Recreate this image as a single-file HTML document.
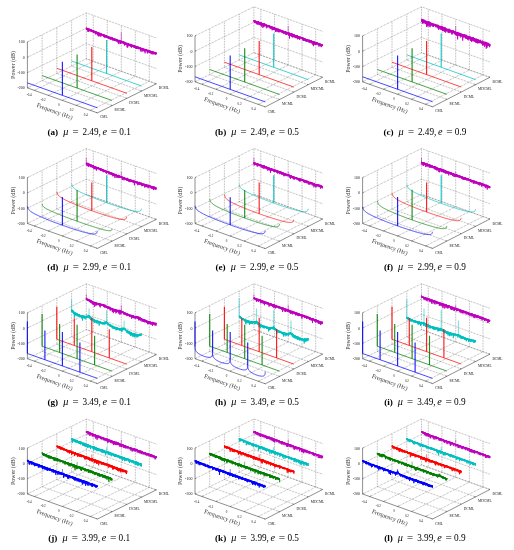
<!DOCTYPE html>
<html><head><meta charset="utf-8"><title>Power spectra</title>
<style>
html,body{margin:0;padding:0;background:#fff;}
svg{display:block;}
.gr{stroke:#6a6a6a;stroke-width:0.6;fill:none;stroke-dasharray:0.7 0.9;}
.ax{stroke:#5e5e5e;stroke-width:0.7;fill:none;}
.dl{fill:none;stroke-width:0.85;stroke-linejoin:round;stroke-opacity:0.85;}
.ds{fill:none;stroke-width:1.15;stroke-opacity:0.88;}
.dsn{fill:none;stroke-width:0.9;stroke-opacity:0.6;}
.dn{fill:none;stroke-width:0.85;stroke-linejoin:round;vector-effect:non-scaling-stroke;}
.tk text{font-family:"Liberation Serif",serif;font-size:4px;fill:#222;}
.tk text.sl{font-size:4.6px;}
.al{font-family:"Liberation Serif",serif;font-size:6px;fill:#333;}
.cap{font-family:"Liberation Serif",serif;font-size:10.2px;fill:#000;}
.eq{font-size:10.5px;}
</style></head><body>
<svg width="514" height="550" viewBox="0 0 514 550">
<defs><filter id="soft" filterUnits="userSpaceOnUse" x="0" y="0" width="514" height="550"><feGaussianBlur stdDeviation="0.3"/></filter></defs>
<rect width="514" height="550" fill="#fff"/>
<g filter="url(#soft)">
<path class="gr" d="M34.4 90.4L93.3 61.3M48.4 95.4L107.3 66.3M62.4 100.4L121.3 71.3M76.4 105.4L135.3 76.3M90.4 110.4L149.3 81.3M42.1 80.6L112.1 105.6M56.8 73.4L126.8 98.3M71.6 66.1L141.6 91M86.3 58.8L156.3 83.8M42.1 80.6L42.1 34.7M56.8 73.4L56.8 27.5M71.6 66.1L71.6 20.2M86.3 58.8L86.3 12.9M27.4 87.9L86.3 58.8M27.4 72.6L86.3 43.5M27.4 57.3L86.3 28.2M27.4 42L86.3 12.9M93.3 61.3L93.3 15.4M107.3 66.3L107.3 20.4M121.3 71.3L121.3 25.4M135.3 76.3L135.3 30.4M149.3 81.3L149.3 35.4M86.3 58.8L156.3 83.8M86.3 43.5L156.3 68.5M86.3 28.2L156.3 53.2M86.3 12.9L156.3 37.9"/>
<path class="ax" d="M27.4 87.9L27.4 42M27.4 87.9L97.4 112.9M97.4 112.9L156.3 83.8M27.4 87.9L28.6 87.3M27.4 72.6L28.6 72M27.4 57.3L28.6 56.7M27.4 42L28.6 41.4M34.4 90.4L35.6 89.8M48.4 95.4L49.6 94.8M62.4 100.4L63.6 99.8M76.4 105.4L77.6 104.8M90.4 110.4L91.6 109.8M97.4 112.9L96.2 112.4M112.1 105.6L110.9 105.1M126.8 98.3L125.6 97.9M141.6 91L140.3 90.6M156.3 83.8L155.1 83.3"/>
<path transform="matrix(0.03891 0.01387 0 -0.153 86.28 28.22)" d="M0 -5 l1 3 1 2 1 -11 1 3 1 13 1 -14 1 3 1 2 1 3 1 -3 1 3 1 1 1 -7 1 8 1 0 1 2 1 1 1 -2 1 -1 1 -3 1 0 1 0 1 1 1 4 1 -4 1 2 1 3 1 -16 1 9 1 3 1 -4 1 7 1 -6 1 -1 1 4 1 -6 1 4 1 -5 1 -3 1 6 1 0 1 4 1 -1 1 4 1 -6 1 -18 1 16 1 0 1 -5 1 -6 1 10 1 9 1 -6 1 2 1 -5 1 -1 1 -4 1 10 1 -1 1 -1 1 3 1 -9 1 4 1 4 1 2 1 -10 1 12 1 -5 1 -14 1 6 1 2 1 8 1 -1 1 5 1 -10 1 1 1 4 1 -1 1 2 1 -5 1 3 1 -5 1 10 1 -13 1 3 1 6 1 -8 1 10 1 -2 1 3 1 -2 1 -2 1 -3 1 7 1 -6 1 3 1 -4 1 6 1 -3 1 3 1 2 1 -13 1 10 1 -2 1 3 1 -2 1 -4 1 -4 1 11 1 -5 1 -2 1 6 1 -7 1 7 1 -3 1 -8 1 1 1 11 1 -3 1 -6 1 4 1 -6 1 2 1 -1 1 10 1 -4 1 -7 1 0 1 2 1 10 1 -1 1 -3 1 -8 1 4 1 3 1 -4 1 0 1 -5 1 13 1 -2 1 2 1 -6 1 0 1 6 1 -5 1 -3 1 5 1 -8 1 5 1 5 1 -4 1 -6 1 9 1 -5 1 5 1 -6 1 3 1 2 1 -1 1 -5 1 -1 1 4 1 7 1 -12 1 5 1 6 1 -13 1 8 1 -3 1 1 1 2 1 -3 1 7 1 -4 1 2 1 -7 1 11 1 -5 1 -10 1 13 1 -1 1 0 1 -4 1 4 1 -2 1 0 1 -9 1 7 1 0 1 2 1 2 1 -3 1 0 1 -2 1 -1 1 2 1 -9 1 8 1 3 1 -1 1 6 1 -10 1 7 1 -3 1 0 1 -2 1 -2 1 4 1 2 1 -3 1 -9 1 3 1 8 1 1 1 -11 1 11 1 0 1 -7 1 7 1 -2 1 1 1 2 1 -9 1 -1 1 10 1 -7 1 3 1 5 1 -3 1 5 1 -15 1 1 1 5 1 4 1 -9 1 -4 1 9 1 0 1 6 1 -6 1 -13 1 9 1 3 1 4 1 1 1 1 1 -3 1 5 1 -8 1 -2 1 5 1 -2 1 5 1 -10 1 7 1 5 1 -5 1 -2 1 -2 1 9 1 -5 1 4 1 0 1 0 1 -11 1 2 1 7 1 -5 1 0 1 5 1 -2 1 -2 1 0 1 -1 1 -5 1 13 1 -3 1 -6 1 1 1 4 1 -1 1 -8 1 -6 1 13 1 4 1 -3 1 1 1 0 1 -1 1 -1 1 1 1 -4 1 1 1 -2 1 -4 1 12 1 -5 1 -14 1 14 1 4 1 -6 1 0 1 6 1 -9 1 -11 1 22 1 -9 1 5 1 0 1 -5 1 -5 1 2 1 13 1 -7 1 -13 1 14 1 2 1 -2 1 2 1 3 1 -3 1 -5 1 2 1 -19 1 21 1 0 1 1 1 -12 1 13 1 -1 1 3 1 -6 1 2 1 3 1 -6 1 -2 1 10 1 -3 1 -1 1 -1 1 0 1 -2 1 -11 1 12 1 2 1 3 1 -9 1 0 1 5 1 -8 1 10 1 -9 1 6 1 4 1 -6 1 -2 1 5 1 2 1 -2 1 -12 1 9 1 -11 1 15 1 -11 1 14 1 -5 1 -3 1 6 1 -2 1 0 1 -12 1 12 1 -18 1 12 1 8 1 -1 1 -3 1 -4 1 7 1 -11 1 12 1 -1 1 -5 1 5 1 -2 1 3 1 -4 1 -3 1 9 1 1 1 -2 1 -8 1 7 1 -3 1 -2 1 4 1 -6 1 -1 1 2 1 4 1 0 1 -5 1 5 1 1 1 -6 1 4 1 -6 1 4 1 4 1 3 1 -3 1 -5 1 4 1 -3 1 -4 1 9 1 0 1 -2 1 -4 1 2 1 2 1 -2 1 2 1 1 1 -4 1 3 1 -5 1 4 1 -1 1 4 1 -7 1 0 1 4 1 -1 1 4 1 -3 1 -2 1 7 1 -7 1 2 1 2 1 -1 1 2 1 -4 1 2 1 -12 1 13 1 -5 1 9 1 -14 1 12 1 1 1 -7 1 -3 1 1 1 -3 1 2 1 1 1 -8 1 14 1 -4 1 0 1 1 1 5 1 -2 1 -4 1 1 1 -3 1 -2 1 2 1 5 1 -3 1 -4 1 2 1 3 1 1 1 -13 1 -2 1 6 1 8 1 -4 1 8 1 -1 1 -7 1 10 1 -10 1 4 1 3 1 -3 1 -5 1 0 1 -3 1 7 1 3 1 4 1 -4 1 -2 1 6 1 -5 1 2 1 -4 1 -1 1 3 1 -3 1 5 1 -2 1 -11 1 12 1 5 1 -7 1 5 1 -6 1 6 1 -5 1 -1 1 -1 1 6 1 -7 1 5 1 2 1 -3 1 1 1 3 1 -13 1 3 1 0 1 6 1 -1 1 1 1 -8 1 6 1 4 1 -2 1 0 1 -4 1 2 1 0 1 -1 1 4 1 -2 1 -8 1 8 1 3 1 -9 1 6 1 -5 1 8 1 -2 1 -3 1 2 1 3 1 -5 1 6 1 1 1 -4 1 -4 1 1 1 5 1 -2 1 -5 1 1 1 -4 1 -3 1 6 1 3 1 0 1 4 1 0 1 1 1 -8 1 8 1 -4 1 -9 1 6 1 2 1 2 1 2 1 -2 1 -11 1 13 1 -15 1 8 1 4 1 -8 1 11 1 -7 1 2 1 1 1 -2 1 -7 1 5 1 1 1 6 1 -8 1 -3 1 4 1 4 1 3 1 -5 1 3 1 -2 1 -4 1 4 1 1 1 -9 1 7 1 6 1 -8 1 -6 1 4 1 3 1 -1 1 10 1 -15 1 3 1 7 1 -1 1 0 1 -2 1 -2 1 4 1 -3 1 6 1 -2 1 -3 1 2 1 1 1 2 1 -7 1 1 1 -4 1 -6 1 16 1 -1 1 -2 1 2 1 0 1 -6 1 8 1 4 1 -4 1 -1 1 -7 1 9 1 -11 1 6 1 -5 1 7 1 -3 1 -1 1 2 1 4 1 -4 1 -3 1 1 1 -1 1 6 1 -1 1 0 1 -1 1 6 1 -7 1 -8 1 8 1 2 1 6 1 -14 1 7 1 0 1 -4 1 -2 1 4 1 -11 1 5 1 9 1 2 1 -1 1 -1 1 -8 1 8 1 -8 1 7 1 -4 1 3 1 -5 1 3 1 4 1 -2 1 4 1 -7 1 3 1 -6 1 5 1 5 1 0 1 -12 1 8 1 5 1 -4 1 2 1 -12 1 8 1 6 1 -8 1 -3 1 6 1 -1 1 -3 1 2 1 4 1 3 1 -14 1 8 1 0 1 2 1 1 1 -3 1 4 1 -8 1 7 1 2 1 0 1 -9 1 7 1 -3 1 -6 1 8 1 -10 1 5 1 0 1 7 1 -1 1 0 1 4 1 -12 1 6 1 -7 1 10 1 -10 1 3 1 3 1 2 1 -2 1 0 1 4 1 -5 1 3 1 -4 1 0 1 2 1 -1 1 -2 1 -5 1 15 1 -5 1 -1 1 -8 1 13 1 -8 1 3 1 0 1 4 1 -5 1 6 1 -6 1 4 1 -7 1 6 1 0 1 -3 1 1 1 -10 1 13 1 -2 1 -2 1 -1 1 6 1 -8 1 1 1 0 1 1 1 -2 1 -1 1 9 1 -2 1 -9 1 13 1 -4 1 2 1 -3 1 -3 1 0 1 2 1 0 1 -1 1 3 1 -2 1 -4 1 2 1 -3 1 5 1 5 1 -4 1 -4 1 0 1 0 1 -9 1 15 1 1 1 -5 1 -2 1 0 1 4 1 -4 1 5 1 0 1 1 1 -1 1 -4 1 -3 1 -8 1 16 1 -3 1 4 1 -1 1 2 1 -2 1 -13 1 5 1 4 1 2 1 2 1 -6 1 -18 1 24 1 -3 1 -5 1 7 1 -7 1 2 1 0 1 4 1 0 1 1 1 1 1 -2 1 -2 1 2 1 2 1 -5 1 2 1 5 1 -1 1 -5 1 2 1 -4 1 2 1 6 1 -2 1 -7 1 8 1 -3 1 -3 1 8 1 -9 1 -5 1 -7 1 15 1 5 1 -2 1 -9 1 11 1 -2 1 -2 1 0 1 -5 1 4 1 -17 1 6 1 14 1 -14 1 14 1 -4 1 2 1 -5 1 1 1 -4 1 8 1 5 1 -4 1 2 1 -8 1 3 1 -4 1 6 1 1 1 -5 1 4 1 -7 1 4 1 -6 1 8 1 4 1 -3 1 -8 1 -1 1 9 1 2 1 -7 1 -1 1 -2 1 9 1 -2 1 -7 1 8 1 -7 1 10 1 -8 1 3 1 1 1 0 1 -11 1 8 1 1 1 4 1 -5 1 2 1 1 1 0 1 1 1 -3 1 6 1 -5 1 2 1 0 1 2 1 -2 1 0 1 6 1 -4 1 -3 1 0 1 -1 1 3 1 -4 1 3 1 1 1 0 1 -5 1 7 1 1 1 -1 1 -9 1 13 1 -11 1 -2 1 2 1 4 1 -4 1 4 1 -2 1 4 1 -2 1 2 1 -7 1 -2 1 6 1 4 1 -2 1 2 1 -12 1 9 1 -2 1 6 1 2 1 -13 1 -6 1 14 1 -1 1 2 1 -3 1 6 1 -23 1 7 1 11 1 0 1 -1 1 2 1 -2 1 3 1 -4 1 -1 1 1 1 2 1 -4 1 1 1 0 1 2 1 4 1 -4 1 -4 1 6 1 3 1 -5 1 2 1 -2 1 -6 1 0 1 7 1 -2 1 -2 1 -7 1 11 1 -5 1 5 1 -3 1 -3 1 2 1 10 1 -11 1 1 1 5 1 1 1 -4 1 4 1 -4 1 -1 1 3 1 -2 1 -6 1 5 1 -3 1 2 1 2 1 0 1 3 1 2 1 -3 1 1 1 -1 1 -2 1 6 1 -3 1 -6 1 -1 1 -4 1 10 1 2 1 -26 1 25 1 1 1 -12 1 6 1 -4 1 7 1 -1 1 1 1 -5 1 -1 1 9 1 -13 1 5 1 -1 1 -17 1 23 1 -1 1 1 1 5 1 -2 1 -4 1 -13 1 12 1 5 1 -3 1 0 1 -3 1 2 1 -8 1 5 1 6 1 -4 1 7 1 -4 1 -1 1 1 1 -6 1 2 1 1 1 1 1 5 1 -13 1 7 1 3 1 -5 1 9 1 -6 1 4 1 -4 1 3 1 3 1 -5 1 -1 1 2 1 0 1 -3 1 5 1 0 1 -4 1 -4 1 3 1 7 1 -1 1 -4 1 -1 1 3 1 1 1 -10 1 10 1 -3 1 2 1 -6 1 -3 1 5 1 2 1 2 1 1 1 -3 1 3 1 0 1 -6 1 -8 1 17 1 -1 1 0 1 -2 1 1 1 -5 1 6 1 -4 1 2 1 0 1 -8 1 0 1 8 1 -3 1 2 1 -2 1 3 1 -14 1 16 1 -4 1 3 1 2 1 1 1 -10 1 -1 1 6 1 0 1 -10 1 -8 1 14 1 4 1 -11 1 13 1 -5 1 3 1 0 1 -3 1 0 1 1 1 1 1 5 1 -1 1 -5 1 -3 1 -5 1 6 1 4 1 -11 1 9 1 -5 1 4 1 -1 1 3 1 -3 1 6 1 -9 1 -2 1 5 1 -4 1 8 1 5 1 -9 1 5 1 -7 1 8 1 -2 1 0 1 -3 1 1 1 3 1 -2 1 -4 1 5 1 -4 1 5 1 1 1 -5 1 3 1 -4 1 5 1 0 1 1 1 0 1 -1 1 2 1 -13 1 12 1 -8 1 9 1 -3 1 1 1 -2 1 -6 1 8 1 0 1 0 1 -8 1 8 1 3 1 -5 1 -9 1 5 1 3 1 -10 1 13 1 -6 1 9 1 -6 1 5 1 -1 1 -7 1 0 1 6 1 -3 1 -2 1 -3 1 6 1 -3 1 7 1 -5 1 5 1 -12 1 9 1 -3 1 7 1 -14 1 14 1 -6 1 -6 1 11 1 -9 1 5 1 1 1 -4 1 6 1 -8 1 -1 1 2 1 3 1 -1 1 6 1 -4 1 -13 1 12 1 -5 1 9 1 -1 1 1 1 -2 1 4 1 -6 1 1 1 0 1 -8 1 9 1 2 1 -12 1 10 1 -3 1 6 1 -16 1 9 1 0 1 3 1 -3 1 9 1 -11 1 -5 1 9 1 6 1 -6 1 6 1 -10 1 4 1 -4 1 3 1 0 1 7 1 -7 1 -2 1 5 1 -5 1 -5 1 10 1 4 1 -5 1 3 1 -2 1 2 1 -3 1 3 1 -4 1 -4 1 6 1 2 1 -4 1 5 1 -2 1 2 1 -10 1 2 1 5 1 -3 1 6 1 -2 1 3 1 -4 1 0 1 6 1 -4 1 -4 1 4 1 1 1 -3 1 0 1 -7 1 9 1 -12 1 13 1 -5 1 -3 1 5 1 1 1 0 1 2 1 -5 1 -6 1 11 1 -12 1 9 1 -6 1 6 1 3 1 -7 1 8 1 -8 1 1 1 -4 1 7 1 0 1 -4 1 3 1 1 1 3 1 -1 1 -6 1 -1 1 6 1 -7 1 0 1 7 1 -6 1 3 1 1 1 -1 1 4 1 -2 1 2 1 -7 1 2 1 4 1 -17 1 13 1 8 1 -7 1 -1 1 7 1 -2 1 2 1 -3 1 -9 1 9 1 -8 1 10 1 -5 1 -1 1 -8 1 -10 1 21 1 2 1 -3 1 4 1 -4 1 -2 1 4 1 -4 1 2 1 -2 1 2 1 5 1 -4 1 -3 1 6 1 -3 1 -4 1 4 1 2 1 -3 1 4 1 -1 1 -6 1 3 1 7 1 -5 1 -3 1 -1 1 -3 1 6 1 -12 1 11 1 2 1 0 1 1 1 -8 1 7 1 1 1 1 1 -6 1 6 1 -5 1 -14 1 20 1 -2 1 1 1 -13 1 8 1 4 1 0 1 1 1 -3 1 2 1 -5 1 1 1 5 1 -4 1 2 1 1 1 1 1 -1 1 -2 1 -7 1 11 1 -6 1 -1 1 1 1 5 1 1 1 -7 1 1 1 6 1 -4 1 -3 1 -3 1 7 1 -2 1 3 1 -7 1 4 1 2 1 0 1 -2 1 -12 1 16 1 -3 1 0 1 -6 1 7 1 5 1 -7 1 6 1 -9 1 2 1 2 1 3 1 1 1 -4 1 1 1 -5 1 8 1 -6 1 6 1 -26 1 22 1 4 1 -3 1 3 1 -4 1 0 1 2 1 -1 1 -3 1 1 1 4 1 -7 1 10 1 -4 1 -4 1 5 1 -4 1 3 1 1 1 -5 1 3 1 4 1 -3 1 3 1 -9 1 3 1 3 1 2 1 -3 1 4 1 -3 1 3 1 -2 1 -5 1 2 1 2 1 -2 1 -4 1 5 1 3 1 -6 1 2 1 0 1 -3 1 1 1 0 1 6 1 1 1 -3 1 -13 1 6 1 10 1 -5 1 1 1 -1 1 -2 1 8 1 -1 1 -1 1 -21 1 22 1 0 1 -9 1 4 1 -6 1 3 1 4 1 -4 1 -6 1 12 1 -1 1 0 1 4 1 -4 1 -3 1 5 1 -3 1 1 1 -5 1 11 1 -5 1 -2 1 0 1 -7 1 7 1 2 1 0 1 3 1 -6 1 2 1 -2 1 3 1 -10 1 5 1 6 1 1 1 -7 1 5 1 -1 1 -2 1 -1 1 3 1 -4 1 -8 1 15 1 -2 1 -3 1 -4 1 9 1 -3 1 -9 1 11 1 2 1 -5 1 2 1 -1 1 1 1 2 1 -3 1 2 1 0 1 3 1 0 1 -13 1 -1 1 5 1 0 1 3 1 5 1 -10 1 -1 1 5 1 -5 1 -3 1 13 1 -4 1 2 1 -4 1 -7 1 15 1 -12 1 4 1 6 1 -5 1 1 1 0 1 1 1 2 1 -3 1 -10 1 -5 1 15 1 5 1 -6 1 -2 1 3 1 1 1 3 1 -3 1 2 1 -2 1 -1 1 -7 1 12 1 -11 1 9 1 1 1 -8 1 5 1 -3 1 -1 1 8 1 -1 1 -9 1 9 1 -4 1 -12 1 16 1 -1 1 1 1 -2 1 -6 1 3 1 7 1 -6 1 -11 1 6 1 8 1 -7 1 10 1 -17 1 9 1 -2 1 8 1 -9 1 13 1 -9 1 6 1 -3 1 -2 1 -3 1 2 1 7 1 -9 1 -7 1 14 1 2 1 -2 1 0 1 -2 1 -2 1 -6 1 12 1 -5 1 3 1 -2 1 -11 1 11 1 1 1 1 1 -4 1 3 1 4 1 -5 1 3 1 2 1 -1 1 -6 1 2 1 2 1 3 1 -10 1 10 1 -4 1 0 1 4 1 -5 1 0 1 0 1 2 1 -4 1 -2 1 7 1 1 1 -3 1 2 1 -1 1 -7 1 5 1 2 1 2 1 -3 1 3 1 -2 1 -2 1 -9 1 5 1 -4 1 8 1 -5 1 10 1 -8 1 10 1 -9 1 -4 1 1 1 4 1 4 1 -1 1 -5 1 0 1 -6 1 7 1 -1 1 -1 1 6 1 0 1 3 1 -9 1 8 1 -3 1 5 1 -11 1 9 1 -1 1 -6" stroke="#bf00bf" class="dn"/><path d="M121.3 41.9L121.3 32.3" stroke="#bf00bf" class="dsn"/>
<path d="M71.6 61L141.6 86" stroke="#00bfbf" class="dl"/><path d="M106.6 73.5L106.6 39.9" stroke="#00bfbf" class="ds"/>
<path d="M56.8 68.3L126.8 93.3" stroke="#ff0000" class="dl"/><path d="M91.8 80.8L91.8 47.1" stroke="#ff0000" class="ds"/>
<path d="M42.1 75.6L112.1 100.5" stroke="#008000" class="dl"/><path d="M77.1 88.1L77.1 54.4" stroke="#008000" class="ds"/>
<path d="M27.4 82.9L97.4 107.8" stroke="#0000ff" class="dl"/><path d="M62.4 95.3L62.4 61.7" stroke="#0000ff" class="ds"/>
<g class="tk"><text x="24.8" y="89.3" text-anchor="end">-200</text><text x="24.8" y="74" text-anchor="end">-100</text><text x="24.8" y="58.7" text-anchor="end">0</text><text x="24.8" y="43.4" text-anchor="end">100</text><text transform="translate(31.7 96.4) scale(0.8 1)" text-anchor="end">-0.4</text><text transform="translate(45.7 101.39) scale(0.8 1)" text-anchor="end">-0.2</text><text transform="translate(59.7 106.38) scale(0.8 1)" text-anchor="end">0</text><text transform="translate(73.7 111.37) scale(0.8 1)" text-anchor="end">0.2</text><text transform="translate(87.7 116.36) scale(0.8 1)" text-anchor="end">0.4</text><text class="sl" transform="translate(99.9 118.45) scale(0.78 1)">CML</text><text class="sl" transform="translate(114.62 111.18) scale(0.78 1)">MCML</text><text class="sl" transform="translate(129.34 103.91) scale(0.78 1)">DCML</text><text class="sl" transform="translate(144.06 96.64) scale(0.78 1)">MDCML</text><text class="sl" transform="translate(158.78 89.37) scale(0.78 1)">BCML</text></g>
<text class="al" transform="translate(14.8 65) rotate(-90)" text-anchor="middle">Power (dB)</text>
<text class="al" transform="translate(54 113.2) rotate(19.7)" text-anchor="middle">Frequency (Hz)</text>
<text class="cap" y="134.5"><tspan x="47.44" font-weight="bold" font-size="9.2">(a)</tspan><tspan x="63.16" font-style="italic">μ</tspan><tspan x="72.46" class="eq" textLength="6.1" lengthAdjust="spacingAndGlyphs">=</tspan><tspan x="82.46" textLength="18.4" lengthAdjust="spacingAndGlyphs">2.49,</tspan><tspan x="102.46" font-style="italic">e</tspan><tspan x="110.76" class="eq" textLength="6.4" lengthAdjust="spacingAndGlyphs">=</tspan><tspan x="119.36" textLength="11.6" lengthAdjust="spacingAndGlyphs">0.1</tspan></text>
<path class="gr" d="M202 84.3L260.8 55.2M216.1 89.3L274.5 60.1M230.2 94.3L288.2 65M244.2 99.4L302 69.9M258.3 104.4L315.7 74.9M209.7 74.5L279.6 99.5M224.4 67.3L293.9 92.1M239.2 60L308.3 84.7M253.9 52.7L322.6 77.3M209.7 74.5L209.7 28.6M224.4 67.3L224.4 21.4M239.2 60L239.2 14.1M253.9 52.7L253.9 6.8M195 81.8L253.9 52.7M195 66.5L253.9 37.4M195 51.2L253.9 22.1M195 35.9L253.9 6.8M260.8 55.2L260.8 9.3M274.5 60.1L274.5 14.2M288.2 65L288.2 19.1M302 69.9L302 24M315.7 74.9L315.7 29M253.9 52.7L322.6 77.3M253.9 37.4L322.6 62M253.9 22.1L322.6 46.7M253.9 6.8L322.6 31.4"/>
<path class="ax" d="M195 81.8L195 35.9M195 81.8L265.3 106.9M265.3 106.9L322.6 77.3M195 81.8L196.2 81.2M195 66.5L196.2 65.9M195 51.2L196.2 50.6M195 35.9L196.2 35.3M202 84.3L203.2 83.7M216.1 89.3L217.3 88.8M230.2 94.3L231.3 93.8M244.2 99.4L245.4 98.8M258.3 104.4L259.4 103.8M265.3 106.9L264.1 106.5M279.6 99.5L278.4 99.1M293.9 92.1L292.7 91.7M308.3 84.7L307 84.3M322.6 77.3L321.4 76.9"/>
<path transform="matrix(0.03819 0.01367 0 -0.153 253.88 22.12)" d="M0 13 l1 -6 1 2 1 -4 1 6 1 1 1 -7 1 5 1 -4 1 6 1 2 1 -2 1 -14 1 8 1 4 1 -3 1 7 1 -9 1 3 1 -10 1 11 1 -1 1 -4 1 8 1 -7 1 6 1 -1 1 -13 1 9 1 5 1 -10 1 0 1 6 1 -2 1 6 1 -1 1 -2 1 2 1 -4 1 8 1 -2 1 0 1 -6 1 1 1 3 1 -4 1 -6 1 7 1 1 1 4 1 0 1 -1 1 -3 1 4 1 0 1 -4 1 0 1 -5 1 6 1 -1 1 -2 1 -11 1 12 1 -9 1 11 1 3 1 -1 1 -7 1 10 1 -10 1 6 1 -2 1 -1 1 5 1 -7 1 2 1 -15 1 15 1 5 1 -1 1 3 1 -12 1 7 1 2 1 1 1 -5 1 3 1 -1 1 5 1 -12 1 10 1 -8 1 -2 1 5 1 -2 1 9 1 -12 1 6 1 -15 1 13 1 -4 1 10 1 0 1 3 1 -17 1 17 1 -1 1 -9 1 8 1 -11 1 5 1 0 1 4 1 -5 1 -9 1 7 1 9 1 -4 1 -3 1 -2 1 3 1 -4 1 9 1 1 1 -4 1 -5 1 6 1 3 1 -3 1 0 1 -1 1 6 1 -6 1 -14 1 14 1 -2 1 -7 1 5 1 -4 1 10 1 0 1 1 1 -19 1 19 1 -16 1 8 1 9 1 -5 1 0 1 -2 1 6 1 -3 1 2 1 -15 1 13 1 4 1 -5 1 0 1 1 1 -3 1 7 1 0 1 -7 1 -2 1 1 1 3 1 -2 1 -5 1 4 1 5 1 3 1 -3 1 -8 1 -3 1 1 1 5 1 -5 1 10 1 2 1 -1 1 -13 1 2 1 12 1 -1 1 -19 1 1 1 18 1 0 1 -5 1 -1 1 2 1 3 1 -8 1 2 1 -3 1 12 1 -4 1 5 1 -6 1 8 1 -28 1 19 1 -4 1 -1 1 8 1 1 1 -4 1 4 1 -4 1 3 1 2 1 1 1 -9 1 3 1 -6 1 7 1 -4 1 2 1 1 1 1 1 -3 1 -2 1 8 1 -5 1 2 1 -1 1 4 1 -10 1 6 1 3 1 -8 1 6 1 -2 1 7 1 -29 1 23 1 -4 1 5 1 3 1 -5 1 4 1 -5 1 1 1 -6 1 3 1 -1 1 4 1 5 1 -8 1 7 1 0 1 1 1 -21 1 14 1 6 1 0 1 -9 1 7 1 8 1 -12 1 10 1 -11 1 10 1 -13 1 10 1 -3 1 3 1 0 1 -2 1 1 1 5 1 -5 1 -1 1 -3 1 8 1 -11 1 13 1 -10 1 7 1 -16 1 6 1 3 1 9 1 -5 1 5 1 -9 1 4 1 6 1 -5 1 -5 1 2 1 -2 1 4 1 5 1 -3 1 -1 1 3 1 -11 1 12 1 -3 1 -7 1 3 1 1 1 -2 1 6 1 -6 1 1 1 6 1 -9 1 9 1 0 1 -10 1 5 1 -4 1 -1 1 11 1 -8 1 7 1 -6 1 -4 1 1 1 4 1 0 1 -8 1 2 1 1 1 7 1 -21 1 17 1 4 1 0 1 0 1 3 1 -1 1 -8 1 1 1 4 1 3 1 -5 1 -2 1 2 1 -9 1 12 1 0 1 1 1 -6 1 5 1 -3 1 0 1 -2 1 -2 1 6 1 4 1 -15 1 10 1 3 1 0 1 -3 1 -1 1 -3 1 9 1 -10 1 8 1 0 1 -11 1 14 1 -4 1 1 1 -4 1 2 1 -10 1 8 1 2 1 -6 1 4 1 -4 1 9 1 -3 1 -2 1 -2 1 7 1 -3 1 1 1 2 1 1 1 -6 1 3 1 5 1 -6 1 -3 1 -3 1 9 1 -9 1 7 1 -2 1 4 1 -2 1 -1 1 -6 1 4 1 6 1 -1 1 0 1 2 1 -3 1 -5 1 -3 1 4 1 -5 1 10 1 1 1 -3 1 -3 1 3 1 0 1 4 1 -12 1 9 1 -3 1 1 1 1 1 0 1 -7 1 -7 1 2 1 10 1 1 1 -2 1 -1 1 -4 1 4 1 4 1 4 1 -3 1 -3 1 -2 1 5 1 -3 1 -9 1 11 1 -10 1 8 1 -1 1 -3 1 7 1 -14 1 7 1 6 1 0 1 -6 1 4 1 -1 1 6 1 -14 1 9 1 -2 1 5 1 1 1 -3 1 0 1 1 1 -10 1 -2 1 10 1 -5 1 6 1 2 1 -4 1 -2 1 -4 1 4 1 6 1 -5 1 1 1 -1 1 4 1 -1 1 0 1 -20 1 13 1 -1 1 3 1 5 1 1 1 -7 1 12 1 -6 1 -7 1 8 1 1 1 -6 1 -6 1 10 1 1 1 -3 1 1 1 -5 1 -8 1 14 1 -6 1 8 1 -3 1 1 1 -15 1 12 1 6 1 -11 1 5 1 -9 1 15 1 3 1 -7 1 -2 1 1 1 6 1 1 1 -5 1 -8 1 -4 1 2 1 10 1 3 1 1 1 -9 1 7 1 0 1 2 1 -1 1 -4 1 -3 1 8 1 -8 1 -8 1 15 1 -9 1 2 1 5 1 -6 1 8 1 -4 1 2 1 -2 1 -5 1 8 1 -7 1 7 1 1 1 -7 1 8 1 -4 1 -2 1 -2 1 4 1 -5 1 -1 1 2 1 5 1 -14 1 15 1 2 1 -6 1 4 1 -5 1 5 1 -5 1 6 1 -5 1 0 1 -1 1 -19 1 15 1 -3 1 -3 1 12 1 -8 1 9 1 -4 1 7 1 -13 1 6 1 4 1 2 1 -20 1 23 1 -11 1 7 1 -2 1 3 1 -3 1 0 1 -4 1 -4 1 13 1 -2 1 -4 1 -4 1 4 1 2 1 -3 1 2 1 -1 1 3 1 3 1 -14 1 4 1 0 1 1 1 6 1 -7 1 -13 1 18 1 1 1 3 1 -3 1 -2 1 -3 1 -2 1 -1 1 -1 1 8 1 4 1 -4 1 2 1 1 1 -3 1 -4 1 7 1 -12 1 8 1 -6 1 6 1 -3 1 4 1 -2 1 -3 1 4 1 -3 1 4 1 -13 1 16 1 -15 1 13 1 -18 1 24 1 -10 1 4 1 -7 1 4 1 -4 1 10 1 -7 1 0 1 4 1 -8 1 10 1 -6 1 -4 1 0 1 9 1 -7 1 -7 1 10 1 -1 1 1 1 -3 1 5 1 -15 1 6 1 10 1 3 1 -8 1 -4 1 13 1 -11 1 -5 1 14 1 -3 1 -1 1 -1 1 0 1 4 1 5 1 -10 1 -2 1 7 1 -2 1 -8 1 3 1 0 1 7 1 -6 1 3 1 0 1 -2 1 0 1 3 1 -1 1 4 1 -1 1 -12 1 1 1 10 1 3 1 -6 1 -2 1 4 1 5 1 -7 1 -2 1 -2 1 4 1 6 1 -5 1 5 1 -2 1 -13 1 12 1 -1 1 1 1 2 1 -1 1 -7 1 5 1 1 1 -3 1 4 1 -5 1 2 1 0 1 -2 1 4 1 -3 1 1 1 -4 1 6 1 -1 1 2 1 -14 1 8 1 7 1 -3 1 -3 1 4 1 -5 1 1 1 3 1 -1 1 -12 1 16 1 -7 1 0 1 3 1 3 1 -2 1 2 1 -1 1 -2 1 4 1 -4 1 -10 1 4 1 -1 1 11 1 -9 1 -2 1 9 1 1 1 -2 1 2 1 -2 1 3 1 -5 1 7 1 -13 1 -2 1 7 1 5 1 -5 1 6 1 -11 1 -3 1 8 1 4 1 -2 1 -15 1 14 1 -2 1 7 1 -1 1 -7 1 9 1 -13 1 11 1 -10 1 10 1 -13 1 10 1 1 1 -7 1 7 1 -4 1 8 1 -8 1 3 1 1 1 3 1 -11 1 7 1 -2 1 -4 1 4 1 1 1 4 1 0 1 -7 1 10 1 -15 1 8 1 -3 1 3 1 1 1 0 1 -4 1 -4 1 13 1 -6 1 -2 1 6 1 -4 1 3 1 -9 1 0 1 6 1 9 1 -4 1 1 1 -7 1 -8 1 5 1 3 1 2 1 -9 1 -7 1 12 1 1 1 6 1 -16 1 12 1 4 1 3 1 -15 1 3 1 8 1 -2 1 -3 1 -9 1 7 1 -6 1 8 1 3 1 -3 1 8 1 -3 1 -6 1 7 1 -2 1 -1 1 3 1 -8 1 8 1 -2 1 -2 1 0 1 4 1 -5 1 5 1 2 1 -10 1 6 1 1 1 -5 1 4 1 3 1 -1 1 -1 1 -7 1 9 1 -7 1 3 1 -3 1 4 1 1 1 -7 1 5 1 3 1 1 1 -9 1 2 1 -1 1 -4 1 10 1 -11 1 6 1 9 1 -2 1 -10 1 3 1 -1 1 -10 1 18 1 0 1 -4 1 -4 1 -9 1 18 1 -3 1 -4 1 9 1 -9 1 4 1 -8 1 11 1 -2 1 -2 1 -4 1 10 1 -9 1 3 1 -3 1 2 1 0 1 2 1 -10 1 -23 1 31 1 -7 1 11 1 0 1 -4 1 3 1 -2 1 1 1 -8 1 0 1 0 1 5 1 5 1 -4 1 -10 1 13 1 2 1 -15 1 13 1 -14 1 14 1 3 1 -5 1 -5 1 8 1 -5 1 -1 1 3 1 0 1 -1 1 2 1 1 1 -3 1 -6 1 -2 1 7 1 -1 1 7 1 -8 1 1 1 10 1 -4 1 -2 1 -5 1 8 1 -3 1 -16 1 16 1 3 1 3 1 -13 1 4 1 3 1 3 1 -8 1 -3 1 -2 1 -5 1 12 1 -5 1 8 1 -3 1 2 1 5 1 -10 1 -2 1 14 1 -7 1 1 1 -4 1 6 1 -3 1 1 1 -15 1 6 1 1 1 5 1 4 1 -1 1 4 1 -2 1 -4 1 -5 1 12 1 -2 1 -21 1 -2 1 19 1 1 1 1 1 -10 1 6 1 5 1 -14 1 4 1 12 1 -3 1 -7 1 -2 1 4 1 4 1 4 1 -4 1 -9 1 10 1 -3 1 1 1 -5 1 0 1 -4 1 11 1 1 1 -7 1 6 1 -2 1 2 1 -2 1 1 1 -12 1 11 1 3 1 5 1 -8 1 -3 1 1 1 -2 1 8 1 -8 1 5 1 -3 1 2 1 0 1 -2 1 2 1 4 1 -5 1 -1 1 -5 1 4 1 -2 1 2 1 -10 1 11 1 4 1 -14 1 8 1 6 1 -2 1 1 1 -12 1 11 1 0 1 0 1 2 1 -3 1 -8 1 14 1 -8 1 5 1 -9 1 7 1 -9 1 1 1 2 1 3 1 -2 1 3 1 -10 1 -3 1 13 1 5 1 -3 1 -1 1 5 1 -9 1 8 1 -7 1 -4 1 -2 1 4 1 6 1 2 1 -4 1 -1 1 3 1 -3 1 -7 1 14 1 -6 1 0 1 1 1 1 1 1 1 -7 1 2 1 1 1 8 1 -6 1 -4 1 5 1 7 1 -20 1 19 1 -7 1 5 1 -3 1 -5 1 2 1 -1 1 -7 1 12 1 0 1 3 1 -23 1 12 1 -1 1 6 1 4 1 -6 1 2 1 1 1 4 1 -2 1 -13 1 5 1 2 1 4 1 0 1 -4 1 1 1 -9 1 16 1 -7 1 2 1 1 1 1 1 -1 1 -1 1 2 1 -14 1 18 1 -16 1 11 1 -4 1 8 1 -13 1 5 1 -5 1 2 1 7 1 3 1 -1 1 -1 1 -4 1 -8 1 11 1 1 1 1 1 -4 1 3 1 -5 1 -1 1 -13 1 2 1 17 1 -2 1 -7 1 7 1 -2 1 7 1 -8 1 10 1 -4 1 -2 1 -2 1 4 1 3 1 -11 1 1 1 4 1 2 1 0 1 -4 1 5 1 -1 1 -4 1 3 1 -2 1 0 1 6 1 1 1 -7 1 3 1 -1 1 0 1 5 1 -4 1 -5 1 3 1 4 1 -4 1 3 1 2 1 -6 1 3 1 -1 1 1 1 -8 1 6 1 3 1 -7 1 0 1 7 1 -4 1 7 1 -11 1 1 1 7 1 -3 1 6 1 -4 1 1 1 -2 1 1 1 -4 1 8 1 -6 1 6 1 -2 1 -8 1 5 1 2 1 -7 1 6 1 -2 1 6 1 -6 1 -4 1 6 1 1 1 -12 1 9 1 -2 1 3 1 3 1 -3 1 -6 1 8 1 -15 1 17 1 -3 1 -1 1 0 1 -2 1 5 1 -10 1 7 1 -7 1 7 1 -3 1 1 1 4 1 -7 1 12 1 -6 1 -15 1 14 1 -5 1 -6 1 4 1 7 1 -3 1 -1 1 1 1 1 1 1 1 -1 1 4 1 -3 1 -3 1 6 1 -15 1 12 1 1 1 1 1 -3 1 -1 1 4 1 -3 1 -1 1 7 1 -10 1 10 1 -10 1 -6 1 14 1 -5 1 2 1 2 1 2 1 -3 1 0 1 2 1 -2 1 -3 1 -3 1 2 1 -3 1 11 1 -5 1 -1 1 2 1 0 1 -11 1 10 1 4 1 -4 1 5 1 -13 1 5 1 6 1 -6 1 1 1 6 1 -1 1 -3 1 -1 1 5 1 -1 1 -5 1 3 1 -1 1 -10 1 10 1 2 1 -8 1 -8 1 13 1 0 1 -8 1 9 1 1 1 -1 1 -1 1 6 1 -3 1 -7 1 9 1 0 1 -8 1 -5 1 9 1 -2 1 7 1 -5 1 3 1 1 1 1 1 -10 1 11 1 -3 1 2 1 -13 1 5 1 1 1 2 1 5 1 -5 1 1 1 -6 1 10 1 -10 1 7 1 1 1 -8 1 0 1 0 1 2 1 2 1 4 1 -3 1 -6 1 9 1 -1 1 -3 1 6 1 -3 1 -2 1 1 1 -3 1 -3 1 -6 1 8 1 4 1 0 1 -11 1 12 1 -10 1 10 1 -7 1 6 1 -3 1 -1 1 5 1 1 1 4 1 -6 1 -2 1 -4 1 7 1 5 1 -8 1 -5 1 -3 1 9 1 5 1 -9 1 3 1 0 1 -2 1 3 1 0 1 4 1 3 1 -9 1 6 1 -15 1 5 1 5 1 0 1 -3 1 10 1 -8 1 -6 1 10 1 0 1 -6 1 7 1 -2 1 4 1 0 1 1 1 -5 1 -5 1 9 1 -5 1 4 1 2 1 -4 1 2 1 -7 1 1 1 -6 1 7 1 3 1 -7 1 9 1 -7 1 4 1 3 1 -1 1 0 1 2 1 -2 1 -4 1 10 1 -7 1 -7 1 5 1 -1 1 5 1 -16 1 19 1 0 1 -7 1 4 1 -3 1 -1 1 0 1 2 1 3 1 -2 1 -1 1 2 1 -5 1 1 1 4 1 -2 1 -9 1 14 1 -14 1 9 1 -1 1 -5 1 9 1 -2 1 -10 1 8 1 5 1 -10 1 9 1 -6 1 0 1 5 1 -5 1 5 1 -5 1 6 1 -11 1 9 1 -19 1 16 1 3 1 -4 1 3 1 -6 1 2 1 1 1 -15 1 15 1 -5 1 7 1 2 1 3 1 -3 1 -28 1 30 1 -14 1 15 1 -3 1 0 1 3 1 -11 1 9 1 -4 1 7 1 2 1 -8 1 -3 1 9 1 -9 1 -3 1 11 1 -12 1 7 1 -2 1 -11 1 8 1 8 1 2 1 -9 1 2 1 -5 1 10 1 -8 1 -8 1 14 1 -2 1 -9 1 15 1 -2 1 -1 1 -1 1 2 1 -6 1 -6 1 2 1 5 1 3 1 1 1 0 1 -3 1 8 1 -6 1 -7 1 10 1 -2 1 -5 1 3 1 3 1 -9 1 11 1 -6 1 -12 1 13 1 7 1 -3 1 -8 1 5 1 -2 1 1 1 -1 1 4 1 -5 1 4 1 3 1 -6 1 4 1 1 1 -9 1 5 1 -3 1 3 1 -1 1 0 1 -1 1 1 1 3 1 3 1 -6 1 -8 1 3 1 10 1 -11 1 4 1 12 1 -5 1 -6 1 -2 1 6 1 -4 1 7 1 -2 1 -4 1 6 1 3 1 -9 1 -2 1 2 1 -2 1 4 1 3 1 -3 1 -4 1 8 1 -2 1 2 1 -3 1 2 1 -6 1 3 1 -3 1 4 1 -4 1 4 1 -6 1 3 1 8 1 -8 1 4 1 2 1 -4 1 2 1 -4 1 2 1 4 1 -5 1 -4 1 2 1 7 1 1 1 -10 1 0 1 4 1 -3 1 -1 1 -2 1 8 1 -18 1 11 1 8 1 -5 1 4 1 1 1 -3 1 4 1 -2 1 -2 1 -5 1 9 1 0 1 -1 1 -9 1 10 1 -2 1 3 1 -13 1 11 1 -11 1 5 1 -2 1 9 1 -2 1 2 1 -9 1 10 1 -8 1 -1 1 10 1 -8 1 -2 1 -7 1 10 1 -6 1 8 1 -1 1 5 1 -2 1 -1 1 -7 1 4 1 -1 1 1 1 3 1 -7 1 9 1 3 1 -3 1 -10 1 -1 1 5 1 -1 1 6 1 -1 1 3 1 -8 1 8 1 1 1 -3 1 -9 1 2 1 -10 1 15 1 -2 1 3 1 3 1 -9 1 7 1 -2 1 2 1 -8 1 7 1 1 1 -1 1 -6 1 10 1 -8 1 2 1 1 1 -4 1 4 1 1 1 -1 1 -4 1 1 1 3 1 1 1 -3 1 0 1 7 1 -2 1 -8 1 9 1 -5 1 2 1 -6" stroke="#bf00bf" class="dn"/><path d="M288.2 33.5L288.2 26" stroke="#bf00bf" class="dsn"/>
<path d="M239.2 54.9L308.3 79.7" stroke="#00bfbf" class="dl"/><path d="M273.7 67.3L273.7 33.6" stroke="#00bfbf" class="ds"/>
<path d="M224.4 62.2L293.9 87.1" stroke="#ff0000" class="dl"/><path d="M259.2 74.6L259.2 41" stroke="#ff0000" class="ds"/>
<path d="M209.7 69.5L279.6 94.5" stroke="#008000" class="dl"/><path d="M244.7 82L244.7 48.3" stroke="#008000" class="ds"/>
<path d="M195 76.8L265.3 101.9" stroke="#0000ff" class="dl"/><path d="M230.2 89.3L230.2 55.6" stroke="#0000ff" class="ds"/>
<g class="tk"><text x="192.4" y="83.2" text-anchor="end">-200</text><text x="192.4" y="67.9" text-anchor="end">-100</text><text x="192.4" y="52.6" text-anchor="end">0</text><text x="192.4" y="37.3" text-anchor="end">100</text><text transform="translate(199.33 90.31) scale(0.8 1)" text-anchor="end">-0.4</text><text transform="translate(213.39 95.33) scale(0.8 1)" text-anchor="end">-0.2</text><text transform="translate(227.45 100.35) scale(0.8 1)" text-anchor="end">0</text><text transform="translate(241.51 105.37) scale(0.8 1)" text-anchor="end">0.2</text><text transform="translate(255.57 110.39) scale(0.8 1)" text-anchor="end">0.4</text><text class="sl" transform="translate(267.8 112.5) scale(0.78 1)">CML</text><text class="sl" transform="translate(282.12 105.11) scale(0.78 1)">MCML</text><text class="sl" transform="translate(296.44 97.71) scale(0.78 1)">DCML</text><text class="sl" transform="translate(310.76 90.31) scale(0.78 1)">MDCML</text><text class="sl" transform="translate(325.08 82.92) scale(0.78 1)">BCML</text></g>
<text class="al" transform="translate(182.4 58.8) rotate(-90)" text-anchor="middle">Power (dB)</text>
<text class="al" transform="translate(221.6 107.1) rotate(19.7)" text-anchor="middle">Frequency (Hz)</text>
<text class="cap" y="134.5"><tspan x="214.98" font-weight="bold" font-size="9.2">(b)</tspan><tspan x="231.22" font-style="italic">μ</tspan><tspan x="240.52" class="eq" textLength="6.1" lengthAdjust="spacingAndGlyphs">=</tspan><tspan x="250.52" textLength="18.4" lengthAdjust="spacingAndGlyphs">2.49,</tspan><tspan x="270.52" font-style="italic">e</tspan><tspan x="278.82" class="eq" textLength="6.4" lengthAdjust="spacingAndGlyphs">=</tspan><tspan x="287.42" textLength="11.6" lengthAdjust="spacingAndGlyphs">0.5</tspan></text>
<path class="gr" d="M369.6 84.3L428.3 55.2M383.6 89.3L442 60.1M397.6 94.3L455.7 65M411.6 99.3L469.4 69.9M425.6 104.3L483 74.9M377.3 74.5L446.9 99.4M392 67.3L461.2 92M406.8 60L475.6 84.7M421.5 52.7L489.9 77.3M377.3 74.5L377.3 28.6M392 67.3L392 21.4M406.8 60L406.8 14.1M421.5 52.7L421.5 6.8M362.6 81.8L421.5 52.7M362.6 66.5L421.5 37.4M362.6 51.2L421.5 22.1M362.6 35.9L421.5 6.8M428.3 55.2L428.3 9.3M442 60.1L442 14.2M455.7 65L455.7 19.1M469.4 69.9L469.4 24M483 74.9L483 29M421.5 52.7L489.9 77.3M421.5 37.4L489.9 62M421.5 22.1L489.9 46.7M421.5 6.8L489.9 31.4"/>
<path class="ax" d="M362.6 81.8L362.6 35.9M362.6 81.8L432.6 106.8M432.6 106.8L489.9 77.3M362.6 81.8L363.8 81.2M362.6 66.5L363.8 65.9M362.6 51.2L363.8 50.6M362.6 35.9L363.8 35.3M369.6 84.3L370.8 83.7M383.6 89.3L384.8 88.7M397.6 94.3L398.8 93.7M411.6 99.3L412.8 98.7M425.6 104.3L426.8 103.7M432.6 106.8L431.4 106.3M446.9 99.4L445.7 99M461.2 92L460 91.6M475.6 84.7L474.3 84.2M489.9 77.3L488.7 76.9"/>
<path transform="matrix(0.03802 0.01367 0 -0.153 421.48 22.12)" d="M0 9 l1 10 1 -16 1 11 1 -5 1 1 1 1 1 4 1 3 1 -3 1 -9 1 -3 1 10 1 9 1 -8 1 -3 1 2 1 -5 1 6 1 -10 1 12 1 -11 1 -2 1 5 1 0 1 -1 1 14 1 -9 1 -7 1 11 1 -23 1 21 1 5 1 -1 1 -5 1 -4 1 -13 1 23 1 -2 1 -11 1 8 1 6 1 -10 1 4 1 0 1 2 1 1 1 -7 1 -13 1 22 1 -14 1 10 1 -9 1 7 1 6 1 -9 1 -3 1 9 1 -4 1 2 1 -4 1 -3 1 2 1 14 1 -19 1 11 1 -6 1 4 1 -4 1 6 1 2 1 -11 1 9 1 -11 1 -1 1 11 1 -9 1 11 1 -10 1 6 1 2 1 2 1 -2 1 1 1 -9 1 12 1 -7 1 4 1 -3 1 -6 1 2 1 7 1 -1 1 -6 1 0 1 10 1 -16 1 14 1 -18 1 20 1 -5 1 -8 1 -4 1 11 1 1 1 -2 1 2 1 -2 1 -7 1 2 1 12 1 -2 1 2 1 -14 1 -4 1 8 1 0 1 -8 1 8 1 5 1 0 1 -6 1 12 1 -12 1 10 1 -13 1 7 1 0 1 -16 1 19 1 1 1 -2 1 6 1 -11 1 -6 1 6 1 -28 1 29 1 -3 1 9 1 0 1 -5 1 3 1 -1 1 -3 1 4 1 4 1 -8 1 4 1 -28 1 27 1 -2 1 1 1 -10 1 11 1 7 1 -8 1 -2 1 7 1 -12 1 5 1 6 1 -22 1 13 1 14 1 -17 1 5 1 -2 1 5 1 3 1 1 1 -5 1 1 1 -1 1 -2 1 -16 1 19 1 2 1 -3 1 4 1 -13 1 14 1 1 1 -7 1 4 1 -2 1 -1 1 6 1 -3 1 -7 1 11 1 5 1 -4 1 1 1 -4 1 -5 1 11 1 -11 1 7 1 -28 1 27 1 5 1 -10 1 4 1 -8 1 0 1 5 1 7 1 -5 1 2 1 -3 1 -1 1 4 1 -14 1 13 1 -6 1 -4 1 11 1 -18 1 10 1 2 1 3 1 2 1 -4 1 -5 1 11 1 -13 1 -17 1 26 1 0 1 -13 1 17 1 2 1 -14 1 0 1 8 1 -1 1 3 1 -6 1 -6 1 5 1 10 1 -2 1 -14 1 14 1 1 1 -13 1 5 1 6 1 -6 1 3 1 6 1 -8 1 -3 1 -4 1 9 1 -4 1 6 1 -2 1 0 1 -4 1 1 1 -1 1 4 1 0 1 -2 1 -6 1 -2 1 12 1 -4 1 0 1 4 1 5 1 -7 1 -5 1 7 1 -6 1 8 1 0 1 -2 1 0 1 1 1 -2 1 5 1 -8 1 -11 1 19 1 -13 1 6 1 1 1 -7 1 -2 1 6 1 4 1 -1 1 1 1 2 1 -2 1 4 1 -5 1 0 1 5 1 -2 1 -7 1 -1 1 2 1 -10 1 16 1 0 1 -12 1 6 1 7 1 -7 1 -13 1 14 1 -10 1 0 1 17 1 -9 1 7 1 -5 1 0 1 -1 1 7 1 1 1 -6 1 1 1 -1 1 5 1 -6 1 -3 1 2 1 -4 1 5 1 -3 1 1 1 5 1 6 1 -8 1 3 1 -3 1 8 1 -11 1 9 1 -5 1 6 1 -4 1 -2 1 3 1 3 1 -9 1 3 1 -2 1 -4 1 2 1 10 1 -8 1 7 1 -4 1 5 1 -11 1 13 1 -3 1 -8 1 8 1 -3 1 -3 1 4 1 -13 1 1 1 8 1 2 1 5 1 0 1 -8 1 -6 1 12 1 -12 1 10 1 -6 1 -4 1 7 1 5 1 -4 1 2 1 -3 1 3 1 -3 1 -3 1 11 1 -11 1 3 1 3 1 -9 1 7 1 1 1 4 1 -15 1 15 1 -8 1 4 1 -1 1 -3 1 3 1 4 1 -11 1 9 1 -8 1 10 1 2 1 1 1 -10 1 8 1 -9 1 8 1 -1 1 -3 1 1 1 2 1 -9 1 12 1 1 1 -5 1 -7 1 9 1 -5 1 1 1 7 1 -5 1 -13 1 11 1 10 1 -6 1 -8 1 6 1 5 1 -5 1 5 1 -8 1 3 1 -19 1 17 1 2 1 -3 1 -1 1 10 1 -16 1 1 1 2 1 12 1 -4 1 -3 1 -1 1 -21 1 18 1 -5 1 10 1 -15 1 8 1 3 1 3 1 6 1 -5 1 -9 1 2 1 -4 1 13 1 2 1 -4 1 1 1 -8 1 9 1 1 1 -8 1 -2 1 6 1 1 1 1 1 -10 1 6 1 0 1 1 1 -6 1 1 1 8 1 0 1 -11 1 12 1 1 1 -4 1 -2 1 3 1 -3 1 8 1 1 1 0 1 -22 1 11 1 9 1 -5 1 -5 1 10 1 -10 1 2 1 11 1 -1 1 -17 1 15 1 -2 1 -1 1 -2 1 2 1 3 1 0 1 -11 1 1 1 3 1 -5 1 -8 1 6 1 11 1 -19 1 19 1 -4 1 -2 1 6 1 0 1 1 1 -9 1 -6 1 23 1 -18 1 8 1 1 1 -4 1 10 1 -3 1 0 1 1 1 -15 1 15 1 -8 1 0 1 7 1 -10 1 11 1 -13 1 12 1 -1 1 -9 1 -13 1 16 1 -3 1 3 1 3 1 -6 1 -3 1 -12 1 23 1 -9 1 -5 1 20 1 -17 1 5 1 -9 1 9 1 8 1 -3 1 1 1 -4 1 -7 1 1 1 7 1 -20 1 17 1 3 1 1 1 0 1 4 1 -4 1 7 1 -7 1 -14 1 10 1 0 1 -10 1 19 1 -17 1 9 1 1 1 5 1 -6 1 -1 1 1 1 4 1 3 1 -13 1 11 1 -7 1 4 1 5 1 -9 1 -2 1 -3 1 10 1 3 1 -12 1 8 1 -3 1 -16 1 19 1 -3 1 9 1 -25 1 26 1 -17 1 9 1 3 1 7 1 -12 1 0 1 4 1 3 1 -5 1 8 1 -8 1 5 1 1 1 -5 1 -18 1 18 1 4 1 -3 1 -4 1 2 1 5 1 -28 1 18 1 2 1 7 1 -9 1 7 1 -6 1 -6 1 10 1 4 1 -6 1 6 1 -8 1 -1 1 5 1 -1 1 -7 1 5 1 -1 1 1 1 5 1 3 1 0 1 1 1 -10 1 8 1 0 1 -8 1 3 1 0 1 0 1 3 1 -1 1 3 1 -4 1 -13 1 9 1 6 1 -3 1 2 1 1 1 -1 1 -3 1 4 1 -1 1 -6 1 9 1 -3 1 -1 1 -3 1 6 1 -1 1 5 1 -10 1 6 1 -2 1 2 1 1 1 -4 1 -2 1 1 1 0 1 5 1 -21 1 17 1 0 1 3 1 1 1 -1 1 -1 1 1 1 -6 1 9 1 -5 1 4 1 -3 1 6 1 -12 1 10 1 -6 1 -2 1 -16 1 19 1 -9 1 16 1 -2 1 -18 1 21 1 -6 1 0 1 1 1 -5 1 5 1 0 1 7 1 -13 1 -8 1 7 1 -2 1 2 1 8 1 -1 1 3 1 0 1 -7 1 -14 1 20 1 -5 1 1 1 -7 1 11 1 -12 1 -5 1 18 1 -1 1 -3 1 -9 1 11 1 -7 1 3 1 -1 1 -5 1 6 1 -1 1 -8 1 13 1 -4 1 -6 1 7 1 1 1 0 1 0 1 -2 1 1 1 -6 1 9 1 -3 1 -2 1 1 1 -2 1 1 1 -8 1 10 1 -3 1 0 1 -5 1 11 1 -14 1 0 1 5 1 8 1 1 1 -9 1 9 1 -5 1 1 1 -7 1 -4 1 16 1 -5 1 -16 1 6 1 15 1 -16 1 16 1 -9 1 3 1 -21 1 26 1 1 1 -15 1 -5 1 19 1 2 1 -1 1 -15 1 11 1 -6 1 8 1 -4 1 2 1 1 1 -7 1 6 1 -4 1 -6 1 12 1 1 1 -3 1 -8 1 10 1 -7 1 12 1 -14 1 6 1 5 1 1 1 -12 1 6 1 2 1 6 1 -5 1 -5 1 5 1 2 1 -9 1 10 1 -7 1 -1 1 1 1 2 1 -5 1 5 1 -1 1 5 1 -6 1 -5 1 6 1 3 1 4 1 -2 1 -7 1 2 1 2 1 -10 1 9 1 -5 1 6 1 -4 1 4 1 1 1 -9 1 -6 1 11 1 0 1 -12 1 12 1 -2 1 9 1 -12 1 4 1 -2 1 10 1 -1 1 -3 1 2 1 0 1 -10 1 2 1 -1 1 -1 1 4 1 -3 1 -5 1 13 1 -16 1 14 1 -13 1 9 1 8 1 -10 1 -7 1 17 1 1 1 2 1 -9 1 -5 1 2 1 3 1 -12 1 13 1 -7 1 2 1 8 1 -8 1 1 1 -12 1 -2 1 4 1 18 1 -4 1 -5 1 3 1 -4 1 11 1 -1 1 -20 1 -1 1 9 1 0 1 9 1 4 1 -3 1 -5 1 2 1 -1 1 1 1 6 1 -5 1 4 1 -8 1 10 1 1 1 -5 1 -8 1 -7 1 8 1 6 1 2 1 -12 1 12 1 -1 1 -5 1 4 1 -41 1 43 1 6 1 -16 1 9 1 3 1 -6 1 -4 1 8 1 -13 1 10 1 -7 1 9 1 -4 1 -13 1 7 1 4 1 -9 1 10 1 4 1 -6 1 -6 1 17 1 -2 1 -4 1 -3 1 3 1 1 1 -3 1 4 1 3 1 -10 1 9 1 -7 1 4 1 6 1 -4 1 1 1 -6 1 3 1 6 1 -13 1 -2 1 6 1 5 1 -1 1 0 1 -1 1 5 1 -6 1 -11 1 0 1 10 1 -2 1 2 1 0 1 -2 1 -5 1 10 1 -4 1 -9 1 12 1 -1 1 -4 1 -10 1 8 1 11 1 -2 1 -15 1 13 1 -7 1 8 1 -14 1 10 1 -4 1 3 1 8 1 -5 1 -2 1 -18 1 3 1 22 1 -2 1 -13 1 3 1 15 1 -9 1 -2 1 4 1 4 1 0 1 -9 1 -6 1 12 1 -4 1 -1 1 4 1 4 1 -2 1 -4 1 0 1 4 1 -2 1 0 1 -1 1 1 1 -7 1 8 1 -8 1 2 1 -1 1 9 1 -17 1 10 1 1 1 -1 1 0 1 3 1 -2 1 0 1 4 1 2 1 -9 1 2 1 2 1 8 1 -10 1 3 1 -6 1 5 1 7 1 -4 1 -7 1 2 1 -33 1 29 1 -2 1 3 1 5 1 -10 1 10 1 9 1 -19 1 5 1 14 1 -13 1 5 1 -6 1 -9 1 13 1 1 1 -6 1 10 1 -4 1 1 1 -4 1 6 1 -1 1 -1 1 -8 1 12 1 -2 1 4 1 -6 1 2 1 -1 1 2 1 -5 1 -2 1 4 1 -9 1 10 1 -5 1 7 1 -5 1 4 1 6 1 -4 1 -3 1 -7 1 7 1 2 1 0 1 -7 1 -6 1 7 1 6 1 7 1 -4 1 -5 1 1 1 -11 1 13 1 5 1 -7 1 -2 1 -5 1 4 1 2 1 -6 1 4 1 2 1 2 1 2 1 -5 1 -4 1 6 1 3 1 -9 1 -1 1 3 1 -14 1 13 1 -5 1 2 1 9 1 1 1 -7 1 3 1 -3 1 7 1 -3 1 0 1 1 1 -2 1 -5 1 -2 1 2 1 4 1 5 1 -5 1 1 1 1 1 2 1 8 1 -15 1 5 1 -11 1 7 1 -6 1 2 1 -5 1 12 1 -2 1 -14 1 20 1 3 1 -9 1 0 1 -8 1 14 1 -2 1 -1 1 -2 1 4 1 -11 1 12 1 -16 1 7 1 6 1 -4 1 7 1 -19 1 -3 1 19 1 -11 1 10 1 2 1 -5 1 2 1 4 1 0 1 -4 1 1 1 8 1 -11 1 -2 1 6 1 -3 1 -19 1 22 1 -1 1 3 1 -3 1 6 1 -3 1 -9 1 5 1 1 1 5 1 -9 1 8 1 -6 1 -1 1 -7 1 10 1 0 1 -3 1 8 1 -3 1 -9 1 4 1 -2 1 8 1 -2 1 1 1 7 1 -9 1 2 1 -1 1 1 1 -3 1 -6 1 7 1 0 1 4 1 -6 1 6 1 -9 1 -3 1 12 1 -4 1 -2 1 5 1 -4 1 4 1 -3 1 -6 1 14 1 -17 1 14 1 -17 1 14 1 0 1 -9 1 8 1 0 1 6 1 -18 1 18 1 -26 1 22 1 -8 1 11 1 -1 1 -10 1 1 1 1 1 8 1 0 1 -2 1 -10 1 1 1 0 1 9 1 -8 1 1 1 -9 1 4 1 13 1 0 1 -2 1 1 1 -4 1 1 1 -5 1 -15 1 23 1 -26 1 21 1 7 1 -1 1 -5 1 -4 1 2 1 -10 1 15 1 -3 1 -18 1 16 1 9 1 -4 1 3 1 -3 1 2 1 -2 1 -3 1 7 1 -3 1 -9 1 12 1 -11 1 4 1 3 1 -3 1 -10 1 12 1 1 1 0 1 2 1 -2 1 0 1 -2 1 -5 1 10 1 -4 1 8 1 -16 1 17 1 -8 1 -4 1 4 1 6 1 -6 1 6 1 -18 1 11 1 -4 1 10 1 -21 1 9 1 7 1 3 1 -19 1 17 1 1 1 -3 1 -5 1 -7 1 2 1 13 1 -3 1 -4 1 4 1 1 1 -3 1 6 1 -10 1 5 1 -12 1 12 1 0 1 2 1 -12 1 16 1 -8 1 -2 1 8 1 4 1 -15 1 11 1 -9 1 -10 1 11 1 9 1 3 1 -10 1 -8 1 11 1 -10 1 -2 1 13 1 2 1 -5 1 -5 1 0 1 4 1 5 1 -1 1 -1 1 3 1 1 1 -23 1 21 1 -11 1 8 1 -8 1 8 1 -15 1 3 1 17 1 -18 1 11 1 5 1 -8 1 9 1 3 1 -12 1 8 1 -1 1 -11 1 8 1 -18 1 18 1 -2 1 12 1 -13 1 5 1 -4 1 -2 1 -5 1 7 1 -5 1 1 1 0 1 -3 1 13 1 -11 1 7 1 3 1 -10 1 3 1 -8 1 18 1 -3 1 7 1 -5 1 -2 1 0 1 -22 1 27 1 -6 1 -3 1 -12 1 14 1 -11 1 12 1 2 1 -18 1 20 1 -18 1 11 1 -3 1 -4 1 7 1 6 1 -2 1 0 1 -1 1 -5 1 12 1 0 1 -8 1 1 1 6 1 -9 1 8 1 -3 1 1 1 -4 1 3 1 -9 1 -4 1 7 1 -9 1 14 1 -18 1 10 1 3 1 6 1 -1 1 -1 1 3 1 -7 1 -7 1 8 1 3 1 6 1 -20 1 14 1 -6 1 10 1 -12 1 9 1 -3 1 1 1 0 1 4 1 -3 1 -1 1 5 1 -7 1 8 1 -6 1 5 1 1 1 -11 1 10 1 -7 1 -9 1 12 1 -9 1 14 1 -9 1 14 1 -7 1 -7 1 6 1 -2 1 -6 1 5 1 -3 1 8 1 -6 1 2 1 1 1 -7 1 8 1 1 1 -5 1 4 1 -9 1 3 1 -4 1 -2 1 10 1 -3 1 0 1 -7 1 12 1 -2 1 2 1 -6 1 -3 1 2 1 3 1 3 1 -14 1 6 1 6 1 5 1 -5 1 2 1 2 1 -4 1 -3 1 -2 1 -1 1 5 1 6 1 -6 1 5 1 -2 1 -6 1 2 1 -2 1 15 1 -10 1 1 1 1 1 -18 1 14 1 3 1 -14 1 10 1 -13 1 16 1 -17 1 11 1 4 1 3 1 2 1 -15 1 10 1 -21 1 23 1 -2 1 -4 1 3 1 -1 1 4 1 -16 1 19 1 0 1 -7 1 4 1 -10 1 14 1 0 1 -10 1 3 1 -7 1 16 1 -4 1 -5 1 6 1 -10 1 9 1 -8 1 2 1 0 1 -2 1 -3 1 8 1 -6 1 9 1 -3 1 5 1 -1 1 0 1 0 1 -19 1 12 1 4 1 3 1 -16 1 17 1 -5 1 5 1 -1 1 -11 1 -19 1 19 1 8 1 3 1 1 1 3 1 1 1 -10 1 10 1 -16 1 -10 1 12 1 -2 1 4 1 9 1 -13 1 13 1 -6 1 -2 1 2 1 6 1 -3 1 -3 1 4 1 1 1 -5 1 -3 1 -6 1 11 1 -2 1 2 1 2 1 0 1 3 1 1 1 -11 1 -2 1 0 1 10 1 0 1 -9 1 8 1 1 1 -38 1 42 1 -7 1 1 1 3 1 -11 1 -5 1 2 1 7 1 5 1 -1 1 -24 1 5 1 19 1 7 1 -7 1 -4 1 -26 1 22 1 11 1 -6 1 3 1 -12 1 6 1 4 1 -16 1 22 1 -3 1 -14 1 5 1 8 1 2 1 -1 1 -12 1 2 1 3 1 4 1 -6 1 12 1 -13 1 7 1 0 1 2 1 0 1 5 1 -7 1 -4 1 2 1 9 1 1 1 -14 1 7 1 -3 1 7 1 -6 1 6 1 -11 1 -1 1 6 1 -1 1 4 1 -9 1 9 1 -6 1 -2 1 -4 1 12 1 -1 1 4 1 -12 1 6 1 2 1 -1 1 1 1 -4 1 3 1 4 1 -6 1 -6 1 10 1 -7 1 2 1 -5 1 12 1 0 1 -21 1 4 1 12 1 3 1 -13 1 15 1 -16 1 9 1 -1 1 8 1 -11" stroke="#bf00bf" class="dn"/><path d="M455.7 32.9L455.7 26" stroke="#bf00bf" class="dsn"/>
<path d="M406.8 54.9L475.6 79.6" stroke="#00bfbf" class="dl"/><path d="M441.2 67.3L441.2 33.6" stroke="#00bfbf" class="ds"/>
<path d="M392 62.2L461.2 87" stroke="#ff0000" class="dl"/><path d="M426.6 74.6L426.6 40.9" stroke="#ff0000" class="ds"/>
<path d="M377.3 69.5L446.9 94.3" stroke="#008000" class="dl"/><path d="M412.1 81.9L412.1 48.3" stroke="#008000" class="ds"/>
<path d="M362.6 76.8L432.6 101.7" stroke="#0000ff" class="dl"/><path d="M397.6 89.2L397.6 55.6" stroke="#0000ff" class="ds"/>
<g class="tk"><text x="360" y="83.2" text-anchor="end">-200</text><text x="360" y="67.9" text-anchor="end">-100</text><text x="360" y="52.6" text-anchor="end">0</text><text x="360" y="37.3" text-anchor="end">100</text><text transform="translate(366.9 90.3) scale(0.8 1)" text-anchor="end">-0.4</text><text transform="translate(380.9 95.28) scale(0.8 1)" text-anchor="end">-0.2</text><text transform="translate(394.9 100.27) scale(0.8 1)" text-anchor="end">0</text><text transform="translate(408.9 105.27) scale(0.8 1)" text-anchor="end">0.2</text><text transform="translate(422.9 110.25) scale(0.8 1)" text-anchor="end">0.4</text><text class="sl" transform="translate(435.1 112.35) scale(0.78 1)">CML</text><text class="sl" transform="translate(449.42 104.99) scale(0.78 1)">MCML</text><text class="sl" transform="translate(463.74 97.63) scale(0.78 1)">DCML</text><text class="sl" transform="translate(478.06 90.28) scale(0.78 1)">MDCML</text><text class="sl" transform="translate(492.38 82.92) scale(0.78 1)">BCML</text></g>
<text class="al" transform="translate(350 58.8) rotate(-90)" text-anchor="middle">Power (dB)</text>
<text class="al" transform="translate(389.2 107.1) rotate(19.7)" text-anchor="middle">Frequency (Hz)</text>
<text class="cap" y="134.5"><tspan x="383.39" font-weight="bold" font-size="9.2">(c)</tspan><tspan x="398.61" font-style="italic">μ</tspan><tspan x="407.91" class="eq" textLength="6.1" lengthAdjust="spacingAndGlyphs">=</tspan><tspan x="417.91" textLength="18.4" lengthAdjust="spacingAndGlyphs">2.49,</tspan><tspan x="437.91" font-style="italic">e</tspan><tspan x="446.21" class="eq" textLength="6.4" lengthAdjust="spacingAndGlyphs">=</tspan><tspan x="454.81" textLength="11.6" lengthAdjust="spacingAndGlyphs">0.9</tspan></text>
<path class="gr" d="M34.4 226L93.3 196.9M48.4 231L107.3 201.9M62.4 236L121.3 206.9M76.4 241L135.3 211.9M90.4 246L149.3 216.9M42.1 216.2L112.1 241.2M56.8 209L126.8 233.9M71.6 201.7L141.6 226.6M86.3 194.4L156.3 219.4M42.1 216.2L42.1 170.3M56.8 209L56.8 163.1M71.6 201.7L71.6 155.8M86.3 194.4L86.3 148.5M27.4 223.5L86.3 194.4M27.4 208.2L86.3 179.1M27.4 192.9L86.3 163.8M27.4 177.6L86.3 148.5M93.3 196.9L93.3 151M107.3 201.9L107.3 156M121.3 206.9L121.3 161M135.3 211.9L135.3 166M149.3 216.9L149.3 171M86.3 194.4L156.3 219.4M86.3 179.1L156.3 204.1M86.3 163.8L156.3 188.8M86.3 148.5L156.3 173.5"/>
<path class="ax" d="M27.4 223.5L27.4 177.6M27.4 223.5L97.4 248.4M97.4 248.4L156.3 219.4M27.4 223.5L28.6 222.9M27.4 208.2L28.6 207.6M27.4 192.9L28.6 192.3M27.4 177.6L28.6 177M34.4 226L35.6 225.4M48.4 231L49.6 230.4M62.4 236L63.6 235.4M76.4 241L77.6 240.4M90.4 246L91.6 245.4M97.4 248.4L96.2 248M112.1 241.2L110.9 240.7M126.8 233.9L125.6 233.5M141.6 226.6L140.3 226.2M156.3 219.4L155.1 218.9"/>
<path transform="matrix(0.03891 0.01387 0 -0.153 86.28 163.82)" d="M0 5 l1 -4 1 3 1 2 1 -3 1 -7 1 3 1 3 1 3 1 2 1 -11 1 11 1 -2 1 -9 1 9 1 -1 1 1 1 -1 1 4 1 -21 1 19 1 -1 1 0 1 -2 1 3 1 -1 1 2 1 -1 1 -10 1 1 1 8 1 -1 1 -3 1 1 1 0 1 -8 1 10 1 -3 1 5 1 4 1 -9 1 8 1 -7 1 2 1 -2 1 3 1 -11 1 10 1 -6 1 -2 1 5 1 -15 1 20 1 -4 1 5 1 -14 1 10 1 2 1 1 1 -4 1 -2 1 2 1 1 1 -1 1 -3 1 -2 1 2 1 -14 1 22 1 -4 1 -9 1 13 1 -7 1 6 1 0 1 -10 1 2 1 1 1 7 1 1 1 -4 1 -10 1 9 1 -2 1 -3 1 6 1 -3 1 6 1 -2 1 1 1 -8 1 -2 1 0 1 10 1 0 1 -2 1 1 1 0 1 -5 1 6 1 -8 1 7 1 -7 1 2 1 6 1 -8 1 7 1 -8 1 7 1 -9 1 7 1 -1 1 2 1 0 1 -11 1 9 1 1 1 4 1 -7 1 6 1 2 1 -10 1 3 1 1 1 6 1 -2 1 -3 1 -13 1 17 1 -3 1 -2 1 1 1 -1 1 1 1 2 1 -2 1 -4 1 -1 1 8 1 -6 1 5 1 -2 1 -4 1 -4 1 5 1 6 1 -4 1 2 1 3 1 -12 1 -1 1 11 1 0 1 -6 1 1 1 5 1 0 1 -9 1 11 1 -3 1 4 1 0 1 -5 1 -8 1 -1 1 12 1 -5 1 1 1 4 1 -4 1 7 1 -18 1 12 1 -3 1 6 1 -4 1 -7 1 9 1 -1 1 4 1 -3 1 -7 1 7 1 -10 1 0 1 7 1 1 1 3 1 -5 1 0 1 1 1 -4 1 9 1 -3 1 -14 1 11 1 4 1 0 1 2 1 -7 1 -14 1 12 1 8 1 -3 1 4 1 -6 1 -6 1 -3 1 12 1 3 1 -2 1 -2 1 -11 1 11 1 4 1 1 1 -13 1 -3 1 -3 1 19 1 -9 1 2 1 -7 1 6 1 5 1 2 1 -10 1 5 1 -7 1 8 1 1 1 -2 1 0 1 0 1 -8 1 1 1 3 1 6 1 -4 1 6 1 -1 1 -3 1 1 1 0 1 -14 1 13 1 0 1 -1 1 3 1 -6 1 6 1 -2 1 -3 1 -4 1 7 1 -3 1 5 1 -10 1 13 1 -2 1 -23 1 25 1 -5 1 0 1 -1 1 2 1 -4 1 2 1 2 1 -1 1 -8 1 6 1 4 1 -2 1 -1 1 5 1 -9 1 10 1 -2 1 -5 1 4 1 1 1 -3 1 4 1 -11 1 6 1 -4 1 0 1 2 1 7 1 -2 1 -10 1 13 1 -3 1 2 1 0 1 0 1 -8 1 7 1 -7 1 6 1 3 1 -6 1 4 1 -10 1 0 1 4 1 2 1 -2 1 6 1 2 1 -3 1 4 1 -7 1 -3 1 4 1 -1 1 1 1 -2 1 1 1 -1 1 2 1 4 1 1 1 -3 1 0 1 2 1 -9 1 3 1 -6 1 4 1 2 1 1 1 3 1 1 1 -8 1 7 1 0 1 -5 1 1 1 -5 1 8 1 -10 1 9 1 0 1 0 1 -1 1 3 1 -2 1 -1 1 -6 1 6 1 0 1 -2 1 7 1 -5 1 6 1 -5 1 -7 1 8 1 -2 1 -1 1 -4 1 2 1 9 1 1 1 -18 1 11 1 -2 1 2 1 -10 1 14 1 1 1 -10 1 4 1 2 1 0 1 -2 1 0 1 3 1 -2 1 0 1 0 1 -6 1 -2 1 2 1 9 1 -9 1 2 1 -1 1 11 1 -14 1 10 1 -3 1 7 1 -8 1 5 1 -2 1 -3 1 -1 1 -2 1 7 1 -3 1 0 1 -4 1 2 1 3 1 0 1 -1 1 2 1 1 1 -2 1 2 1 -6 1 3 1 1 1 0 1 -2 1 5 1 1 1 -4 1 0 1 3 1 2 1 -8 1 -6 1 11 1 -3 1 1 1 2 1 -5 1 7 1 -15 1 1 1 2 1 10 1 1 1 -3 1 -13 1 10 1 3 1 -1 1 -1 1 4 1 -6 1 1 1 6 1 -2 1 -10 1 9 1 -1 1 -5 1 4 1 3 1 4 1 -1 1 -5 1 -2 1 3 1 1 1 -2 1 -6 1 2 1 5 1 3 1 -3 1 -4 1 4 1 -8 1 3 1 0 1 4 1 1 1 2 1 -1 1 -1 1 2 1 -9 1 9 1 -9 1 7 1 4 1 -6 1 1 1 2 1 2 1 -5 1 -8 1 6 1 1 1 2 1 -1 1 1 1 4 1 -7 1 7 1 -2 1 0 1 -2 1 -3 1 -3 1 6 1 -1 1 -7 1 4 1 3 1 -3 1 2 1 4 1 -8 1 4 1 -6 1 6 1 -5 1 -1 1 11 1 -2 1 4 1 -20 1 18 1 -4 1 1 1 1 1 -8 1 9 1 -5 1 3 1 -2 1 0 1 -1 1 6 1 -2 1 4 1 -1 1 -8 1 3 1 3 1 -2 1 3 1 -9 1 4 1 5 1 -6 1 3 1 -3 1 3 1 -2 1 -1 1 6 1 0 1 -2 1 -1 1 0 1 0 1 -2 1 -2 1 11 1 -3 1 -1 1 -1 1 2 1 -6 1 7 1 -4 1 0 1 -2 1 -2 1 -1 1 4 1 -3 1 5 1 -11 1 9 1 -4 1 7 1 1 1 -3 1 3 1 -2 1 1 1 -2 1 2 1 -4 1 -2 1 2 1 -4 1 9 1 -7 1 -11 1 17 1 -5 1 -1 1 3 1 0 1 4 1 -6 1 -6 1 7 1 1 1 0 1 0 1 -2 1 3 1 -2 1 1 1 -7 1 3 1 6 1 1 1 -3 1 -1 1 -1 1 6 1 -3 1 1 1 -8 1 4 1 5 1 0 1 -3 1 4 1 -1 1 -5 1 -2 1 8 1 -3 1 -1 1 3 1 -6 1 2 1 -1 1 0 1 -9 1 9 1 5 1 -7 1 -6 1 13 1 -3 1 -6 1 8 1 -8 1 6 1 0 1 -8 1 6 1 -2 1 3 1 3 1 -1 1 -8 1 10 1 0 1 0 1 -6 1 8 1 -6 1 5 1 -6 1 -1 1 4 1 -3 1 -2 1 -2 1 3 1 -6 1 10 1 -12 1 10 1 -9 1 9 1 3 1 -3 1 -7 1 7 1 -5 1 4 1 -2 1 7 1 -4 1 -16 1 17 1 4 1 -7 1 5 1 -2 1 -2 1 4 1 -12 1 7 1 4 1 0 1 -7 1 6 1 4 1 -12 1 8 1 -7 1 5 1 -3 1 4 1 1 1 -2 1 -5 1 9 1 -5 1 5 1 -6 1 -9 1 1 1 6 1 -4 1 9 1 -5 1 -2 1 0 1 6 1 5 1 -5 1 -2 1 -2 1 9 1 -11 1 3 1 6 1 -8 1 4 1 6 1 -5 1 2 1 -5 1 -6 1 10 1 1 1 -5 1 3 1 -6 1 -15 1 22 1 -6 1 6 1 -11 1 6 1 5 1 0 1 4 1 0 1 -3 1 -2 1 -7 1 11 1 -8 1 4 1 2 1 2 1 -2 1 -6 1 8 1 -6 1 0 1 1 1 4 1 -3 1 -2 1 3 1 -1 1 -4 1 4 1 -4 1 2 1 -2 1 7 1 -4 1 6 1 -7 1 4 1 -3 1 4 1 -4 1 5 1 -3 1 -5 1 6 1 -3 1 -14 1 13 1 6 1 -5 1 -8 1 11 1 -6 1 1 1 3 1 -3 1 -8 1 9 1 6 1 -4 1 2 1 2 1 0 1 -6 1 1 1 -5 1 7 1 1 1 -6 1 4 1 -13 1 4 1 0 1 10 1 -6 1 10 1 -3 1 -1 1 4 1 -1 1 1 1 -3 1 1 1 -3 1 3 1 -2 1 -6 1 9 1 -8 1 6 1 -15 1 21 1 -8 1 -4 1 -2 1 6 1 -4 1 3 1 4 1 -9 1 3 1 5 1 -2 1 4 1 -1 1 0 1 0 1 -1 1 0 1 -9 1 3 1 0 1 6 1 -5 1 4 1 6 1 -7 1 1 1 2 1 -12 1 10 1 -7 1 10 1 -7 1 4 1 -1 1 2 1 -1 1 -2 1 6 1 -5 1 4 1 -9 1 1 1 1 1 3 1 2 1 3 1 -5 1 -3 1 3 1 -1 1 1 1 -5 1 5 1 2 1 1 1 -2 1 0 1 -1 1 1 1 2 1 -3 1 -2 1 5 1 -1 1 -1 1 -1 1 0 1 3 1 0 1 -8 1 11 1 -9 1 5 1 1 1 -6 1 6 1 0 1 -4 1 2 1 -7 1 -2 1 2 1 4 1 1 1 3 1 -1 1 1 1 -3 1 -3 1 6 1 1 1 -1 1 4 1 -3 1 -2 1 2 1 -8 1 -12 1 15 1 4 1 -6 1 3 1 1 1 -8 1 9 1 -5 1 8 1 -1 1 -8 1 -4 1 12 1 -10 1 9 1 -4 1 -5 1 3 1 6 1 -4 1 -2 1 5 1 4 1 -2 1 -6 1 8 1 -17 1 4 1 7 1 -6 1 7 1 -3 1 6 1 -8 1 6 1 5 1 -2 1 -7 1 -5 1 5 1 6 1 -2 1 -16 1 13 1 7 1 -5 1 3 1 -2 1 -4 1 6 1 -4 1 2 1 1 1 2 1 -5 1 -2 1 4 1 -3 1 4 1 2 1 -5 1 -4 1 1 1 -2 1 4 1 -2 1 -4 1 1 1 3 1 3 1 3 1 0 1 -7 1 8 1 -2 1 -4 1 4 1 -3 1 0 1 6 1 -2 1 -9 1 6 1 -2 1 3 1 4 1 -7 1 7 1 -5 1 2 1 1 1 -3 1 5 1 1 1 -6 1 4 1 -1 1 -8 1 3 1 0 1 -6 1 10 1 4 1 -1 1 -5 1 -9 1 12 1 -4 1 1 1 1 1 3 1 0 1 -4 1 5 1 -3 1 -10 1 11 1 1 1 -9 1 4 1 7 1 -4 1 1 1 1 1 1 1 -16 1 13 1 -1 1 5 1 4 1 -5 1 -14 1 0 1 11 1 -5 1 -1 1 9 1 -2 1 -10 1 5 1 0 1 5 1 -10 1 5 1 2 1 -7 1 3 1 8 1 -2 1 -2 1 3 1 -2 1 5 1 -4 1 -4 1 0 1 -2 1 7 1 -9 1 8 1 -2 1 -2 1 2 1 -4 1 1 1 3 1 5 1 -6 1 -9 1 8 1 2 1 -13 1 13 1 6 1 -3 1 -1 1 -9 1 10 1 -1 1 -7 1 8 1 2 1 -2 1 -2 1 1 1 -6 1 3 1 -1 1 3 1 3 1 2 1 -18 1 14 1 -4 1 -1 1 2 1 1 1 -2 1 6 1 0 1 -4 1 1 1 4 1 -6 1 -1 1 -3 1 4 1 0 1 -3 1 9 1 -6 1 2 1 -11 1 10 1 3 1 -5 1 6 1 -6 1 5 1 -9 1 7 1 4 1 -5 1 -4 1 0 1 7 1 -4 1 0 1 -1 1 5 1 4 1 -12 1 5 1 -2 1 1 1 3 1 1 1 -9 1 2 1 2 1 2 1 1 1 1 1 3 1 -3 1 1 1 4 1 -11 1 -3 1 2 1 6 1 1 1 2 1 -3 1 3 1 3 1 -4 1 -2 1 -5 1 4 1 3 1 -1 1 -1 1 2 1 5 1 -3 1 -3 1 4 1 1 1 -5 1 3 1 -8 1 2 1 7 1 -3 1 0 1 -12 1 9 1 10 1 -9 1 2 1 0 1 0 1 2 1 -2 1 -1 1 3 1 -6 1 -1 1 7 1 -10 1 -1 1 -3 1 13 1 -2 1 -4 1 10 1 -12 1 -3 1 -1 1 2 1 3 1 4 1 -3 1 1 1 3 1 0 1 2 1 -5 1 -21 1 25 1 -8 1 2 1 -4 1 12 1 2 1 -2 1 0 1 1 1 -9 1 12 1 -17 1 10 1 -2 1 3 1 -6 1 9 1 -3 1 0 1 -4 1 5 1 3 1 -2 1 0 1 -3 1 3 1 2 1 -3 1 -8 1 6 1 4 1 -6 1 5 1 -7 1 8 1 -5 1 -3 1 1 1 1 1 1 1 4 1 -1 1 -9 1 7 1 -3 1 2 1 6 1 -7 1 -2 1 7 1 -1 1 2 1 -1 1 -3 1 3 1 -7 1 1 1 -4 1 11 1 -6 1 0 1 -1 1 0 1 0 1 6 1 -2 1 2 1 -4 1 4 1 -1 1 -7 1 13 1 -8 1 4 1 -7 1 -2 1 7 1 1 1 -3 1 5 1 -4 1 4 1 -4 1 -2 1 4 1 -6 1 -13 1 21 1 -1 1 -2 1 0 1 0 1 -6 1 2 1 -4 1 -4 1 8 1 3 1 -2 1 -3 1 10 1 -5 1 2 1 -2 1 1 1 5 1 0 1 -6 1 -4 1 4 1 -2 1 -1 1 -1 1 5 1 -5 1 -6 1 6 1 -5 1 13 1 -3 1 8 1 -12 1 8 1 -6 1 5 1 -1 1 -1 1 3 1 -9 1 6 1 -4 1 5 1 -11 1 2 1 6 1 -3 1 1 1 -5 1 9 1 -1 1 5 1 -10 1 -2 1 -3 1 15 1 -2 1 -5 1 5 1 -4 1 -1 1 0 1 4 1 -1 1 0 1 -4 1 -2 1 1 1 8 1 -5 1 1 1 2 1 -6 1 2 1 5 1 -1 1 0 1 5 1 -13 1 5 1 0 1 2 1 2 1 -8 1 5 1 7 1 -9 1 0 1 5 1 -12 1 5 1 1 1 4 1 -10 1 6 1 0 1 -9 1 14 1 0 1 0 1 -2 1 -10 1 14 1 -4 1 4 1 -9 1 -10 1 16 1 4 1 -10 1 2 1 5 1 -10 1 10 1 -12 1 7 1 2 1 3 1 -1 1 -3 1 4 1 -3 1 4 1 -3 1 0 1 -2 1 0 1 -1 1 -4 1 1 1 9 1 -10 1 5 1 -5 1 -2 1 10 1 -1 1 1 1 -5 1 2 1 0 1 8 1 -6 1 -2 1 5 1 -5 1 5 1 -4 1 -2 1 1 1 3 1 0 1 -3 1 1 1 5 1 3 1 -10 1 4 1 4 1 -4 1 -4 1 -2 1 10 1 2 1 -5 1 -3 1 2 1 1 1 -6 1 -9 1 11 1 6 1 -1 1 1 1 -4 1 1 1 -4 1 -14 1 3 1 16 1 -11 1 2 1 10 1 -7 1 0 1 2 1 2 1 -7 1 4 1 -9 1 14 1 -7 1 3 1 2 1 -1 1 -2 1 6 1 -3 1 -3 1 6 1 -10 1 10 1 -6 1 8 1 -3 1 3 1 -2 1 0 1 0 1 2 1 -6 1 2 1 -9 1 8 1 7 1 -4 1 3 1 2 1 -4 1 -6 1 5 1 -5 1 2 1 2 1 -12 1 11 1 0 1 3 1 3 1 -8 1 -1 1 -1 1 10 1 -8 1 8 1 -2 1 -5 1 1 1 0 1 -1 1 -6 1 5 1 6 1 -1 1 -6 1 5 1 -1 1 2 1 -5 1 3 1 -3 1 3 1 4 1 -8 1 7 1 -5 1 1 1 -3 1 -5 1 8 1 9 1 -6 1 -18 1 14 1 -7 1 8 1 -1 1 -1 1 5 1 4 1 -5 1 -3 1 2 1 5 1 -4 1 -10 1 14 1 -3 1 1 1 -7 1 3 1 5 1 -1 1 -4 1 3 1 -3 1 5 1 -3 1 -5 1 8 1 -3 1 -1 1 -3 1 2 1 4 1 -8 1 2 1 5 1 4 1 -2 1 1 1 -3 1 3 1 -1 1 -5 1 -2 1 3 1 1 1 5 1 -7 1 1 1 1 1 -2 1 6 1 0 1 -16 1 10 1 7 1 -7 1 3 1 -5 1 3 1 0 1 4 1 -1 1 -6 1 -4 1 9 1 0 1 -1 1 4 1 -2 1 -6 1 6 1 5 1 -7 1 3 1 -4 1 4 1 -5 1 4 1 1 1 -11 1 10 1 0 1 -1 1 -6 1 3 1 4 1 -7 1 0 1 -1 1 5 1 -5 1 5 1 -8 1 7 1 3 1 -1 1 3 1 -1 1 -6 1 -5 1 4 1 -7 1 8 1 4 1 -3 1 5 1 -6 1 8 1 -3 1 3 1 0 1 -1 1 1 1 2 1 -4 1 -2 1 6 1 -9 1 0 1 7 1 -1 1 -14 1 16 1 -2 1 0 1 -5 1 1 1 -7 1 6 1 -1 1 7 1 2 1 1 1 -8 1 5 1 0 1 -12 1 14 1 -22 1 18 1 -2 1 2 1 0 1 0 1 5 1 -5 1 -13 1 2 1 13 1 -2 1 -5 1 10 1 -3 1 -2 1 -12 1 13 1 2 1 2 1 -7 1 -1 1 0 1 7 1 -2 1 -2 1 -4 1 3 1 -6 1 8 1 -3 1 9 1 -16 1 1 1 13 1 -3 1 -1 1 0 1 -4 1 -1 1 4 1 0 1 3 1 -4 1 2 1 1 1 2 1 -1 1 -8 1 9 1 -12 1 3 1 5 1 -1 1 -1 1 -1 1 2 1 1 1 1 1 0 1 -13 1 16 1 -4 1 -3 1 2 1 5 1 -9 1 6 1 1 1 -3 1 -1 1 -2" stroke="#bf00bf" class="dn"/><path d="M86.3 163.4L86.3 157.7M121.3 177.2L121.3 171.7" stroke="#bf00bf" class="dsn"/>
<path d="M71.6 183.7L71.6 183.8 71.6 183.8 71.6 183.8 71.6 183.8 71.6 183.8 71.6 183.8 71.6 183.9 71.7 183.9 71.7 184 71.7 184.1 71.7 184.2 71.7 184.3 71.8 184.5 71.8 184.6 71.9 184.8 71.9 185 72 185.2 72 185.3 72.1 185.5 72.2 185.7 72.3 186 72.4 186.2 72.4 186.3 72.6 186.6 72.8 186.8 72.9 186.9 73 187.2 73.3 187.5 73.3 187.5 73.7 187.8 73.7 187.9 74.1 188.2 74.2 188.3 74.5 188.6 74.6 188.7 75.1 189 75.1 189 75.5 189.3 75.8 189.5 75.9 189.6 76.4 189.9 76.8 190.2 77.2 190.4 77.7 190.7 78.1 190.9 78.6 191.1 79 191.4 79.4 191.6 79.9 191.8 80.3 192.1 80.7 192.3 81.2 192.5 81.6 192.7 82.1 192.9 82.5 193.1 82.9 193.3 83.4 193.5 83.8 193.7 84.2 193.9 84.7 194.1 85.1 194.3 85.6 194.5 86 194.7 86.4 194.9 86.9 195.1 87.3 195.3 87.7 195.4 88.2 195.6 88.6 195.8 89.1 196 89.5 196.2 89.9 196.4 90.4 196.5 90.8 196.7 91.2 196.9 91.7 197.1 92.1 197.2 92.6 197.4 93 197.6 93.4 197.8 93.9 197.9 94.3 198.1 94.7 198.3 95.2 198.5 95.6 198.6 96.1 198.8 96.5 199 96.9 199.1 97.4 199.3 97.8 199.5 98.2 199.6 98.7 199.8 99.1 200 99.6 200.1 100 200.3 100.4 200.5 100.9 200.6 101.3 200.8 101.7 200.9 102.2 201.1 102.6 201.3 103.1 201.4 103.5 201.6 103.9 201.7 104.4 201.9 104.8 202.1 105.2 202.2 105.7 202.4 106.1 202.5 106.6 202.7 107 202.8 107.4 203 107.9 203.2 108.3 203.3 108.7 203.5 109.2 203.6 109.6 203.8 110.1 203.9 110.5 204.1 110.9 204.2 111.4 204.4 111.8 204.5 112.2 204.7 112.7 204.8 113.1 205 113.6 205.1 114 205.3 114.4 205.4 114.9 205.6 115.3 205.7 115.7 205.8 116.2 206 116.6 206.1 117.1 206.3 117.5 206.4 117.9 206.6 118.4 206.7 118.8 206.8 119.2 207 119.7 207.1 120.1 207.3 120.6 207.4 121 207.5 121.4 207.7 121.9 207.8 122.3 207.9 122.7 208.1 123.2 208.2 123.6 208.3 124.1 208.5 124.5 208.6 124.9 208.7 125.4 208.9 125.8 209 126.2 209.1 126.7 209.2 127.1 209.3 127.6 209.5 128 209.6 128.4 209.7 128.9 209.8 129.3 209.9 129.7 210 130.2 210.2 130.6 210.3 131.1 210.4 131.5 210.5 131.9 210.6 132.4 210.7 132.8 210.8 133.2 210.9 133.7 210.9 134.1 211 134.6 211.1 135 211.2 135.4 211.2 135.9 211.3 136.3 211.4 136.7 211.4 137.2 211.4 137.4 211.4 137.6 211.5 138 211.5 138.1 211.5 138.5 211.4 138.6 211.4 138.9 211.4 139.1 211.4 139.4 211.3 139.5 211.3 139.8 211.2 139.8 211.2 140.1 211 140.2 210.9 140.3 210.9 140.5 210.8 140.7 210.6 140.7 210.6 140.8 210.4 140.9 210.2 141 210.1 141.1 209.9 141.1 209.9 141.2 209.7 141.2 209.6 141.3 209.4 141.3 209.3 141.4 209.1 141.4 209 141.4 208.9 141.4 208.9 141.5 208.8 141.5 208.8 141.5 208.7 141.5 208.7 141.5 208.7 141.5 208.7 141.5 208.7 141.5 208.7 141.6 208.7" stroke="#00bfbf" class="dl"/><path d="M106.6 202.7L106.6 175.3" stroke="#00bfbf" class="ds"/>
<path d="M56.8 191.8L56.9 191.8 56.9 191.8 56.9 191.8 56.9 191.8 56.9 191.8 56.9 191.9 56.9 191.9 56.9 192 57 192 57 192.1 57 192.2 57 192.4 57.1 192.5 57.1 192.7 57.2 192.9 57.2 193.1 57.3 193.3 57.3 193.3 57.4 193.5 57.5 193.8 57.6 194 57.7 194.3 57.7 194.3 57.9 194.6 58.1 194.9 58.2 195 58.3 195.2 58.6 195.5 58.6 195.5 58.9 195.9 59 195.9 59.3 196.2 59.5 196.3 59.8 196.6 59.9 196.7 60.3 197 60.4 197.1 60.8 197.3 61 197.5 61.2 197.6 61.7 197.9 62.1 198.2 62.5 198.4 63 198.7 63.4 198.9 63.8 199.2 64.3 199.4 64.7 199.6 65.2 199.9 65.6 200.1 66 200.3 66.5 200.5 66.9 200.7 67.3 200.9 67.8 201.1 68.2 201.4 68.7 201.6 69.1 201.8 69.5 202 70 202.1 70.4 202.3 70.8 202.5 71.3 202.7 71.7 202.9 72.2 203.1 72.6 203.3 73 203.5 73.5 203.7 73.9 203.8 74.3 204 74.8 204.2 75.2 204.4 75.7 204.6 76.1 204.7 76.5 204.9 77 205.1 77.4 205.3 77.8 205.5 78.3 205.6 78.7 205.8 79.2 206 79.6 206.1 80 206.3 80.5 206.5 80.9 206.7 81.3 206.8 81.8 207 82.2 207.2 82.7 207.3 83.1 207.5 83.5 207.7 84 207.8 84.4 208 84.8 208.2 85.3 208.3 85.7 208.5 86.2 208.7 86.6 208.8 87 209 87.5 209.1 87.9 209.3 88.3 209.5 88.8 209.6 89.2 209.8 89.7 209.9 90.1 210.1 90.5 210.3 91 210.4 91.4 210.6 91.8 210.7 92.3 210.9 92.7 211 93.2 211.2 93.6 211.3 94 211.5 94.5 211.7 94.9 211.8 95.3 212 95.8 212.1 96.2 212.3 96.7 212.4 97.1 212.6 97.5 212.7 98 212.9 98.4 213 98.8 213.2 99.3 213.3 99.7 213.4 100.2 213.6 100.6 213.7 101 213.9 101.5 214 101.9 214.2 102.3 214.3 102.8 214.5 103.2 214.6 103.7 214.7 104.1 214.9 104.5 215 105 215.2 105.4 215.3 105.8 215.4 106.3 215.6 106.7 215.7 107.2 215.8 107.6 216 108 216.1 108.5 216.2 108.9 216.4 109.3 216.5 109.8 216.6 110.2 216.8 110.7 216.9 111.1 217 111.5 217.1 112 217.3 112.4 217.4 112.8 217.5 113.3 217.6 113.7 217.7 114.2 217.9 114.6 218 115 218.1 115.5 218.2 115.9 218.3 116.3 218.4 116.8 218.5 117.2 218.6 117.7 218.7 118.1 218.8 118.5 218.9 119 219 119.4 219.1 119.8 219.1 120.3 219.2 120.7 219.3 121.2 219.3 121.6 219.4 122 219.4 122.5 219.5 122.6 219.5 122.9 219.5 123.3 219.5 123.3 219.5 123.8 219.5 123.9 219.5 124.2 219.4 124.3 219.4 124.7 219.3 124.7 219.3 125.1 219.2 125.1 219.2 125.4 219.1 125.5 219 125.6 218.9 125.8 218.8 126 218.6 126 218.6 126.1 218.5 126.2 218.3 126.3 218.1 126.4 217.9 126.4 217.9 126.5 217.8 126.5 217.6 126.6 217.4 126.6 217.3 126.7 217.2 126.7 217.1 126.7 217 126.7 216.9 126.7 216.9 126.8 216.8 126.8 216.8 126.8 216.8 126.8 216.7 126.8 216.7 126.8 216.7 126.8 216.7 126.8 216.7" stroke="#ff0000" class="dl"/><path d="M91.8 210.7L91.8 182.6" stroke="#ff0000" class="ds"/>
<path d="M42.1 204.2L42.1 204.2 42.2 204.2 42.2 204.2 42.2 204.2 42.2 204.3 42.2 204.3 42.2 204.3 42.2 204.3 42.2 204.4 42.3 204.5 42.3 204.5 42.3 204.6 42.3 204.7 42.4 204.9 42.4 205 42.5 205.1 42.6 205.3 42.6 205.3 42.6 205.5 42.7 205.7 42.9 205.9 43 206.1 43 206.1 43.2 206.3 43.4 206.5 43.4 206.6 43.6 206.8 43.9 207 43.9 207 44.2 207.3 44.3 207.4 44.6 207.6 44.7 207.7 45.1 207.9 45.2 208 45.6 208.3 45.7 208.3 46.1 208.5 46.3 208.7 46.5 208.8 46.9 209 47.4 209.3 47.8 209.5 48.2 209.7 48.7 209.9 49.1 210.1 49.6 210.3 50 210.6 50.4 210.8 50.9 211 51.3 211.2 51.7 211.4 52.2 211.5 52.6 211.7 53.1 211.9 53.5 212.1 53.9 212.3 54.4 212.5 54.8 212.7 55.2 212.9 55.7 213 56.1 213.2 56.6 213.4 57 213.6 57.4 213.8 57.9 213.9 58.3 214.1 58.7 214.3 59.2 214.5 59.6 214.6 60.1 214.8 60.5 215 60.9 215.2 61.4 215.3 61.8 215.5 62.2 215.7 62.7 215.9 63.1 216 63.6 216.2 64 216.4 64.4 216.5 64.9 216.7 65.3 216.9 65.7 217 66.2 217.2 66.6 217.4 67.1 217.5 67.5 217.7 67.9 217.9 68.4 218 68.8 218.2 69.2 218.3 69.7 218.5 70.1 218.7 70.6 218.8 71 219 71.4 219.2 71.9 219.3 72.3 219.5 72.7 219.6 73.2 219.8 73.6 219.9 74.1 220.1 74.5 220.3 74.9 220.4 75.4 220.6 75.8 220.7 76.2 220.9 76.7 221.1 77.1 221.2 77.6 221.4 78 221.5 78.4 221.7 78.9 221.8 79.3 222 79.7 222.1 80.2 222.3 80.6 222.4 81.1 222.6 81.5 222.7 81.9 222.9 82.4 223.1 82.8 223.2 83.2 223.4 83.7 223.5 84.1 223.7 84.6 223.8 85 224 85.4 224.1 85.9 224.3 86.3 224.4 86.7 224.5 87.2 224.7 87.6 224.8 88.1 225 88.5 225.1 88.9 225.3 89.4 225.4 89.8 225.6 90.2 225.7 90.7 225.9 91.1 226 91.6 226.1 92 226.3 92.4 226.4 92.9 226.6 93.3 226.7 93.7 226.8 94.2 227 94.6 227.1 95.1 227.3 95.5 227.4 95.9 227.5 96.4 227.7 96.8 227.8 97.2 227.9 97.7 228.1 98.1 228.2 98.6 228.3 99 228.5 99.4 228.6 99.9 228.7 100.3 228.8 100.7 229 101.2 229.1 101.6 229.2 102.1 229.3 102.5 229.4 102.9 229.6 103.4 229.7 103.8 229.8 104.2 229.9 104.7 230 105.1 230.1 105.6 230.2 106 230.3 106.4 230.4 106.9 230.5 107.3 230.5 107.7 230.6 107.9 230.6 108.2 230.7 108.6 230.7 108.6 230.7 109.1 230.7 109.1 230.7 109.5 230.8 109.6 230.8 109.9 230.7 110 230.7 110.3 230.7 110.4 230.7 110.6 230.6 110.8 230.6 110.9 230.6 111.1 230.5 111.2 230.4 111.2 230.4 111.4 230.3 111.5 230.2 111.6 230.1 111.7 229.9 111.7 229.9 111.7 229.8 111.8 229.7 111.9 229.6 111.9 229.5 111.9 229.4 112 229.4 112 229.3 112 229.3 112 229.2 112 229.2 112.1 229.2 112.1 229.2 112.1 229.2 112.1 229.1 112.1 229.1 112.1 229.1 112.1 229.1" stroke="#008000" class="dl"/><path d="M77.1 221.2L77.1 190" stroke="#008000" class="ds"/>
<path d="M27.4 206.3L27.4 206.3 27.4 206.3 27.4 206.3 27.4 206.4 27.5 206.4 27.5 206.4 27.5 206.5 27.5 206.5 27.5 206.6 27.5 206.7 27.6 206.8 27.6 206.9 27.6 207 27.7 207.2 27.7 207.4 27.8 207.6 27.8 207.8 27.8 207.8 27.9 208.1 28 208.3 28.1 208.6 28.3 208.8 28.3 208.8 28.5 209.1 28.7 209.4 28.7 209.5 28.9 209.7 29.1 210 29.2 210.1 29.5 210.4 29.6 210.5 29.9 210.8 30 210.9 30.4 211.2 30.5 211.2 30.9 211.6 30.9 211.6 31.3 211.9 31.6 212.1 31.8 212.2 32.2 212.5 32.6 212.7 33.1 213 33.5 213.2 34 213.5 34.4 213.7 34.8 214 35.3 214.2 35.7 214.4 36.1 214.6 36.6 214.8 37 215.1 37.5 215.3 37.9 215.5 38.3 215.7 38.8 215.9 39.2 216.1 39.6 216.3 40.1 216.5 40.5 216.7 41 216.9 41.4 217.1 41.8 217.3 42.3 217.5 42.7 217.6 43.1 217.8 43.6 218 44 218.2 44.5 218.4 44.9 218.6 45.3 218.7 45.8 218.9 46.2 219.1 46.6 219.3 47.1 219.5 47.5 219.6 48 219.8 48.4 220 48.8 220.2 49.3 220.3 49.7 220.5 50.1 220.7 50.6 220.9 51 221 51.5 221.2 51.9 221.4 52.3 221.5 52.8 221.7 53.2 221.9 53.6 222 54.1 222.2 54.5 222.4 55 222.5 55.4 222.7 55.8 222.9 56.3 223 56.7 223.2 57.1 223.4 57.6 223.5 58 223.7 58.5 223.8 58.9 224 59.3 224.2 59.8 224.3 60.2 224.5 60.6 224.6 61.1 224.8 61.5 225 62 225.1 62.4 225.3 62.8 225.4 63.3 225.6 63.7 225.7 64.2 225.9 64.6 226 65 226.2 65.5 226.3 65.9 226.5 66.3 226.6 66.8 226.8 67.2 226.9 67.7 227.1 68.1 227.2 68.5 227.4 69 227.5 69.4 227.7 69.8 227.8 70.3 228 70.7 228.1 71.2 228.3 71.6 228.4 72 228.6 72.5 228.7 72.9 228.9 73.3 229 73.8 229.1 74.2 229.3 74.7 229.4 75.1 229.6 75.5 229.7 76 229.8 76.4 230 76.8 230.1 77.3 230.2 77.7 230.4 78.2 230.5 78.6 230.6 79 230.8 79.5 230.9 79.9 231 80.3 231.2 80.8 231.3 81.2 231.4 81.7 231.6 82.1 231.7 82.5 231.8 83 231.9 83.4 232 83.8 232.2 84.3 232.3 84.7 232.4 85.2 232.5 85.6 232.6 86 232.7 86.5 232.8 86.9 232.9 87.3 233.1 87.8 233.2 88.2 233.3 88.7 233.3 89.1 233.4 89.5 233.5 90 233.6 90.4 233.7 90.8 233.8 91.3 233.8 91.7 233.9 92.2 233.9 92.6 234 93 234 93.2 234 93.5 234 93.9 234 93.9 234 94.3 234 94.4 234 94.8 234 94.9 233.9 95.2 233.9 95.3 233.9 95.6 233.7 95.7 233.7 95.9 233.6 96.1 233.5 96.1 233.5 96.3 233.3 96.5 233.2 96.5 233.1 96.7 233 96.8 232.8 96.9 232.6 97 232.5 97 232.5 97 232.3 97.1 232.1 97.1 232 97.2 231.8 97.2 231.7 97.2 231.6 97.3 231.5 97.3 231.4 97.3 231.4 97.3 231.4 97.3 231.3 97.3 231.3 97.4 231.3 97.4 231.3 97.4 231.3 97.4 231.3 97.4 231.2" stroke="#0000ff" class="dl"/><path d="M62.4 225.3L62.4 197.1" stroke="#0000ff" class="ds"/>
<g class="tk"><text x="24.8" y="224.9" text-anchor="end">-200</text><text x="24.8" y="209.6" text-anchor="end">-100</text><text x="24.8" y="194.3" text-anchor="end">0</text><text x="24.8" y="179" text-anchor="end">100</text><text transform="translate(31.7 232) scale(0.8 1)" text-anchor="end">-0.4</text><text transform="translate(45.7 236.99) scale(0.8 1)" text-anchor="end">-0.2</text><text transform="translate(59.7 241.97) scale(0.8 1)" text-anchor="end">0</text><text transform="translate(73.7 246.97) scale(0.8 1)" text-anchor="end">0.2</text><text transform="translate(87.7 251.95) scale(0.8 1)" text-anchor="end">0.4</text><text class="sl" transform="translate(99.9 254.05) scale(0.78 1)">CML</text><text class="sl" transform="translate(114.62 246.78) scale(0.78 1)">MCML</text><text class="sl" transform="translate(129.34 239.51) scale(0.78 1)">DCML</text><text class="sl" transform="translate(144.06 232.24) scale(0.78 1)">MDCML</text><text class="sl" transform="translate(158.78 224.97) scale(0.78 1)">BCML</text></g>
<text class="al" transform="translate(14.8 200.6) rotate(-90)" text-anchor="middle">Power (dB)</text>
<text class="al" transform="translate(54 248.8) rotate(19.7)" text-anchor="middle">Frequency (Hz)</text>
<text class="cap" y="269.8"><tspan x="47.18" font-weight="bold" font-size="9.2">(d)</tspan><tspan x="63.42" font-style="italic">μ</tspan><tspan x="72.72" class="eq" textLength="6.1" lengthAdjust="spacingAndGlyphs">=</tspan><tspan x="82.72" textLength="18.4" lengthAdjust="spacingAndGlyphs">2.99,</tspan><tspan x="102.72" font-style="italic">e</tspan><tspan x="111.02" class="eq" textLength="6.4" lengthAdjust="spacingAndGlyphs">=</tspan><tspan x="119.62" textLength="11.6" lengthAdjust="spacingAndGlyphs">0.1</tspan></text>
<path class="gr" d="M202 226L260.8 196.9M216.1 231L274.5 201.8M230.2 236.1L288.2 206.7M244.2 241.1L302 211.6M258.3 246.1L315.7 216.6M209.7 216.2L279.6 241.2M224.4 209L293.9 233.8M239.2 201.7L308.3 226.4M253.9 194.4L322.6 219M209.7 216.2L209.7 170.3M224.4 209L224.4 163.1M239.2 201.7L239.2 155.8M253.9 194.4L253.9 148.5M195 223.5L253.9 194.4M195 208.2L253.9 179.1M195 192.9L253.9 163.8M195 177.6L253.9 148.5M260.8 196.9L260.8 151M274.5 201.8L274.5 155.9M288.2 206.7L288.2 160.8M302 211.6L302 165.7M315.7 216.6L315.7 170.7M253.9 194.4L322.6 219M253.9 179.1L322.6 203.7M253.9 163.8L322.6 188.4M253.9 148.5L322.6 173.1"/>
<path class="ax" d="M195 223.5L195 177.6M195 223.5L265.3 248.6M265.3 248.6L322.6 219M195 223.5L196.2 222.9M195 208.2L196.2 207.6M195 192.9L196.2 192.3M195 177.6L196.2 177M202 226L203.2 225.4M216.1 231L217.3 230.5M230.2 236.1L231.3 235.5M244.2 241.1L245.4 240.5M258.3 246.1L259.4 245.5M265.3 248.6L264.1 248.2M279.6 241.2L278.4 240.8M293.9 233.8L292.7 233.4M308.3 226.4L307 226M322.6 219L321.4 218.6"/>
<path transform="matrix(0.03819 0.01367 0 -0.153 253.88 163.82)" d="M0 10 l1 -2 1 0 1 1 1 -5 1 5 1 -18 1 15 1 -7 1 8 1 4 1 -2 1 -5 1 3 1 -3 1 -1 1 7 1 -3 1 4 1 -3 1 1 1 -6 1 -2 1 -8 1 10 1 -1 1 3 1 -1 1 1 1 0 1 4 1 -2 1 0 1 0 1 2 1 0 1 -10 1 10 1 2 1 -7 1 1 1 0 1 5 1 -6 1 5 1 -4 1 2 1 -2 1 -4 1 5 1 -5 1 8 1 -4 1 -3 1 -2 1 3 1 -6 1 9 1 1 1 3 1 -9 1 8 1 -4 1 2 1 -3 1 5 1 -3 1 -5 1 4 1 -4 1 2 1 4 1 -7 1 5 1 -4 1 11 1 -5 1 -1 1 -3 1 7 1 -6 1 5 1 -4 1 -10 1 5 1 8 1 1 1 -6 1 4 1 -18 1 21 1 -2 1 4 1 -5 1 -3 1 2 1 -3 1 -1 1 5 1 0 1 -1 1 1 1 4 1 -1 1 2 1 -4 1 -4 1 -2 1 7 1 -6 1 5 1 -1 1 -5 1 4 1 -1 1 -4 1 5 1 0 1 5 1 -4 1 -1 1 2 1 -3 1 -1 1 3 1 0 1 2 1 -1 1 -6 1 -5 1 10 1 4 1 -2 1 1 1 1 1 -6 1 1 1 -2 1 2 1 4 1 -4 1 1 1 -4 1 -6 1 10 1 -2 1 3 1 2 1 -3 1 0 1 0 1 -1 1 3 1 -5 1 7 1 -8 1 7 1 -8 1 10 1 -4 1 3 1 -2 1 1 1 -1 1 -2 1 -4 1 6 1 -7 1 1 1 1 1 -1 1 0 1 2 1 3 1 2 1 -5 1 2 1 2 1 1 1 0 1 -2 1 -5 1 1 1 0 1 4 1 -4 1 -3 1 6 1 2 1 -9 1 7 1 -1 1 5 1 -11 1 3 1 -11 1 19 1 -11 1 6 1 0 1 3 1 -2 1 1 1 -10 1 5 1 4 1 -3 1 -2 1 7 1 1 1 -6 1 -2 1 3 1 1 1 1 1 -4 1 7 1 -5 1 -1 1 -2 1 5 1 -1 1 3 1 -7 1 7 1 -4 1 -2 1 -9 1 4 1 4 1 5 1 -8 1 8 1 -3 1 2 1 -2 1 5 1 0 1 -1 1 0 1 -3 1 4 1 -1 1 -4 1 -1 1 -13 1 20 1 -4 1 -5 1 1 1 1 1 3 1 -2 1 7 1 0 1 -5 1 -8 1 3 1 3 1 9 1 -11 1 -5 1 5 1 9 1 -3 1 4 1 -7 1 -1 1 3 1 -14 1 6 1 14 1 -3 1 -5 1 -1 1 -2 1 3 1 1 1 2 1 5 1 -7 1 1 1 2 1 -1 1 -1 1 2 1 -4 1 4 1 -5 1 -6 1 4 1 1 1 8 1 -1 1 2 1 -8 1 -2 1 1 1 -9 1 15 1 -6 1 7 1 1 1 -10 1 3 1 6 1 0 1 -5 1 0 1 -2 1 6 1 1 1 -7 1 7 1 0 1 -6 1 -1 1 0 1 -1 1 4 1 -3 1 3 1 -3 1 4 1 -3 1 -2 1 6 1 -12 1 -2 1 11 1 8 1 -7 1 -5 1 10 1 -4 1 -1 1 1 1 4 1 -10 1 -5 1 1 1 4 1 1 1 9 1 -8 1 3 1 2 1 -2 1 -3 1 6 1 -8 1 1 1 8 1 1 1 -5 1 -2 1 4 1 3 1 -8 1 1 1 4 1 0 1 -4 1 5 1 -1 1 -3 1 -18 1 12 1 6 1 2 1 -3 1 4 1 -1 1 3 1 -15 1 7 1 -1 1 6 1 2 1 -1 1 -13 1 15 1 -6 1 0 1 3 1 1 1 1 1 3 1 -17 1 6 1 -4 1 11 1 -1 1 4 1 -10 1 8 1 3 1 -7 1 -2 1 4 1 2 1 -2 1 0 1 -2 1 -4 1 5 1 -6 1 4 1 -1 1 2 1 -2 1 6 1 -15 1 3 1 10 1 -3 1 -3 1 4 1 2 1 -8 1 9 1 -2 1 2 1 -11 1 8 1 0 1 1 1 -1 1 -3 1 -10 1 11 1 -6 1 10 1 -5 1 6 1 -6 1 -22 1 24 1 -13 1 18 1 -8 1 6 1 -1 1 5 1 -9 1 1 1 6 1 -3 1 -8 1 8 1 -4 1 8 1 -1 1 -9 1 5 1 -8 1 11 1 -10 1 10 1 -5 1 4 1 2 1 0 1 -4 1 5 1 -7 1 1 1 -7 1 7 1 8 1 -6 1 3 1 -11 1 11 1 0 1 -9 1 -3 1 11 1 -12 1 10 1 -3 1 6 1 -4 1 -3 1 1 1 5 1 -4 1 -1 1 4 1 -4 1 8 1 -11 1 10 1 -8 1 3 1 4 1 -8 1 -1 1 8 1 -2 1 2 1 1 1 -7 1 10 1 -6 1 1 1 4 1 -6 1 -5 1 0 1 10 1 -6 1 0 1 4 1 0 1 -4 1 2 1 -2 1 -3 1 -8 1 14 1 -4 1 5 1 2 1 -6 1 5 1 1 1 -3 1 2 1 -6 1 6 1 -1 1 -7 1 5 1 -7 1 5 1 -1 1 -4 1 9 1 0 1 -1 1 0 1 -11 1 6 1 3 1 -4 1 -1 1 4 1 7 1 -3 1 -1 1 -2 1 2 1 -2 1 -1 1 3 1 -4 1 0 1 -2 1 10 1 -6 1 -4 1 -1 1 3 1 4 1 -1 1 2 1 -2 1 -2 1 5 1 -6 1 -5 1 11 1 -5 1 9 1 -1 1 -15 1 13 1 -1 1 -2 1 -5 1 -3 1 8 1 -2 1 7 1 -7 1 2 1 2 1 -2 1 -6 1 7 1 0 1 -2 1 -6 1 -1 1 5 1 7 1 -5 1 1 1 -1 1 -7 1 11 1 -4 1 -5 1 10 1 -7 1 7 1 -15 1 14 1 -13 1 12 1 -1 1 -7 1 -1 1 3 1 -1 1 7 1 -2 1 1 1 -10 1 4 1 -1 1 -3 1 8 1 5 1 -5 1 -15 1 14 1 2 1 4 1 -10 1 8 1 -7 1 -1 1 9 1 -4 1 0 1 -1 1 -3 1 6 1 -5 1 -2 1 3 1 1 1 7 1 -8 1 -4 1 5 1 -6 1 12 1 -8 1 3 1 1 1 -8 1 6 1 5 1 -3 1 1 1 -3 1 5 1 -4 1 2 1 1 1 -6 1 6 1 -3 1 -4 1 -2 1 7 1 1 1 -5 1 1 1 5 1 -1 1 -9 1 0 1 4 1 -2 1 -8 1 20 1 -8 1 -11 1 11 1 0 1 -1 1 4 1 1 1 -9 1 7 1 -3 1 0 1 -5 1 11 1 -2 1 2 1 -10 1 7 1 1 1 -4 1 -1 1 1 1 9 1 -11 1 6 1 1 1 -10 1 8 1 4 1 -1 1 -1 1 -3 1 -2 1 0 1 4 1 -3 1 8 1 -10 1 -2 1 0 1 9 1 -3 1 -1 1 3 1 -2 1 -2 1 -5 1 10 1 -16 1 12 1 -3 1 5 1 -2 1 1 1 -1 1 -4 1 9 1 -9 1 3 1 -5 1 11 1 -10 1 -2 1 9 1 0 1 -4 1 3 1 0 1 -5 1 -7 1 9 1 9 1 -7 1 0 1 -6 1 7 1 -4 1 9 1 -11 1 -1 1 1 1 -3 1 5 1 0 1 5 1 -1 1 1 1 -3 1 0 1 -4 1 9 1 -8 1 -1 1 4 1 1 1 -1 1 2 1 -4 1 9 1 -13 1 6 1 -9 1 14 1 1 1 -3 1 -15 1 4 1 7 1 2 1 -1 1 -5 1 7 1 -18 1 20 1 -4 1 -3 1 6 1 -1 1 2 1 -15 1 7 1 5 1 2 1 -2 1 5 1 -10 1 4 1 1 1 3 1 0 1 -6 1 5 1 3 1 -9 1 1 1 6 1 -7 1 0 1 4 1 3 1 -1 1 2 1 -12 1 6 1 3 1 2 1 -2 1 -1 1 3 1 -4 1 -2 1 0 1 5 1 -1 1 3 1 -2 1 0 1 0 1 0 1 2 1 -9 1 9 1 -4 1 -8 1 -2 1 5 1 7 1 -9 1 2 1 6 1 -2 1 -7 1 8 1 4 1 -14 1 13 1 -3 1 -9 1 5 1 4 1 -1 1 -6 1 10 1 -1 1 0 1 -3 1 0 1 1 1 -1 1 7 1 -15 1 8 1 -2 1 2 1 0 1 -6 1 9 1 0 1 -6 1 10 1 -5 1 -3 1 1 1 6 1 -9 1 5 1 3 1 -2 1 -8 1 2 1 2 1 1 1 -6 1 1 1 9 1 -2 1 -6 1 8 1 -8 1 8 1 2 1 -1 1 0 1 -5 1 2 1 3 1 -2 1 -6 1 4 1 5 1 -4 1 -3 1 7 1 -3 1 -2 1 -1 1 -3 1 5 1 -3 1 -1 1 0 1 -2 1 2 1 6 1 -5 1 -3 1 11 1 -12 1 12 1 -6 1 3 1 -8 1 9 1 -1 1 -2 1 -2 1 -1 1 5 1 -1 1 0 1 -4 1 -10 1 16 1 -2 1 -9 1 4 1 0 1 -1 1 5 1 -8 1 7 1 -3 1 -1 1 -6 1 15 1 1 1 -7 1 3 1 -21 1 24 1 -10 1 -5 1 12 1 -4 1 0 1 -2 1 6 1 -4 1 -10 1 14 1 3 1 -11 1 3 1 7 1 -9 1 5 1 -3 1 -4 1 7 1 -2 1 -5 1 11 1 -3 1 -5 1 0 1 -7 1 16 1 -6 1 6 1 -5 1 -3 1 3 1 -2 1 5 1 -5 1 1 1 4 1 -2 1 1 1 -1 1 0 1 -4 1 5 1 -4 1 -3 1 2 1 4 1 -8 1 2 1 8 1 -9 1 9 1 -5 1 1 1 6 1 -6 1 -3 1 -2 1 9 1 -4 1 -2 1 8 1 -14 1 11 1 -7 1 6 1 -8 1 7 1 -12 1 13 1 -8 1 8 1 -2 1 -7 1 13 1 -4 1 1 1 0 1 2 1 -8 1 7 1 -6 1 5 1 -9 1 -3 1 4 1 2 1 6 1 -2 1 -12 1 18 1 -5 1 -3 1 3 1 0 1 -18 1 13 1 6 1 -2 1 -1 1 0 1 3 1 -4 1 6 1 -12 1 10 1 -4 1 3 1 -8 1 7 1 3 1 -1 1 -1 1 -4 1 6 1 -5 1 2 1 4 1 -7 1 3 1 -4 1 7 1 -4 1 5 1 -7 1 6 1 1 1 -2 1 0 1 -7 1 1 1 5 1 0 1 -6 1 0 1 5 1 2 1 -3 1 -1 1 7 1 1 1 -7 1 4 1 -3 1 -2 1 2 1 2 1 0 1 -2 1 -2 1 3 1 -2 1 6 1 -6 1 0 1 4 1 -4 1 -2 1 4 1 1 1 2 1 -1 1 4 1 -15 1 2 1 8 1 -1 1 1 1 3 1 -5 1 -6 1 1 1 0 1 8 1 -1 1 -1 1 -3 1 4 1 1 1 -2 1 0 1 -4 1 4 1 -3 1 -2 1 7 1 0 1 -6 1 -2 1 9 1 -8 1 5 1 -7 1 8 1 -4 1 4 1 -5 1 3 1 -5 1 7 1 2 1 -2 1 -1 1 3 1 -3 1 0 1 -1 1 -5 1 -7 1 14 1 1 1 0 1 -8 1 5 1 6 1 -4 1 1 1 2 1 2 1 -9 1 2 1 5 1 -6 1 3 1 -1 1 -8 1 12 1 -10 1 6 1 0 1 6 1 -2 1 -2 1 -2 1 1 1 -1 1 -3 1 2 1 1 1 -2 1 -12 1 9 1 5 1 3 1 -4 1 2 1 0 1 -10 1 16 1 -12 1 -8 1 18 1 -19 1 17 1 -6 1 0 1 0 1 1 1 -5 1 7 1 -1 1 -7 1 1 1 2 1 6 1 1 1 -1 1 -3 1 2 1 2 1 -3 1 5 1 -9 1 5 1 2 1 -1 1 3 1 -2 1 -1 1 0 1 3 1 -4 1 -7 1 8 1 -4 1 9 1 -4 1 -9 1 8 1 1 1 2 1 3 1 -7 1 -1 1 -4 1 9 1 -2 1 2 1 0 1 -8 1 -2 1 8 1 2 1 -5 1 4 1 3 1 -5 1 -3 1 5 1 -1 1 -2 1 3 1 -9 1 5 1 -5 1 4 1 8 1 0 1 -10 1 6 1 0 1 -2 1 1 1 1 1 -2 1 -2 1 0 1 5 1 1 1 1 1 -3 1 0 1 2 1 -1 1 -4 1 4 1 -4 1 5 1 0 1 -2 1 -1 1 -1 1 4 1 -3 1 -6 1 10 1 -3 1 -8 1 9 1 -14 1 13 1 -5 1 -2 1 9 1 -10 1 2 1 3 1 -5 1 10 1 -8 1 11 1 -5 1 -4 1 -1 1 4 1 -12 1 9 1 5 1 2 1 -4 1 -3 1 -7 1 3 1 6 1 4 1 -4 1 4 1 1 1 -8 1 3 1 0 1 -1 1 3 1 -13 1 1 1 5 1 7 1 1 1 2 1 -4 1 0 1 3 1 -6 1 0 1 8 1 -5 1 0 1 2 1 -1 1 2 1 0 1 -3 1 3 1 -13 1 13 1 1 1 -2 1 -8 1 8 1 -11 1 9 1 2 1 1 1 1 1 -3 1 -13 1 6 1 5 1 -1 1 3 1 -4 1 5 1 1 1 0 1 0 1 0 1 -8 1 -2 1 9 1 -1 1 7 1 -6 1 -4 1 -2 1 7 1 -4 1 2 1 -4 1 -1 1 8 1 -2 1 1 1 -3 1 3 1 -8 1 -4 1 8 1 -3 1 4 1 6 1 -7 1 3 1 -10 1 7 1 -5 1 1 1 7 1 2 1 0 1 -1 1 -7 1 6 1 -2 1 -7 1 12 1 -12 1 -7 1 0 1 16 1 -2 1 -1 1 5 1 -5 1 4 1 -14 1 11 1 6 1 -3 1 1 1 -19 1 15 1 2 1 1 1 1 1 -5 1 0 1 1 1 2 1 -13 1 2 1 11 1 -4 1 -1 1 0 1 5 1 -2 1 -13 1 12 1 0 1 1 1 2 1 -6 1 1 1 0 1 5 1 -2 1 4 1 -5 1 1 1 -2 1 6 1 -3 1 -1 1 3 1 -7 1 7 1 -6 1 5 1 0 1 4 1 -6 1 5 1 -3 1 -10 1 11 1 -1 1 -3 1 4 1 4 1 -2 1 -4 1 5 1 -11 1 10 1 -13 1 9 1 4 1 -8 1 -1 1 -3 1 -1 1 4 1 1 1 1 1 1 1 5 1 -4 1 2 1 -5 1 1 1 7 1 0 1 0 1 -8 1 5 1 2 1 -2 1 0 1 -5 1 0 1 3 1 2 1 3 1 -2 1 -3 1 4 1 -1 1 -2 1 0 1 -1 1 0 1 -13 1 13 1 -3 1 8 1 -5 1 0 1 -1 1 6 1 -4 1 2 1 -1 1 -3 1 4 1 1 1 -4 1 -1 1 1 1 3 1 -3 1 4 1 1 1 -5 1 -2 1 -7 1 8 1 5 1 1 1 -3 1 5 1 -7 1 0 1 2 1 -1 1 -7 1 11 1 -9 1 9 1 -2 1 -3 1 -8 1 4 1 3 1 -20 1 25 1 -8 1 7 1 -10 1 3 1 2 1 -5 1 5 1 -1 1 5 1 2 1 -8 1 -1 1 10 1 -6 1 4 1 -5 1 4 1 -8 1 5 1 -8 1 9 1 0 1 1 1 -2 1 -4 1 7 1 -7 1 9 1 -6 1 -8 1 12 1 0 1 1 1 -4 1 -3 1 8 1 -20 1 14 1 4 1 -4 1 1 1 3 1 -3 1 6 1 -6 1 -2 1 -7 1 12 1 0 1 -4 1 -2 1 6 1 -8 1 10 1 -5 1 0 1 -15 1 18 1 -1 1 4 1 -10 1 2 1 5 1 4 1 -9 1 5 1 -1 1 -5 1 0 1 6 1 4 1 -13 1 5 1 5 1 -4 1 2 1 0 1 7 1 -5 1 1 1 -3 1 -6 1 9 1 -1 1 -4 1 5 1 0 1 -5 1 1 1 3 1 -1 1 -1 1 -3 1 6 1 -7 1 5 1 2 1 -9 1 6 1 1 1 -2 1 4 1 -6 1 11 1 -14 1 9 1 -4 1 2 1 1 1 -2 1 -2 1 8 1 -6 1 4 1 -5 1 1 1 3 1 0 1 -5 1 0 1 4 1 -1 1 1 1 4 1 -10 1 2 1 8 1 -7 1 3 1 4 1 -10 1 8 1 1 1 -9 1 -1 1 6 1 -1 1 -7 1 8 1 0 1 -5 1 8 1 2 1 -11 1 3 1 2 1 -8 1 9 1 -4 1 2 1 2 1 7 1 -10 1 -2 1 12 1 -5 1 0 1 4 1 -1 1 -10 1 2 1 1 1 1 1 5 1 3 1 -12 1 5 1 0 1 1 1 0 1 6 1 -5 1 -18 1 19 1 -2 1 3 1 -5 1 0 1 -1 1 1 1 3 1 -2 1 3 1 -3 1 3 1 -7 1 -1 1 -5 1 17 1 -13 1 7 1 3 1 -6 1 1 1 -4 1 10 1 -7 1 4 1 0 1 1 1 1 1 -7 1 -1 1 8 1 -3 1 3 1 -5 1 4 1 1 1 -9 1 -2 1 12 1 -7 1 3 1 -3 1 2 1 -4 1 0 1 5 1 3 1 -2 1 -3 1 5 1 -13 1 7 1 -1" stroke="#bf00bf" class="dn"/><path d="M253.9 162.9L253.9 157.7M288.2 175.4L288.2 171.5" stroke="#bf00bf" class="dsn"/>
<path d="M239.2 184.2L239.2 184.2 239.2 184.2 239.2 184.2 239.2 184.2 239.2 184.3 239.2 184.3 239.2 184.3 239.3 184.4 239.3 184.5 239.3 184.5 239.3 184.7 239.3 184.8 239.4 184.9 239.4 185.1 239.5 185.3 239.5 185.5 239.6 185.7 239.6 185.7 239.7 186 239.8 186.2 239.9 186.5 240 186.7 240 186.7 240.2 187 240.4 187.3 240.5 187.4 240.6 187.6 240.9 187.9 240.9 187.9 241.2 188.3 241.3 188.4 241.6 188.7 241.8 188.8 242.1 189 242.2 189.1 242.6 189.4 242.6 189.5 243 189.8 243.3 189.9 243.5 190 243.9 190.3 244.3 190.6 244.8 190.9 245.2 191.1 245.6 191.3 246.1 191.6 246.5 191.8 246.9 192 247.4 192.3 247.8 192.5 248.2 192.7 248.7 192.9 249.1 193.1 249.5 193.3 250 193.5 250.4 193.7 250.8 193.9 251.3 194.1 251.7 194.3 252.1 194.5 252.5 194.7 253 194.9 253.4 195.1 253.8 195.3 254.3 195.5 254.7 195.7 255.1 195.8 255.6 196 256 196.2 256.4 196.4 256.9 196.6 257.3 196.8 257.7 196.9 258.2 197.1 258.6 197.3 259 197.5 259.5 197.6 259.9 197.8 260.3 198 260.8 198.2 261.2 198.3 261.6 198.5 262 198.7 262.5 198.8 262.9 199 263.3 199.2 263.8 199.3 264.2 199.5 264.6 199.7 265.1 199.8 265.5 200 265.9 200.2 266.4 200.3 266.8 200.5 267.2 200.7 267.7 200.8 268.1 201 268.5 201.1 269 201.3 269.4 201.5 269.8 201.6 270.3 201.8 270.7 201.9 271.1 202.1 271.6 202.3 272 202.4 272.4 202.6 272.8 202.7 273.3 202.9 273.7 203 274.1 203.2 274.6 203.3 275 203.5 275.4 203.7 275.9 203.8 276.3 204 276.7 204.1 277.2 204.3 277.6 204.4 278 204.6 278.5 204.7 278.9 204.9 279.3 205 279.8 205.1 280.2 205.3 280.6 205.4 281.1 205.6 281.5 205.7 281.9 205.9 282.3 206 282.8 206.2 283.2 206.3 283.6 206.5 284.1 206.6 284.5 206.7 284.9 206.9 285.4 207 285.8 207.2 286.2 207.3 286.7 207.4 287.1 207.6 287.5 207.7 288 207.8 288.4 208 288.8 208.1 289.3 208.2 289.7 208.4 290.1 208.5 290.6 208.6 291 208.8 291.4 208.9 291.8 209 292.3 209.1 292.7 209.3 293.1 209.4 293.6 209.5 294 209.6 294.4 209.7 294.9 209.9 295.3 210 295.7 210.1 296.2 210.2 296.6 210.3 297 210.4 297.5 210.5 297.9 210.6 298.3 210.7 298.8 210.8 299.2 210.9 299.6 211 300.1 211.1 300.5 211.2 300.9 211.3 301.4 211.4 301.8 211.4 302.2 211.5 302.6 211.6 303.1 211.6 303.5 211.7 303.9 211.7 304.1 211.7 304.4 211.7 304.8 211.7 304.8 211.7 305.2 211.7 305.3 211.7 305.7 211.6 305.8 211.6 306.1 211.5 306.2 211.5 306.5 211.4 306.5 211.4 306.8 211.3 307 211.2 307 211.1 307.2 211 307.4 210.8 307.4 210.8 307.5 210.7 307.6 210.5 307.7 210.3 307.8 210.1 307.8 210.1 307.9 210 307.9 209.8 308 209.6 308 209.5 308.1 209.4 308.1 209.3 308.1 209.2 308.1 209.1 308.2 209.1 308.2 209 308.2 209 308.2 209 308.2 208.9 308.2 208.9 308.2 208.9 308.2 208.9 308.3 208.9" stroke="#00bfbf" class="dl"/><path d="M273.7 203L273.7 175.2" stroke="#00bfbf" class="ds"/>
<path d="M224.4 194.8L224.5 194.8 224.5 194.9 224.5 194.9 224.5 194.9 224.5 194.9 224.5 194.9 224.5 195 224.5 195 224.6 195.1 224.6 195.2 224.6 195.3 224.6 195.4 224.7 195.6 224.7 195.7 224.8 195.9 224.8 196.1 224.9 196.3 224.9 196.4 225 196.6 225.1 196.8 225.2 197.1 225.3 197.3 225.3 197.4 225.5 197.6 225.7 197.9 225.7 198 225.9 198.3 226.2 198.6 226.2 198.6 226.5 198.9 226.6 199 226.9 199.3 227 199.4 227.4 199.7 227.5 199.8 227.9 200.1 227.9 200.1 228.3 200.4 228.6 200.6 228.8 200.7 229.2 201 229.7 201.2 230.1 201.5 230.5 201.8 231 202 231.4 202.2 231.8 202.5 232.3 202.7 232.7 202.9 233.1 203.1 233.6 203.4 234 203.6 234.4 203.8 234.9 204 235.3 204.2 235.7 204.4 236.2 204.6 236.6 204.8 237 205 237.5 205.2 237.9 205.4 238.3 205.6 238.8 205.8 239.2 206 239.6 206.1 240.1 206.3 240.5 206.5 240.9 206.7 241.4 206.9 241.8 207.1 242.2 207.2 242.7 207.4 243.1 207.6 243.6 207.8 244 208 244.4 208.1 244.9 208.3 245.3 208.5 245.7 208.7 246.2 208.8 246.6 209 247 209.2 247.5 209.3 247.9 209.5 248.3 209.7 248.8 209.9 249.2 210 249.6 210.2 250.1 210.4 250.5 210.5 250.9 210.7 251.4 210.9 251.8 211 252.2 211.2 252.7 211.3 253.1 211.5 253.5 211.7 254 211.8 254.4 212 254.8 212.2 255.3 212.3 255.7 212.5 256.1 212.6 256.6 212.8 257 213 257.5 213.1 257.9 213.3 258.3 213.4 258.8 213.6 259.2 213.7 259.6 213.9 260.1 214 260.5 214.2 260.9 214.4 261.4 214.5 261.8 214.7 262.2 214.8 262.7 215 263.1 215.1 263.5 215.3 264 215.4 264.4 215.6 264.8 215.7 265.3 215.9 265.7 216 266.1 216.2 266.6 216.3 267 216.4 267.4 216.6 267.9 216.7 268.3 216.9 268.7 217 269.2 217.2 269.6 217.3 270 217.5 270.5 217.6 270.9 217.7 271.4 217.9 271.8 218 272.2 218.1 272.7 218.3 273.1 218.4 273.5 218.6 274 218.7 274.4 218.8 274.8 219 275.3 219.1 275.7 219.2 276.1 219.4 276.6 219.5 277 219.6 277.4 219.7 277.9 219.9 278.3 220 278.7 220.1 279.2 220.2 279.6 220.4 280 220.5 280.5 220.6 280.9 220.7 281.3 220.8 281.8 220.9 282.2 221.1 282.6 221.2 283.1 221.3 283.5 221.4 283.9 221.5 284.4 221.6 284.8 221.7 285.3 221.8 285.7 221.9 286.1 222 286.6 222 287 222.1 287.4 222.2 287.9 222.3 288.3 222.3 288.7 222.4 289.2 222.4 289.6 222.4 289.8 222.4 290 222.5 290.4 222.5 290.5 222.5 290.9 222.4 291 222.4 291.3 222.4 291.5 222.4 291.8 222.3 291.9 222.3 292.2 222.2 292.2 222.2 292.5 222 292.6 221.9 292.7 221.9 292.9 221.7 293.1 221.6 293.1 221.6 293.2 221.4 293.3 221.2 293.4 221.1 293.5 220.9 293.5 220.9 293.6 220.7 293.6 220.6 293.7 220.4 293.7 220.3 293.8 220.1 293.8 220 293.8 219.9 293.8 219.9 293.8 219.8 293.9 219.8 293.9 219.7 293.9 219.7 293.9 219.7 293.9 219.7 293.9 219.7 293.9 219.7 293.9 219.7" stroke="#ff0000" class="dl"/><path d="M259.2 213.7L259.2 182.5" stroke="#ff0000" class="ds"/>
<path d="M209.7 199L209.7 199.1 209.8 199.1 209.8 199.1 209.8 199.1 209.8 199.1 209.8 199.1 209.8 199.2 209.8 199.2 209.8 199.3 209.9 199.4 209.9 199.5 209.9 199.6 209.9 199.8 210 199.9 210 200.1 210.1 200.3 210.2 200.5 210.2 200.6 210.2 200.8 210.3 201 210.5 201.3 210.6 201.6 210.6 201.6 210.8 201.9 211 202.2 211 202.2 211.2 202.5 211.5 202.8 211.5 202.8 211.8 203.1 211.9 203.2 212.2 203.5 212.3 203.6 212.7 203.9 212.8 204 213.2 204.3 213.2 204.3 213.7 204.6 213.9 204.8 214.1 204.9 214.5 205.2 215 205.5 215.4 205.7 215.8 206 216.3 206.2 216.7 206.5 217.1 206.7 217.6 206.9 218 207.1 218.5 207.4 218.9 207.6 219.3 207.8 219.8 208 220.2 208.2 220.6 208.4 221.1 208.6 221.5 208.8 222 209 222.4 209.2 222.8 209.4 223.3 209.6 223.7 209.8 224.1 210 224.6 210.2 225 210.4 225.4 210.6 225.9 210.8 226.3 210.9 226.8 211.1 227.2 211.3 227.6 211.5 228.1 211.7 228.5 211.8 228.9 212 229.4 212.2 229.8 212.4 230.3 212.6 230.7 212.7 231.1 212.9 231.6 213.1 232 213.3 232.4 213.4 232.9 213.6 233.3 213.8 233.7 213.9 234.2 214.1 234.6 214.3 235.1 214.4 235.5 214.6 235.9 214.8 236.4 214.9 236.8 215.1 237.2 215.3 237.7 215.4 238.1 215.6 238.6 215.8 239 215.9 239.4 216.1 239.9 216.3 240.3 216.4 240.7 216.6 241.2 216.7 241.6 216.9 242 217.1 242.5 217.2 242.9 217.4 243.4 217.5 243.8 217.7 244.2 217.9 244.7 218 245.1 218.2 245.5 218.3 246 218.5 246.4 218.6 246.9 218.8 247.3 218.9 247.7 219.1 248.2 219.2 248.6 219.4 249 219.5 249.5 219.7 249.9 219.8 250.3 220 250.8 220.1 251.2 220.3 251.7 220.4 252.1 220.6 252.5 220.7 253 220.9 253.4 221 253.8 221.2 254.3 221.3 254.7 221.5 255.2 221.6 255.6 221.7 256 221.9 256.5 222 256.9 222.2 257.3 222.3 257.8 222.4 258.2 222.6 258.7 222.7 259.1 222.9 259.5 223 260 223.1 260.4 223.3 260.8 223.4 261.3 223.5 261.7 223.7 262.1 223.8 262.6 223.9 263 224 263.5 224.2 263.9 224.3 264.3 224.4 264.8 224.6 265.2 224.7 265.6 224.8 266.1 224.9 266.5 225 267 225.1 267.4 225.3 267.8 225.4 268.3 225.5 268.7 225.6 269.1 225.7 269.6 225.8 270 225.9 270.4 226 270.9 226.1 271.3 226.2 271.8 226.3 272.2 226.4 272.6 226.4 273.1 226.5 273.5 226.6 273.9 226.6 274.4 226.7 274.8 226.7 275.3 226.8 275.4 226.8 275.7 226.8 276.1 226.8 276.1 226.8 276.6 226.8 276.7 226.8 277 226.7 277.1 226.7 277.4 226.6 277.5 226.6 277.9 226.5 277.9 226.5 278.1 226.4 278.3 226.3 278.4 226.2 278.6 226.1 278.7 225.9 278.7 225.9 278.9 225.7 279 225.6 279.1 225.4 279.2 225.2 279.2 225.2 279.2 225.1 279.3 224.9 279.4 224.7 279.4 224.6 279.4 224.5 279.5 224.4 279.5 224.3 279.5 224.2 279.5 224.1 279.5 224.1 279.6 224.1 279.6 224.1 279.6 224 279.6 224 279.6 224 279.6 224 279.6 224" stroke="#008000" class="dl"/><path d="M244.7 218L244.7 189.9" stroke="#008000" class="ds"/>
<path d="M195 205.8L195 205.9 195 205.9 195 205.9 195 205.9 195.1 205.9 195.1 206 195.1 206 195.1 206.1 195.1 206.1 195.1 206.2 195.2 206.3 195.2 206.4 195.2 206.6 195.3 206.8 195.3 206.9 195.4 207.2 195.4 207.4 195.4 207.4 195.5 207.6 195.6 207.9 195.7 208.1 195.9 208.4 195.9 208.4 196.1 208.7 196.3 209 196.3 209 196.5 209.3 196.8 209.6 196.8 209.6 197.1 210 197.2 210 197.5 210.3 197.6 210.4 198 210.7 198.1 210.8 198.5 211.1 198.5 211.1 199 211.4 199.2 211.6 199.4 211.7 199.8 212 200.3 212.3 200.7 212.5 201.2 212.8 201.6 213 202 213.3 202.5 213.5 202.9 213.7 203.3 214 203.8 214.2 204.2 214.4 204.7 214.6 205.1 214.8 205.5 215 206 215.3 206.4 215.5 206.9 215.7 207.3 215.9 207.7 216.1 208.2 216.3 208.6 216.5 209.1 216.6 209.5 216.8 209.9 217 210.4 217.2 210.8 217.4 211.3 217.6 211.7 217.8 212.1 218 212.6 218.1 213 218.3 213.5 218.5 213.9 218.7 214.3 218.9 214.8 219 215.2 219.2 215.7 219.4 216.1 219.6 216.5 219.8 217 219.9 217.4 220.1 217.8 220.3 218.3 220.4 218.7 220.6 219.2 220.8 219.6 221 220 221.1 220.5 221.3 220.9 221.5 221.4 221.6 221.8 221.8 222.2 222 222.7 222.1 223.1 222.3 223.6 222.5 224 222.6 224.4 222.8 224.9 223 225.3 223.1 225.8 223.3 226.2 223.4 226.6 223.6 227.1 223.8 227.5 223.9 228 224.1 228.4 224.2 228.8 224.4 229.3 224.6 229.7 224.7 230.2 224.9 230.6 225 231 225.2 231.5 225.3 231.9 225.5 232.3 225.7 232.8 225.8 233.2 226 233.7 226.1 234.1 226.3 234.5 226.4 235 226.6 235.4 226.7 235.9 226.9 236.3 227 236.7 227.2 237.2 227.3 237.6 227.5 238.1 227.6 238.5 227.8 238.9 227.9 239.4 228.1 239.8 228.2 240.3 228.3 240.7 228.5 241.1 228.6 241.6 228.8 242 228.9 242.5 229.1 242.9 229.2 243.3 229.3 243.8 229.5 244.2 229.6 244.6 229.8 245.1 229.9 245.5 230 246 230.2 246.4 230.3 246.8 230.4 247.3 230.6 247.7 230.7 248.2 230.8 248.6 231 249 231.1 249.5 231.2 249.9 231.3 250.4 231.5 250.8 231.6 251.2 231.7 251.7 231.8 252.1 231.9 252.6 232.1 253 232.2 253.4 232.3 253.9 232.4 254.3 232.5 254.8 232.6 255.2 232.7 255.6 232.8 256.1 232.9 256.5 233 257 233.1 257.4 233.2 257.8 233.3 258.3 233.4 258.7 233.4 259.1 233.5 259.6 233.6 260 233.6 260.5 233.7 260.9 233.7 261.1 233.7 261.3 233.7 261.8 233.7 261.8 233.7 262.2 233.7 262.3 233.7 262.7 233.6 262.8 233.6 263.1 233.6 263.2 233.5 263.5 233.4 263.5 233.4 263.8 233.3 264 233.2 264 233.2 264.2 233 264.4 232.9 264.4 232.8 264.6 232.7 264.7 232.5 264.8 232.3 264.9 232.2 264.9 232.1 264.9 232 265 231.8 265 231.7 265.1 231.5 265.1 231.4 265.1 231.3 265.2 231.2 265.2 231.1 265.2 231.1 265.2 231 265.2 231 265.2 231 265.3 231 265.3 231 265.3 231 265.3 230.9 265.3 230.9" stroke="#0000ff" class="dl"/><path d="M230.2 224.9L230.2 197.2" stroke="#0000ff" class="ds"/>
<g class="tk"><text x="192.4" y="224.9" text-anchor="end">-200</text><text x="192.4" y="209.6" text-anchor="end">-100</text><text x="192.4" y="194.3" text-anchor="end">0</text><text x="192.4" y="179" text-anchor="end">100</text><text transform="translate(199.33 232.01) scale(0.8 1)" text-anchor="end">-0.4</text><text transform="translate(213.39 237.03) scale(0.8 1)" text-anchor="end">-0.2</text><text transform="translate(227.45 242.05) scale(0.8 1)" text-anchor="end">0</text><text transform="translate(241.51 247.07) scale(0.8 1)" text-anchor="end">0.2</text><text transform="translate(255.57 252.09) scale(0.8 1)" text-anchor="end">0.4</text><text class="sl" transform="translate(267.8 254.2) scale(0.78 1)">CML</text><text class="sl" transform="translate(282.12 246.8) scale(0.78 1)">MCML</text><text class="sl" transform="translate(296.44 239.41) scale(0.78 1)">DCML</text><text class="sl" transform="translate(310.76 232.01) scale(0.78 1)">MDCML</text><text class="sl" transform="translate(325.08 224.62) scale(0.78 1)">BCML</text></g>
<text class="al" transform="translate(182.4 200.6) rotate(-90)" text-anchor="middle">Power (dB)</text>
<text class="al" transform="translate(221.6 248.8) rotate(19.7)" text-anchor="middle">Frequency (Hz)</text>
<text class="cap" y="269.8"><tspan x="215.49" font-weight="bold" font-size="9.2">(e)</tspan><tspan x="230.71" font-style="italic">μ</tspan><tspan x="240.01" class="eq" textLength="6.1" lengthAdjust="spacingAndGlyphs">=</tspan><tspan x="250.01" textLength="18.4" lengthAdjust="spacingAndGlyphs">2.99,</tspan><tspan x="270.01" font-style="italic">e</tspan><tspan x="278.31" class="eq" textLength="6.4" lengthAdjust="spacingAndGlyphs">=</tspan><tspan x="286.91" textLength="11.6" lengthAdjust="spacingAndGlyphs">0.5</tspan></text>
<path class="gr" d="M369.6 226L428.3 196.9M383.6 231L442 201.8M397.6 236L455.7 206.7M411.6 241L469.4 211.6M425.6 246L483 216.6M377.3 216.2L446.9 241.1M392 209L461.2 233.7M406.8 201.7L475.6 226.4M421.5 194.4L489.9 219M377.3 216.2L377.3 170.3M392 209L392 163.1M406.8 201.7L406.8 155.8M421.5 194.4L421.5 148.5M362.6 223.5L421.5 194.4M362.6 208.2L421.5 179.1M362.6 192.9L421.5 163.8M362.6 177.6L421.5 148.5M428.3 196.9L428.3 151M442 201.8L442 155.9M455.7 206.7L455.7 160.8M469.4 211.6L469.4 165.7M483 216.6L483 170.7M421.5 194.4L489.9 219M421.5 179.1L489.9 203.7M421.5 163.8L489.9 188.4M421.5 148.5L489.9 173.1"/>
<path class="ax" d="M362.6 223.5L362.6 177.6M362.6 223.5L432.6 248.4M432.6 248.4L489.9 219M362.6 223.5L363.8 222.9M362.6 208.2L363.8 207.6M362.6 192.9L363.8 192.3M362.6 177.6L363.8 177M369.6 226L370.8 225.4M383.6 231L384.8 230.4M397.6 236L398.8 235.4M411.6 241L412.8 240.4M425.6 246L426.8 245.4M432.6 248.4L431.4 248M446.9 241.1L445.7 240.7M461.2 233.7L460 233.3M475.6 226.4L474.3 225.9M489.9 219L488.7 218.6"/>
<path transform="matrix(0.03802 0.01367 0 -0.153 421.48 163.82)" d="M0 9 l1 4 1 1 1 -3 1 -2 1 4 1 0 1 -5 1 -2 1 0 1 2 1 0 1 -3 1 6 1 -16 1 14 1 4 1 -4 1 3 1 -3 1 2 1 -12 1 12 1 -1 1 -9 1 8 1 0 1 3 1 -2 1 -10 1 7 1 2 1 3 1 1 1 -2 1 3 1 -5 1 2 1 -6 1 8 1 -6 1 -15 1 19 1 3 1 -1 1 -1 1 -8 1 6 1 1 1 -8 1 3 1 -3 1 1 1 5 1 3 1 -9 1 11 1 -23 1 22 1 0 1 -14 1 8 1 6 1 -7 1 7 1 -9 1 11 1 -8 1 -9 1 9 1 -1 1 4 1 -5 1 2 1 3 1 -1 1 -6 1 6 1 4 1 -4 1 5 1 -2 1 -8 1 -1 1 3 1 6 1 -2 1 -1 1 5 1 -7 1 5 1 0 1 -3 1 2 1 -11 1 10 1 -1 1 2 1 -4 1 5 1 -1 1 1 1 -2 1 2 1 0 1 -5 1 -3 1 5 1 1 1 4 1 -2 1 -23 1 10 1 13 1 -4 1 -4 1 -1 1 10 1 -7 1 3 1 -1 1 -2 1 5 1 0 1 -2 1 2 1 -1 1 2 1 -10 1 6 1 -10 1 10 1 1 1 2 1 -1 1 -7 1 3 1 -5 1 8 1 -5 1 7 1 -1 1 -9 1 6 1 -13 1 19 1 -1 1 4 1 -11 1 5 1 0 1 1 1 -1 1 0 1 4 1 -7 1 8 1 -4 1 -7 1 3 1 3 1 -2 1 -8 1 1 1 9 1 -5 1 3 1 0 1 1 1 -1 1 1 1 1 1 -6 1 6 1 -4 1 0 1 3 1 -3 1 2 1 3 1 -12 1 4 1 6 1 -4 1 0 1 2 1 0 1 -1 1 2 1 0 1 -5 1 8 1 0 1 1 1 -8 1 4 1 -4 1 -4 1 5 1 7 1 -1 1 -4 1 2 1 0 1 1 1 -2 1 1 1 7 1 -19 1 12 1 4 1 2 1 -12 1 5 1 1 1 2 1 -3 1 4 1 -1 1 -2 1 1 1 -9 1 15 1 -19 1 15 1 -18 1 11 1 2 1 7 1 0 1 -3 1 -1 1 -6 1 7 1 -2 1 2 1 -5 1 2 1 1 1 -3 1 -7 1 14 1 -3 1 -11 1 5 1 6 1 2 1 -1 1 3 1 -6 1 -1 1 0 1 2 1 -7 1 9 1 -5 1 2 1 3 1 1 1 -5 1 -2 1 -3 1 8 1 4 1 -5 1 -2 1 3 1 -9 1 -3 1 15 1 -10 1 8 1 -4 1 -7 1 3 1 7 1 3 1 -5 1 4 1 -4 1 3 1 -9 1 8 1 4 1 -4 1 0 1 0 1 -6 1 8 1 -1 1 -5 1 6 1 -12 1 7 1 2 1 4 1 0 1 -12 1 5 1 5 1 -2 1 -4 1 1 1 4 1 1 1 -9 1 4 1 1 1 0 1 -3 1 2 1 7 1 -2 1 -12 1 12 1 0 1 -3 1 0 1 -1 1 7 1 -5 1 -5 1 4 1 1 1 -1 1 4 1 -2 1 -2 1 7 1 -14 1 13 1 -4 1 -9 1 11 1 1 1 -5 1 2 1 -1 1 -1 1 3 1 1 1 -6 1 -4 1 4 1 6 1 -13 1 11 1 -7 1 3 1 -7 1 9 1 5 1 -1 1 -5 1 4 1 -3 1 -10 1 9 1 8 1 -7 1 -3 1 -13 1 17 1 -7 1 9 1 -10 1 14 1 -11 1 1 1 5 1 -2 1 -2 1 -1 1 4 1 3 1 -4 1 -5 1 12 1 -8 1 3 1 -3 1 1 1 4 1 -1 1 3 1 -8 1 -4 1 4 1 4 1 -3 1 -6 1 10 1 -2 1 3 1 -15 1 13 1 -13 1 8 1 4 1 2 1 -8 1 11 1 -1 1 -5 1 1 1 0 1 -4 1 0 1 6 1 -20 1 9 1 6 1 0 1 0 1 -1 1 -2 1 6 1 2 1 -7 1 5 1 -9 1 10 1 -7 1 4 1 -1 1 -1 1 7 1 -1 1 -4 1 -3 1 9 1 0 1 -6 1 -2 1 3 1 -10 1 5 1 4 1 3 1 -3 1 -3 1 7 1 -5 1 5 1 -5 1 4 1 -4 1 -5 1 7 1 -7 1 9 1 -3 1 -19 1 20 1 -7 1 7 1 0 1 2 1 0 1 -8 1 10 1 -6 1 -2 1 0 1 0 1 0 1 8 1 -6 1 5 1 -15 1 11 1 -3 1 7 1 -1 1 -3 1 -20 1 21 1 0 1 -5 1 8 1 -3 1 4 1 -1 1 -4 1 5 1 -3 1 2 1 0 1 -2 1 -1 1 -4 1 4 1 -5 1 1 1 6 1 1 1 -4 1 3 1 -3 1 0 1 -1 1 5 1 3 1 -9 1 4 1 -7 1 7 1 6 1 -8 1 -1 1 -2 1 -8 1 5 1 8 1 4 1 -4 1 2 1 2 1 -1 1 -1 1 -2 1 0 1 -16 1 17 1 2 1 -2 1 3 1 -4 1 -5 1 -1 1 6 1 -1 1 3 1 -2 1 5 1 -2 1 -4 1 5 1 -4 1 -10 1 16 1 -5 1 5 1 -1 1 -4 1 -11 1 1 1 -1 1 7 1 4 1 -4 1 -4 1 7 1 -2 1 -1 1 1 1 0 1 5 1 -3 1 2 1 -9 1 2 1 4 1 -9 1 9 1 -5 1 1 1 5 1 0 1 -1 1 5 1 -2 1 -5 1 3 1 -6 1 11 1 -2 1 -1 1 -1 1 4 1 -3 1 -13 1 5 1 8 1 -8 1 7 1 -17 1 5 1 12 1 -4 1 4 1 -1 1 -1 1 0 1 2 1 1 1 4 1 -11 1 10 1 -5 1 1 1 -7 1 5 1 -1 1 -2 1 8 1 -15 1 5 1 10 1 -4 1 -11 1 11 1 2 1 -2 1 -5 1 5 1 2 1 -5 1 -3 1 3 1 2 1 1 1 -2 1 6 1 -1 1 -7 1 -13 1 13 1 7 1 -6 1 1 1 -12 1 11 1 -4 1 6 1 5 1 -13 1 5 1 3 1 -4 1 4 1 -7 1 9 1 -1 1 -2 1 5 1 0 1 -10 1 -2 1 10 1 1 1 -3 1 -2 1 7 1 -8 1 2 1 0 1 3 1 1 1 -2 1 -11 1 10 1 -12 1 6 1 6 1 1 1 2 1 -3 1 -5 1 7 1 -1 1 -1 1 -13 1 11 1 0 1 1 1 3 1 -5 1 5 1 -4 1 4 1 -3 1 2 1 1 1 -7 1 5 1 -5 1 9 1 -5 1 -2 1 4 1 -3 1 5 1 -3 1 4 1 -3 1 -2 1 -2 1 -8 1 14 1 -3 1 -5 1 5 1 -4 1 5 1 -1 1 -9 1 10 1 0 1 2 1 -9 1 8 1 -1 1 0 1 -2 1 4 1 -9 1 -14 1 20 1 4 1 0 1 -15 1 5 1 4 1 7 1 -4 1 -5 1 7 1 1 1 -7 1 3 1 -6 1 9 1 -11 1 10 1 -4 1 3 1 -3 1 -3 1 -1 1 5 1 -3 1 -3 1 12 1 -3 1 0 1 -4 1 3 1 3 1 0 1 -9 1 7 1 -4 1 5 1 -3 1 1 1 3 1 0 1 -3 1 -4 1 2 1 2 1 -5 1 -6 1 12 1 -3 1 -1 1 4 1 -4 1 -3 1 5 1 -4 1 0 1 3 1 4 1 3 1 -2 1 -10 1 9 1 -7 1 0 1 -7 1 12 1 -4 1 2 1 -10 1 18 1 -8 1 2 1 -5 1 3 1 -1 1 4 1 -3 1 5 1 1 1 -1 1 -1 1 -1 1 -8 1 6 1 -1 1 3 1 -3 1 2 1 0 1 0 1 3 1 0 1 -1 1 -5 1 2 1 -3 1 5 1 -9 1 5 1 3 1 -16 1 14 1 4 1 -2 1 -6 1 6 1 -2 1 -3 1 4 1 -1 1 5 1 -8 1 4 1 -6 1 -2 1 1 1 10 1 1 1 -6 1 -2 1 -3 1 2 1 3 1 3 1 3 1 -2 1 -8 1 10 1 -3 1 1 1 -3 1 2 1 3 1 -10 1 5 1 4 1 -4 1 4 1 -20 1 20 1 -3 1 0 1 0 1 -14 1 11 1 0 1 2 1 -3 1 6 1 -5 1 0 1 5 1 -1 1 1 1 -2 1 -13 1 11 1 -5 1 4 1 5 1 -2 1 3 1 2 1 0 1 -1 1 -6 1 1 1 4 1 -6 1 6 1 -5 1 5 1 -7 1 8 1 -5 1 4 1 -11 1 9 1 -3 1 0 1 4 1 -1 1 -1 1 -13 1 10 1 9 1 -11 1 4 1 4 1 -12 1 1 1 6 1 1 1 -1 1 0 1 -1 1 7 1 -5 1 6 1 -9 1 10 1 -6 1 2 1 -2 1 3 1 -1 1 -5 1 8 1 -16 1 17 1 -12 1 -3 1 13 1 -3 1 -2 1 5 1 -11 1 6 1 -4 1 6 1 5 1 -4 1 -7 1 -1 1 5 1 3 1 -3 1 -1 1 0 1 3 1 -3 1 4 1 -3 1 -4 1 9 1 -7 1 -3 1 7 1 1 1 -2 1 2 1 -4 1 -9 1 9 1 1 1 -1 1 5 1 -5 1 -2 1 6 1 -4 1 2 1 -3 1 2 1 2 1 0 1 -9 1 10 1 -3 1 -1 1 -2 1 6 1 -9 1 8 1 1 1 0 1 0 1 -1 1 1 1 -1 1 2 1 3 1 -12 1 1 1 5 1 5 1 -14 1 8 1 2 1 1 1 -5 1 4 1 -4 1 -1 1 7 1 -5 1 5 1 -3 1 5 1 -9 1 3 1 2 1 -2 1 3 1 -10 1 10 1 -1 1 -5 1 -3 1 3 1 10 1 -9 1 2 1 0 1 3 1 -8 1 9 1 0 1 -10 1 6 1 -1 1 -5 1 6 1 2 1 3 1 -11 1 8 1 0 1 0 1 -3 1 1 1 6 1 -5 1 0 1 3 1 -10 1 7 1 3 1 1 1 -2 1 -6 1 0 1 6 1 -13 1 15 1 -6 1 -2 1 2 1 -2 1 5 1 -2 1 4 1 -9 1 -6 1 3 1 7 1 1 1 1 1 3 1 -2 1 -2 1 6 1 -1 1 -8 1 6 1 -5 1 7 1 -4 1 2 1 -3 1 2 1 2 1 -3 1 -10 1 13 1 -1 1 -1 1 -1 1 3 1 -1 1 -16 1 15 1 -3 1 -5 1 3 1 9 1 -6 1 3 1 -4 1 3 1 -1 1 -3 1 -7 1 5 1 9 1 0 1 -12 1 5 1 1 1 3 1 1 1 -11 1 -5 1 13 1 -2 1 4 1 -3 1 3 1 -2 1 1 1 -2 1 5 1 -6 1 4 1 4 1 0 1 -10 1 1 1 1 1 5 1 2 1 -13 1 7 1 1 1 -4 1 6 1 -12 1 14 1 -3 1 -2 1 4 1 -1 1 -1 1 2 1 -6 1 -3 1 3 1 -2 1 4 1 3 1 -1 1 7 1 -3 1 -10 1 -2 1 9 1 3 1 -4 1 1 1 1 1 5 1 -14 1 -2 1 13 1 -7 1 7 1 -11 1 4 1 0 1 4 1 -5 1 -2 1 0 1 11 1 -12 1 6 1 0 1 -2 1 3 1 5 1 -7 1 5 1 0 1 -1 1 -1 1 -2 1 -5 1 10 1 0 1 -7 1 -3 1 4 1 6 1 -4 1 4 1 -6 1 -1 1 -3 1 3 1 -8 1 7 1 5 1 2 1 -4 1 4 1 -3 1 4 1 -9 1 -3 1 10 1 0 1 -3 1 5 1 -8 1 0 1 4 1 4 1 -2 1 -1 1 -2 1 0 1 4 1 2 1 -4 1 3 1 4 1 -6 1 -5 1 5 1 -6 1 3 1 0 1 1 1 6 1 -12 1 8 1 -1 1 -7 1 9 1 1 1 -5 1 3 1 -5 1 5 1 0 1 0 1 1 1 -3 1 -3 1 3 1 2 1 2 1 -8 1 3 1 -3 1 7 1 2 1 -3 1 -5 1 1 1 5 1 0 1 1 1 -4 1 -1 1 0 1 -5 1 2 1 8 1 0 1 -2 1 -1 1 0 1 -2 1 -3 1 4 1 -1 1 5 1 -8 1 -2 1 8 1 -6 1 2 1 -1 1 -2 1 5 1 4 1 -9 1 -7 1 18 1 -8 1 3 1 1 1 -2 1 7 1 -8 1 1 1 -4 1 3 1 4 1 -5 1 9 1 -14 1 4 1 4 1 2 1 0 1 -2 1 -4 1 5 1 -3 1 3 1 -11 1 11 1 -2 1 -5 1 -7 1 9 1 2 1 -1 1 6 1 -3 1 2 1 -8 1 3 1 -4 1 7 1 -1 1 -3 1 -1 1 1 1 2 1 6 1 -7 1 5 1 -3 1 5 1 -1 1 -6 1 -3 1 8 1 -1 1 -3 1 2 1 -4 1 8 1 -7 1 -4 1 11 1 -4 1 1 1 0 1 -4 1 4 1 -2 1 -1 1 7 1 -4 1 -2 1 0 1 3 1 -13 1 11 1 1 1 0 1 -3 1 2 1 -18 1 13 1 3 1 7 1 -11 1 8 1 -5 1 1 1 -1 1 1 1 4 1 -1 1 1 1 -2 1 2 1 -6 1 -3 1 10 1 -4 1 2 1 -5 1 -9 1 10 1 -2 1 6 1 4 1 -2 1 -6 1 5 1 -1 1 -1 1 3 1 1 1 -5 1 6 1 -4 1 2 1 -4 1 0 1 -1 1 3 1 0 1 2 1 0 1 -14 1 6 1 -5 1 10 1 5 1 -4 1 3 1 -10 1 7 1 -5 1 6 1 -5 1 0 1 -2 1 3 1 4 1 -1 1 1 1 -2 1 -4 1 5 1 -1 1 2 1 -9 1 7 1 -2 1 1 1 -2 1 5 1 -4 1 -10 1 14 1 3 1 -7 1 -8 1 13 1 -8 1 0 1 4 1 3 1 -2 1 1 1 -1 1 -6 1 6 1 -2 1 -4 1 8 1 0 1 -4 1 2 1 -7 1 7 1 -2 1 7 1 0 1 -6 1 1 1 -6 1 8 1 2 1 -4 1 0 1 0 1 1 1 -1 1 3 1 -6 1 5 1 -4 1 3 1 1 1 -5 1 1 1 1 1 2 1 0 1 -3 1 -1 1 0 1 -1 1 -4 1 11 1 -3 1 -3 1 -8 1 14 1 -2 1 -15 1 4 1 11 1 1 1 -3 1 2 1 -2 1 -2 1 2 1 3 1 1 1 -2 1 1 1 2 1 -4 1 0 1 2 1 -3 1 -5 1 9 1 1 1 -7 1 2 1 5 1 -5 1 -1 1 9 1 -5 1 -1 1 3 1 -3 1 -1 1 -14 1 15 1 -1 1 3 1 -1 1 0 1 3 1 -5 1 4 1 0 1 -1 1 4 1 -4 1 -8 1 2 1 6 1 -6 1 4 1 0 1 4 1 0 1 -4 1 1 1 -9 1 7 1 1 1 -7 1 3 1 8 1 -10 1 10 1 -7 1 1 1 4 1 0 1 5 1 -8 1 -5 1 3 1 -2 1 8 1 -8 1 0 1 3 1 4 1 -11 1 10 1 -8 1 7 1 0 1 -3 1 5 1 -5 1 -6 1 6 1 2 1 -6 1 7 1 -18 1 22 1 -5 1 3 1 2 1 -1 1 -10 1 2 1 9 1 -6 1 -1 1 -7 1 7 1 5 1 0 1 -5 1 -7 1 7 1 5 1 -7 1 4 1 4 1 -11 1 8 1 5 1 -3 1 -6 1 4 1 -2 1 1 1 -2 1 2 1 5 1 -4 1 0 1 4 1 -2 1 -2 1 -4 1 8 1 -2 1 2 1 -1 1 -12 1 13 1 -7 1 -1 1 8 1 -10 1 4 1 2 1 2 1 -4 1 3 1 2 1 -4 1 -1 1 -1 1 0 1 1 1 2 1 3 1 2 1 -7 1 1 1 5 1 0 1 1 1 -6 1 4 1 4 1 -7 1 3 1 -4 1 2 1 -6 1 3 1 6 1 -9 1 9 1 -4 1 2 1 0 1 -16 1 9 1 2 1 4 1 -4 1 -1 1 5 1 -3 1 2 1 2 1 -4 1 3 1 -5 1 -2 1 8 1 -2 1 -1 1 -2 1 1 1 -1 1 -3 1 -12 1 18 1 -3 1 2 1 -3 1 6 1 4 1 -4 1 0 1 -14 1 16 1 -6 1 -3 1 3 1 -7 1 6 1 -5 1 4 1 2 1 7 1 -3 1 0 1 -2 1 0 1 -4 1 4 1 4 1 -4 1 1 1 5 1 -1 1 -6 1 5 1 -2 1 0 1 -5 1 1 1 -1 1 0 1 0 1 -21 1 27 1 -3 1 1 1 -4 1 2 1 2 1 -8 1 13 1 -5 1 0 1 -1 1 3 1 -9 1 5 1 0 1 -4 1 3 1 -2 1 -3 1 -1 1 10 1 3 1 -7 1 -5 1 7 1 -2 1 0 1 -3 1 8 1 -6 1 5 1 -7 1 5 1 0 1 -7 1 5 1 4 1 -4 1 4 1 -1 1 -1 1 -1 1 -4 1 5 1 0 1 1 1 -11 1 3 1 11 1 0 1 -8 1 3 1 -2 1 1 1 3 1 0 1 -6 1 -1 1 5 1 1 1 1 1 -3 1 2 1 -4 1 7 1 -10 1 4 1 4 1 -7" stroke="#bf00bf" class="dn"/><path d="M421.5 162.4L421.5 157.7M455.7 175L455.7 171.5" stroke="#bf00bf" class="dsn"/>
<path d="M406.8 184.5L406.8 184.5 406.8 184.5 406.8 184.5 406.8 184.6 406.8 184.6 406.8 184.6 406.8 184.6 406.9 184.7 406.9 184.8 406.9 184.9 406.9 185 406.9 185.1 407 185.2 407 185.4 407.1 185.6 407.1 185.8 407.2 186 407.2 186 407.3 186.3 407.4 186.5 407.5 186.8 407.6 187 407.6 187 407.8 187.3 408 187.6 408.1 187.7 408.2 187.9 408.5 188.2 408.5 188.2 408.8 188.6 408.9 188.7 409.2 189 409.3 189.1 409.7 189.3 409.8 189.4 410.2 189.8 410.2 189.8 410.6 190.1 410.9 190.2 411.1 190.4 411.5 190.6 411.9 190.9 412.4 191.2 412.8 191.4 413.2 191.7 413.6 191.9 414.1 192.1 414.5 192.3 414.9 192.6 415.4 192.8 415.8 193 416.2 193.2 416.7 193.4 417.1 193.6 417.5 193.8 417.9 194 418.4 194.2 418.8 194.4 419.2 194.6 419.7 194.8 420.1 195 420.5 195.2 421 195.4 421.4 195.6 421.8 195.8 422.2 196 422.7 196.1 423.1 196.3 423.5 196.5 424 196.7 424.4 196.9 424.8 197.1 425.3 197.2 425.7 197.4 426.1 197.6 426.5 197.8 427 197.9 427.4 198.1 427.8 198.3 428.3 198.4 428.7 198.6 429.1 198.8 429.6 199 430 199.1 430.4 199.3 430.8 199.5 431.3 199.6 431.7 199.8 432.1 200 432.6 200.1 433 200.3 433.4 200.5 433.9 200.6 434.3 200.8 434.7 201 435.1 201.1 435.6 201.3 436 201.4 436.4 201.6 436.9 201.8 437.3 201.9 437.7 202.1 438.2 202.2 438.6 202.4 439 202.5 439.4 202.7 439.9 202.9 440.3 203 440.7 203.2 441.2 203.3 441.6 203.5 442 203.6 442.5 203.8 442.9 203.9 443.3 204.1 443.7 204.2 444.2 204.4 444.6 204.5 445 204.7 445.5 204.8 445.9 205 446.3 205.1 446.8 205.3 447.2 205.4 447.6 205.6 448 205.7 448.5 205.9 448.9 206 449.3 206.2 449.8 206.3 450.2 206.4 450.6 206.6 451.1 206.7 451.5 206.9 451.9 207 452.3 207.2 452.8 207.3 453.2 207.4 453.6 207.6 454.1 207.7 454.5 207.8 454.9 208 455.4 208.1 455.8 208.2 456.2 208.4 456.6 208.5 457.1 208.6 457.5 208.8 457.9 208.9 458.4 209 458.8 209.2 459.2 209.3 459.7 209.4 460.1 209.5 460.5 209.7 460.9 209.8 461.4 209.9 461.8 210 462.2 210.1 462.7 210.3 463.1 210.4 463.5 210.5 464 210.6 464.4 210.7 464.8 210.8 465.2 210.9 465.7 211 466.1 211.1 466.5 211.2 467 211.3 467.4 211.4 467.8 211.5 468.3 211.6 468.7 211.6 469.1 211.7 469.5 211.8 470 211.8 470.4 211.9 470.8 211.9 471.3 212 471.4 212 471.7 212 472.1 212 472.1 212 472.6 211.9 472.6 211.9 473 211.9 473.1 211.9 473.4 211.8 473.5 211.8 473.8 211.7 473.8 211.7 474.1 211.6 474.3 211.5 474.3 211.4 474.5 211.3 474.7 211.1 474.7 211.1 474.8 210.9 474.9 210.7 475 210.6 475.1 210.4 475.1 210.4 475.2 210.2 475.3 210.1 475.3 209.9 475.3 209.8 475.4 209.6 475.4 209.5 475.4 209.4 475.5 209.4 475.5 209.3 475.5 209.3 475.5 209.2 475.5 209.2 475.5 209.2 475.5 209.2 475.5 209.2 475.5 209.2 475.6 209.2" stroke="#00bfbf" class="dl"/><path d="M441.2 203.3L441.2 175.2" stroke="#00bfbf" class="ds"/>
<path d="M392 193.1L392.1 193.2 392.1 193.2 392.1 193.2 392.1 193.2 392.1 193.2 392.1 193.3 392.1 193.3 392.1 193.3 392.2 193.4 392.2 193.5 392.2 193.6 392.2 193.7 392.3 193.9 392.3 194.1 392.4 194.2 392.4 194.4 392.5 194.7 392.5 194.7 392.6 194.9 392.7 195.2 392.8 195.4 392.9 195.7 392.9 195.7 393.1 196 393.3 196.3 393.3 196.3 393.5 196.6 393.8 196.9 393.8 196.9 394.1 197.2 394.2 197.3 394.5 197.6 394.6 197.7 395 198 395.1 198.1 395.5 198.4 395.5 198.4 395.9 198.7 396.2 198.9 396.4 199 396.8 199.3 397.2 199.6 397.7 199.8 398.1 200.1 398.5 200.3 399 200.5 399.4 200.8 399.8 201 400.3 201.2 400.7 201.4 401.1 201.7 401.6 201.9 402 202.1 402.4 202.3 402.9 202.5 403.3 202.7 403.7 202.9 404.2 203.1 404.6 203.3 405 203.5 405.4 203.7 405.9 203.9 406.3 204.1 406.7 204.3 407.2 204.4 407.6 204.6 408 204.8 408.5 205 408.9 205.2 409.3 205.4 409.8 205.5 410.2 205.7 410.6 205.9 411.1 206.1 411.5 206.3 411.9 206.4 412.4 206.6 412.8 206.8 413.2 207 413.7 207.1 414.1 207.3 414.5 207.5 415 207.6 415.4 207.8 415.8 208 416.3 208.1 416.7 208.3 417.1 208.5 417.6 208.6 418 208.8 418.4 209 418.9 209.1 419.3 209.3 419.7 209.5 420.2 209.6 420.6 209.8 421 210 421.5 210.1 421.9 210.3 422.3 210.4 422.7 210.6 423.2 210.8 423.6 210.9 424 211.1 424.5 211.2 424.9 211.4 425.3 211.5 425.8 211.7 426.2 211.9 426.6 212 427.1 212.2 427.5 212.3 427.9 212.5 428.4 212.6 428.8 212.8 429.2 212.9 429.7 213.1 430.1 213.2 430.5 213.4 431 213.5 431.4 213.7 431.8 213.8 432.3 214 432.7 214.1 433.1 214.3 433.6 214.4 434 214.6 434.4 214.7 434.9 214.9 435.3 215 435.7 215.1 436.2 215.3 436.6 215.4 437 215.6 437.5 215.7 437.9 215.9 438.3 216 438.8 216.1 439.2 216.3 439.6 216.4 440 216.6 440.5 216.7 440.9 216.8 441.3 217 441.8 217.1 442.2 217.2 442.6 217.4 443.1 217.5 443.5 217.6 443.9 217.7 444.4 217.9 444.8 218 445.2 218.1 445.7 218.3 446.1 218.4 446.5 218.5 447 218.6 447.4 218.7 447.8 218.9 448.3 219 448.7 219.1 449.1 219.2 449.6 219.3 450 219.4 450.4 219.5 450.9 219.6 451.3 219.7 451.7 219.8 452.2 219.9 452.6 220 453 220.1 453.5 220.2 453.9 220.3 454.3 220.4 454.8 220.4 455.2 220.5 455.6 220.6 456.1 220.6 456.5 220.7 456.9 220.7 457.1 220.7 457.3 220.7 457.7 220.7 457.8 220.7 458.2 220.7 458.3 220.7 458.6 220.6 458.8 220.6 459.1 220.5 459.2 220.5 459.5 220.4 459.5 220.4 459.8 220.3 459.9 220.2 460 220.1 460.2 220 460.4 219.8 460.4 219.8 460.5 219.7 460.6 219.5 460.7 219.3 460.8 219.1 460.8 219.1 460.9 219 460.9 218.8 461 218.6 461 218.5 461.1 218.4 461.1 218.3 461.1 218.2 461.1 218.1 461.1 218.1 461.2 218 461.2 218 461.2 218 461.2 217.9 461.2 217.9 461.2 217.9 461.2 217.9 461.2 217.9" stroke="#ff0000" class="dl"/><path d="M426.6 212L426.6 182.5" stroke="#ff0000" class="ds"/>
<path d="M377.3 201L377.3 201 377.4 201.1 377.4 201.1 377.4 201.1 377.4 201.1 377.4 201.1 377.4 201.2 377.4 201.2 377.4 201.3 377.5 201.4 377.5 201.5 377.5 201.6 377.5 201.8 377.6 201.9 377.6 202.1 377.7 202.3 377.8 202.5 377.8 202.6 377.8 202.8 377.9 203 378.1 203.3 378.2 203.5 378.2 203.6 378.4 203.8 378.6 204.1 378.6 204.2 378.8 204.5 379.1 204.8 379.1 204.8 379.4 205.1 379.5 205.2 379.8 205.5 379.9 205.6 380.3 205.9 380.4 206 380.8 206.3 380.8 206.3 381.2 206.6 381.5 206.8 381.7 206.9 382.1 207.2 382.5 207.4 383 207.7 383.4 208 383.8 208.2 384.3 208.4 384.7 208.7 385.2 208.9 385.6 209.1 386 209.3 386.5 209.6 386.9 209.8 387.3 210 387.8 210.2 388.2 210.4 388.6 210.6 389.1 210.8 389.5 211 389.9 211.2 390.4 211.4 390.8 211.6 391.2 211.8 391.7 212 392.1 212.2 392.5 212.3 393 212.5 393.4 212.7 393.9 212.9 394.3 213.1 394.7 213.3 395.2 213.4 395.6 213.6 396 213.8 396.5 214 396.9 214.2 397.3 214.3 397.8 214.5 398.2 214.7 398.6 214.9 399.1 215 399.5 215.2 399.9 215.4 400.4 215.5 400.8 215.7 401.2 215.9 401.7 216.1 402.1 216.2 402.6 216.4 403 216.6 403.4 216.7 403.9 216.9 404.3 217.1 404.7 217.2 405.2 217.4 405.6 217.6 406 217.7 406.5 217.9 406.9 218 407.3 218.2 407.8 218.4 408.2 218.5 408.6 218.7 409.1 218.8 409.5 219 409.9 219.2 410.4 219.3 410.8 219.5 411.3 219.6 411.7 219.8 412.1 219.9 412.6 220.1 413 220.3 413.4 220.4 413.9 220.6 414.3 220.7 414.7 220.9 415.2 221 415.6 221.2 416 221.3 416.5 221.5 416.9 221.6 417.3 221.8 417.8 221.9 418.2 222.1 418.6 222.2 419.1 222.4 419.5 222.5 420 222.7 420.4 222.8 420.8 222.9 421.3 223.1 421.7 223.2 422.1 223.4 422.6 223.5 423 223.7 423.4 223.8 423.9 223.9 424.3 224.1 424.7 224.2 425.2 224.4 425.6 224.5 426 224.6 426.5 224.8 426.9 224.9 427.3 225 427.8 225.2 428.2 225.3 428.7 225.4 429.1 225.6 429.5 225.7 430 225.8 430.4 226 430.8 226.1 431.3 226.2 431.7 226.3 432.1 226.5 432.6 226.6 433 226.7 433.4 226.8 433.9 226.9 434.3 227 434.7 227.2 435.2 227.3 435.6 227.4 436 227.5 436.5 227.6 436.9 227.7 437.4 227.8 437.8 227.9 438.2 228 438.7 228.1 439.1 228.2 439.5 228.2 440 228.3 440.4 228.4 440.8 228.5 441.3 228.5 441.7 228.6 442.1 228.6 442.6 228.6 442.7 228.7 443 228.7 443.4 228.7 443.4 228.7 443.9 228.6 444 228.6 444.3 228.6 444.4 228.6 444.7 228.5 444.8 228.5 445.2 228.4 445.2 228.4 445.4 228.3 445.6 228.2 445.7 228.1 445.9 228 446 227.8 446.1 227.8 446.2 227.6 446.3 227.5 446.4 227.3 446.5 227.1 446.5 227.1 446.5 226.9 446.6 226.8 446.7 226.6 446.7 226.5 446.7 226.3 446.8 226.2 446.8 226.2 446.8 226.1 446.8 226 446.8 226 446.9 226 446.9 225.9 446.9 225.9 446.9 225.9 446.9 225.9 446.9 225.9 446.9 225.9" stroke="#008000" class="dl"/><path d="M412.1 219.9L412.1 189.8" stroke="#008000" class="ds"/>
<path d="M362.6 206.9L362.6 206.9 362.6 206.9 362.6 207 362.6 207 362.7 207 362.7 207 362.7 207.1 362.7 207.1 362.7 207.2 362.7 207.3 362.8 207.4 362.8 207.5 362.8 207.7 362.9 207.8 362.9 208 363 208.2 363 208.4 363 208.4 363.1 208.7 363.2 208.9 363.3 209.2 363.5 209.4 363.5 209.5 363.7 209.7 363.9 210 363.9 210.1 364.1 210.3 364.4 210.6 364.4 210.7 364.7 211 364.8 211.1 365.1 211.4 365.2 211.5 365.6 211.8 365.7 211.9 366.1 212.2 366.1 212.2 366.5 212.5 366.8 212.7 367 212.8 367.4 213.1 367.9 213.3 368.3 213.6 368.7 213.9 369.2 214.1 369.6 214.3 370 214.6 370.5 214.8 370.9 215 371.4 215.2 371.8 215.5 372.2 215.7 372.7 215.9 373.1 216.1 373.5 216.3 374 216.5 374.4 216.7 374.9 216.9 375.3 217.1 375.7 217.3 376.2 217.5 376.6 217.7 377 217.9 377.5 218.1 377.9 218.3 378.4 218.4 378.8 218.6 379.2 218.8 379.7 219 380.1 219.2 380.5 219.4 381 219.5 381.4 219.7 381.9 219.9 382.3 220.1 382.7 220.3 383.2 220.4 383.6 220.6 384 220.8 384.5 221 384.9 221.1 385.4 221.3 385.8 221.5 386.2 221.6 386.7 221.8 387.1 222 387.5 222.2 388 222.3 388.4 222.5 388.9 222.7 389.3 222.8 389.7 223 390.2 223.2 390.6 223.3 391 223.5 391.5 223.6 391.9 223.8 392.4 224 392.8 224.1 393.2 224.3 393.7 224.5 394.1 224.6 394.5 224.8 395 224.9 395.4 225.1 395.9 225.2 396.3 225.4 396.7 225.6 397.2 225.7 397.6 225.9 398 226 398.5 226.2 398.9 226.3 399.4 226.5 399.8 226.7 400.2 226.8 400.7 227 401.1 227.1 401.5 227.3 402 227.4 402.4 227.6 402.9 227.7 403.3 227.9 403.7 228 404.2 228.2 404.6 228.3 405 228.5 405.5 228.6 405.9 228.7 406.4 228.9 406.8 229 407.2 229.2 407.7 229.3 408.1 229.5 408.5 229.6 409 229.8 409.4 229.9 409.9 230 410.3 230.2 410.7 230.3 411.2 230.4 411.6 230.6 412 230.7 412.5 230.9 412.9 231 413.4 231.1 413.8 231.3 414.2 231.4 414.7 231.5 415.1 231.7 415.5 231.8 416 231.9 416.4 232 416.9 232.2 417.3 232.3 417.7 232.4 418.2 232.5 418.6 232.7 419 232.8 419.5 232.9 419.9 233 420.4 233.1 420.8 233.2 421.2 233.3 421.7 233.5 422.1 233.6 422.5 233.7 423 233.8 423.4 233.9 423.9 234 424.3 234 424.7 234.1 425.2 234.2 425.6 234.3 426 234.4 426.5 234.4 426.9 234.5 427.4 234.5 427.8 234.6 428.2 234.6 428.4 234.6 428.7 234.6 429.1 234.6 429.1 234.6 429.5 234.6 429.6 234.6 430 234.6 430.1 234.6 430.4 234.5 430.5 234.5 430.8 234.4 430.9 234.4 431.1 234.2 431.3 234.1 431.3 234.1 431.5 233.9 431.7 233.8 431.7 233.8 431.9 233.6 432 233.4 432.1 233.3 432.2 233.1 432.2 233.1 432.2 232.9 432.3 232.7 432.3 232.6 432.4 232.5 432.4 232.3 432.4 232.2 432.5 232.1 432.5 232.1 432.5 232 432.5 232 432.5 231.9 432.5 231.9 432.6 231.9 432.6 231.9 432.6 231.9 432.6 231.9 432.6 231.9" stroke="#0000ff" class="dl"/><path d="M397.6 225.9L397.6 197.1" stroke="#0000ff" class="ds"/>
<g class="tk"><text x="360" y="224.9" text-anchor="end">-200</text><text x="360" y="209.6" text-anchor="end">-100</text><text x="360" y="194.3" text-anchor="end">0</text><text x="360" y="179" text-anchor="end">100</text><text transform="translate(366.9 232) scale(0.8 1)" text-anchor="end">-0.4</text><text transform="translate(380.9 236.99) scale(0.8 1)" text-anchor="end">-0.2</text><text transform="translate(394.9 241.97) scale(0.8 1)" text-anchor="end">0</text><text transform="translate(408.9 246.97) scale(0.8 1)" text-anchor="end">0.2</text><text transform="translate(422.9 251.95) scale(0.8 1)" text-anchor="end">0.4</text><text class="sl" transform="translate(435.1 254.05) scale(0.78 1)">CML</text><text class="sl" transform="translate(449.42 246.69) scale(0.78 1)">MCML</text><text class="sl" transform="translate(463.74 239.34) scale(0.78 1)">DCML</text><text class="sl" transform="translate(478.06 231.98) scale(0.78 1)">MDCML</text><text class="sl" transform="translate(492.38 224.62) scale(0.78 1)">BCML</text></g>
<text class="al" transform="translate(350 200.6) rotate(-90)" text-anchor="middle">Power (dB)</text>
<text class="al" transform="translate(389.2 248.8) rotate(19.7)" text-anchor="middle">Frequency (Hz)</text>
<text class="cap" y="269.8"><tspan x="383.9" font-weight="bold" font-size="9.2">(f)</tspan><tspan x="398.1" font-style="italic">μ</tspan><tspan x="407.4" class="eq" textLength="6.1" lengthAdjust="spacingAndGlyphs">=</tspan><tspan x="417.4" textLength="18.4" lengthAdjust="spacingAndGlyphs">2.99,</tspan><tspan x="437.4" font-style="italic">e</tspan><tspan x="445.7" class="eq" textLength="6.4" lengthAdjust="spacingAndGlyphs">=</tspan><tspan x="454.3" textLength="11.6" lengthAdjust="spacingAndGlyphs">0.9</tspan></text>
<path class="gr" d="M34.4 361.2L93.3 332.1M48.4 366.2L107.3 337.1M62.4 371.2L121.3 342.1M76.4 376.2L135.3 347.1M90.4 381.2L149.3 352.1M42.1 351.4L112.1 376.4M56.8 344.2L126.8 369.1M71.6 336.9L141.6 361.8M86.3 329.6L156.3 354.6M42.1 351.4L42.1 305.5M56.8 344.2L56.8 298.3M71.6 336.9L71.6 291M86.3 329.6L86.3 283.7M27.4 358.7L86.3 329.6M27.4 343.4L86.3 314.3M27.4 328.1L86.3 299M27.4 312.8L86.3 283.7M93.3 332.1L93.3 286.2M107.3 337.1L107.3 291.2M121.3 342.1L121.3 296.2M135.3 347.1L135.3 301.2M149.3 352.1L149.3 306.2M86.3 329.6L156.3 354.6M86.3 314.3L156.3 339.3M86.3 299L156.3 324M86.3 283.7L156.3 308.7"/>
<path class="ax" d="M27.4 358.7L27.4 312.8M27.4 358.7L97.4 383.6M97.4 383.6L156.3 354.6M27.4 358.7L28.6 358.1M27.4 343.4L28.6 342.8M27.4 328.1L28.6 327.5M27.4 312.8L28.6 312.2M34.4 361.2L35.6 360.6M48.4 366.2L49.6 365.6M62.4 371.2L63.6 370.6M76.4 376.2L77.6 375.6M90.4 381.2L91.6 380.6M97.4 383.6L96.2 383.2M112.1 376.4L110.9 375.9M126.8 369.1L125.6 368.7M141.6 361.8L140.3 361.4M156.3 354.6L155.1 354.1"/>
<path transform="matrix(0.03891 0.01387 0 -0.153 86.28 299.02)" d="M0 2 l1 -1 1 -7 1 13 1 -6 1 2 1 5 1 -4 1 -2 1 -7 1 4 1 0 1 4 1 -6 1 -4 1 5 1 3 1 1 1 0 1 -3 1 5 1 -6 1 -2 1 3 1 -1 1 3 1 -4 1 4 1 -1 1 2 1 -1 1 -1 1 2 1 -2 1 3 1 -12 1 6 1 9 1 -5 1 0 1 -3 1 -3 1 -3 1 11 1 -1 1 -11 1 4 1 1 1 6 1 -4 1 2 1 -1 1 -7 1 8 1 3 1 -6 1 2 1 0 1 2 1 -1 1 -2 1 -6 1 11 1 0 1 -7 1 -1 1 2 1 2 1 -2 1 1 1 5 1 -5 1 -1 1 5 1 -7 1 -3 1 8 1 -3 1 -8 1 8 1 -1 1 0 1 6 1 -3 1 -4 1 -2 1 9 1 -10 1 11 1 -10 1 9 1 -2 1 -7 1 5 1 -8 1 4 1 5 1 -5 1 9 1 -15 1 9 1 -5 1 11 1 -6 1 -7 1 11 1 3 1 -5 1 -5 1 -1 1 5 1 -12 1 11 1 2 1 -1 1 -1 1 -8 1 11 1 0 1 1 1 -9 1 11 1 -8 1 -4 1 1 1 -4 1 12 1 -1 1 -7 1 1 1 5 1 -6 1 8 1 -7 1 -1 1 2 1 7 1 -7 1 5 1 -6 1 3 1 4 1 -9 1 3 1 2 1 -4 1 3 1 0 1 -13 1 17 1 -6 1 5 1 -3 1 -8 1 9 1 0 1 3 1 -2 1 -3 1 5 1 2 1 -10 1 4 1 3 1 -5 1 3 1 -6 1 -4 1 13 1 -1 1 -11 1 6 1 -14 1 12 1 0 1 0 1 5 1 -2 1 2 1 -1 1 1 1 -3 1 4 1 -19 1 14 1 0 1 1 1 4 1 -8 1 -3 1 -2 1 11 1 5 1 -6 1 1 1 4 1 -2 1 -5 1 4 1 -4 1 5 1 -5 1 5 1 0 1 -1 1 1 1 -2 1 -4 1 5 1 -28 1 15 1 11 1 1 1 3 1 -4 1 6 1 -6 1 4 1 -7 1 5 1 3 1 -8 1 4 1 -1 1 3 1 4 1 -9 1 5 1 -10 1 2 1 6 1 -4 1 -1 1 7 1 -2 1 -1 1 2 1 -1 1 1 1 1 1 -4 1 -1 1 -4 1 11 1 1 1 -7 1 6 1 -23 1 17 1 -7 1 11 1 2 1 1 1 -9 1 5 1 -10 1 12 1 -8 1 -3 1 8 1 5 1 -4 1 2 1 0 1 -4 1 3 1 -3 1 3 1 -11 1 12 1 -3 1 5 1 -4 1 3 1 -6 1 3 1 -6 1 0 1 0 1 5 1 2 1 -7 1 4 1 -3 1 -3 1 11 1 -6 1 -1 1 4 1 -3 1 -3 1 4 1 -4 1 4 1 -1 1 6 1 -8 1 1 1 0 1 5 1 -10 1 10 1 1 1 0 1 -4 1 -3 1 1 1 1 1 3 1 1 1 3 1 -4 1 -2 1 5 1 0 1 -8 1 2 1 4 1 4 1 0 1 -6 1 2 1 3 1 -5 1 3 1 -1 1 -2 1 -3 1 0 1 2 1 7 1 -4 1 -1 1 0 1 -9 1 12 1 1 1 1 1 1 1 -4 1 0 1 -1 1 -3 1 -11 1 8 1 3 1 -5 1 9 1 4 1 -7 1 5 1 2 1 -5 1 1 1 -11 1 15 1 -6 1 0 1 1 1 2 1 -21 1 16 1 8 1 -4 1 1 1 -1 1 0 1 0 1 2 1 -5 1 4 1 -5 1 6 1 -4 1 1 1 -1 1 1 1 0 1 3 1 4 1 -8 1 4 1 0 1 -7 1 5 1 3 1 -1 1 2 1 -5 1 -6 1 10 1 -1 1 -6 1 5 1 -8 1 8 1 0 1 -6 1 3 1 -1 1 -3 1 6 1 -2 1 2 1 5 1 -6 1 7 1 -2 1 3 1 -10 1 5 1 3 1 2 1 -13 1 6 1 -4 1 8 1 2 1 -5 1 0 1 4 1 -1 1 -3 1 2 1 -4 1 3 1 -1 1 0 1 0 1 0 1 1 1 1 1 1 1 3 1 -6 1 5 1 -7 1 5 1 2 1 0 1 -8 1 -1 1 8 1 -2 1 -2 1 -3 1 -8 1 15 1 1 1 -7 1 7 1 -3 1 -6 1 -3 1 -2 1 12 1 -3 1 5 1 -3 1 3 1 -5 1 0 1 -4 1 4 1 -4 1 5 1 -2 1 0 1 -5 1 9 1 0 1 -4 1 3 1 3 1 -10 1 6 1 4 1 -7 1 1 1 -13 1 14 1 7 1 -9 1 5 1 4 1 -3 1 1 1 -3 1 -9 1 5 1 0 1 -3 1 6 1 -3 1 2 1 -1 1 -3 1 -3 1 9 1 2 1 -6 1 3 1 -1 1 3 1 -6 1 6 1 1 1 -2 1 -8 1 3 1 0 1 -6 1 7 1 3 1 -9 1 10 1 -3 1 1 1 -1 1 1 1 2 1 -2 1 -4 1 0 1 4 1 1 1 0 1 -8 1 7 1 4 1 -6 1 0 1 -5 1 9 1 -12 1 12 1 -7 1 7 1 -1 1 -2 1 0 1 -1 1 2 1 -11 1 1 1 10 1 0 1 0 1 0 1 -8 1 9 1 -13 1 7 1 0 1 -2 1 -1 1 7 1 0 1 -1 1 -3 1 4 1 4 1 -4 1 1 1 2 1 -2 1 -4 1 -6 1 2 1 1 1 1 1 -1 1 9 1 -3 1 -1 1 -1 1 -2 1 1 1 -1 1 -4 1 8 1 -4 1 -2 1 -2 1 13 1 -7 1 5 1 -10 1 6 1 -7 1 0 1 -2 1 1 1 8 1 4 1 -2 1 -5 1 5 1 -4 1 -4 1 0 1 7 1 -3 1 0 1 -5 1 -1 1 15 1 -4 1 0 1 -7 1 6 1 -1 1 -4 1 5 1 -1 1 -15 1 12 1 -15 1 13 1 3 1 5 1 -6 1 0 1 0 1 -1 1 -3 1 3 1 -3 1 0 1 7 1 -6 1 4 1 4 1 -3 1 -3 1 -5 1 7 1 0 1 -4 1 -3 1 -1 1 12 1 -6 1 1 1 -7 1 7 1 0 1 0 1 0 1 -2 1 6 1 -7 1 -2 1 -3 1 11 1 -1 1 -6 1 3 1 7 1 -1 1 0 1 -4 1 3 1 -10 1 6 1 -8 1 10 1 -4 1 3 1 2 1 -22 1 24 1 -1 1 -8 1 -11 1 18 1 -9 1 -5 1 10 1 1 1 -1 1 -5 1 8 1 -7 1 9 1 -17 1 9 1 1 1 6 1 -5 1 1 1 1 1 1 1 -2 1 4 1 0 1 -27 1 24 1 4 1 0 1 -9 1 2 1 2 1 -3 1 2 1 0 1 5 1 -1 1 -11 1 9 1 -2 1 1 1 3 1 -3 1 2 1 -12 1 6 1 5 1 1 1 3 1 -2 1 -3 1 0 1 0 1 -2 1 9 1 -7 1 -1 1 5 1 1 1 -5 1 -1 1 -2 1 2 1 -11 1 14 1 0 1 1 1 4 1 -17 1 7 1 6 1 2 1 0 1 -1 1 -9 1 4 1 2 1 -1 1 4 1 -2 1 -1 1 -2 1 -1 1 -5 1 7 1 1 1 -2 1 -3 1 12 1 -8 1 -2 1 -17 1 22 1 1 1 -4 1 -2 1 4 1 3 1 -10 1 7 1 -1 1 -9 1 -1 1 -1 1 12 1 6 1 -2 1 -1 1 -4 1 5 1 -1 1 -7 1 0 1 2 1 3 1 -13 1 15 1 1 1 -4 1 -4 1 -3 1 5 1 0 1 4 1 -1 1 -1 1 0 1 4 1 -1 1 -2 1 5 1 -4 1 3 1 -5 1 2 1 2 1 -12 1 2 1 6 1 2 1 1 1 -4 1 -1 1 6 1 -9 1 3 1 0 1 2 1 -6 1 6 1 6 1 -2 1 -4 1 -1 1 0 1 6 1 0 1 2 1 -22 1 19 1 -1 1 -1 1 -5 1 8 1 1 1 -4 1 4 1 -7 1 5 1 6 1 -5 1 -2 1 1 1 -7 1 -6 1 6 1 13 1 -13 1 0 1 8 1 -5 1 5 1 4 1 -9 1 -5 1 6 1 -1 1 -1 1 6 1 -5 1 -20 1 20 1 3 1 -3 1 -7 1 5 1 -3 1 13 1 -1 1 -9 1 0 1 11 1 -9 1 9 1 -9 1 0 1 0 1 7 1 3 1 -6 1 3 1 -15 1 12 1 4 1 -14 1 -6 1 21 1 -3 1 -2 1 -14 1 -5 1 22 1 1 1 -2 1 3 1 -7 1 2 1 1 1 -3 1 4 1 -1 1 -2 1 1 1 1 1 2 1 -2 1 1 1 -1 1 -9 1 6 1 2 1 -1 1 4 1 1 1 1 1 -10 1 8 1 2 1 -5 1 -1 1 -1 1 -3 1 0 1 6 1 -8 1 -1 1 7 1 2 1 2 1 -4 1 3 1 2 1 -4 1 0 1 -2 1 5 1 -5 1 -2 1 9 1 -9 1 4 1 -1 1 1 1 4 1 -2 1 -4 1 0 1 3 1 -3 1 -5 1 7 1 3 1 -5 1 -3 1 2 1 0 1 3 1 -9 1 5 1 0 1 -5 1 11 1 -12 1 12 1 -5 1 -12 1 3 1 8 1 1 1 5 1 -2 1 -1 1 -6 1 7 1 2 1 -1 1 0 1 -3 1 -4 1 6 1 1 1 -4 1 -8 1 6 1 3 1 -1 1 0 1 2 1 -6 1 4 1 -3 1 4 1 2 1 -7 1 -2 1 4 1 -7 1 7 1 4 1 -7 1 7 1 -1 1 -4 1 2 1 -1 1 6 1 -5 1 6 1 -16 1 13 1 2 1 -1 1 -5 1 -3 1 -1 1 5 1 -2 1 3 1 0 1 3 1 -7 1 6 1 -1 1 3 1 -6 1 2 1 -2 1 0 1 4 1 0 1 0 1 -2 1 -7 1 -3 1 2 1 1 1 7 1 1 1 -9 1 8 1 3 1 0 1 -3 1 0 1 0 1 -5 1 2 1 -11 1 15 1 3 1 -5 1 3 1 -7 1 8 1 0 1 -2 1 -11 1 10 1 -4 1 6 1 -6 1 1 1 -8 1 6 1 -4 1 11 1 -3 1 -8 1 8 1 -8 1 12 1 -6 1 0 1 3 1 -1 1 4 1 -4 1 1 1 -2 1 1 1 0 1 -2 1 1 1 0 1 -4 1 2 1 0 1 5 1 1 1 -8 1 4 1 -2 1 4 1 -3 1 -3 1 4 1 -1 1 4 1 2 1 -7 1 7 1 -2 1 -8 1 1 1 -1 1 8 1 -4 1 -10 1 12 1 -7 1 10 1 -7 1 -1 1 2 1 6 1 -7 1 3 1 0 1 0 1 -7 1 8 1 0 1 3 1 -6 1 -4 1 5 1 -5 1 -2 1 0 1 12 1 -4 1 3 1 -4 1 -1 1 5 1 -6 1 0 1 -1 1 1 1 6 1 -5 1 4 1 2 1 -3 1 -2 1 -6 1 13 1 0 1 -6 1 3 1 1 1 -2 1 -8 1 8 1 1 1 -1 1 -7 1 -4 1 6 1 3 1 -5 1 8 1 -3 1 -18 1 16 1 5 1 -4 1 6 1 -13 1 13 1 0 1 -8 1 -3 1 3 1 9 1 -7 1 3 1 -2 1 -5 1 6 1 -2 1 -7 1 11 1 1 1 -5 1 6 1 -7 1 -5 1 9 1 1 1 -10 1 8 1 2 1 -3 1 -8 1 -3 1 15 1 0 1 0 1 3 1 -4 1 -8 1 12 1 -10 1 1 1 7 1 -4 1 -7 1 -1 1 5 1 4 1 -5 1 10 1 -17 1 4 1 9 1 3 1 -3 1 -12 1 4 1 1 1 9 1 0 1 1 1 -7 1 2 1 1 1 -3 1 5 1 -5 1 6 1 -2 1 -6 1 0 1 1 1 7 1 -13 1 9 1 3 1 0 1 -8 1 2 1 0 1 -3 1 7 1 2 1 -5 1 0 1 5 1 -1 1 -2 1 -6 1 9 1 0 1 -3 1 1 1 5 1 -19 1 9 1 2 1 3 1 1 1 -2 1 0 1 6 1 -2 1 -9 1 9 1 -5 1 5 1 -1 1 -1 1 -1 1 2 1 -5 1 12 1 -6 1 1 1 -3 1 -1 1 2 1 -1 1 3 1 -11 1 11 1 3 1 -3 1 -1 1 -2 1 5 1 -4 1 -2 1 -3 1 1 1 5 1 -2 1 -6 1 6 1 2 1 2 1 -7 1 -2 1 4 1 2 1 1 1 -3 1 1 1 -3 1 10 1 -11 1 4 1 8 1 -4 1 -5 1 -1 1 5 1 1 1 -1 1 -1 1 0 1 0 1 -4 1 5 1 -9 1 14 1 -1 1 -8 1 8 1 -3 1 2 1 -6 1 -8 1 11 1 -9 1 6 1 4 1 0 1 -4 1 -5 1 5 1 0 1 2 1 -2 1 -12 1 15 1 5 1 -8 1 1 1 -4 1 -13 1 10 1 10 1 0 1 -11 1 16 1 0 1 -7 1 4 1 -3 1 -2 1 5 1 -9 1 5 1 -14 1 10 1 5 1 0 1 3 1 -9 1 3 1 -1 1 1 1 -8 1 9 1 0 1 6 1 -6 1 1 1 2 1 -6 1 2 1 5 1 -1 1 -8 1 7 1 -1 1 0 1 0 1 5 1 -4 1 -2 1 2 1 -4 1 0 1 6 1 -8 1 7 1 -4 1 2 1 -7 1 -10 1 17 1 -5 1 1 1 5 1 2 1 -8 1 2 1 3 1 -7 1 2 1 5 1 -6 1 4 1 1 1 -4 1 6 1 -1 1 -4 1 0 1 4 1 -2 1 3 1 -4 1 -1 1 0 1 3 1 0 1 -1 1 -5 1 7 1 -1 1 -7 1 -10 1 13 1 1 1 4 1 -1 1 1 1 -7 1 3 1 -11 1 12 1 0 1 -9 1 12 1 -2 1 -1 1 0 1 -4 1 1 1 -4 1 5 1 6 1 -7 1 5 1 -1 1 -9 1 10 1 0 1 -4 1 0 1 -4 1 3 1 -1 1 -8 1 14 1 -13 1 8 1 7 1 -6 1 2 1 1 1 -8 1 1 1 6 1 3 1 -14 1 13 1 -10 1 4 1 2 1 -7 1 11 1 -6 1 5 1 2 1 -9 1 11 1 -8 1 -2 1 3 1 -5 1 6 1 -5 1 6 1 2 1 -12 1 9 1 1 1 0 1 -3 1 1 1 2 1 4 1 -3 1 -4 1 -11 1 13 1 -3 1 5 1 -6 1 1 1 5 1 2 1 2 1 -6 1 0 1 -1 1 2 1 0 1 -7 1 4 1 -5 1 10 1 -6 1 2 1 0 1 -5 1 10 1 -3 1 -5 1 -1 1 6 1 1 1 -5 1 0 1 6 1 -1 1 -2 1 -6 1 6 1 0 1 -11 1 4 1 6 1 -2 1 8 1 -9 1 -6 1 10 1 -3 1 7 1 1 1 -3 1 -3 1 2 1 -5 1 3 1 -6 1 9 1 -7 1 0 1 7 1 2 1 -5 1 -8 1 7 1 -2 1 -1 1 0 1 2 1 0 1 -8 1 9 1 -2 1 3 1 -4 1 6 1 -19 1 19 1 2 1 -8 1 9 1 -4 1 1 1 1 1 -13 1 11 1 -4 1 -2 1 1 1 9 1 -2 1 -2 1 2 1 -2 1 -15 1 20 1 -8 1 -1 1 -6 1 9 1 -1 1 2 1 1 1 0 1 -6 1 -1 1 1 1 6 1 4 1 -5 1 -6 1 7 1 0 1 -6 1 0 1 10 1 -5 1 -3 1 -7 1 1 1 10 1 -10 1 11 1 2 1 0 1 -3 1 -12 1 16 1 -7 1 1 1 3 1 -1 1 -1 1 0 1 -5 1 9 1 -7 1 7 1 -3 1 -1 1 -1 1 0 1 1 1 4 1 -1 1 2 1 -11 1 -6 1 8 1 1 1 7 1 -4 1 -2 1 -1 1 4 1 -1 1 -1 1 3 1 -4 1 4 1 1 1 2 1 -5 1 1 1 -2 1 2 1 -14 1 13 1 -2 1 6 1 -1 1 -5 1 4 1 -9 1 8 1 -9 1 8 1 0 1 -6 1 7 1 2 1 -5 1 5 1 -7 1 9 1 -9 1 7 1 -3 1 5 1 -5 1 1 1 2 1 3 1 -1 1 -9 1 3 1 -2 1 -15 1 27 1 -3 1 0 1 -2 1 -4 1 0 1 7 1 -5 1 7 1 -10 1 -1 1 1 1 -2 1 1 1 6 1 2 1 -4 1 -2 1 5 1 -4 1 -7 1 5 1 -4 1 4 1 2 1 -3 1 10 1 -7 1 -2 1 1 1 -5 1 8 1 4 1 -10 1 8 1 -5 1 2 1 -2 1 5 1 0 1 -3 1 -1 1 -2 1 6 1 0 1 -6 1 8 1 -2 1 -1 1 0 1 0 1 4 1 -9 1 7 1 -5 1 4 1 -10 1 9 1 -9 1 8 1 -6 1 0 1 9 1 -4 1 6 1 -17 1 11 1 2 1 -2 1 -9 1 15 1 0 1 -2 1 -8 1 4 1 -1 1 1 1 -4 1 3 1 1 1 8 1 -7 1 0 1 2 1 -3 1 1 1 2 1 -6 1 8 1 -4 1 8 1 -4 1 -2 1 1 1 -1 1 -10 1 2 1 -3" stroke="#bf00bf" class="dn"/><path d="M86.3 299.1L86.3 294.4M121.3 311.5L121.3 305.4" stroke="#bf00bf" class="dsn"/>
<path transform="matrix(0.03891 0.01387 0 -0.153 71.56 306.29)" d="M0 -23 l1 0 1 0 1 -5 1 3 1 3 1 -7 1 3 1 5 1 -13 1 -2 1 14 1 -6 1 2 1 0 1 -9 1 12 1 -9 1 -4 1 12 1 -15 1 9 1 4 1 2 1 -2 1 2 1 -2 1 -1 1 -9 1 5 1 2 1 -2 1 6 1 -1 1 -5 1 8 1 -4 1 -3 1 -4 1 1 1 1 1 4 1 -4 1 0 1 -7 1 7 1 1 1 4 1 -3 1 -5 1 2 1 5 1 -6 1 2 1 -8 1 4 1 5 1 -1 1 -9 1 2 1 5 1 -7 1 8 1 -11 1 6 1 5 1 -2 1 2 1 3 1 -8 1 -14 1 20 1 -36 1 29 1 -6 1 9 1 0 1 0 1 -1 1 4 1 -5 1 4 1 3 1 -6 1 -1 1 0 1 -2 1 2 1 3 1 -3 1 0 1 6 1 -4 1 1 1 -4 1 -3 1 -5 1 9 1 1 1 -1 1 3 1 2 1 -2 1 -7 1 -9 1 11 1 4 1 -2 1 1 1 5 1 -10 1 4 1 -3 1 2 1 -4 1 1 1 7 1 -1 1 -2 1 5 1 0 1 -10 1 6 1 1 1 0 1 -8 1 -1 1 10 1 -9 1 6 1 0 1 -2 1 -3 1 3 1 6 1 1 1 -10 1 7 1 -8 1 -6 1 8 1 8 1 -3 1 -1 1 -12 1 16 1 -12 1 10 1 -11 1 -5 1 14 1 0 1 0 1 4 1 -9 1 6 1 0 1 -4 1 -1 1 3 1 0 1 -6 1 6 1 -1 1 2 1 -2 1 -9 1 6 1 6 1 -3 1 1 1 1 1 -2 1 2 1 -2 1 -6 1 9 1 -4 1 4 1 1 1 -1 1 -1 1 -10 1 10 1 1 1 -2 1 -12 1 5 1 2 1 4 1 4 1 -8 1 7 1 0 1 1 1 -6 1 -10 1 14 1 -13 1 12 1 -4 1 7 1 1 1 -7 1 -1 1 4 1 -6 1 8 1 -5 1 5 1 -3 1 -1 1 -1 1 6 1 -15 1 11 1 -5 1 2 1 -8 1 12 1 -2 1 -6 1 6 1 0 1 -2 1 -2 1 7 1 -8 1 6 1 -4 1 4 1 -6 1 7 1 -2 1 4 1 -4 1 3 1 -6 1 5 1 -10 1 7 1 2 1 -2 1 3 1 -6 1 8 1 -2 1 2 1 -1 1 -2 1 -4 1 7 1 -1 1 0 1 -19 1 15 1 -4 1 8 1 1 1 0 1 -4 1 4 1 -1 1 -2 1 -6 1 6 1 -1 1 -5 1 9 1 -11 1 5 1 -8 1 13 1 -1 1 -6 1 7 1 -2 1 -5 1 -1 1 6 1 -28 1 33 1 -12 1 4 1 4 1 2 1 -5 1 4 1 4 1 -2 1 -4 1 -1 1 4 1 1 1 -6 1 -3 1 -2 1 6 1 4 1 -3 1 0 1 4 1 -5 1 4 1 -8 1 3 1 2 1 5 1 -9 1 2 1 -6 1 9 1 -5 1 7 1 -9 1 8 1 -5 1 9 1 -9 1 9 1 -13 1 12 1 1 1 -19 1 14 1 0 1 2 1 2 1 -3 1 6 1 -2 1 -8 1 5 1 -2 1 -3 1 0 1 -3 1 7 1 -1 1 2 1 0 1 1 1 2 1 1 1 0 1 -2 1 -1 1 1 1 -2 1 2 1 -8 1 7 1 -1 1 -1 1 3 1 0 1 -4 1 7 1 0 1 -6 1 1 1 0 1 1 1 -16 1 8 1 13 1 -10 1 1 1 4 1 -2 1 4 1 0 1 -1 1 0 1 -9 1 8 1 5 1 -3 1 7 1 -5 1 -2 1 1 1 -6 1 2 1 6 1 -10 1 6 1 3 1 0 1 -4 1 1 1 9 1 -6 1 1 1 -5 1 0 1 1 1 7 1 -10 1 0 1 6 1 0 1 -1 1 2 1 4 1 -3 1 0 1 4 1 -8 1 2 1 5 1 -4 1 -3 1 5 1 -1 1 -3 1 1 1 6 1 -1 1 -2 1 6 1 -8 1 8 1 -5 1 0 1 4 1 -1 1 -3 1 -8 1 -2 1 11 1 -3 1 -1 1 1 1 9 1 -6 1 5 1 -3 1 3 1 -4 1 1 1 1 1 1 1 -9 1 8 1 -2 1 5 1 -9 1 9 1 0 1 -5 1 2 1 -7 1 -6 1 11 1 -5 1 7 1 -6 1 7 1 0 1 -11 1 10 1 2 1 -7 1 2 1 -9 1 10 1 6 1 -3 1 -5 1 3 1 -1 1 1 1 2 1 -6 1 3 1 2 1 -14 1 12 1 0 1 -8 1 -1 1 -5 1 12 1 -15 1 18 1 -16 1 9 1 5 1 -6 1 4 1 -1 1 -6 1 3 1 -1 1 0 1 0 1 6 1 -1 1 -1 1 0 1 -17 1 9 1 9 1 -12 1 4 1 2 1 3 1 -9 1 5 1 5 1 1 1 -1 1 -3 1 0 1 4 1 -6 1 -3 1 -1 1 5 1 4 1 -3 1 5 1 -12 1 8 1 -6 1 5 1 -9 1 10 1 1 1 -5 1 9 1 -7 1 -2 1 6 1 -8 1 7 1 -7 1 1 1 1 1 -6 1 4 1 9 1 -4 1 1 1 -4 1 3 1 -8 1 10 1 -5 1 5 1 -5 1 3 1 -5 1 -5 1 10 1 1 1 -14 1 -3 1 9 1 2 1 4 1 2 1 -3 1 -8 1 1 1 9 1 -6 1 4 1 -8 1 1 1 0 1 6 1 -1 1 -4 1 6 1 -12 1 13 1 1 1 -7 1 4 1 4 1 -5 1 -1 1 3 1 -5 1 5 1 -18 1 18 1 -3 1 5 1 -2 1 -4 1 -12 1 14 1 -3 1 -12 1 13 1 4 1 -3 1 3 1 -4 1 4 1 -10 1 10 1 0 1 -1 1 -1 1 -5 1 9 1 -2 1 -4 1 6 1 -8 1 4 1 1 1 -1 1 3 1 -14 1 2 1 13 1 -1 1 -7 1 3 1 3 1 1 1 3 1 -6 1 -2 1 -7 1 5 1 3 1 -8 1 4 1 3 1 -3 1 5 1 2 1 0 1 2 1 -3 1 -3 1 -1 1 -6 1 1 1 1 1 8 1 -3 1 4 1 -5 1 7 1 -3 1 0 1 -10 1 8 1 1 1 0 1 -17 1 18 1 -4 1 3 1 -11 1 5 1 12 1 -5 1 2 1 -10 1 2 1 6 1 -6 1 8 1 -11 1 7 1 1 1 -10 1 8 1 1 1 3 1 -2 1 -6 1 7 1 -2 1 -1 1 2 1 1 1 5 1 -9 1 2 1 1 1 4 1 -6 1 5 1 -8 1 6 1 -6 1 2 1 -3 1 3 1 5 1 -8 1 7 1 -5 1 3 1 1 1 2 1 0 1 2 1 -5 1 -1 1 -2 1 -20 1 21 1 -4 1 -5 1 10 1 5 1 -20 1 19 1 -2 1 2 1 -11 1 0 1 13 1 -3 1 -3 1 1 1 3 1 -5 1 5 1 -3 1 3 1 1 1 -5 1 1 1 7 1 -7 1 -4 1 7 1 2 1 -2 1 1 1 -5 1 1 1 2 1 0 1 -4 1 -3 1 1 1 10 1 -1 1 -2 1 -6 1 9 1 -1 1 -2 1 -5 1 3 1 1 1 -5 1 -3 1 7 1 2 1 1 1 -3 1 -5 1 7 1 -1 1 -3 1 5 1 -3 1 -8 1 2 1 6 1 0 1 4 1 -1 1 0 1 0 1 -2 1 0 1 4 1 -1 1 -2 1 3 1 0 1 -8 1 7 1 -10 1 2 1 3 1 -9 1 15 1 0 1 0 1 1 1 -3 1 -4 1 4 1 -5 1 -3 1 5 1 6 1 -1 1 -9 1 7 1 4 1 -12 1 3 1 -4 1 11 1 -3 1 2 1 4 1 -1 1 -1 1 -9 1 1 1 9 1 -8 1 8 1 -6 1 6 1 -7 1 9 1 -15 1 13 1 0 1 -3 1 1 1 3 1 -3 1 3 1 -9 1 10 1 -7 1 6 1 -3 1 -1 1 -2 1 9 1 -10 1 6 1 -2 1 -6 1 7 1 -9 1 9 1 -9 1 5 1 -2 1 11 1 -4 1 3 1 -2 1 0 1 8 1 -5 1 -8 1 6 1 0 1 -1 1 2 1 1 1 0 1 0 1 -9 1 12 1 -16 1 15 1 -3 1 -4 1 -1 1 -2 1 1 1 -1 1 10 1 1 1 -1 1 1 1 1 1 -2 1 0 1 0 1 5 1 -11 1 11 1 -10 1 10 1 -4 1 1 1 -2 1 -4 1 10 1 -6 1 -1 1 7 1 -7 1 1 1 -4 1 7 1 -1 1 -3 1 -1 1 1 1 -4 1 5 1 -2 1 6 1 0 1 -4 1 -5 1 2 1 5 1 2 1 -4 1 -3 1 -1 1 4 1 -2 1 4 1 -5 1 6 1 -14 1 6 1 7 1 -4 1 -1 1 -1 1 -6 1 9 1 0 1 -1 1 -5 1 3 1 3 1 -6 1 7 1 -9 1 9 1 0 1 -2 1 -4 1 3 1 5 1 -11 1 -1 1 3 1 4 1 -2 1 0 1 -1 1 -1 1 5 1 -9 1 7 1 1 1 0 1 1 1 -4 1 -1 1 -7 1 9 1 -2 1 -1 1 3 1 1 1 -3 1 -2 1 -4 1 7 1 -3 1 1 1 4 1 -2 1 -4 1 -2 1 0 1 4 1 1 1 1 1 -4 1 7 1 -6 1 -4 1 2 1 3 1 2 1 -1 1 -7 1 6 1 -3 1 -8 1 13 1 0 1 -7 1 -5 1 -2 1 14 1 -1 1 -3 1 1 1 0 1 2 1 -3 1 -6 1 11 1 -5 1 -4 1 1 1 5 1 -2 1 0 1 1 1 6 1 -9 1 -1 1 5 1 -6 1 3 1 5 1 -11 1 9 1 -2 1 -2 1 3 1 -1 1 -7 1 5 1 -7 1 8 1 -2 1 2 1 1 1 -4 1 -1 1 0 1 7 1 -9 1 -1 1 8 1 -2 1 1 1 2 1 3 1 -7 1 -6 1 10 1 -3 1 -3 1 -3 1 3 1 3 1 -5 1 7 1 1 1 -7 1 6 1 -6 1 10 1 -6 1 -12 1 9 1 5 1 -4 1 3 1 -9 1 11 1 -4 1 -5 1 -1 1 -6 1 15 1 -2 1 2 1 -6 1 6 1 -5 1 7 1 -3 1 1 1 -4 1 -7 1 9 1 0 1 -8 1 7 1 2 1 -4 1 -2 1 9 1 -7 1 1 1 -1 1 -1 1 5 1 -9 1 9 1 -4 1 -4 1 3 1 2 1 -2 1 1 1 0 1 3 1 0 1 2 1 -4 1 5 1 -12 1 10 1 -10 1 12 1 -2 1 -5 1 5 1 2 1 -6 1 -2 1 2 1 -5 1 10 1 -13 1 11 1 -1 1 6 1 -4 1 1 1 0 1 -6 1 -4 1 8 1 1 1 2 1 0 1 -6 1 4 1 0 1 -2 1 0 1 3 1 -2 1 -16 1 20 1 0 1 -4 1 3 1 -7 1 5 1 2 1 -4 1 -12 1 10 1 5 1 -8 1 9 1 -1 1 -16 1 6 1 7 1 0 1 5 1 -7 1 -9 1 2 1 2 1 -2 1 4 1 4 1 -6 1 8 1 -1 1 -7 1 -1 1 7 1 -3 1 12 1 -19 1 12 1 -8 1 5 1 7 1 -1 1 -5 1 -5 1 8 1 -2 1 -6 1 9 1 -7 1 7 1 -2 1 1 1 -2 1 -1 1 3 1 1 1 -6 1 3 1 -4 1 7 1 -2 1 3 1 0 1 -5 1 3 1 2 1 -5 1 -2 1 7 1 3 1 -11 1 0 1 6 1 3 1 -6 1 -4 1 7 1 -2 1 -5 1 5 1 3 1 0 1 -7 1 3 1 7 1 -3 1 -1 1 3 1 -15 1 15 1 -5 1 1 1 4 1 2 1 -5 1 0 1 3 1 1 1 -2 1 4 1 -12 1 8 1 -4 1 -5 1 2 1 2 1 3 1 1 1 1 1 -4 1 4 1 0 1 4 1 -1 1 -14 1 10 1 2 1 3 1 -1 1 -4 1 -3 1 4 1 1 1 -7 1 5 1 5 1 -3 1 6 1 -9 1 9 1 -6 1 -3 1 2 1 -3 1 1 1 6 1 -1 1 -13 1 10 1 1 1 4 1 -18 1 17 1 4 1 -21 1 5 1 12 1 -1 1 5 1 -1 1 -2 1 -2 1 1 1 0 1 2 1 1 1 0 1 -6 1 3 1 -18 1 19 1 -2 1 0 1 3 1 5 1 -9 1 -2 1 4 1 4 1 -2 1 -5 1 5 1 -5 1 0 1 6 1 4 1 -3 1 0 1 -1 1 1 1 5 1 -4 1 -2 1 -1 1 5 1 -2 1 3 1 1 1 0 1 -1 1 -10 1 8 1 -1 1 -10 1 15 1 0 1 -7 1 1 1 4 1 -2 1 3 1 0 1 -9 1 2 1 8 1 -6 1 4 1 -4 1 -1 1 4 1 -1 1 -2 1 1 1 0 1 0 1 3 1 -4 1 8 1 -7 1 3 1 -3 1 3 1 2 1 -3 1 -2 1 1 1 -8 1 6 1 3 1 -3 1 2 1 4 1 -6 1 -1 1 3 1 0 1 -1 1 -1 1 1 1 -3 1 3 1 -7 1 -2 1 -3 1 4 1 0 1 12 1 -2 1 -5 1 4 1 -8 1 9 1 -5 1 -1 1 -5 1 1 1 3 1 0 1 0 1 -5 1 6 1 -4 1 0 1 3 1 -1 1 2 1 2 1 -2 1 -5 1 7 1 -5 1 3 1 0 1 -5 1 -1 1 7 1 -3 1 2 1 0 1 -1 1 2 1 -1 1 -9 1 -7 1 17 1 -4 1 -12 1 5 1 0 1 4 1 0 1 2 1 3 1 1 1 -2 1 -5 1 4 1 -4 1 3 1 0 1 0 1 -1 1 -1 1 -2 1 8 1 -4 1 -4 1 -4 1 13 1 -18 1 11 1 3 1 -2 1 0 1 -4 1 -2 1 7 1 3 1 -9 1 5 1 -5 1 3 1 4 1 -5 1 -1 1 5 1 1 1 -4 1 0 1 0 1 1 1 -6 1 -1 1 -4 1 12 1 3 1 -8 1 9 1 1 1 -9 1 -5 1 -4 1 6 1 8 1 -8 1 9 1 -3 1 -15 1 16 1 0 1 0 1 1 1 -4 1 -2 1 3 1 5 1 -6 1 8 1 -4 1 -8 1 3 1 -3 1 9 1 -8 1 4 1 0 1 4 1 -9 1 6 1 -4 1 -4 1 8 1 3 1 -4 1 -4 1 6 1 -7 1 -15 1 19 1 1 1 -2 1 -4 1 10 1 -8 1 2 1 -13 1 15 1 -9 1 13 1 -9 1 5 1 -1 1 3 1 -7 1 -11 1 13 1 3 1 3 1 -7 1 2 1 3 1 -5 1 0 1 5 1 -7 1 9 1 -4 1 -4 1 3 1 1 1 -2 1 2 1 1 1 -2 1 -1 1 0 1 -3 1 1 1 2 1 2 1 1 1 -7 1 3 1 -4 1 1 1 11 1 -5 1 0 1 -6 1 -4 1 -6 1 21 1 -2 1 -6 1 5 1 -11 1 7 1 -1 1 -17 1 17 1 2 1 -4 1 -2 1 5 1 3 1 -2 1 4 1 -6 1 -2 1 8 1 -1 1 2 1 -8 1 6 1 -4 1 -7 1 6 1 -10 1 11 1 -7 1 6 1 1 1 5 1 -7 1 -9 1 14 1 0 1 0 1 2 1 3 1 -5 1 -4 1 7 1 -24 1 18 1 1 1 2 1 -4 1 4 1 1 1 -7 1 10 1 -6 1 2 1 -4 1 6 1 -10 1 10 1 -3 1 6 1 -9 1 3 1 4 1 -6 1 0 1 8 1 -2 1 -6 1 3 1 -12 1 7 1 -1 1 4 1 6 1 -7 1 5 1 -5 1 -1 1 1 1 0 1 0 1 -3 1 0 1 -7 1 8 1 5 1 -1 1 4 1 -7 1 1 1 4 1 2 1 -8 1 4 1 -7 1 12 1 -3 1 -6 1 -3 1 8 1 1 1 -8 1 15 1 -8 1 -2 1 4 1 -5 1 8 1 2 1 -11 1 -8 1 5 1 -9 1 18 1 0 1 -3 1 3 1 -2 1 7 1 -2 1 -4 1 -3 1 1 1 0 1 -1 1 3 1 -3 1 5 1 -6 1 0 1 3 1 1 1 -10 1 17 1 -8 1 -6 1 0 1 9 1 -2 1 2 1 -1 1 3 1 1 1 -5 1 3 1 -2 1 4 1 0 1 0 1 -1 1 -1 1 4 1 -7 1 2 1 0 1 3 1 -2 1 3 1 -3 1 -1 1 2 1 1 1 -9 1 7 1 3 1 -2 1 3 1 4 1 -7 1 3 1 -3 1 1 1 -4 1 8 1 -6 1 2 1 1 1 -4 1 5 1 -1 1 1 1 -5 1 0 1 10 1 -7 1 -5 1 5 1 5 1 -1 1 1 1 0 1 -9 1 4 1 10 1 -5 1 -7 1 4 1 -3 1 6 1 1 1 -6 1 -1 1 8 1 0 1 -4 1 2 1 1 1 -4 1 9 1 -9 1 2 1 6 1 -1 1 0 1 -2 1 1 1 -4 1 4 1 -6 1 6 1 -4 1 3 1 4 1 -1 1 -2 1 -4 1 0 1 11 1 -8" stroke="#00bfbf" class="dn"/><path d="M71.6 310.4L71.6 299.4M89.1 316.5L89.1 308.5M106.6 322.6L106.6 310.4M124.1 328.7L124.1 320.7" stroke="#00bfbf" class="dsn"/>
<path d="M56.8 339.3L126.8 364.2" stroke="#ff0000" class="dl"/><path d="M56.8 339.3L56.8 306.7M74.3 345.5L74.3 318.3M91.8 351.7L91.8 317.8M109.3 358L109.3 329.2" stroke="#ff0000" class="ds"/>
<path d="M42.1 346.2L112.1 371.2" stroke="#008000" class="dl"/><path d="M42.1 346.2L42.1 313.9M59.6 352.5L59.6 324M77.1 358.7L77.1 324.7M94.6 364.9L94.6 335.7" stroke="#008000" class="ds"/>
<path d="M27.4 353.5L97.4 378.4" stroke="#0000ff" class="dl"/><path d="M27.4 353.5L27.4 321.4M44.9 359.7L44.9 330.4M62.4 366L62.4 332M79.9 372.2L79.9 342.5" stroke="#0000ff" class="ds"/>
<g class="tk"><text x="24.8" y="360.1" text-anchor="end">-200</text><text x="24.8" y="344.8" text-anchor="end">-100</text><text x="24.8" y="329.5" text-anchor="end">0</text><text x="24.8" y="314.2" text-anchor="end">100</text><text transform="translate(31.7 367.19) scale(0.8 1)" text-anchor="end">-0.4</text><text transform="translate(45.7 372.19) scale(0.8 1)" text-anchor="end">-0.2</text><text transform="translate(59.7 377.18) scale(0.8 1)" text-anchor="end">0</text><text transform="translate(73.7 382.16) scale(0.8 1)" text-anchor="end">0.2</text><text transform="translate(87.7 387.15) scale(0.8 1)" text-anchor="end">0.4</text><text class="sl" transform="translate(99.9 389.25) scale(0.78 1)">CML</text><text class="sl" transform="translate(114.62 381.98) scale(0.78 1)">MCML</text><text class="sl" transform="translate(129.34 374.71) scale(0.78 1)">DCML</text><text class="sl" transform="translate(144.06 367.44) scale(0.78 1)">MDCML</text><text class="sl" transform="translate(158.78 360.17) scale(0.78 1)">BCML</text></g>
<text class="al" transform="translate(14.8 335.8) rotate(-90)" text-anchor="middle">Power (dB)</text>
<text class="al" transform="translate(54 384) rotate(19.7)" text-anchor="middle">Frequency (Hz)</text>
<text class="cap" y="404.6"><tspan x="47.44" font-weight="bold" font-size="9.2">(g)</tspan><tspan x="63.16" font-style="italic">μ</tspan><tspan x="72.46" class="eq" textLength="6.1" lengthAdjust="spacingAndGlyphs">=</tspan><tspan x="82.46" textLength="18.4" lengthAdjust="spacingAndGlyphs">3.49,</tspan><tspan x="102.46" font-style="italic">e</tspan><tspan x="110.76" class="eq" textLength="6.4" lengthAdjust="spacingAndGlyphs">=</tspan><tspan x="119.36" textLength="11.6" lengthAdjust="spacingAndGlyphs">0.1</tspan></text>
<path class="gr" d="M202 361.2L260.8 332.1M216.1 366.2L274.5 337M230.2 371.2L288.2 341.9M244.2 376.3L302 346.8M258.3 381.3L315.7 351.8M209.7 351.4L279.6 376.4M224.4 344.2L293.9 369M239.2 336.9L308.3 361.6M253.9 329.6L322.6 354.2M209.7 351.4L209.7 305.5M224.4 344.2L224.4 298.3M239.2 336.9L239.2 291M253.9 329.6L253.9 283.7M195 358.7L253.9 329.6M195 343.4L253.9 314.3M195 328.1L253.9 299M195 312.8L253.9 283.7M260.8 332.1L260.8 286.2M274.5 337L274.5 291.1M288.2 341.9L288.2 296M302 346.8L302 300.9M315.7 351.8L315.7 305.9M253.9 329.6L322.6 354.2M253.9 314.3L322.6 338.9M253.9 299L322.6 323.6M253.9 283.7L322.6 308.3"/>
<path class="ax" d="M195 358.7L195 312.8M195 358.7L265.3 383.8M265.3 383.8L322.6 354.2M195 358.7L196.2 358.1M195 343.4L196.2 342.8M195 328.1L196.2 327.5M195 312.8L196.2 312.2M202 361.2L203.2 360.6M216.1 366.2L217.3 365.7M230.2 371.2L231.3 370.7M244.2 376.3L245.4 375.7M258.3 381.3L259.4 380.7M265.3 383.8L264.1 383.4M279.6 376.4L278.4 376M293.9 369L292.7 368.6M308.3 361.6L307 361.2M322.6 354.2L321.4 353.8"/>
<path transform="matrix(0.03819 0.01367 0 -0.153 253.88 299.02)" d="M0 9 l1 -4 1 0 1 -5 1 2 1 1 1 3 1 -7 1 1 1 11 1 0 1 -11 1 4 1 2 1 3 1 -6 1 0 1 -1 1 4 1 -2 1 5 1 -3 1 7 1 -1 1 -8 1 3 1 1 1 -6 1 2 1 -2 1 -3 1 6 1 0 1 1 1 0 1 0 1 3 1 1 1 -3 1 -4 1 7 1 0 1 -12 1 -2 1 8 1 2 1 -5 1 4 1 -3 1 4 1 -5 1 2 1 2 1 6 1 -10 1 5 1 -2 1 -4 1 5 1 3 1 -2 1 0 1 -3 1 3 1 3 1 -6 1 -2 1 10 1 -3 1 -4 1 -17 1 21 1 -5 1 -6 1 1 1 4 1 4 1 -4 1 7 1 -4 1 -1 1 -1 1 -3 1 7 1 2 1 -10 1 6 1 0 1 0 1 -3 1 -7 1 11 1 3 1 1 1 -1 1 1 1 -3 1 2 1 -6 1 4 1 -3 1 3 1 -1 1 -3 1 3 1 -3 1 5 1 -2 1 2 1 -2 1 4 1 -7 1 8 1 -17 1 16 1 -2 1 3 1 -6 1 0 1 -10 1 7 1 7 1 -5 1 -8 1 8 1 7 1 -9 1 6 1 1 1 -7 1 1 1 5 1 -2 1 3 1 0 1 -7 1 8 1 -6 1 7 1 -5 1 6 1 -4 1 -3 1 1 1 -1 1 4 1 1 1 -9 1 3 1 5 1 -8 1 4 1 5 1 -4 1 -4 1 3 1 3 1 2 1 -1 1 0 1 -4 1 6 1 -3 1 2 1 -7 1 0 1 -8 1 11 1 -3 1 8 1 -2 1 0 1 -1 1 -8 1 4 1 2 1 -2 1 -7 1 12 1 -2 1 -19 1 13 1 4 1 -2 1 0 1 6 1 -16 1 16 1 -2 1 5 1 -10 1 5 1 1 1 -2 1 -2 1 4 1 -2 1 5 1 -4 1 -2 1 2 1 -12 1 0 1 13 1 0 1 -6 1 -4 1 11 1 -1 1 -7 1 -4 1 1 1 9 1 2 1 -9 1 5 1 -1 1 -2 1 5 1 -9 1 3 1 7 1 0 1 0 1 -1 1 -8 1 11 1 -8 1 5 1 1 1 -2 1 -5 1 7 1 1 1 -3 1 -10 1 7 1 4 1 4 1 -5 1 -14 1 15 1 -5 1 6 1 -2 1 -1 1 -13 1 14 1 -3 1 0 1 2 1 5 1 -2 1 -6 1 8 1 -1 1 0 1 -7 1 5 1 2 1 -11 1 1 1 6 1 3 1 -3 1 0 1 1 1 -3 1 6 1 -2 1 -3 1 2 1 -3 1 -12 1 11 1 10 1 -3 1 -25 1 19 1 1 1 2 1 -1 1 6 1 -1 1 -4 1 -1 1 4 1 0 1 -7 1 8 1 -14 1 5 1 4 1 1 1 3 1 -8 1 0 1 3 1 1 1 -1 1 -3 1 7 1 -1 1 -1 1 -7 1 -1 1 5 1 -7 1 10 1 -2 1 2 1 -1 1 -5 1 8 1 0 1 -4 1 -1 1 1 1 -5 1 5 1 3 1 -9 1 9 1 -3 1 -4 1 11 1 -5 1 4 1 1 1 -14 1 12 1 -5 1 3 1 -8 1 8 1 2 1 -4 1 -7 1 -3 1 13 1 1 1 -10 1 7 1 -2 1 2 1 -1 1 4 1 -3 1 0 1 3 1 -6 1 3 1 -3 1 2 1 -1 1 3 1 -4 1 5 1 -5 1 4 1 -3 1 4 1 -7 1 9 1 -5 1 -3 1 -6 1 8 1 1 1 3 1 -1 1 2 1 -11 1 5 1 6 1 2 1 -2 1 -3 1 -1 1 -1 1 6 1 -1 1 -6 1 1 1 -4 1 8 1 2 1 -1 1 -1 1 1 1 -5 1 -4 1 3 1 4 1 -2 1 -2 1 1 1 -19 1 20 1 -2 1 -2 1 5 1 0 1 -5 1 9 1 -6 1 3 1 -4 1 -1 1 3 1 3 1 0 1 1 1 -16 1 16 1 -3 1 -5 1 0 1 1 1 -6 1 8 1 1 1 1 1 0 1 -6 1 9 1 -10 1 7 1 -3 1 9 1 -4 1 -4 1 5 1 -11 1 5 1 2 1 3 1 1 1 0 1 -1 1 -3 1 -4 1 5 1 -7 1 12 1 -6 1 -1 1 -1 1 0 1 5 1 -2 1 2 1 -2 1 -8 1 7 1 0 1 -5 1 5 1 -8 1 9 1 -2 1 4 1 0 1 4 1 -7 1 -2 1 5 1 -2 1 -11 1 14 1 -6 1 5 1 1 1 -5 1 4 1 2 1 -1 1 -6 1 4 1 3 1 -8 1 3 1 1 1 4 1 0 1 -8 1 6 1 -6 1 0 1 -10 1 14 1 -1 1 -7 1 11 1 2 1 -1 1 2 1 -9 1 4 1 -1 1 5 1 -2 1 -6 1 2 1 4 1 -4 1 -2 1 5 1 -15 1 15 1 -2 1 3 1 -5 1 2 1 -4 1 -7 1 11 1 1 1 2 1 -1 1 0 1 -10 1 8 1 -19 1 20 1 -8 1 11 1 -2 1 2 1 -3 1 -5 1 -7 1 4 1 -2 1 13 1 -13 1 15 1 -11 1 1 1 8 1 -2 1 -1 1 -6 1 -5 1 13 1 1 1 -8 1 -2 1 8 1 -2 1 -4 1 2 1 -1 1 -1 1 -1 1 -8 1 14 1 -6 1 10 1 -5 1 4 1 -1 1 -3 1 0 1 -6 1 -11 1 15 1 -2 1 7 1 -2 1 2 1 -2 1 1 1 -8 1 7 1 -4 1 2 1 -10 1 8 1 10 1 -10 1 3 1 2 1 0 1 1 1 -1 1 -4 1 5 1 -2 1 4 1 -1 1 -1 1 -6 1 8 1 -4 1 0 1 -3 1 -6 1 5 1 -3 1 5 1 1 1 4 1 -10 1 4 1 -1 1 3 1 1 1 1 1 -5 1 0 1 -1 1 8 1 -4 1 -1 1 -2 1 6 1 -1 1 -2 1 1 1 2 1 -2 1 2 1 -7 1 0 1 6 1 -10 1 6 1 2 1 3 1 -4 1 6 1 -7 1 7 1 1 1 -7 1 -3 1 4 1 2 1 -6 1 1 1 -4 1 4 1 -1 1 6 1 -2 1 1 1 -8 1 8 1 2 1 2 1 -5 1 5 1 -6 1 4 1 3 1 -16 1 3 1 10 1 -9 1 7 1 0 1 3 1 -7 1 2 1 1 1 4 1 -10 1 5 1 1 1 0 1 -3 1 6 1 -9 1 6 1 -2 1 3 1 2 1 0 1 1 1 -2 1 1 1 -1 1 -4 1 5 1 -5 1 1 1 -4 1 0 1 6 1 -2 1 3 1 -4 1 5 1 2 1 -1 1 -3 1 -8 1 4 1 -4 1 7 1 1 1 -1 1 -4 1 9 1 -4 1 -3 1 0 1 4 1 -3 1 2 1 -7 1 12 1 -1 1 -8 1 5 1 0 1 -11 1 11 1 -8 1 6 1 -6 1 4 1 -2 1 4 1 -8 1 14 1 -12 1 9 1 -4 1 3 1 -13 1 12 1 1 1 -4 1 1 1 5 1 2 1 -4 1 0 1 3 1 -2 1 -3 1 0 1 -2 1 -2 1 3 1 3 1 -3 1 5 1 -2 1 -2 1 -6 1 -17 1 18 1 3 1 -2 1 6 1 3 1 -6 1 6 1 -4 1 -1 1 2 1 2 1 -4 1 0 1 -7 1 9 1 -3 1 5 1 -14 1 3 1 8 1 0 1 6 1 -11 1 3 1 4 1 -9 1 6 1 1 1 -8 1 3 1 4 1 4 1 0 1 1 1 -9 1 -2 1 10 1 -1 1 -13 1 4 1 4 1 2 1 3 1 -3 1 -8 1 5 1 5 1 1 1 -2 1 -7 1 5 1 4 1 -7 1 -3 1 13 1 -2 1 -9 1 8 1 1 1 -5 1 1 1 1 1 -4 1 -14 1 17 1 -6 1 8 1 -6 1 3 1 0 1 3 1 0 1 -19 1 20 1 -8 1 -3 1 12 1 -9 1 10 1 -2 1 -18 1 15 1 -4 1 5 1 -4 1 2 1 2 1 5 1 -4 1 -1 1 -2 1 5 1 1 1 -2 1 1 1 -1 1 -3 1 3 1 -7 1 -6 1 10 1 5 1 -2 1 -3 1 -1 1 7 1 -13 1 11 1 -3 1 3 1 -1 1 0 1 -4 1 3 1 -1 1 -7 1 7 1 2 1 -1 1 -5 1 4 1 -5 1 1 1 -4 1 3 1 2 1 6 1 -9 1 2 1 -9 1 14 1 0 1 -1 1 1 1 -10 1 6 1 8 1 -10 1 -4 1 3 1 5 1 -2 1 6 1 -7 1 3 1 -1 1 5 1 -9 1 1 1 10 1 -1 1 -3 1 -3 1 -1 1 -8 1 9 1 0 1 -2 1 3 1 2 1 -7 1 2 1 8 1 -5 1 -1 1 -1 1 8 1 -5 1 -4 1 2 1 3 1 -2 1 1 1 -10 1 8 1 -9 1 -1 1 10 1 -4 1 3 1 4 1 -5 1 0 1 3 1 0 1 2 1 -5 1 3 1 2 1 1 1 -1 1 1 1 1 1 -17 1 7 1 9 1 -3 1 0 1 3 1 -13 1 11 1 1 1 0 1 -3 1 2 1 -11 1 -7 1 19 1 -3 1 -1 1 -2 1 9 1 -2 1 -10 1 -3 1 6 1 5 1 4 1 -12 1 9 1 -5 1 4 1 2 1 -7 1 5 1 1 1 -7 1 7 1 1 1 -10 1 10 1 -11 1 9 1 -13 1 13 1 -5 1 6 1 -14 1 6 1 8 1 2 1 -10 1 6 1 1 1 3 1 -10 1 3 1 1 1 9 1 -5 1 -1 1 -4 1 -4 1 -1 1 9 1 0 1 2 1 0 1 -1 1 1 1 -4 1 -4 1 -11 1 17 1 -1 1 4 1 0 1 -3 1 -3 1 3 1 4 1 -1 1 -5 1 -2 1 -1 1 4 1 2 1 2 1 -9 1 4 1 -3 1 1 1 -4 1 9 1 -1 1 0 1 -1 1 -4 1 0 1 -1 1 9 1 -3 1 5 1 -9 1 0 1 1 1 4 1 -9 1 10 1 0 1 -4 1 -6 1 10 1 0 1 -6 1 5 1 -8 1 7 1 -2 1 3 1 -2 1 4 1 2 1 -7 1 -4 1 3 1 5 1 -11 1 1 1 7 1 0 1 3 1 -3 1 3 1 -2 1 -4 1 7 1 -4 1 4 1 -17 1 4 1 12 1 -2 1 2 1 -3 1 4 1 -3 1 -4 1 0 1 6 1 -5 1 -6 1 7 1 4 1 -4 1 5 1 -20 1 17 1 -8 1 10 1 -7 1 -4 1 10 1 -8 1 9 1 0 1 -3 1 -4 1 1 1 -2 1 2 1 -1 1 9 1 -5 1 -5 1 2 1 0 1 2 1 -2 1 -1 1 -1 1 6 1 -3 1 -5 1 0 1 11 1 1 1 -10 1 6 1 4 1 -8 1 -1 1 9 1 -1 1 -8 1 -7 1 12 1 4 1 -5 1 1 1 -6 1 5 1 -4 1 -5 1 14 1 -2 1 0 1 -6 1 -3 1 7 1 0 1 -7 1 9 1 -14 1 12 1 2 1 -4 1 4 1 -13 1 10 1 -2 1 0 1 -10 1 16 1 -10 1 -1 1 -1 1 8 1 -13 1 10 1 7 1 -9 1 9 1 -7 1 4 1 -8 1 5 1 4 1 -4 1 -8 1 11 1 3 1 -7 1 3 1 7 1 -7 1 0 1 3 1 -10 1 0 1 11 1 -3 1 -9 1 9 1 -4 1 -1 1 5 1 -4 1 6 1 -5 1 1 1 0 1 -1 1 1 1 3 1 -2 1 -7 1 10 1 -3 1 0 1 0 1 1 1 1 1 -6 1 -4 1 6 1 3 1 3 1 -7 1 2 1 5 1 -8 1 10 1 -11 1 10 1 -8 1 3 1 1 1 -2 1 4 1 -3 1 -3 1 7 1 -3 1 -2 1 2 1 -5 1 -5 1 11 1 -10 1 9 1 2 1 -8 1 2 1 5 1 -6 1 10 1 -3 1 -4 1 0 1 -4 1 4 1 0 1 4 1 -2 1 -23 1 28 1 -8 1 -4 1 7 1 -1 1 2 1 -5 1 1 1 7 1 -4 1 -5 1 8 1 -13 1 10 1 -1 1 -6 1 10 1 -3 1 -3 1 -1 1 5 1 0 1 0 1 -3 1 3 1 -1 1 -1 1 2 1 -5 1 2 1 0 1 8 1 -7 1 1 1 4 1 -10 1 4 1 2 1 -5 1 1 1 3 1 -1 1 -3 1 -2 1 9 1 3 1 -11 1 4 1 -5 1 7 1 2 1 -3 1 3 1 -8 1 9 1 2 1 -6 1 -1 1 0 1 1 1 0 1 3 1 -9 1 7 1 1 1 -6 1 -1 1 3 1 -7 1 -3 1 14 1 -8 1 9 1 -7 1 3 1 0 1 0 1 6 1 -6 1 2 1 -3 1 6 1 -3 1 1 1 1 1 -11 1 12 1 -10 1 0 1 7 1 2 1 -4 1 3 1 -8 1 4 1 4 1 -1 1 -1 1 -5 1 1 1 4 1 1 1 -5 1 4 1 6 1 -10 1 6 1 -5 1 10 1 -4 1 -1 1 -3 1 1 1 3 1 -6 1 -3 1 9 1 1 1 -5 1 -10 1 0 1 11 1 -7 1 -6 1 16 1 -8 1 -4 1 7 1 7 1 -8 1 8 1 -11 1 10 1 -3 1 -2 1 -3 1 3 1 2 1 6 1 -2 1 -5 1 0 1 -4 1 6 1 0 1 0 1 1 1 -2 1 3 1 0 1 -6 1 -1 1 6 1 2 1 -3 1 -3 1 5 1 -2 1 -1 1 0 1 -6 1 5 1 -4 1 -4 1 5 1 3 1 3 1 -5 1 -2 1 1 1 1 1 1 1 3 1 4 1 -1 1 -1 1 -8 1 4 1 -2 1 5 1 3 1 -9 1 5 1 -3 1 2 1 -1 1 5 1 -1 1 -8 1 9 1 -4 1 0 1 -1 1 -11 1 11 1 -1 1 -1 1 3 1 -3 1 -4 1 -3 1 10 1 -4 1 -5 1 11 1 4 1 -9 1 -8 1 15 1 -5 1 -9 1 -1 1 12 1 -5 1 4 1 -7 1 3 1 3 1 4 1 -7 1 5 1 -1 1 2 1 -9 1 8 1 -5 1 5 1 -2 1 3 1 -3 1 -2 1 5 1 -1 1 -5 1 4 1 0 1 2 1 -7 1 3 1 1 1 -14 1 18 1 -3 1 3 1 -3 1 2 1 -5 1 1 1 2 1 -1 1 1 1 -1 1 -9 1 2 1 7 1 -2 1 -1 1 2 1 1 1 -2 1 -4 1 1 1 0 1 1 1 4 1 1 1 -7 1 9 1 -8 1 4 1 -2 1 0 1 2 1 8 1 -6 1 -27 1 27 1 1 1 -4 1 -4 1 2 1 9 1 -7 1 2 1 2 1 3 1 -7 1 -2 1 6 1 -4 1 3 1 -1 1 -2 1 -3 1 4 1 4 1 4 1 -7 1 -1 1 -2 1 1 1 0 1 3 1 -3 1 8 1 -14 1 8 1 -2 1 3 1 -1 1 1 1 2 1 -2 1 -2 1 1 1 1 1 2 1 -5 1 0 1 0 1 5 1 0 1 -4 1 4 1 -12 1 9 1 1 1 -5 1 9 1 -3 1 -1 1 0 1 0 1 -2 1 4 1 -6 1 -1 1 6 1 -13 1 11 1 -3 1 8 1 -2 1 -9 1 7 1 -1 1 0 1 -11 1 13 1 -8 1 5 1 0 1 3 1 0 1 -9 1 -8 1 19 1 -1 1 0 1 -1 1 1 1 2 1 -5 1 0 1 1 1 -6 1 7 1 -11 1 12 1 -3 1 1 1 3 1 -4 1 -1 1 2 1 0 1 -1 1 0 1 4 1 -8 1 5 1 3 1 2 1 -3 1 1 1 -2 1 -5 1 5 1 0 1 -10 1 9 1 -10 1 12 1 -14 1 11 1 -2 1 2 1 -5 1 2 1 5 1 -6 1 3 1 5 1 0 1 -5 1 -3 1 1 1 6 1 -1 1 -4 1 -1 1 3 1 -4 1 4 1 1 1 1 1 0 1 -2 1 3 1 -7 1 6 1 -10 1 10 1 1 1 -1 1 -15 1 6 1 6 1 4 1 -20 1 16 1 0 1 2 1 -1 1 -3 1 8 1 -9 1 1 1 -6 1 10 1 0 1 -4 1 3 1 -3 1 5 1 -4 1 5 1 -4 1 3 1 -2 1 1 1 -3 1 -3 1 9 1 -7 1 -2 1 7 1 -2 1 -3 1 -1 1 8 1 -6 1 1 1 -6 1 10 1 -10 1 3 1 2 1 0 1 -13 1 14 1 5 1 -5 1 -6 1 -8 1 12 1 1 1 5 1 -2 1 0 1 0 1 -2 1 3 1 -4 1 -4 1 2 1 0 1 0 1 8 1 -4 1 -12 1 12 1 -20 1 21 1 -2 1 6 1 -6 1 -7 1 0 1 8 1 -3 1 7 1 -6 1 -2 1 3 1 -3 1 6 1 -4 1 -2 1 2 1 -1 1 -1 1 4 1 0 1 -6 1 5 1 -3 1 -1 1 6 1 2 1 -6 1 -2 1 1 1 6 1 2 1 -2 1 0 1 -1 1 -8 1 9 1 -6 1 -2 1 0 1 0 1 12 1 -7 1 -3 1 2 1 7 1 -2" stroke="#bf00bf" class="dn"/><path d="M253.9 298.3L253.9 294.4M288.2 310.6L288.2 305.2" stroke="#bf00bf" class="dsn"/>
<path transform="matrix(0.03841 0.01374 0 -0.153 239.16 306.29)" d="M0 -62 l1 0 1 -3 1 -1 1 3 1 -5 1 3 1 1 1 -2 1 3 1 -10 1 9 1 -2 1 2 1 -2 1 -1 1 -9 1 11 1 4 1 -12 1 4 1 6 1 -1 1 -5 1 5 1 -5 1 4 1 -5 1 9 1 -14 1 9 1 -2 1 -5 1 6 1 -5 1 6 1 -3 1 4 1 -4 1 0 1 -2 1 1 1 -7 1 9 1 -2 1 1 1 -1 1 1 1 -4 1 7 1 -8 1 7 1 -1 1 -5 1 8 1 -3 1 -6 1 5 1 4 1 -4 1 -5 1 -2 1 5 1 -3 1 3 1 0 1 -4 1 -5 1 8 1 -4 1 0 1 2 1 3 1 -1 1 2 1 1 1 -1 1 -5 1 4 1 3 1 -9 1 3 1 -3 1 -5 1 8 1 -2 1 3 1 -1 1 3 1 -7 1 4 1 -1 1 4 1 -3 1 -4 1 6 1 1 1 -5 1 -1 1 4 1 0 1 -2 1 -1 1 2 1 3 1 3 1 -9 1 8 1 -4 1 -2 1 0 1 -1 1 -1 1 6 1 -8 1 0 1 -1 1 2 1 4 1 1 1 -8 1 7 1 -5 1 4 1 -5 1 9 1 -3 1 -4 1 2 1 -1 1 5 1 -6 1 2 1 -2 1 5 1 -1 1 -2 1 2 1 -4 1 -1 1 8 1 -11 1 -5 1 1 1 6 1 3 1 2 1 -5 1 8 1 -1 1 -5 1 -6 1 3 1 1 1 3 1 3 1 4 1 -5 1 -3 1 1 1 -4 1 1 1 3 1 2 1 -9 1 -1 1 6 1 -6 1 8 1 3 1 -4 1 -18 1 17 1 3 1 -3 1 -15 1 -8 1 16 1 0 1 1 1 9 1 -1 1 3 1 -6 1 -6 1 10 1 -6 1 12 1 -4 1 -7 1 6 1 -5 1 3 1 3 1 -4 1 5 1 -2 1 -3 1 2 1 2 1 -2 1 0 1 -14 1 15 1 3 1 1 1 -3 1 -2 1 -7 1 0 1 -2 1 5 1 7 1 -3 1 1 1 -8 1 4 1 -6 1 9 1 -5 1 0 1 3 1 3 1 2 1 -6 1 5 1 -4 1 -2 1 4 1 -1 1 1 1 -14 1 18 1 1 1 -7 1 2 1 1 1 -5 1 4 1 -1 1 3 1 -7 1 6 1 1 1 -2 1 2 1 -2 1 -5 1 5 1 -6 1 11 1 -13 1 7 1 -12 1 7 1 6 1 -5 1 2 1 7 1 -2 1 -9 1 7 1 5 1 -5 1 0 1 0 1 1 1 -1 1 -6 1 2 1 -18 1 7 1 14 1 2 1 -9 1 8 1 -6 1 7 1 -12 1 9 1 3 1 -9 1 10 1 -2 1 2 1 -5 1 4 1 -1 1 -5 1 8 1 -6 1 9 1 -5 1 2 1 -4 1 6 1 -3 1 -4 1 -1 1 4 1 -13 1 12 1 4 1 -1 1 -10 1 9 1 0 1 -4 1 9 1 -8 1 1 1 -5 1 1 1 10 1 -2 1 0 1 -4 1 0 1 -1 1 6 1 -1 1 5 1 -12 1 7 1 4 1 -12 1 -3 1 5 1 -7 1 9 1 4 1 -7 1 4 1 -2 1 0 1 4 1 -5 1 7 1 -2 1 -1 1 -7 1 12 1 0 1 -6 1 6 1 -17 1 9 1 2 1 -4 1 10 1 -1 1 -2 1 -2 1 4 1 2 1 -7 1 1 1 2 1 -2 1 -2 1 4 1 1 1 4 1 -5 1 0 1 6 1 -1 1 -2 1 -3 1 -3 1 9 1 -7 1 2 1 1 1 0 1 2 1 0 1 -6 1 7 1 -3 1 2 1 -7 1 8 1 -6 1 0 1 7 1 -3 1 -1 1 -2 1 -5 1 12 1 -3 1 -7 1 1 1 7 1 -2 1 1 1 4 1 -7 1 2 1 -1 1 2 1 -2 1 2 1 0 1 -1 1 -12 1 20 1 -12 1 6 1 2 1 -1 1 -5 1 8 1 -12 1 10 1 -6 1 7 1 -6 1 -7 1 11 1 6 1 -1 1 0 1 -7 1 -9 1 10 1 0 1 -1 1 1 1 -1 1 8 1 -4 1 6 1 -3 1 -4 1 4 1 2 1 -1 1 -9 1 7 1 4 1 -1 1 -10 1 11 1 -7 1 7 1 -4 1 4 1 -1 1 5 1 -12 1 7 1 -13 1 9 1 3 1 -5 1 7 1 0 1 -6 1 3 1 -1 1 -7 1 9 1 -2 1 -1 1 4 1 -5 1 1 1 -2 1 1 1 -2 1 3 1 -1 1 7 1 -16 1 8 1 6 1 0 1 -4 1 2 1 -5 1 0 1 0 1 3 1 1 1 -2 1 -8 1 -4 1 14 1 -3 1 5 1 -14 1 8 1 -1 1 -1 1 3 1 -11 1 6 1 5 1 -3 1 1 1 4 1 -3 1 -4 1 -3 1 5 1 4 1 -1 1 -1 1 -3 1 1 1 4 1 -10 1 7 1 -4 1 4 1 -6 1 -17 1 18 1 6 1 -6 1 3 1 0 1 -12 1 9 1 1 1 3 1 0 1 -3 1 -1 1 5 1 -2 1 -2 1 -11 1 14 1 -2 1 -2 1 -6 1 7 1 -1 1 -6 1 2 1 3 1 3 1 -3 1 0 1 5 1 -9 1 11 1 0 1 -12 1 4 1 -17 1 16 1 0 1 -6 1 12 1 0 1 -2 1 -2 1 -2 1 -3 1 9 1 -3 1 -7 1 2 1 1 1 2 1 -6 1 3 1 6 1 -2 1 -1 1 6 1 -3 1 2 1 -9 1 -1 1 0 1 1 1 6 1 -7 1 7 1 -5 1 0 1 8 1 -3 1 -1 1 -6 1 4 1 4 1 -3 1 0 1 -1 1 2 1 3 1 -4 1 -6 1 5 1 -4 1 10 1 -7 1 -9 1 4 1 1 1 2 1 7 1 -6 1 6 1 -3 1 1 1 0 1 -9 1 6 1 -4 1 5 1 1 1 2 1 0 1 -9 1 4 1 4 1 -1 1 1 1 0 1 3 1 -7 1 5 1 -2 1 -3 1 1 1 4 1 0 1 -3 1 4 1 -5 1 -9 1 12 1 1 1 -2 1 2 1 -8 1 7 1 -6 1 -6 1 18 1 -10 1 2 1 2 1 2 1 -3 1 -5 1 -5 1 -2 1 9 1 9 1 -8 1 4 1 -2 1 -1 1 4 1 -5 1 3 1 1 1 -4 1 2 1 4 1 -5 1 3 1 -3 1 -4 1 5 1 -1 1 0 1 1 1 2 1 -3 1 4 1 -9 1 -1 1 9 1 -1 1 -4 1 3 1 -2 1 1 1 7 1 -5 1 -1 1 0 1 3 1 2 1 -8 1 7 1 -9 1 1 1 1 1 -2 1 5 1 1 1 1 1 5 1 -10 1 3 1 1 1 1 1 -5 1 1 1 -1 1 -4 1 -2 1 9 1 -5 1 7 1 0 1 -4 1 0 1 0 1 7 1 -8 1 3 1 3 1 -8 1 10 1 -4 1 -1 1 -3 1 -5 1 5 1 7 1 -5 1 -5 1 9 1 -6 1 3 1 5 1 -4 1 3 1 -11 1 15 1 -1 1 -11 1 4 1 3 1 -1 1 -5 1 3 1 -2 1 -5 1 1 1 7 1 1 1 -4 1 3 1 -1 1 -3 1 8 1 -9 1 10 1 -11 1 -3 1 9 1 0 1 3 1 -25 1 25 1 -2 1 5 1 -4 1 -5 1 7 1 -2 1 0 1 -2 1 -1 1 5 1 -9 1 -9 1 5 1 10 1 3 1 -3 1 -1 1 -13 1 15 1 1 1 1 1 -4 1 -8 1 6 1 -1 1 9 1 1 1 -4 1 -4 1 2 1 1 1 1 1 -1 1 4 1 1 1 2 1 -18 1 15 1 -2 1 6 1 -7 1 -5 1 4 1 -11 1 3 1 8 1 1 1 2 1 -5 1 4 1 -8 1 11 1 0 1 0 1 4 1 -6 1 -1 1 -2 1 3 1 0 1 0 1 -2 1 -1 1 0 1 9 1 -1 1 -5 1 -5 1 10 1 -8 1 1 1 8 1 2 1 -4 1 -1 1 -7 1 1 1 8 1 -3 1 -1 1 1 1 4 1 -3 1 1 1 -1 1 5 1 -1 1 -3 1 -3 1 0 1 -2 1 8 1 1 1 -8 1 7 1 -5 1 1 1 3 1 -2 1 7 1 -6 1 2 1 2 1 -6 1 6 1 -8 1 4 1 4 1 -12 1 9 1 2 1 -2 1 5 1 -3 1 -10 1 6 1 1 1 7 1 -11 1 1 1 14 1 -9 1 4 1 -14 1 7 1 4 1 6 1 -12 1 7 1 2 1 3 1 -10 1 6 1 2 1 0 1 4 1 -7 1 2 1 0 1 1 1 3 1 -7 1 -4 1 2 1 3 1 -9 1 10 1 -15 1 13 1 6 1 0 1 -2 1 -1 1 -8 1 8 1 -1 1 -3 1 -5 1 3 1 0 1 -2 1 3 1 2 1 2 1 -6 1 -1 1 1 1 -2 1 6 1 1 1 0 1 -11 1 10 1 -1 1 -4 1 1 1 4 1 2 1 -2 1 -6 1 0 1 -2 1 7 1 -7 1 5 1 -1 1 -4 1 8 1 -12 1 4 1 -4 1 0 1 9 1 -8 1 8 1 -3 1 0 1 -5 1 0 1 3 1 5 1 -2 1 0 1 -2 1 3 1 0 1 0 1 -3 1 0 1 -4 1 -3 1 2 1 2 1 -25 1 26 1 2 1 0 1 4 1 -5 1 -2 1 1 1 3 1 -2 1 -8 1 8 1 1 1 -6 1 8 1 -4 1 -11 1 13 1 -5 1 2 1 5 1 -2 1 -3 1 6 1 -9 1 2 1 0 1 2 1 -6 1 0 1 1 1 7 1 3 1 -7 1 2 1 -2 1 -9 1 6 1 5 1 3 1 -4 1 -4 1 0 1 1 1 0 1 -1 1 4 1 0 1 -7 1 2 1 6 1 -1 1 -3 1 2 1 0 1 -2 1 8 1 -12 1 2 1 5 1 1 1 -6 1 -5 1 11 1 -2 1 -6 1 6 1 -8 1 9 1 -4 1 5 1 0 1 -1 1 -7 1 10 1 2 1 -4 1 0 1 -4 1 -2 1 7 1 0 1 -3 1 -5 1 8 1 3 1 -2 1 -4 1 4 1 -4 1 -1 1 3 1 1 1 -4 1 4 1 -3 1 1 1 -4 1 7 1 -4 1 1 1 0 1 -6 1 2 1 6 1 -7 1 5 1 -7 1 6 1 -4 1 5 1 -6 1 7 1 -2 1 -8 1 11 1 -2 1 -3 1 2 1 2 1 -1 1 -3 1 3 1 1 1 -13 1 7 1 3 1 -1 1 -2 1 5 1 -4 1 4 1 -5 1 3 1 0 1 -5 1 10 1 -2 1 -1 1 3 1 -1 1 -4 1 3 1 -3 1 -5 1 -1 1 7 1 -3 1 3 1 -1 1 0 1 4 1 -7 1 4 1 3 1 -10 1 12 1 -4 1 0 1 -4 1 -3 1 5 1 0 1 -12 1 10 1 3 1 -3 1 -3 1 9 1 -7 1 7 1 1 1 -27 1 19 1 -5 1 4 1 8 1 -6 1 4 1 1 1 -12 1 13 1 -2 1 -11 1 8 1 1 1 1 1 2 1 1 1 0 1 -1 1 -3 1 2 1 6 1 -9 1 3 1 -2 1 4 1 -6 1 0 1 3 1 2 1 -8 1 7 1 1 1 -13 1 16 1 -4 1 -11 1 13 1 1 1 -1 1 0 1 0 1 0 1 0 1 -5 1 5 1 -21 1 7 1 2 1 6 1 7 1 1 1 -3 1 0 1 1 1 -3 1 4 1 0 1 1 1 -2 1 -3 1 -1 1 1 1 3 1 5 1 -8 1 4 1 -6 1 -4 1 -2 1 6 1 5 1 2 1 -6 1 5 1 1 1 -3 1 5 1 -7 1 6 1 -3 1 -12 1 14 1 -5 1 6 1 -3 1 1 1 -12 1 10 1 0 1 4 1 0 1 -6 1 4 1 -4 1 -1 1 -1 1 9 1 0 1 -4 1 -5 1 11 1 -4 1 -2 1 1 1 3 1 -2 1 -4 1 3 1 -2 1 -3 1 7 1 4 1 -5 1 -5 1 7 1 -7 1 4 1 4 1 0 1 -4 1 4 1 -2 1 1 1 -10 1 7 1 -1 1 5 1 -17 1 18 1 -1 1 -2 1 5 1 -5 1 -4 1 5 1 -1 1 4 1 -4 1 4 1 1 1 -1 1 6 1 -11 1 8 1 -10 1 -1 1 4 1 3 1 2 1 -4 1 3 1 4 1 -4 1 -2 1 2 1 3 1 -5 1 -2 1 6 1 3 1 -6 1 6 1 -3 1 -4 1 -3 1 3 1 4 1 1 1 -3 1 4 1 -1 1 -1 1 4 1 3 1 -9 1 2 1 2 1 6 1 -3 1 -1 1 1 1 1 1 -7 1 10 1 -12 1 2 1 7 1 -3 1 2 1 -4 1 0 1 -2 1 -1 1 3 1 6 1 -11 1 6 1 0 1 4 1 -6 1 4 1 3 1 -1 1 1 1 -5 1 0 1 -6 1 7 1 -3 1 7 1 -8 1 -1 1 3 1 2 1 -5 1 4 1 5 1 -9 1 -4 1 3 1 8 1 1 1 -7 1 4 1 -4 1 -2 1 -3 1 -6 1 4 1 1 1 -7 1 16 1 -4 1 4 1 -7 1 9 1 -5 1 -7 1 -3 1 7 1 -6 1 16 1 -6 1 -9 1 8 1 0 1 -6 1 5 1 2 1 -18 1 8 1 6 1 -2 1 2 1 -3 1 7 1 -5 1 -5 1 9 1 -8 1 7 1 2 1 -4 1 -2 1 -8 1 10 1 -7 1 7 1 3 1 1 1 -2 1 -10 1 7 1 0 1 -15 1 15 1 3 1 1 1 -8 1 -2 1 6 1 -4 1 5 1 3 1 -4 1 -2 1 2 1 -10 1 6 1 -5 1 11 1 -5 1 2 1 0 1 -7 1 2 1 6 1 6 1 -14 1 4 1 -2 1 2 1 2 1 -16 1 16 1 2 1 -1 1 6 1 -7 1 -2 1 5 1 1 1 -7 1 5 1 0 1 -1 1 -3 1 3 1 -5 1 3 1 2 1 0 1 -4 1 -5 1 5 1 2 1 -1 1 -4 1 -4 1 8 1 -5 1 8 1 -8 1 8 1 0 1 -4 1 7 1 -8 1 7 1 -4 1 2 1 -3 1 -2 1 4 1 4 1 -13 1 8 1 2 1 -4 1 3 1 -6 1 -1 1 9 1 -16 1 8 1 9 1 -3 1 1 1 -3 1 -8 1 6 1 3 1 -13 1 12 1 2 1 6 1 -5 1 -10 1 8 1 4 1 0 1 -9 1 -11 1 18 1 -7 1 9 1 -3 1 -7 1 3 1 6 1 0 1 -2 1 -8 1 5 1 7 1 -9 1 1 1 2 1 1 1 -9 1 0 1 6 1 10 1 -11 1 -3 1 -4 1 14 1 0 1 0 1 0 1 -7 1 2 1 -5 1 9 1 -2 1 -2 1 2 1 -3 1 0 1 6 1 -11 1 9 1 -7 1 3 1 5 1 -11 1 9 1 -4 1 -8 1 8 1 -3 1 11 1 -15 1 9 1 -14 1 20 1 -13 1 8 1 -2 1 -1 1 1 1 6 1 -5 1 1 1 0 1 -4 1 3 1 -1 1 0 1 4 1 0 1 -2 1 1 1 4 1 -6 1 -5 1 4 1 3 1 -2 1 0 1 -8 1 0 1 9 1 2 1 -1 1 -3 1 3 1 -5 1 10 1 -7 1 0 1 -7 1 9 1 -2 1 3 1 -5 1 5 1 -2 1 4 1 0 1 -13 1 12 1 -2 1 -2 1 1 1 1 1 2 1 1 1 -3 1 -7 1 6 1 -8 1 4 1 3 1 5 1 -2 1 -3 1 5 1 -4 1 -1 1 1 1 -4 1 1 1 -3 1 9 1 -5 1 3 1 1 1 -2 1 6 1 -4 1 -10 1 11 1 -2 1 2 1 -4 1 1 1 2 1 -1 1 -6 1 10 1 -6 1 4 1 -10 1 7 1 -1 1 6 1 -6 1 0 1 3 1 -1 1 -4 1 6 1 -2 1 0 1 0 1 1 1 3 1 -2 1 2 1 0 1 -4 1 4 1 -5 1 7 1 -9 1 -7 1 5 1 11 1 -8 1 -1 1 -21 1 22 1 3 1 -12 1 18 1 -1 1 1 1 -1 1 -1 1 -9 1 13 1 -17 1 6 1 4 1 -1 1 2 1 -4 1 6 1 6 1 -3 1 -10 1 6 1 -5 1 3 1 1 1 -1 1 -14 1 21 1 -9 1 6 1 3 1 -8 1 7 1 -2 1 -10 1 10 1 -5 1 4 1 -6 1 11 1 -3 1 -9 1 9 1 -4 1 1 1 8 1 -6 1 -3 1 -8 1 16 1 -8 1 2 1 -3 1 7 1 -2 1 2 1 -1 1 -4 1 -1 1 7 1 2 1 0 1 -2 1 -7 1 7 1 1 1 -3 1 1 1 -7 1 5 1 -11 1 12 1 0 1 6 1 -9 1 4 1 0 1 3 1 7 1 -12 1 6 1 -1 1 1 1 0 1 -3 1 5 1 -7 1 3 1 -2 1 9 1 -4 1 -10 1 2 1 10 1 0 1 1 1 -4 1 2 1 2 1 -13 1 12 1 5 1 -5 1 -1 1 -2 1 2" stroke="#00bfbf" class="dn"/><path d="M239.2 316.2L239.2 298.3M256.4 321.9L256.4 308.5M273.7 327.7L273.7 310.2M291 333.4L291 320.5" stroke="#00bfbf" class="dsn"/>
<path d="M224.4 339.3L293.9 364.1" stroke="#ff0000" class="dl"/><path d="M224.4 339.3L224.4 306.7M241.8 345.5L241.8 318.2M259.2 351.7L259.2 317.7M276.6 357.9L276.6 329.1" stroke="#ff0000" class="ds"/>
<path d="M209.7 346.2L279.6 371.2" stroke="#008000" class="dl"/><path d="M209.7 346.2L209.7 313.9M227.2 352.5L227.2 324M244.7 358.7L244.7 324.7M262.1 365L262.1 335.7" stroke="#008000" class="ds"/>
<path d="M195 346.5L195 346.8 195 346.9 195 347 195 347.1 195.1 347.2 195.1 347.4 195.1 347.6 195.1 347.8 195.1 348 195.1 348.2 195.2 348.4 195.2 348.6 195.2 348.9 195.3 349.1 195.3 349.3 195.4 349.6 195.4 349.8 195.4 349.8 195.5 350.1 195.6 350.4 195.7 350.6 195.9 350.9 195.9 350.9 196.1 351.2 196.3 351.5 196.3 351.6 196.5 351.8 196.8 352.1 196.8 352.1 197.1 352.5 197.2 352.5 197.5 352.8 197.6 352.9 198 353.2 198.1 353.3 198.5 353.6 198.5 353.6 199 353.9 199.2 354 199.4 354.1 199.8 354.4 200.3 354.6 200.7 354.9 201.2 355.1 201.6 355.3 202 355.5 202.5 355.7 202.9 355.8 203.3 356 203.8 356.2 204.2 356.3 204.7 356.5 205.1 356.6 205.5 356.7 206 356.9 206.4 357 206.9 357.1 207.3 357.1 207.7 357.2 208.2 357.3 208.4 357.3 208.6 357.3 209 357.4 209.1 357.4 209.5 357.4 209.6 357.3 209.9 357.3 210.1 357.3 210.4 357.3 210.5 357.2 210.8 357.1 210.8 357.1 211.1 357 211.3 356.9 211.3 356.9 211.5 356.7 211.7 356.5 211.7 356.5 211.8 356.4 211.9 356.2 212 356 212.1 355.8 212.1 355.8 212.2 355.6 212.3 355.4 212.3 355.2 212.4 355 212.4 354.8 212.4 354.6 212.4 354.4 212.5 354.2 212.5 354 212.5 353.8 212.5 353.6 212.5 353.5 212.5 353.3 212.5 353.2 212.5 353.1 212.5 353.1 212.6 352.8 212.6 353.1 212.6 353.2 212.6 353.3 212.6 353.4 212.6 353.5 212.6 353.7 212.7 353.9 212.7 354 212.7 354.2 212.7 354.5 212.7 354.7 212.8 354.9 212.8 355.1 212.8 355.4 212.9 355.6 213 355.9 213 356.1 213 356.1 213.1 356.4 213.2 356.6 213.3 356.9 213.5 357.2 213.5 357.2 213.6 357.5 213.8 357.8 213.9 357.9 214.1 358.1 214.3 358.4 214.4 358.4 214.7 358.7 214.8 358.8 215.1 359.1 215.2 359.2 215.6 359.5 215.7 359.5 216.1 359.9 216.1 359.9 216.5 360.2 216.8 360.3 217 360.4 217.4 360.7 217.8 360.9 218.3 361.1 218.7 361.4 219.2 361.6 219.6 361.8 220 361.9 220.5 362.1 220.9 362.3 221.4 362.5 221.8 362.6 222.2 362.7 222.7 362.9 223.1 363 223.6 363.1 224 363.2 224.4 363.3 224.9 363.4 225.3 363.5 225.8 363.6 225.9 363.6 226.2 363.6 226.6 363.6 226.6 363.6 227.1 363.6 227.2 363.6 227.5 363.6 227.6 363.6 228 363.5 228 363.5 228.4 363.4 228.4 363.4 228.7 363.3 228.8 363.2 228.9 363.1 229.1 363 229.3 362.8 229.3 362.8 229.4 362.6 229.5 362.5 229.6 362.3 229.7 362.1 229.7 362.1 229.8 361.9 229.8 361.7 229.9 361.5 229.9 361.3 230 361 230 360.8 230 360.6 230 360.4 230.1 360.3 230.1 360.1 230.1 359.9 230.1 359.8 230.1 359.6 230.1 359.5 230.1 359.4 230.1 359.3 230.2 359.1 230.2 359.4 230.2 359.4 230.2 359.5 230.2 359.7 230.2 359.8 230.2 360 230.2 360.1 230.2 360.3 230.3 360.5 230.3 360.7 230.3 361 230.3 361.2 230.4 361.4 230.4 361.7 230.5 361.9 230.5 362.1 230.6 362.4 230.6 362.4 230.7 362.6 230.8 362.9 230.9 363.2 231 363.4 231 363.5 231.2 363.7 231.4 364 231.5 364.1 231.6 364.4 231.9 364.7 231.9 364.7 232.3 365 232.3 365.1 232.7 365.4 232.8 365.5 233.1 365.8 233.2 365.8 233.7 366.1 233.7 366.2 234.1 366.4 234.4 366.6 234.5 366.7 235 367 235.4 367.2 235.9 367.4 236.3 367.6 236.7 367.8 237.2 368 237.6 368.2 238.1 368.4 238.5 368.6 238.9 368.7 239.4 368.9 239.8 369 240.3 369.2 240.7 369.3 241.1 369.4 241.6 369.5 242 369.6 242.5 369.7 242.9 369.8 243.3 369.8 243.5 369.9 243.8 369.9 244.2 369.9 244.2 369.9 244.6 369.9 244.7 369.9 245.1 369.9 245.2 369.9 245.5 369.8 245.6 369.8 245.9 369.7 246 369.7 246.2 369.6 246.4 369.5 246.5 369.4 246.7 369.3 246.8 369.1 246.8 369.1 247 368.9 247.1 368.7 247.2 368.5 247.3 368.3 247.3 368.3 247.3 368.1 247.4 367.9 247.5 367.7 247.5 367.5 247.5 367.3 247.6 367.1 247.6 366.9 247.6 366.7 247.6 366.5 247.6 366.3 247.7 366.2 247.7 366 247.7 365.9 247.7 365.8 247.7 365.7 247.7 365.6 247.7 365.4 247.8 365.6 247.8 365.7 247.8 365.8 247.8 365.9 247.8 366.1 247.8 366.2 247.8 366.4 247.8 366.6 247.8 366.8 247.9 367 247.9 367.2 247.9 367.5 247.9 367.7 248 367.9 248 368.2 248.1 368.4 248.2 368.6 248.2 368.7 248.3 368.9 248.4 369.2 248.5 369.5 248.6 369.7 248.6 369.7 248.8 370 249 370.3 249 370.4 249.2 370.6 249.5 370.9 249.5 371 249.8 371.3 249.9 371.4 250.2 371.7 250.4 371.8 250.7 372 250.8 372.1 251.2 372.4 251.3 372.4 251.7 372.7 251.9 372.9 252.1 373 252.6 373.2 253 373.5 253.4 373.7 253.9 373.9 254.3 374.1 254.8 374.3 255.2 374.5 255.6 374.7 256.1 374.8 256.5 375 257 375.2 257.4 375.3 257.8 375.4 258.3 375.6 258.7 375.7 259.1 375.8 259.6 375.9 260 376 260.5 376 260.9 376.1 261.1 376.1 261.3 376.2 261.8 376.2 261.8 376.2 262.2 376.2 262.3 376.2 262.7 376.1 262.8 376.1 263.1 376.1 263.2 376.1 263.5 376 263.5 376 263.8 375.8 264 375.7 264 375.7 264.2 375.5 264.4 375.4 264.4 375.4 264.6 375.2 264.7 375 264.8 374.8 264.9 374.6 264.9 374.6 264.9 374.4 265 374.2 265 374 265.1 373.8 265.1 373.6 265.1 373.4 265.2 373.2 265.2 373 265.2 372.8 265.2 372.6 265.2 372.5 265.2 372.3 265.3 372.2 265.3 372.1 265.3 372 265.3 371.9 265.3 371.6" stroke="#0000ff" class="dl"/><path d="M195 346.5L195 321.4M212.6 352.8L212.6 330.4M230.2 359.1L230.2 332.1M247.7 365.4L247.7 342.6" stroke="#0000ff" class="ds"/>
<g class="tk"><text x="192.4" y="360.1" text-anchor="end">-200</text><text x="192.4" y="344.8" text-anchor="end">-100</text><text x="192.4" y="329.5" text-anchor="end">0</text><text x="192.4" y="314.2" text-anchor="end">100</text><text transform="translate(199.33 367.21) scale(0.8 1)" text-anchor="end">-0.4</text><text transform="translate(213.39 372.23) scale(0.8 1)" text-anchor="end">-0.2</text><text transform="translate(227.45 377.25) scale(0.8 1)" text-anchor="end">0</text><text transform="translate(241.51 382.27) scale(0.8 1)" text-anchor="end">0.2</text><text transform="translate(255.57 387.29) scale(0.8 1)" text-anchor="end">0.4</text><text class="sl" transform="translate(267.8 389.4) scale(0.78 1)">CML</text><text class="sl" transform="translate(282.12 382.01) scale(0.78 1)">MCML</text><text class="sl" transform="translate(296.44 374.61) scale(0.78 1)">DCML</text><text class="sl" transform="translate(310.76 367.22) scale(0.78 1)">MDCML</text><text class="sl" transform="translate(325.08 359.82) scale(0.78 1)">BCML</text></g>
<text class="al" transform="translate(182.4 335.8) rotate(-90)" text-anchor="middle">Power (dB)</text>
<text class="al" transform="translate(221.6 384) rotate(19.7)" text-anchor="middle">Frequency (Hz)</text>
<text class="cap" y="404.6"><tspan x="214.98" font-weight="bold" font-size="9.2">(h)</tspan><tspan x="231.22" font-style="italic">μ</tspan><tspan x="240.52" class="eq" textLength="6.1" lengthAdjust="spacingAndGlyphs">=</tspan><tspan x="250.52" textLength="18.4" lengthAdjust="spacingAndGlyphs">3.49,</tspan><tspan x="270.52" font-style="italic">e</tspan><tspan x="278.82" class="eq" textLength="6.4" lengthAdjust="spacingAndGlyphs">=</tspan><tspan x="287.42" textLength="11.6" lengthAdjust="spacingAndGlyphs">0.5</tspan></text>
<path class="gr" d="M369.6 361.2L428.3 332.1M383.6 366.2L442 337M397.6 371.2L455.7 341.9M411.6 376.2L469.4 346.8M425.6 381.2L483 351.8M377.3 351.4L446.9 376.3M392 344.2L461.2 368.9M406.8 336.9L475.6 361.6M421.5 329.6L489.9 354.2M377.3 351.4L377.3 305.5M392 344.2L392 298.3M406.8 336.9L406.8 291M421.5 329.6L421.5 283.7M362.6 358.7L421.5 329.6M362.6 343.4L421.5 314.3M362.6 328.1L421.5 299M362.6 312.8L421.5 283.7M428.3 332.1L428.3 286.2M442 337L442 291.1M455.7 341.9L455.7 296M469.4 346.8L469.4 300.9M483 351.8L483 305.9M421.5 329.6L489.9 354.2M421.5 314.3L489.9 338.9M421.5 299L489.9 323.6M421.5 283.7L489.9 308.3"/>
<path class="ax" d="M362.6 358.7L362.6 312.8M362.6 358.7L432.6 383.6M432.6 383.6L489.9 354.2M362.6 358.7L363.8 358.1M362.6 343.4L363.8 342.8M362.6 328.1L363.8 327.5M362.6 312.8L363.8 312.2M369.6 361.2L370.8 360.6M383.6 366.2L384.8 365.6M397.6 371.2L398.8 370.6M411.6 376.2L412.8 375.6M425.6 381.2L426.8 380.6M432.6 383.6L431.4 383.2M446.9 376.3L445.7 375.9M461.2 368.9L460 368.5M475.6 361.6L474.3 361.1M489.9 354.2L488.7 353.8"/>
<path transform="matrix(0.03802 0.01367 0 -0.153 421.48 299.02)" d="M0 16 l1 0 1 -2 1 5 1 -2 1 -1 1 -7 1 6 1 3 1 -1 1 4 1 -4 1 1 1 -4 1 4 1 0 1 -2 1 -4 1 1 1 0 1 -4 1 5 1 -1 1 3 1 2 1 0 1 -1 1 -8 1 5 1 2 1 0 1 1 1 -5 1 3 1 3 1 -2 1 -2 1 -3 1 7 1 -2 1 -4 1 2 1 3 1 -2 1 1 1 -5 1 5 1 -1 1 3 1 -7 1 4 1 3 1 -3 1 -5 1 9 1 1 1 -4 1 -3 1 -4 1 2 1 1 1 8 1 -2 1 -11 1 6 1 1 1 -1 1 5 1 -4 1 5 1 -5 1 -12 1 12 1 0 1 -7 1 10 1 0 1 -3 1 6 1 -6 1 4 1 -1 1 -6 1 -6 1 10 1 -1 1 1 1 2 1 -4 1 -2 1 6 1 4 1 -5 1 -5 1 4 1 0 1 0 1 4 1 -1 1 -2 1 -4 1 -5 1 11 1 -5 1 0 1 7 1 -6 1 0 1 4 1 0 1 -2 1 -4 1 3 1 -4 1 -2 1 7 1 1 1 -8 1 5 1 2 1 -14 1 9 1 -4 1 7 1 0 1 4 1 -10 1 1 1 8 1 -2 1 -2 1 6 1 -9 1 0 1 10 1 -17 1 11 1 -6 1 12 1 -4 1 0 1 -4 1 6 1 -1 1 -6 1 1 1 -1 1 7 1 4 1 -5 1 2 1 -19 1 13 1 4 1 -1 1 3 1 -5 1 3 1 1 1 1 1 -8 1 9 1 -7 1 4 1 -2 1 6 1 -5 1 1 1 4 1 -7 1 1 1 2 1 -7 1 4 1 3 1 -5 1 3 1 5 1 -11 1 10 1 -3 1 -2 1 -5 1 5 1 -1 1 -5 1 7 1 2 1 -5 1 9 1 -8 1 1 1 3 1 -5 1 0 1 0 1 3 1 3 1 0 1 -2 1 1 1 1 1 -5 1 1 1 9 1 -4 1 -5 1 -2 1 -1 1 4 1 2 1 -4 1 3 1 -14 1 10 1 3 1 2 1 -5 1 0 1 6 1 -12 1 11 1 -2 1 -3 1 2 1 5 1 -11 1 3 1 3 1 3 1 -1 1 -3 1 5 1 -7 1 11 1 -5 1 -3 1 3 1 -1 1 1 1 1 1 0 1 1 1 0 1 -13 1 10 1 2 1 -13 1 12 1 0 1 -9 1 9 1 -1 1 -7 1 11 1 -14 1 7 1 -2 1 5 1 1 1 4 1 -6 1 2 1 -8 1 -12 1 20 1 0 1 -3 1 1 1 0 1 -2 1 0 1 6 1 -4 1 -12 1 -10 1 24 1 0 1 0 1 -2 1 1 1 2 1 -7 1 7 1 -8 1 1 1 6 1 5 1 -7 1 2 1 -4 1 0 1 6 1 -12 1 14 1 -11 1 -1 1 7 1 -3 1 4 1 -1 1 -8 1 7 1 -3 1 4 1 5 1 -8 1 4 1 1 1 0 1 0 1 -4 1 7 1 -6 1 -10 1 -2 1 4 1 7 1 -1 1 2 1 4 1 -12 1 6 1 5 1 -4 1 7 1 -3 1 0 1 -3 1 -7 1 9 1 -4 1 -5 1 6 1 -1 1 5 1 -18 1 21 1 1 1 -7 1 2 1 0 1 0 1 4 1 -7 1 -4 1 11 1 -4 1 -10 1 5 1 -1 1 -4 1 11 1 -4 1 -3 1 -14 1 23 1 -15 1 7 1 0 1 8 1 -1 1 -1 1 -8 1 -4 1 13 1 -9 1 9 1 -4 1 -5 1 9 1 -2 1 -5 1 9 1 -7 1 7 1 -5 1 -7 1 13 1 -8 1 -1 1 3 1 -6 1 3 1 0 1 4 1 -2 1 0 1 1 1 -3 1 -1 1 9 1 -12 1 5 1 -6 1 11 1 -11 1 4 1 -8 1 15 1 1 1 -1 1 -1 1 2 1 -4 1 -1 1 -1 1 1 1 -2 1 2 1 2 1 -1 1 1 1 -3 1 2 1 -7 1 5 1 5 1 2 1 -6 1 3 1 -1 1 -3 1 4 1 -2 1 4 1 -2 1 -1 1 -10 1 8 1 -2 1 -6 1 11 1 -8 1 1 1 3 1 6 1 -6 1 -3 1 7 1 -1 1 2 1 0 1 0 1 -6 1 8 1 -6 1 -1 1 -2 1 6 1 -5 1 6 1 -5 1 -1 1 0 1 0 1 -3 1 -3 1 9 1 3 1 -11 1 8 1 1 1 2 1 -4 1 1 1 2 1 0 1 3 1 -5 1 3 1 -5 1 2 1 0 1 -14 1 16 1 -4 1 -3 1 8 1 -6 1 4 1 -6 1 0 1 2 1 -3 1 9 1 -4 1 -17 1 18 1 -13 1 16 1 -12 1 8 1 -11 1 12 1 -5 1 10 1 -4 1 1 1 -2 1 1 1 -10 1 7 1 3 1 -5 1 2 1 3 1 2 1 -4 1 -6 1 2 1 2 1 5 1 -1 1 1 1 0 1 -2 1 -2 1 6 1 -3 1 1 1 0 1 3 1 -3 1 4 1 -5 1 -4 1 3 1 -8 1 10 1 2 1 -16 1 16 1 -11 1 7 1 3 1 -6 1 8 1 -5 1 -9 1 15 1 -7 1 -5 1 -3 1 5 1 10 1 -5 1 0 1 -3 1 8 1 -11 1 1 1 5 1 -7 1 8 1 2 1 0 1 -19 1 15 1 -5 1 1 1 3 1 7 1 0 1 -10 1 1 1 -22 1 30 1 -2 1 2 1 -8 1 2 1 1 1 -3 1 -5 1 7 1 2 1 3 1 -16 1 13 1 2 1 -8 1 -3 1 1 1 12 1 -4 1 0 1 0 1 -2 1 5 1 -4 1 -6 1 -3 1 13 1 -3 1 -7 1 5 1 3 1 -6 1 4 1 3 1 2 1 -13 1 11 1 0 1 -5 1 6 1 1 1 -2 1 -7 1 11 1 -9 1 -21 1 17 1 6 1 -2 1 -1 1 9 1 -5 1 -6 1 5 1 -1 1 5 1 -2 1 -2 1 2 1 -4 1 1 1 0 1 1 1 -1 1 4 1 -9 1 5 1 2 1 2 1 -6 1 -6 1 -5 1 16 1 -3 1 5 1 -1 1 -11 1 9 1 -4 1 0 1 10 1 -11 1 9 1 2 1 -3 1 0 1 1 1 -4 1 -2 1 6 1 -2 1 -2 1 -9 1 10 1 -9 1 5 1 -1 1 3 1 1 1 -13 1 17 1 -10 1 7 1 -14 1 13 1 -4 1 3 1 -7 1 5 1 3 1 0 1 2 1 -5 1 1 1 1 1 -2 1 -3 1 0 1 -1 1 7 1 -9 1 12 1 -9 1 8 1 -8 1 -11 1 10 1 -4 1 11 1 -2 1 4 1 -3 1 -5 1 10 1 -15 1 5 1 3 1 4 1 -6 1 6 1 -2 1 -4 1 7 1 -13 1 7 1 4 1 3 1 -3 1 -1 1 -2 1 2 1 3 1 -3 1 1 1 -1 1 3 1 -6 1 2 1 5 1 0 1 -8 1 7 1 3 1 -6 1 1 1 6 1 -8 1 7 1 -8 1 -3 1 14 1 -7 1 3 1 -5 1 -2 1 6 1 -5 1 1 1 2 1 3 1 -2 1 1 1 0 1 0 1 -5 1 1 1 -6 1 8 1 0 1 -2 1 1 1 0 1 0 1 -1 1 4 1 0 1 -14 1 14 1 -9 1 4 1 -13 1 9 1 5 1 2 1 -4 1 2 1 0 1 3 1 -8 1 5 1 2 1 3 1 -2 1 -3 1 4 1 -2 1 -1 1 -8 1 10 1 -2 1 -1 1 -5 1 5 1 -3 1 4 1 -6 1 4 1 6 1 -21 1 18 1 -2 1 -3 1 5 1 -3 1 -4 1 8 1 3 1 -21 1 16 1 1 1 1 1 -7 1 6 1 -14 1 14 1 1 1 -3 1 -6 1 9 1 -10 1 11 1 1 1 1 1 -6 1 1 1 5 1 -1 1 -2 1 -1 1 -5 1 3 1 5 1 -7 1 7 1 -2 1 -1 1 4 1 -5 1 1 1 2 1 -5 1 -5 1 7 1 -1 1 -9 1 13 1 -6 1 5 1 -5 1 3 1 3 1 -10 1 8 1 -1 1 2 1 1 1 -9 1 6 1 4 1 -3 1 -5 1 8 1 -22 1 11 1 5 1 -3 1 -11 1 16 1 3 1 -1 1 -2 1 -3 1 -3 1 1 1 4 1 3 1 -10 1 9 1 -2 1 3 1 0 1 -10 1 3 1 4 1 1 1 1 1 0 1 -3 1 5 1 -7 1 6 1 2 1 -2 1 -1 1 -1 1 0 1 0 1 -4 1 0 1 5 1 -1 1 -1 1 4 1 -1 1 -1 1 1 1 0 1 0 1 3 1 -13 1 15 1 -12 1 5 1 -2 1 4 1 -2 1 1 1 -8 1 7 1 -5 1 -1 1 4 1 -8 1 6 1 2 1 2 1 -4 1 2 1 -1 1 -1 1 0 1 -9 1 16 1 0 1 -6 1 -1 1 8 1 -15 1 3 1 12 1 -13 1 9 1 4 1 -3 1 -2 1 -1 1 5 1 -1 1 1 1 -5 1 -1 1 5 1 -7 1 8 1 1 1 -3 1 -5 1 7 1 2 1 -7 1 1 1 -2 1 -4 1 9 1 -2 1 0 1 1 1 -6 1 11 1 -5 1 1 1 3 1 -6 1 2 1 3 1 -2 1 -1 1 -5 1 8 1 -10 1 1 1 7 1 -5 1 3 1 -6 1 1 1 10 1 -7 1 -1 1 1 1 -1 1 3 1 3 1 0 1 -2 1 -2 1 5 1 -4 1 2 1 -4 1 -1 1 5 1 -4 1 -3 1 4 1 3 1 1 1 -15 1 7 1 10 1 -9 1 -7 1 14 1 1 1 -2 1 -9 1 7 1 0 1 2 1 0 1 -6 1 5 1 -5 1 7 1 -5 1 5 1 -3 1 -3 1 5 1 -1 1 3 1 0 1 -1 1 1 1 -2 1 0 1 2 1 -18 1 9 1 9 1 -5 1 0 1 1 1 2 1 5 1 -4 1 -2 1 2 1 -15 1 16 1 -3 1 1 1 -6 1 6 1 2 1 -7 1 5 1 1 1 -2 1 -3 1 -1 1 -6 1 14 1 0 1 0 1 -6 1 3 1 -1 1 -4 1 6 1 -14 1 8 1 7 1 -1 1 -7 1 1 1 4 1 -3 1 -1 1 -11 1 15 1 -4 1 4 1 1 1 5 1 -5 1 3 1 -7 1 5 1 -5 1 6 1 -10 1 9 1 -10 1 6 1 -1 1 1 1 5 1 -12 1 9 1 2 1 1 1 -4 1 0 1 -5 1 -2 1 13 1 -6 1 3 1 1 1 -2 1 -5 1 3 1 5 1 -5 1 -2 1 -7 1 10 1 2 1 -14 1 15 1 -5 1 4 1 -1 1 1 1 0 1 1 1 0 1 -4 1 4 1 -8 1 -1 1 8 1 4 1 -2 1 -3 1 2 1 -6 1 4 1 -4 1 -5 1 7 1 -4 1 3 1 5 1 -9 1 5 1 -8 1 6 1 2 1 3 1 -7 1 5 1 -1 1 3 1 -7 1 8 1 1 1 -4 1 -5 1 5 1 -6 1 8 1 1 1 -10 1 4 1 -2 1 -2 1 1 1 8 1 -5 1 8 1 -3 1 -1 1 2 1 -5 1 3 1 -3 1 1 1 0 1 -5 1 3 1 0 1 -10 1 9 1 -1 1 8 1 -7 1 1 1 2 1 4 1 -5 1 5 1 -7 1 11 1 -5 1 1 1 -11 1 10 1 2 1 -6 1 4 1 -10 1 9 1 0 1 -10 1 8 1 1 1 -6 1 1 1 8 1 -4 1 3 1 -2 1 -1 1 5 1 -5 1 -8 1 6 1 1 1 -1 1 5 1 3 1 -6 1 -1 1 4 1 1 1 -1 1 -1 1 -2 1 -1 1 2 1 -3 1 5 1 1 1 -7 1 0 1 -8 1 13 1 -11 1 14 1 -12 1 9 1 -10 1 5 1 3 1 0 1 4 1 -1 1 -11 1 3 1 6 1 2 1 2 1 -4 1 -2 1 -3 1 4 1 2 1 0 1 -1 1 -11 1 14 1 -3 1 2 1 -1 1 0 1 -2 1 2 1 0 1 1 1 0 1 -14 1 13 1 -2 1 6 1 -5 1 0 1 -4 1 7 1 -1 1 2 1 -8 1 2 1 -1 1 2 1 -9 1 10 1 -1 1 -1 1 2 1 2 1 3 1 -9 1 -5 1 8 1 1 1 -3 1 3 1 -2 1 5 1 -4 1 4 1 -4 1 0 1 -1 1 4 1 2 1 -8 1 7 1 -6 1 -11 1 12 1 4 1 -8 1 3 1 6 1 -2 1 4 1 -4 1 1 1 2 1 -9 1 10 1 -12 1 9 1 -1 1 -9 1 10 1 -4 1 2 1 2 1 0 1 -12 1 11 1 7 1 -14 1 -2 1 1 1 7 1 3 1 0 1 -3 1 -9 1 15 1 -6 1 -3 1 -1 1 7 1 -4 1 -4 1 4 1 1 1 -1 1 3 1 -2 1 0 1 -3 1 -8 1 9 1 2 1 0 1 -5 1 5 1 0 1 -1 1 2 1 -7 1 -7 1 8 1 -8 1 13 1 0 1 -3 1 6 1 3 1 -4 1 -9 1 9 1 -2 1 0 1 2 1 -6 1 7 1 0 1 -22 1 21 1 -11 1 14 1 -2 1 -4 1 -4 1 4 1 0 1 1 1 5 1 -6 1 0 1 1 1 -12 1 2 1 11 1 2 1 -3 1 -4 1 5 1 -5 1 4 1 -10 1 8 1 -12 1 12 1 3 1 0 1 0 1 -11 1 9 1 1 1 -2 1 6 1 3 1 -7 1 0 1 2 1 -4 1 4 1 -2 1 -7 1 13 1 -8 1 8 1 -3 1 1 1 -6 1 2 1 3 1 -6 1 3 1 -3 1 4 1 2 1 0 1 -8 1 -7 1 9 1 5 1 -2 1 0 1 -3 1 8 1 2 1 -8 1 2 1 1 1 3 1 -9 1 3 1 3 1 -9 1 -2 1 8 1 -8 1 13 1 -10 1 -3 1 11 1 -1 1 -2 1 -1 1 3 1 -6 1 7 1 -4 1 4 1 1 1 -8 1 1 1 3 1 3 1 -3 1 8 1 -15 1 9 1 4 1 0 1 -2 1 3 1 -6 1 -1 1 -4 1 5 1 6 1 -5 1 3 1 -5 1 3 1 -1 1 -1 1 2 1 -1 1 3 1 -3 1 5 1 -4 1 0 1 1 1 -10 1 14 1 -9 1 5 1 3 1 -12 1 1 1 3 1 -6 1 8 1 -7 1 8 1 1 1 1 1 0 1 0 1 -1 1 -2 1 -4 1 3 1 1 1 2 1 -9 1 1 1 3 1 6 1 -4 1 4 1 -6 1 2 1 -2 1 4 1 0 1 -5 1 6 1 -5 1 -4 1 10 1 -6 1 -7 1 12 1 -4 1 5 1 -3 1 -2 1 -6 1 12 1 -6 1 -4 1 7 1 -6 1 4 1 4 1 -7 1 5 1 -2 1 -2 1 4 1 0 1 0 1 6 1 -9 1 8 1 0 1 -6 1 -3 1 6 1 -3 1 2 1 -10 1 -2 1 16 1 -9 1 1 1 -1 1 5 1 -6 1 8 1 -2 1 0 1 4 1 -7 1 7 1 -3 1 -7 1 7 1 0 1 -4 1 1 1 4 1 3 1 1 1 -23 1 11 1 6 1 1 1 1 1 -7 1 2 1 0 1 5 1 0 1 -6 1 0 1 2 1 -3 1 4 1 4 1 -12 1 10 1 -3 1 -2 1 1 1 1 1 -3 1 -2 1 -1 1 5 1 6 1 1 1 -7 1 -2 1 8 1 -5 1 -6 1 2 1 8 1 -7 1 4 1 1 1 -3 1 -3 1 5 1 -2 1 1 1 4 1 0 1 1 1 -5 1 -1 1 -1 1 0 1 3 1 4 1 1 1 -4 1 2 1 -2 1 -7 1 7 1 -5 1 8 1 -3 1 1 1 -2 1 2 1 -1 1 -1 1 -13 1 17 1 -17 1 15 1 -1 1 0 1 -1 1 -9 1 13 1 -3 1 -6 1 5 1 -1 1 -1 1 3 1 3 1 -13 1 4 1 -2 1 6 1 2 1 0 1 -7 1 5 1 3 1 -2 1 1 1 -3 1 3 1 -2 1 1 1 -1 1 1 1 2 1 -7 1 4 1 -2 1 2 1 -1 1 3 1 -1 1 -1 1 4 1 -1 1 2 1 -5 1 1 1 0 1 -1 1 -1 1 -3 1 10 1 -3 1 -11 1 4 1 6 1 1 1 -6 1 3 1 -6 1 7 1 0 1 -3 1 2 1 0 1 -3 1 5 1 3 1 -8 1 5 1 3 1 -4 1 1 1 0 1 1 1 -2 1 -1 1 -3 1 5 1 -6 1 6 1 -19 1 17 1 -5 1 6 1 0 1 -1 1 4 1 0 1 0 1 1 1 -21 1 11 1 -1 1 12 1 -10 1 4 1 0 1 -4 1 9 1 -13 1 11 1 2 1 -4 1 -1 1 0 1 -5 1 11 1 -4 1 -12 1 14 1 -13 1 12 1 -1 1 -4 1 1 1 -5 1 11 1 0 1 -3 1 -2 1 -7 1 5 1 -4 1 8 1 -1 1 0 1 3 1 -7 1 -1 1 8 1 -5 1 1 1 0 1 4 1 1 1 -4 1 -3 1 1" stroke="#bf00bf" class="dn"/><path d="M421.5 296.9L421.5 294.4M455.7 308.9L455.7 305.2" stroke="#bf00bf" class="dsn"/>
<path transform="matrix(0.03824 0.01372 0 -0.153 406.76 306.29)" d="M0 -80 l1 9 1 2 1 -7 1 4 1 -3 1 3 1 -8 1 5 1 -3 1 5 1 1 1 -7 1 8 1 -7 1 8 1 -6 1 8 1 -11 1 2 1 0 1 3 1 -4 1 7 1 0 1 -3 1 -9 1 15 1 -3 1 -5 1 -1 1 7 1 -10 1 6 1 -7 1 -1 1 8 1 6 1 -11 1 5 1 -1 1 -6 1 3 1 3 1 -2 1 6 1 -6 1 0 1 3 1 1 1 -1 1 3 1 -1 1 -4 1 4 1 2 1 -15 1 7 1 3 1 -2 1 -1 1 7 1 -5 1 3 1 -1 1 -8 1 4 1 -1 1 4 1 -6 1 10 1 -2 1 -2 1 -2 1 -9 1 6 1 1 1 6 1 -8 1 7 1 -2 1 -5 1 11 1 -8 1 -2 1 3 1 -1 1 -1 1 -6 1 3 1 9 1 -2 1 -5 1 7 1 -8 1 2 1 -1 1 2 1 -3 1 4 1 0 1 -10 1 13 1 0 1 1 1 -3 1 -10 1 -3 1 10 1 0 1 6 1 0 1 -1 1 -14 1 11 1 1 1 -11 1 14 1 -16 1 9 1 1 1 1 1 4 1 -6 1 4 1 -3 1 4 1 1 1 -6 1 2 1 2 1 1 1 -4 1 1 1 -2 1 4 1 -1 1 2 1 -2 1 3 1 -8 1 -1 1 6 1 1 1 -3 1 9 1 -5 1 3 1 -3 1 -7 1 1 1 6 1 -4 1 0 1 0 1 -6 1 7 1 2 1 1 1 -1 1 -2 1 -8 1 10 1 0 1 -5 1 -1 1 5 1 -4 1 5 1 -1 1 2 1 -4 1 0 1 1 1 1 1 2 1 -3 1 -1 1 4 1 1 1 -13 1 11 1 -5 1 5 1 0 1 -13 1 9 1 1 1 6 1 -3 1 -3 1 -2 1 9 1 -14 1 10 1 -11 1 7 1 2 1 4 1 -4 1 3 1 -1 1 -9 1 -1 1 7 1 0 1 6 1 -13 1 1 1 0 1 7 1 5 1 -6 1 2 1 -1 1 -1 1 3 1 -8 1 8 1 -1 1 -3 1 2 1 2 1 -3 1 2 1 -7 1 8 1 -2 1 -3 1 7 1 -3 1 -11 1 15 1 -4 1 1 1 -5 1 0 1 5 1 -2 1 -6 1 2 1 -2 1 12 1 -4 1 -1 1 0 1 -4 1 3 1 1 1 -5 1 -2 1 8 1 1 1 0 1 -3 1 -3 1 -2 1 3 1 3 1 1 1 2 1 -5 1 2 1 0 1 2 1 -4 1 3 1 -4 1 -2 1 2 1 1 1 -3 1 3 1 1 1 -2 1 6 1 0 1 -10 1 9 1 0 1 -2 1 -2 1 6 1 -3 1 -3 1 -3 1 -4 1 7 1 7 1 -3 1 1 1 0 1 -3 1 -3 1 3 1 -11 1 11 1 0 1 0 1 -16 1 18 1 -15 1 18 1 -4 1 -5 1 7 1 -5 1 4 1 -14 1 7 1 0 1 2 1 7 1 -6 1 1 1 3 1 2 1 -12 1 7 1 2 1 7 1 -14 1 0 1 11 1 -1 1 -2 1 -1 1 2 1 0 1 2 1 -14 1 11 1 -2 1 -6 1 2 1 8 1 -1 1 4 1 -8 1 -10 1 10 1 8 1 -5 1 -6 1 4 1 5 1 0 1 -5 1 4 1 -7 1 1 1 -4 1 7 1 -4 1 9 1 -3 1 3 1 -11 1 7 1 2 1 -1 1 -23 1 26 1 -6 1 6 1 -1 1 -2 1 2 1 -3 1 1 1 -11 1 4 1 5 1 -1 1 0 1 -11 1 13 1 -2 1 4 1 -1 1 4 1 -6 1 2 1 1 1 -5 1 0 1 8 1 -11 1 6 1 0 1 2 1 2 1 -3 1 2 1 -4 1 5 1 4 1 -8 1 4 1 2 1 -6 1 7 1 -4 1 1 1 -6 1 -1 1 5 1 -2 1 -2 1 1 1 7 1 1 1 -5 1 4 1 -5 1 6 1 -9 1 4 1 1 1 -1 1 -6 1 5 1 -4 1 3 1 -1 1 0 1 0 1 5 1 -2 1 -1 1 4 1 -1 1 5 1 -8 1 7 1 -2 1 2 1 -5 1 2 1 -18 1 18 1 -1 1 -11 1 16 1 -4 1 0 1 0 1 -1 1 -3 1 0 1 9 1 -9 1 -3 1 -10 1 20 1 -5 1 -6 1 4 1 5 1 -3 1 1 1 -3 1 6 1 -2 1 0 1 0 1 1 1 -5 1 5 1 1 1 -10 1 10 1 -1 1 -5 1 1 1 -2 1 0 1 2 1 2 1 0 1 -2 1 3 1 3 1 2 1 -1 1 -1 1 -6 1 2 1 -3 1 2 1 -7 1 7 1 -19 1 18 1 5 1 -13 1 5 1 1 1 4 1 -1 1 1 1 3 1 -9 1 8 1 -5 1 5 1 -9 1 2 1 5 1 -5 1 -4 1 8 1 -3 1 1 1 -4 1 -3 1 11 1 -6 1 2 1 3 1 -3 1 -1 1 2 1 2 1 -2 1 -6 1 3 1 6 1 -5 1 -2 1 2 1 -1 1 2 1 -3 1 3 1 5 1 -16 1 -2 1 16 1 -2 1 -1 1 3 1 -5 1 -1 1 -5 1 4 1 0 1 -2 1 8 1 2 1 -5 1 2 1 -7 1 8 1 -11 1 12 1 -16 1 11 1 -6 1 -7 1 7 1 12 1 -8 1 -7 1 3 1 11 1 -1 1 5 1 -5 1 -5 1 6 1 -7 1 2 1 -6 1 9 1 -3 1 -5 1 -2 1 11 1 -5 1 3 1 -6 1 5 1 -6 1 8 1 -10 1 1 1 9 1 -2 1 5 1 -3 1 -1 1 0 1 -2 1 -5 1 -4 1 7 1 -2 1 6 1 -5 1 6 1 -17 1 17 1 -1 1 -3 1 2 1 2 1 2 1 -8 1 8 1 -7 1 1 1 0 1 -2 1 5 1 -5 1 -4 1 0 1 4 1 4 1 1 1 -9 1 7 1 -1 1 1 1 2 1 -15 1 13 1 4 1 -4 1 4 1 -4 1 -5 1 4 1 4 1 -10 1 2 1 6 1 -4 1 6 1 -3 1 -3 1 6 1 -10 1 7 1 0 1 -1 1 2 1 -1 1 -4 1 3 1 3 1 2 1 -3 1 -4 1 3 1 2 1 -6 1 3 1 6 1 -7 1 0 1 3 1 -7 1 5 1 3 1 -4 1 1 1 2 1 -6 1 -8 1 7 1 7 1 -10 1 13 1 -2 1 -3 1 1 1 -1 1 4 1 1 1 -7 1 6 1 -5 1 1 1 5 1 -3 1 -6 1 8 1 -6 1 6 1 -6 1 2 1 2 1 4 1 -5 1 1 1 -13 1 6 1 9 1 -1 1 -6 1 3 1 -5 1 -6 1 7 1 6 1 1 1 -3 1 0 1 7 1 -10 1 -1 1 -3 1 9 1 6 1 -9 1 -4 1 8 1 -1 1 -1 1 4 1 -2 1 0 1 0 1 -14 1 16 1 -6 1 7 1 -2 1 -3 1 4 1 -4 1 2 1 1 1 1 1 -3 1 2 1 0 1 -3 1 -12 1 19 1 -4 1 0 1 0 1 -4 1 -2 1 -1 1 4 1 -1 1 3 1 1 1 -5 1 5 1 -6 1 3 1 -6 1 7 1 1 1 -1 1 -5 1 9 1 -5 1 -5 1 2 1 9 1 -5 1 2 1 -8 1 -1 1 9 1 2 1 -1 1 2 1 -6 1 1 1 -4 1 8 1 -4 1 2 1 -2 1 4 1 -8 1 3 1 -1 1 5 1 -3 1 4 1 -1 1 -3 1 4 1 -8 1 4 1 7 1 -11 1 1 1 5 1 2 1 -9 1 7 1 1 1 2 1 -1 1 -4 1 7 1 -1 1 -13 1 9 1 -5 1 -1 1 -7 1 10 1 4 1 3 1 -3 1 2 1 1 1 -10 1 12 1 -6 1 -18 1 16 1 0 1 2 1 0 1 1 1 -8 1 -4 1 11 1 3 1 1 1 3 1 -7 1 -2 1 -1 1 -1 1 11 1 -17 1 10 1 5 1 -12 1 4 1 4 1 -1 1 -13 1 8 1 7 1 2 1 -15 1 11 1 -3 1 4 1 3 1 -2 1 -6 1 8 1 -15 1 13 1 5 1 -8 1 -6 1 8 1 2 1 -3 1 0 1 3 1 -5 1 10 1 -6 1 2 1 -11 1 -2 1 13 1 -5 1 12 1 -9 1 3 1 1 1 -4 1 2 1 5 1 -4 1 -5 1 5 1 0 1 -12 1 9 1 -6 1 11 1 -4 1 -5 1 6 1 -6 1 3 1 7 1 -14 1 13 1 -4 1 -9 1 10 1 -5 1 -2 1 11 1 0 1 -1 1 2 1 -8 1 4 1 -7 1 0 1 7 1 1 1 1 1 -8 1 9 1 -2 1 -8 1 -2 1 5 1 -4 1 11 1 -3 1 -8 1 8 1 -13 1 13 1 -6 1 6 1 1 1 -3 1 5 1 -11 1 5 1 2 1 -6 1 4 1 3 1 1 1 -8 1 -2 1 5 1 -1 1 0 1 5 1 3 1 -4 1 2 1 -8 1 2 1 -6 1 12 1 -7 1 2 1 -8 1 13 1 -4 1 -4 1 6 1 -8 1 4 1 3 1 0 1 -2 1 2 1 -2 1 -2 1 7 1 -2 1 0 1 -6 1 -3 1 8 1 -3 1 -6 1 -2 1 11 1 0 1 -4 1 3 1 4 1 -21 1 19 1 0 1 -4 1 -5 1 4 1 3 1 -15 1 14 1 3 1 -10 1 11 1 -7 1 1 1 1 1 -3 1 7 1 -2 1 0 1 -12 1 12 1 -11 1 13 1 -5 1 -5 1 9 1 -3 1 -5 1 1 1 3 1 0 1 -3 1 -8 1 17 1 0 1 -8 1 0 1 4 1 -3 1 0 1 2 1 -2 1 3 1 -10 1 3 1 9 1 -2 1 0 1 -1 1 -8 1 5 1 -5 1 4 1 -5 1 11 1 -1 1 -1 1 -15 1 11 1 5 1 -1 1 4 1 -4 1 -2 1 5 1 -16 1 7 1 4 1 6 1 -8 1 1 1 1 1 2 1 -5 1 -5 1 9 1 1 1 -7 1 7 1 -6 1 5 1 2 1 2 1 -6 1 1 1 0 1 4 1 2 1 -5 1 0 1 -3 1 -5 1 13 1 -4 1 -14 1 13 1 0 1 -8 1 13 1 -7 1 -2 1 5 1 -21 1 14 1 3 1 1 1 7 1 -6 1 -5 1 8 1 -4 1 -3 1 2 1 4 1 -6 1 1 1 3 1 -3 1 6 1 -7 1 3 1 -3 1 4 1 -1 1 6 1 -16 1 6 1 8 1 -2 1 0 1 -3 1 0 1 2 1 2 1 2 1 1 1 -4 1 1 1 -18 1 -4 1 20 1 -5 1 -9 1 18 1 -1 1 1 1 -7 1 1 1 4 1 -7 1 8 1 -6 1 7 1 1 1 -6 1 7 1 -6 1 7 1 -9 1 5 1 1 1 -11 1 10 1 3 1 -6 1 6 1 -7 1 5 1 -13 1 -4 1 4 1 7 1 4 1 -13 1 7 1 4 1 -4 1 6 1 -3 1 -1 1 7 1 1 1 0 1 -2 1 -12 1 13 1 1 1 -8 1 2 1 -11 1 15 1 -1 1 -4 1 6 1 -2 1 -12 1 5 1 4 1 0 1 2 1 -7 1 3 1 -6 1 8 1 -1 1 8 1 -3 1 -6 1 5 1 0 1 -7 1 0 1 2 1 6 1 0 1 -5 1 -5 1 7 1 3 1 1 1 -4 1 4 1 -1 1 -4 1 0 1 1 1 1 1 -1 1 4 1 -6 1 8 1 -2 1 -8 1 5 1 -11 1 2 1 1 1 7 1 5 1 -30 1 32 1 -3 1 0 1 -3 1 2 1 1 1 0 1 -8 1 8 1 -3 1 0 1 5 1 -4 1 -6 1 4 1 1 1 -2 1 5 1 0 1 2 1 -3 1 -8 1 8 1 2 1 -4 1 4 1 -4 1 2 1 -1 1 3 1 -8 1 3 1 -2 1 7 1 -7 1 6 1 1 1 1 1 -12 1 7 1 4 1 -6 1 1 1 3 1 -2 1 3 1 5 1 -5 1 -3 1 1 1 0 1 4 1 -1 1 -7 1 10 1 -6 1 4 1 -3 1 4 1 -1 1 1 1 -3 1 5 1 -8 1 3 1 -1 1 3 1 -6 1 8 1 -5 1 2 1 0 1 1 1 1 1 1 1 0 1 -1 1 1 1 -1 1 -7 1 3 1 2 1 3 1 -3 1 2 1 -5 1 6 1 -7 1 9 1 -5 1 4 1 -11 1 -1 1 6 1 -1 1 4 1 2 1 2 1 -5 1 0 1 3 1 -6 1 7 1 -2 1 -1 1 2 1 -2 1 -4 1 5 1 2 1 2 1 -11 1 9 1 -1 1 -1 1 0 1 -18 1 21 1 -1 1 -4 1 -2 1 6 1 2 1 -3 1 -4 1 5 1 -4 1 2 1 -6 1 3 1 3 1 5 1 -6 1 1 1 -1 1 5 1 -4 1 -2 1 -4 1 0 1 6 1 -1 1 -2 1 1 1 -3 1 -5 1 9 1 -5 1 2 1 7 1 -6 1 0 1 1 1 -4 1 5 1 1 1 2 1 2 1 -5 1 -4 1 -2 1 5 1 -3 1 0 1 -4 1 6 1 1 1 -13 1 13 1 2 1 -6 1 3 1 -1 1 8 1 -7 1 -6 1 4 1 10 1 -13 1 5 1 -7 1 7 1 1 1 0 1 0 1 -2 1 7 1 -5 1 4 1 -5 1 5 1 -3 1 -3 1 2 1 -1 1 -3 1 0 1 1 1 -12 1 12 1 -3 1 4 1 5 1 -17 1 12 1 -6 1 -2 1 -2 1 12 1 1 1 -1 1 -1 1 -2 1 4 1 0 1 -6 1 6 1 -1 1 -1 1 3 1 -1 1 -8 1 -8 1 15 1 -2 1 -7 1 13 1 -4 1 0 1 -2 1 3 1 -3 1 0 1 2 1 -3 1 -2 1 3 1 2 1 1 1 -2 1 1 1 -3 1 -3 1 6 1 -9 1 2 1 11 1 -5 1 0 1 -12 1 12 1 -1 1 -5 1 3 1 0 1 3 1 -4 1 8 1 -8 1 -7 1 11 1 -3 1 -1 1 3 1 4 1 -6 1 2 1 2 1 -1 1 0 1 -1 1 -6 1 1 1 5 1 0 1 -2 1 -1 1 4 1 -1 1 3 1 -7 1 4 1 1 1 -5 1 4 1 1 1 -15 1 13 1 4 1 -6 1 4 1 -6 1 1 1 2 1 2 1 4 1 -4 1 -2 1 0 1 -11 1 4 1 0 1 10 1 -3 1 3 1 -7 1 5 1 -10 1 3 1 -3 1 10 1 -4 1 1 1 1 1 1 1 6 1 -2 1 -2 1 -9 1 1 1 4 1 7 1 -2 1 -6 1 2 1 6 1 -2 1 -3 1 -3 1 7 1 -3 1 1 1 -9 1 7 1 3 1 -3 1 -7 1 11 1 -20 1 20 1 -3 1 1 1 -1 1 -2 1 1 1 3 1 -13 1 7 1 8 1 -12 1 11 1 -10 1 6 1 0 1 3 1 -4 1 4 1 -7 1 -2 1 6 1 2 1 -4 1 -1 1 3 1 3 1 0 1 1 1 -9 1 4 1 5 1 -9 1 4 1 5 1 -6 1 5 1 -8 1 8 1 -1 1 3 1 -1 1 2 1 -9 1 4 1 5 1 0 1 -2 1 -1 1 -7 1 5 1 -4 1 0 1 7 1 -7 1 1 1 4 1 -14 1 15 1 -19 1 16 1 2 1 -3 1 3 1 -2 1 -2 1 6 1 -7 1 5 1 -4 1 -2 1 6 1 -1 1 1 1 -5 1 10 1 -7 1 0 1 5 1 -2 1 -2 1 3 1 0 1 -2 1 -10 1 12 1 -2 1 5 1 -1 1 -5 1 -1 1 3 1 -4 1 -3 1 5 1 3 1 0 1 -3 1 2 1 3 1 -4 1 0 1 5 1 -4 1 -5 1 5 1 -2 1 6 1 -15 1 13 1 -3 1 -8 1 11 1 -16 1 7 1 9 1 -2 1 -2 1 4 1 -2 1 3 1 -5 1 0 1 3 1 -1 1 2 1 2 1 -2 1 0 1 -2 1 4 1 -7 1 -2 1 5 1 -6 1 9 1 -2 1 -2 1 3 1 -1 1 2 1 -2 1 2 1 1 1 3 1 -4 1 3 1 -15 1 3 1 7 1 -2 1 2 1 -6 1 -1 1 5 1 -4 1 2 1 4 1 -2 1 5 1 -5 1 4 1 -4 1 2 1 2 1 -2 1 2 1 -1 1 0 1 -4 1 2 1 -2 1 5 1 4 1 -10 1 5 1 -4 1 6 1 1 1 1 1 -7 1 5 1 3 1 -6 1 1 1 4 1 -5 1 5 1 -9 1 5 1 2 1 0 1 -2 1 2 1 -6 1 1 1 -11 1 20 1 -6 1 0 1 -2 1 3 1 3 1 0 1 -16 1 9 1 -1 1 6 1 2 1 -1 1 0 1 -5 1 8 1 -1 1 0 1 0 1 2 1 -11 1 2 1 6 1 -4 1 1 1 -3 1 3 1 0 1 3 1 0 1 -7 1 -1 1 -1 1 10 1 -6 1 3 1 1 1 -10 1 10 1 -2 1 3 1 -1 1 1 1 -8 1 9" stroke="#00bfbf" class="dn"/><path d="M406.8 317.7L406.8 298.9M424 323.5L424 308.5M441.2 329.4L441.2 310.2M458.4 335.3L458.4 320.5" stroke="#00bfbf" class="dsn"/>
<path d="M392 339.3L461.2 364" stroke="#ff0000" class="dl"/><path d="M392 339.3L392 306.7M409.3 345.5L409.3 318.2M426.6 351.7L426.6 317.7M443.9 357.8L443.9 329.1" stroke="#ff0000" class="ds"/>
<path d="M377.3 346.2L446.9 371.1" stroke="#008000" class="dl"/><path d="M377.3 346.2L377.3 313.9M394.7 352.4L394.7 324M412.1 358.7L412.1 324.7M429.5 364.9L429.5 335.7" stroke="#008000" class="ds"/>
<path d="M362.6 353.5L432.6 378.4" stroke="#0000ff" class="dl"/><path d="M362.6 353.5L362.6 321.4M380.1 359.7L380.1 330.4M397.6 366L397.6 332M415.1 372.2L415.1 342.5" stroke="#0000ff" class="ds"/>
<g class="tk"><text x="360" y="360.1" text-anchor="end">-200</text><text x="360" y="344.8" text-anchor="end">-100</text><text x="360" y="329.5" text-anchor="end">0</text><text x="360" y="314.2" text-anchor="end">100</text><text transform="translate(366.9 367.19) scale(0.8 1)" text-anchor="end">-0.4</text><text transform="translate(380.9 372.19) scale(0.8 1)" text-anchor="end">-0.2</text><text transform="translate(394.9 377.18) scale(0.8 1)" text-anchor="end">0</text><text transform="translate(408.9 382.16) scale(0.8 1)" text-anchor="end">0.2</text><text transform="translate(422.9 387.15) scale(0.8 1)" text-anchor="end">0.4</text><text class="sl" transform="translate(435.1 389.25) scale(0.78 1)">CML</text><text class="sl" transform="translate(449.42 381.89) scale(0.78 1)">MCML</text><text class="sl" transform="translate(463.74 374.53) scale(0.78 1)">DCML</text><text class="sl" transform="translate(478.06 367.18) scale(0.78 1)">MDCML</text><text class="sl" transform="translate(492.38 359.82) scale(0.78 1)">BCML</text></g>
<text class="al" transform="translate(350 335.8) rotate(-90)" text-anchor="middle">Power (dB)</text>
<text class="al" transform="translate(389.2 384) rotate(19.7)" text-anchor="middle">Frequency (Hz)</text>
<text class="cap" y="404.6"><tspan x="384.16" font-weight="bold" font-size="9.2">(i)</tspan><tspan x="397.84" font-style="italic">μ</tspan><tspan x="407.14" class="eq" textLength="6.1" lengthAdjust="spacingAndGlyphs">=</tspan><tspan x="417.14" textLength="18.4" lengthAdjust="spacingAndGlyphs">3.49,</tspan><tspan x="437.14" font-style="italic">e</tspan><tspan x="445.44" class="eq" textLength="6.4" lengthAdjust="spacingAndGlyphs">=</tspan><tspan x="454.04" textLength="11.6" lengthAdjust="spacingAndGlyphs">0.9</tspan></text>
<path class="gr" d="M34.4 496.5L93.3 467.4M48.4 501.5L107.3 472.4M62.4 506.5L121.3 477.4M76.4 511.5L135.3 482.4M90.4 516.5L149.3 487.4M42.1 486.7L112.1 511.7M56.8 479.5L126.8 504.4M71.6 472.2L141.6 497.1M86.3 464.9L156.3 489.9M42.1 486.7L42.1 440.8M56.8 479.5L56.8 433.6M71.6 472.2L71.6 426.3M86.3 464.9L86.3 419M27.4 494L86.3 464.9M27.4 478.7L86.3 449.6M27.4 463.4L86.3 434.3M27.4 448.1L86.3 419M93.3 467.4L93.3 421.5M107.3 472.4L107.3 426.5M121.3 477.4L121.3 431.5M135.3 482.4L135.3 436.5M149.3 487.4L149.3 441.5M86.3 464.9L156.3 489.9M86.3 449.6L156.3 474.6M86.3 434.3L156.3 459.3M86.3 419L156.3 444"/>
<path class="ax" d="M27.4 494L27.4 448.1M27.4 494L97.4 519M97.4 519L156.3 489.9M27.4 494L28.6 493.4M27.4 478.7L28.6 478.1M27.4 463.4L28.6 462.8M27.4 448.1L28.6 447.5M34.4 496.5L35.6 495.9M48.4 501.5L49.6 500.9M62.4 506.5L63.6 505.9M76.4 511.5L77.6 510.9M90.4 516.5L91.6 515.9M97.4 519L96.2 518.5M112.1 511.7L110.9 511.2M126.8 504.4L125.6 504M141.6 497.1L140.3 496.7M156.3 489.9L155.1 489.4"/>
<path transform="matrix(0.03891 0.01387 0 -0.153 86.28 434.32)" d="M0 18 l1 -3 1 -3 1 9 1 -1 1 -4 1 0 1 4 1 -4 1 6 1 -6 1 -2 1 3 1 -4 1 1 1 9 1 -5 1 0 1 -7 1 -2 1 10 1 -3 1 1 1 -4 1 0 1 11 1 -2 1 -4 1 0 1 0 1 3 1 -1 1 0 1 1 1 2 1 -13 1 11 1 1 1 -9 1 7 1 -4 1 2 1 -2 1 1 1 2 1 -2 1 -2 1 -13 1 12 1 2 1 -2 1 4 1 3 1 3 1 -13 1 9 1 -8 1 8 1 -2 1 0 1 0 1 2 1 -3 1 -8 1 13 1 -3 1 -4 1 4 1 -4 1 2 1 0 1 3 1 -10 1 10 1 -6 1 3 1 -3 1 -1 1 7 1 -4 1 -7 1 4 1 5 1 -11 1 5 1 9 1 -9 1 7 1 5 1 -14 1 5 1 2 1 1 1 -20 1 20 1 1 1 0 1 -1 1 -4 1 -1 1 3 1 2 1 -2 1 2 1 2 1 -5 1 0 1 2 1 -12 1 11 1 4 1 2 1 -4 1 -4 1 2 1 -2 1 4 1 -3 1 2 1 2 1 -7 1 4 1 2 1 -2 1 -3 1 -2 1 7 1 -7 1 4 1 2 1 -11 1 6 1 1 1 -3 1 1 1 5 1 -5 1 5 1 3 1 -2 1 5 1 -3 1 -12 1 8 1 4 1 -3 1 -1 1 -1 1 5 1 0 1 -12 1 2 1 7 1 2 1 -5 1 4 1 -6 1 -2 1 3 1 -5 1 5 1 1 1 -6 1 7 1 5 1 -10 1 6 1 6 1 -4 1 -1 1 -3 1 -12 1 13 1 4 1 -9 1 1 1 1 1 6 1 -10 1 5 1 5 1 -7 1 2 1 -1 1 2 1 1 1 -1 1 1 1 -4 1 3 1 1 1 -5 1 8 1 -8 1 9 1 -5 1 1 1 -11 1 8 1 5 1 -3 1 0 1 3 1 -1 1 -3 1 -3 1 6 1 1 1 2 1 -4 1 -1 1 4 1 1 1 -9 1 9 1 -5 1 6 1 -5 1 -1 1 2 1 -2 1 2 1 0 1 0 1 -4 1 0 1 -8 1 15 1 -1 1 1 1 0 1 -7 1 5 1 -6 1 10 1 -9 1 2 1 1 1 6 1 -10 1 -4 1 10 1 -21 1 17 1 0 1 -6 1 12 1 -2 1 2 1 -22 1 16 1 -8 1 12 1 -5 1 8 1 -8 1 4 1 -5 1 9 1 -7 1 5 1 -3 1 3 1 -5 1 -3 1 9 1 -7 1 5 1 -3 1 -3 1 9 1 -1 1 -8 1 -1 1 5 1 1 1 1 1 4 1 -31 1 30 1 -5 1 -7 1 -2 1 14 1 -5 1 -7 1 8 1 -1 1 4 1 -5 1 -3 1 4 1 -3 1 -1 1 4 1 -6 1 -5 1 11 1 -10 1 3 1 9 1 0 1 -1 1 -4 1 1 1 3 1 -2 1 -1 1 -6 1 11 1 -4 1 3 1 -4 1 -3 1 4 1 8 1 -4 1 0 1 -2 1 0 1 -2 1 -1 1 7 1 -9 1 5 1 5 1 -5 1 -2 1 -2 1 9 1 -7 1 0 1 -3 1 0 1 -1 1 8 1 -2 1 -6 1 5 1 5 1 -6 1 -5 1 11 1 -3 1 0 1 -5 1 7 1 -11 1 4 1 5 1 -1 1 -2 1 7 1 -5 1 -2 1 5 1 -1 1 -9 1 7 1 -10 1 10 1 -8 1 10 1 -1 1 5 1 -4 1 -4 1 5 1 -8 1 -4 1 3 1 5 1 -4 1 7 1 -6 1 -7 1 13 1 -5 1 1 1 7 1 -4 1 -2 1 2 1 -8 1 6 1 0 1 -8 1 4 1 -5 1 7 1 2 1 -10 1 11 1 0 1 0 1 -2 1 2 1 0 1 -5 1 4 1 -11 1 4 1 0 1 10 1 -6 1 8 1 -12 1 11 1 -4 1 0 1 3 1 -1 1 -2 1 -7 1 5 1 4 1 -7 1 4 1 2 1 0 1 -5 1 6 1 -9 1 1 1 10 1 -3 1 0 1 1 1 1 1 -8 1 5 1 3 1 2 1 -4 1 0 1 -5 1 -2 1 7 1 3 1 -16 1 16 1 -10 1 4 1 -3 1 4 1 4 1 -5 1 -2 1 7 1 -7 1 4 1 1 1 -1 1 -8 1 14 1 -8 1 4 1 -8 1 9 1 -2 1 -10 1 2 1 11 1 -14 1 14 1 0 1 -3 1 -7 1 6 1 4 1 -7 1 -3 1 8 1 -5 1 6 1 -9 1 10 1 -4 1 1 1 4 1 -11 1 7 1 -6 1 -1 1 0 1 -8 1 17 1 -5 1 4 1 -2 1 1 1 -4 1 -2 1 8 1 -9 1 7 1 1 1 -4 1 3 1 -1 1 2 1 -1 1 -6 1 2 1 -6 1 10 1 -2 1 2 1 -6 1 -1 1 9 1 -7 1 5 1 -3 1 2 1 2 1 -10 1 6 1 8 1 -6 1 1 1 4 1 -3 1 -3 1 5 1 -3 1 -9 1 5 1 5 1 -4 1 4 1 0 1 -2 1 2 1 0 1 0 1 -2 1 0 1 1 1 -2 1 7 1 -10 1 -8 1 14 1 -2 1 2 1 2 1 -7 1 0 1 -4 1 7 1 7 1 -15 1 11 1 -1 1 -22 1 15 1 -6 1 12 1 2 1 -2 1 -1 1 -9 1 7 1 -1 1 2 1 5 1 1 1 -1 1 0 1 1 1 -5 1 -1 1 -7 1 2 1 6 1 0 1 2 1 -1 1 -1 1 -2 1 -2 1 8 1 -8 1 -6 1 13 1 3 1 -5 1 -4 1 0 1 7 1 -4 1 -7 1 12 1 -2 1 2 1 -7 1 4 1 -12 1 11 1 -7 1 3 1 4 1 -4 1 5 1 1 1 -12 1 6 1 -1 1 6 1 -5 1 1 1 8 1 -11 1 6 1 -8 1 10 1 -1 1 -5 1 6 1 -5 1 -1 1 4 1 3 1 0 1 -9 1 8 1 -1 1 -13 1 11 1 0 1 0 1 1 1 -6 1 3 1 -3 1 7 1 -13 1 10 1 -5 1 -6 1 14 1 -5 1 1 1 6 1 -4 1 -5 1 10 1 -3 1 0 1 -2 1 6 1 -10 1 3 1 3 1 -10 1 6 1 3 1 -7 1 8 1 4 1 -10 1 4 1 -10 1 7 1 4 1 1 1 2 1 -18 1 14 1 2 1 0 1 0 1 1 1 -4 1 -7 1 5 1 7 1 -1 1 -7 1 3 1 1 1 -1 1 0 1 1 1 -7 1 6 1 5 1 1 1 -6 1 4 1 -4 1 -1 1 1 1 2 1 1 1 -8 1 5 1 -8 1 9 1 -21 1 23 1 2 1 -14 1 10 1 -1 1 2 1 -15 1 8 1 11 1 -1 1 -1 1 -3 1 5 1 -7 1 3 1 -4 1 0 1 -1 1 9 1 -7 1 2 1 -3 1 8 1 -8 1 -6 1 6 1 -2 1 -3 1 1 1 -7 1 13 1 3 1 0 1 -1 1 0 1 -9 1 12 1 -5 1 0 1 3 1 -2 1 1 1 3 1 1 1 -5 1 -1 1 2 1 3 1 -19 1 18 1 -10 1 6 1 0 1 -7 1 4 1 9 1 -14 1 9 1 1 1 -10 1 8 1 -7 1 9 1 0 1 -8 1 14 1 -11 1 8 1 -2 1 -3 1 -8 1 12 1 0 1 4 1 -10 1 3 1 3 1 -6 1 3 1 3 1 0 1 -9 1 -7 1 8 1 8 1 -2 1 -6 1 1 1 3 1 -6 1 8 1 0 1 -4 1 3 1 -1 1 -4 1 10 1 -9 1 -1 1 5 1 5 1 -7 1 -5 1 10 1 -13 1 1 1 11 1 2 1 -5 1 -6 1 6 1 5 1 -1 1 2 1 -13 1 6 1 3 1 -2 1 -1 1 0 1 -5 1 5 1 -8 1 7 1 5 1 6 1 -4 1 -10 1 8 1 -5 1 1 1 5 1 -2 1 4 1 -4 1 1 1 -2 1 -4 1 0 1 0 1 6 1 -2 1 3 1 -1 1 -2 1 -3 1 -2 1 9 1 -5 1 3 1 1 1 3 1 -11 1 6 1 5 1 -3 1 -11 1 8 1 -1 1 4 1 -18 1 18 1 -10 1 -7 1 15 1 -1 1 -4 1 8 1 -3 1 -3 1 3 1 -5 1 2 1 1 1 2 1 2 1 -2 1 -3 1 -1 1 -10 1 7 1 10 1 -2 1 -1 1 -3 1 2 1 -5 1 -4 1 2 1 -5 1 7 1 1 1 7 1 -6 1 6 1 -2 1 -2 1 2 1 2 1 -2 1 -1 1 -5 1 5 1 -10 1 -6 1 14 1 3 1 -10 1 1 1 7 1 6 1 -4 1 -5 1 3 1 5 1 -5 1 3 1 2 1 -11 1 1 1 5 1 -4 1 4 1 -5 1 1 1 5 1 3 1 -2 1 -1 1 1 1 2 1 -5 1 -1 1 -4 1 6 1 -8 1 11 1 -4 1 1 1 3 1 -2 1 -1 1 4 1 -4 1 -2 1 10 1 -2 1 -7 1 6 1 -7 1 2 1 -9 1 12 1 0 1 -4 1 -9 1 12 1 -5 1 -7 1 13 1 0 1 -5 1 -12 1 11 1 3 1 -3 1 3 1 3 1 -2 1 -2 1 -2 1 -3 1 1 1 -2 1 8 1 1 1 -12 1 14 1 -5 1 6 1 -5 1 2 1 -6 1 6 1 -5 1 8 1 0 1 -3 1 -9 1 7 1 0 1 0 1 3 1 3 1 -18 1 12 1 -4 1 8 1 2 1 -6 1 2 1 -12 1 12 1 -1 1 5 1 -8 1 -2 1 2 1 2 1 -1 1 -1 1 -4 1 5 1 -4 1 6 1 0 1 -4 1 1 1 -12 1 18 1 -6 1 6 1 -9 1 3 1 7 1 -2 1 -3 1 4 1 -8 1 5 1 2 1 -8 1 6 1 -6 1 2 1 -5 1 0 1 -1 1 5 1 2 1 3 1 -2 1 6 1 0 1 -8 1 6 1 -4 1 4 1 0 1 -1 1 -4 1 5 1 1 1 -5 1 2 1 -4 1 -1 1 4 1 -8 1 14 1 -2 1 1 1 -2 1 -7 1 4 1 3 1 -6 1 -1 1 -3 1 10 1 -8 1 -1 1 8 1 -3 1 -5 1 8 1 4 1 -1 1 -8 1 1 1 5 1 -1 1 -1 1 1 1 2 1 -5 1 1 1 -1 1 2 1 1 1 -7 1 7 1 -3 1 2 1 -3 1 2 1 -1 1 2 1 -2 1 -1 1 2 1 1 1 -2 1 -3 1 1 1 -1 1 8 1 -13 1 12 1 -10 1 2 1 5 1 3 1 -2 1 2 1 -5 1 2 1 -2 1 -7 1 8 1 1 1 3 1 0 1 -3 1 3 1 -1 1 2 1 -7 1 4 1 -5 1 6 1 -5 1 5 1 3 1 -3 1 1 1 -3 1 0 1 0 1 -5 1 2 1 -6 1 8 1 3 1 -1 1 4 1 -13 1 -7 1 16 1 -4 1 6 1 -2 1 -9 1 7 1 5 1 -2 1 -4 1 -1 1 6 1 1 1 -2 1 -3 1 -4 1 6 1 -1 1 3 1 -4 1 -3 1 1 1 4 1 -1 1 2 1 0 1 -11 1 13 1 0 1 0 1 -8 1 -3 1 -12 1 17 1 6 1 -3 1 2 1 2 1 0 1 -6 1 7 1 -4 1 2 1 -16 1 12 1 2 1 -1 1 3 1 -1 1 3 1 -3 1 2 1 -5 1 4 1 -2 1 0 1 -1 1 3 1 1 1 -2 1 -1 1 -2 1 4 1 -3 1 2 1 -8 1 10 1 -1 1 -2 1 1 1 -10 1 10 1 -3 1 8 1 -15 1 15 1 -5 1 -5 1 2 1 -7 1 4 1 7 1 -12 1 12 1 -1 1 0 1 2 1 -4 1 -6 1 4 1 6 1 -3 1 0 1 -4 1 -6 1 7 1 -3 1 -1 1 4 1 0 1 4 1 -1 1 3 1 -1 1 1 1 -16 1 16 1 -5 1 -1 1 -1 1 -4 1 5 1 7 1 -1 1 -15 1 15 1 -11 1 8 1 -3 1 -3 1 2 1 -5 1 1 1 5 1 3 1 -2 1 5 1 -8 1 4 1 -3 1 5 1 -7 1 7 1 6 1 -5 1 -2 1 0 1 3 1 -2 1 -4 1 0 1 -3 1 11 1 -4 1 -2 1 2 1 1 1 -7 1 5 1 0 1 -9 1 11 1 2 1 -10 1 5 1 -1 1 -1 1 0 1 1 1 2 1 1 1 -2 1 3 1 -4 1 2 1 7 1 -21 1 1 1 8 1 6 1 2 1 -2 1 -1 1 1 1 -1 1 -6 1 6 1 -10 1 12 1 -3 1 3 1 0 1 0 1 -6 1 -7 1 3 1 0 1 6 1 1 1 2 1 0 1 -2 1 2 1 -2 1 -3 1 3 1 3 1 2 1 -2 1 -3 1 -2 1 2 1 -2 1 3 1 0 1 -10 1 10 1 4 1 -17 1 0 1 9 1 6 1 -3 1 -12 1 12 1 -2 1 6 1 -3 1 0 1 -14 1 7 1 5 1 2 1 -4 1 -2 1 -7 1 14 1 -1 1 -5 1 8 1 -6 1 1 1 0 1 1 1 -3 1 0 1 7 1 -8 1 2 1 -4 1 11 1 -7 1 -4 1 -2 1 12 1 -6 1 0 1 -5 1 3 1 -3 1 8 1 2 1 -4 1 5 1 -5 1 9 1 -4 1 0 1 -3 1 2 1 -11 1 9 1 -11 1 8 1 -8 1 11 1 4 1 -20 1 9 1 3 1 7 1 -4 1 0 1 4 1 -9 1 7 1 1 1 -12 1 13 1 -2 1 -3 1 -4 1 8 1 -4 1 3 1 4 1 -4 1 -6 1 10 1 -3 1 -7 1 4 1 -5 1 -4 1 2 1 10 1 -3 1 0 1 -1 1 -1 1 -1 1 4 1 0 1 2 1 -8 1 6 1 -7 1 4 1 -5 1 8 1 0 1 2 1 -6 1 5 1 -2 1 2 1 1 1 -4 1 4 1 1 1 -6 1 -10 1 11 1 2 1 -1 1 -1 1 3 1 -1 1 -1 1 0 1 3 1 -8 1 7 1 -5 1 6 1 -1 1 -1 1 -4 1 2 1 -4 1 9 1 -6 1 0 1 2 1 -4 1 7 1 -5 1 4 1 1 1 -6 1 4 1 -6 1 10 1 -2 1 -3 1 0 1 5 1 -8 1 -8 1 11 1 -3 1 2 1 -1 1 2 1 -6 1 -1 1 11 1 -2 1 -4 1 0 1 4 1 1 1 -2 1 -7 1 -5 1 17 1 -6 1 2 1 -3 1 -1 1 2 1 2 1 -5 1 3 1 -3 1 4 1 -2 1 0 1 6 1 -1 1 -3 1 2 1 0 1 -2 1 -1 1 -9 1 5 1 -4 1 3 1 9 1 0 1 -9 1 -1 1 3 1 -4 1 9 1 -2 1 0 1 -3 1 -10 1 11 1 7 1 -2 1 -1 1 -7 1 1 1 3 1 0 1 3 1 -6 1 2 1 -5 1 7 1 1 1 -9 1 1 1 2 1 11 1 -9 1 6 1 -7 1 1 1 0 1 0 1 5 1 0 1 1 1 -1 1 -3 1 4 1 -2 1 -1 1 -10 1 11 1 -5 1 4 1 0 1 -2 1 -1 1 4 1 1 1 -2 1 -8 1 12 1 -5 1 6 1 1 1 -4 1 -3 1 3 1 -2 1 5 1 -2 1 2 1 -4 1 -5 1 -1 1 2 1 0 1 0 1 6 1 -1 1 0 1 2 1 -3 1 -3 1 6 1 -1 1 1 1 -7 1 4 1 -3 1 6 1 -1 1 -1 1 -1 1 -7 1 4 1 4 1 -6 1 3 1 -3 1 5 1 5 1 -19 1 17 1 0 1 -3 1 1 1 3 1 -8 1 1 1 -3 1 5 1 -11 1 11 1 -2 1 1 1 1 1 -1 1 0 1 -6 1 10 1 -13 1 10 1 -2 1 -4 1 7 1 -1 1 -1 1 2 1 2 1 -2 1 7 1 -3 1 -1 1 0 1 -11 1 8 1 2 1 3 1 -9 1 5 1 -1 1 2 1 -5 1 1 1 1 1 0 1 -8 1 8 1 4 1 -4 1 -2 1 1 1 4 1 -3 1 -4 1 6 1 5 1 -5 1 -3 1 6 1 -4 1 -1 1 0 1 1 1 -8 1 6 1 0 1 1 1 1 1 -4 1 3 1 3 1 -3 1 2 1 -2 1 -1 1 3 1 -13 1 14 1 1 1 1 1 -6 1 -4 1 1 1 2 1 2 1 -1 1 5 1 -11 1 11 1 -11 1 9 1 -2 1 3 1 0 1 -4 1 0 1 5 1 -4 1 -1 1 5 1 -3 1 0 1 4 1 -15 1 13 1 -4 1 -1 1 1 1 -2 1 -1 1 4 1 -1 1 -7 1 7 1 1 1 1 1 0 1 0 1 -8 1 8 1 -4 1 2 1 -1 1 0 1 6 1 -2 1 2 1 -6 1 -15 1 14 1 -1 1 5 1 -5 1 1 1 -2 1 6 1 2 1 -12 1 0 1 11 1 2 1 -14 1 13 1 -6 1 2 1 2 1 -3 1 6 1 0 1 -9 1 -2 1 3 1 9 1 -8 1 -2 1 11 1 -5 1 -5" stroke="#bf00bf" class="dn"/><path d="M121.3 444.8L121.3 439.9" stroke="#bf00bf" class="dsn"/>
<path transform="matrix(0.03891 0.01387 0 -0.153 71.56 441.59)" d="M0 21 l1 1 1 -3 1 -3 1 1 1 -1 1 1 1 5 1 -3 1 0 1 -2 1 -7 1 9 1 1 1 -2 1 1 1 -19 1 18 1 -4 1 5 1 0 1 -5 1 -20 1 24 1 0 1 -21 1 21 1 2 1 -6 1 -2 1 9 1 2 1 -7 1 -4 1 10 1 -4 1 1 1 -2 1 -1 1 -1 1 -5 1 6 1 1 1 1 1 -2 1 -2 1 1 1 -4 1 6 1 -1 1 2 1 3 1 -1 1 -9 1 9 1 -6 1 5 1 -3 1 3 1 1 1 0 1 -7 1 3 1 -1 1 6 1 -13 1 8 1 -5 1 9 1 -16 1 17 1 -3 1 -1 1 -5 1 2 1 6 1 -2 1 -2 1 -7 1 5 1 7 1 -10 1 5 1 -5 1 4 1 4 1 -5 1 -1 1 6 1 -4 1 -1 1 0 1 -9 1 11 1 4 1 0 1 -5 1 5 1 -17 1 11 1 2 1 -9 1 11 1 0 1 2 1 -7 1 -1 1 4 1 -9 1 4 1 6 1 3 1 -1 1 -2 1 -2 1 -6 1 8 1 -6 1 7 1 -6 1 0 1 3 1 1 1 -7 1 -2 1 3 1 4 1 -1 1 -2 1 8 1 -14 1 13 1 2 1 -6 1 0 1 -4 1 3 1 4 1 1 1 -2 1 -3 1 2 1 1 1 -12 1 5 1 10 1 -1 1 -5 1 7 1 -4 1 -9 1 8 1 0 1 -4 1 7 1 4 1 -5 1 3 1 -10 1 7 1 -4 1 2 1 2 1 -1 1 3 1 -6 1 6 1 -4 1 0 1 1 1 -2 1 4 1 -9 1 3 1 5 1 0 1 -4 1 -1 1 2 1 5 1 -15 1 12 1 4 1 -6 1 -2 1 4 1 -9 1 7 1 4 1 -5 1 -1 1 3 1 1 1 -3 1 0 1 5 1 -5 1 7 1 -3 1 -9 1 11 1 -16 1 17 1 -7 1 1 1 4 1 0 1 -8 1 3 1 -2 1 3 1 -11 1 13 1 0 1 2 1 -12 1 8 1 7 1 -13 1 8 1 -2 1 2 1 3 1 -2 1 -7 1 6 1 2 1 0 1 -7 1 8 1 2 1 -10 1 0 1 -6 1 7 1 -11 1 16 1 1 1 -7 1 4 1 0 1 1 1 -2 1 1 1 0 1 -4 1 7 1 -1 1 -4 1 2 1 2 1 2 1 -5 1 5 1 -1 1 5 1 -6 1 0 1 0 1 -1 1 0 1 2 1 -3 1 0 1 -8 1 5 1 8 1 -8 1 2 1 -3 1 7 1 -8 1 7 1 -8 1 1 1 3 1 0 1 3 1 -2 1 0 1 -4 1 3 1 3 1 -6 1 6 1 -9 1 8 1 -6 1 -8 1 16 1 -2 1 0 1 -15 1 14 1 -2 1 7 1 -3 1 -6 1 -3 1 9 1 1 1 -4 1 3 1 3 1 -9 1 6 1 3 1 1 1 -3 1 -9 1 5 1 -5 1 7 1 -10 1 4 1 -9 1 14 1 1 1 -2 1 5 1 -18 1 16 1 -2 1 8 1 -15 1 9 1 -5 1 0 1 8 1 -5 1 -5 1 1 1 6 1 -11 1 9 1 2 1 -5 1 1 1 1 1 2 1 -7 1 12 1 -6 1 -12 1 -4 1 18 1 -1 1 2 1 1 1 -9 1 2 1 6 1 -2 1 4 1 -2 1 -6 1 0 1 -9 1 6 1 11 1 -3 1 -5 1 -9 1 10 1 1 1 1 1 1 1 -7 1 5 1 -9 1 4 1 12 1 -7 1 2 1 -3 1 7 1 -2 1 -16 1 7 1 2 1 5 1 -3 1 0 1 5 1 -6 1 3 1 0 1 -5 1 -5 1 7 1 4 1 -1 1 6 1 -8 1 6 1 -6 1 -2 1 2 1 -4 1 -4 1 12 1 1 1 -5 1 9 1 -7 1 5 1 -11 1 1 1 7 1 -6 1 -4 1 6 1 3 1 -3 1 3 1 -4 1 -15 1 14 1 2 1 3 1 2 1 -1 1 -3 1 4 1 -8 1 -10 1 17 1 -5 1 -1 1 7 1 0 1 2 1 1 1 -1 1 -3 1 4 1 -3 1 -6 1 7 1 -2 1 -2 1 -4 1 1 1 6 1 0 1 -3 1 5 1 -1 1 -8 1 9 1 -10 1 7 1 0 1 -4 1 -3 1 3 1 3 1 2 1 -8 1 8 1 0 1 0 1 -6 1 -4 1 12 1 -4 1 1 1 -5 1 6 1 -5 1 0 1 -9 1 8 1 7 1 -4 1 4 1 -5 1 2 1 -3 1 0 1 -5 1 1 1 6 1 0 1 1 1 0 1 -2 1 -18 1 19 1 3 1 0 1 -5 1 5 1 -3 1 5 1 -3 1 0 1 -4 1 -1 1 1 1 3 1 -2 1 -2 1 1 1 3 1 2 1 -2 1 -3 1 5 1 -4 1 0 1 2 1 0 1 0 1 -4 1 0 1 1 1 2 1 2 1 -2 1 0 1 -3 1 2 1 2 1 -2 1 -3 1 -2 1 -5 1 9 1 3 1 -4 1 2 1 0 1 -1 1 -4 1 10 1 -2 1 -7 1 7 1 2 1 -6 1 3 1 -2 1 -3 1 -2 1 4 1 5 1 -4 1 -6 1 -2 1 9 1 -3 1 9 1 -2 1 -13 1 11 1 0 1 2 1 -1 1 -2 1 3 1 -6 1 -3 1 -1 1 -5 1 9 1 6 1 -4 1 0 1 -21 1 7 1 19 1 -14 1 10 1 -1 1 5 1 -4 1 1 1 3 1 -2 1 -10 1 7 1 3 1 0 1 -4 1 5 1 -10 1 7 1 -1 1 7 1 -4 1 -12 1 10 1 6 1 -4 1 -4 1 -5 1 -3 1 5 1 8 1 -1 1 -8 1 2 1 -7 1 11 1 -13 1 14 1 0 1 -2 1 -3 1 -7 1 15 1 -6 1 -2 1 0 1 3 1 -3 1 5 1 1 1 -10 1 1 1 -2 1 -7 1 12 1 -1 1 6 1 3 1 -6 1 -3 1 2 1 3 1 2 1 -8 1 3 1 5 1 -1 1 3 1 -2 1 -2 1 -13 1 11 1 2 1 3 1 -1 1 0 1 -9 1 4 1 0 1 6 1 -16 1 16 1 -5 1 0 1 -2 1 6 1 -21 1 17 1 3 1 -5 1 3 1 -9 1 -3 1 6 1 0 1 3 1 4 1 0 1 0 1 0 1 1 1 0 1 2 1 -1 1 -2 1 -12 1 13 1 0 1 -3 1 -6 1 6 1 3 1 0 1 1 1 -4 1 -10 1 9 1 -3 1 5 1 4 1 -15 1 2 1 10 1 -2 1 3 1 -5 1 1 1 3 1 5 1 -2 1 -2 1 -7 1 4 1 0 1 -1 1 4 1 -2 1 2 1 -7 1 3 1 6 1 -9 1 -6 1 12 1 -14 1 6 1 6 1 4 1 -2 1 -10 1 8 1 -4 1 8 1 -4 1 -2 1 -1 1 0 1 4 1 -1 1 -2 1 4 1 -4 1 1 1 3 1 -2 1 1 1 0 1 0 1 0 1 -2 1 7 1 -6 1 -13 1 3 1 11 1 1 1 -3 1 4 1 -8 1 3 1 5 1 0 1 2 1 1 1 -4 1 3 1 -8 1 0 1 3 1 -3 1 9 1 -7 1 0 1 3 1 3 1 -5 1 -2 1 7 1 -5 1 0 1 -2 1 4 1 0 1 -1 1 -16 1 22 1 -9 1 6 1 -1 1 0 1 1 1 -5 1 6 1 2 1 -4 1 3 1 -6 1 -4 1 -2 1 6 1 -1 1 3 1 1 1 -5 1 2 1 -1 1 0 1 3 1 4 1 -2 1 1 1 2 1 -20 1 20 1 -14 1 9 1 -13 1 14 1 -9 1 -5 1 10 1 -6 1 4 1 2 1 1 1 2 1 0 1 3 1 -3 1 -14 1 14 1 5 1 -2 1 -9 1 4 1 2 1 2 1 -2 1 0 1 3 1 0 1 -4 1 -1 1 3 1 -9 1 7 1 -3 1 9 1 -13 1 6 1 -5 1 9 1 -2 1 -1 1 2 1 0 1 -15 1 4 1 12 1 -6 1 2 1 4 1 0 1 -5 1 1 1 5 1 -2 1 -11 1 6 1 3 1 -7 1 3 1 -8 1 8 1 4 1 -7 1 9 1 -3 1 -1 1 4 1 0 1 -1 1 4 1 -8 1 7 1 -1 1 -2 1 -25 1 24 1 0 1 0 1 -3 1 3 1 -1 1 1 1 -4 1 4 1 -8 1 8 1 -10 1 14 1 -1 1 -6 1 1 1 3 1 0 1 -6 1 6 1 -1 1 -8 1 9 1 -8 1 11 1 -9 1 7 1 -1 1 -1 1 5 1 -9 1 1 1 10 1 -11 1 3 1 -4 1 7 1 -6 1 -4 1 4 1 1 1 1 1 1 1 -5 1 10 1 -3 1 1 1 -8 1 5 1 3 1 -2 1 -4 1 10 1 -5 1 0 1 0 1 -1 1 -5 1 3 1 5 1 -2 1 -1 1 4 1 -6 1 -1 1 10 1 -4 1 1 1 -13 1 10 1 -1 1 4 1 -2 1 -2 1 -1 1 3 1 -6 1 -4 1 -7 1 14 1 -4 1 -2 1 14 1 -7 1 -2 1 1 1 7 1 -1 1 -2 1 -3 1 -1 1 1 1 1 1 -2 1 4 1 -2 1 5 1 -8 1 -2 1 7 1 -4 1 5 1 -6 1 7 1 1 1 -20 1 16 1 -3 1 -7 1 7 1 -2 1 2 1 3 1 3 1 -9 1 6 1 -1 1 -1 1 0 1 -7 1 11 1 -7 1 0 1 6 1 -4 1 2 1 -5 1 2 1 4 1 -2 1 3 1 1 1 -1 1 -2 1 2 1 -2 1 -3 1 -12 1 12 1 3 1 0 1 -2 1 -7 1 10 1 4 1 -9 1 -2 1 3 1 -1 1 -14 1 18 1 -1 1 -1 1 0 1 -4 1 6 1 -2 1 -5 1 12 1 -4 1 0 1 -2 1 -1 1 0 1 5 1 -2 1 2 1 0 1 -5 1 1 1 -2 1 2 1 2 1 -5 1 2 1 8 1 -10 1 5 1 -3 1 -7 1 2 1 6 1 -2 1 0 1 -1 1 2 1 -6 1 5 1 5 1 3 1 -10 1 3 1 3 1 -5 1 1 1 3 1 0 1 -13 1 14 1 -6 1 2 1 -1 1 -3 1 9 1 -8 1 6 1 2 1 0 1 2 1 -2 1 -1 1 -1 1 1 1 -2 1 1 1 -9 1 10 1 3 1 -8 1 5 1 1 1 -5 1 6 1 -4 1 -11 1 16 1 -10 1 3 1 2 1 2 1 2 1 -5 1 -7 1 9 1 -3 1 -11 1 13 1 -3 1 0 1 1 1 -1 1 -8 1 12 1 -14 1 14 1 -2 1 0 1 0 1 2 1 2 1 -6 1 1 1 3 1 3 1 -6 1 2 1 -12 1 7 1 6 1 -3 1 5 1 -6 1 0 1 5 1 -3 1 4 1 -2 1 -5 1 7 1 -7 1 6 1 0 1 0 1 3 1 -4 1 -1 1 -4 1 -1 1 10 1 -8 1 -2 1 5 1 0 1 -4 1 4 1 -1 1 0 1 -9 1 12 1 0 1 -6 1 4 1 -7 1 7 1 -1 1 5 1 -1 1 -13 1 12 1 -1 1 1 1 -6 1 2 1 8 1 -6 1 3 1 1 1 -3 1 -7 1 7 1 -1 1 -5 1 8 1 0 1 -1 1 -2 1 -5 1 -3 1 -3 1 8 1 -1 1 4 1 4 1 3 1 -5 1 -3 1 -2 1 1 1 -2 1 6 1 -1 1 0 1 -2 1 6 1 -4 1 -3 1 -4 1 -2 1 8 1 0 1 2 1 -5 1 4 1 -2 1 2 1 -2 1 6 1 -9 1 4 1 3 1 -3 1 3 1 0 1 -2 1 -3 1 5 1 -6 1 1 1 3 1 3 1 -6 1 -11 1 16 1 -11 1 8 1 -6 1 3 1 -1 1 10 1 0 1 -6 1 -13 1 11 1 0 1 0 1 3 1 1 1 3 1 -2 1 -5 1 -3 1 9 1 -8 1 8 1 -4 1 0 1 5 1 -11 1 -3 1 9 1 4 1 -6 1 -2 1 9 1 -2 1 -5 1 0 1 1 1 -4 1 8 1 -2 1 -5 1 5 1 -4 1 1 1 5 1 -7 1 -4 1 3 1 4 1 -3 1 -6 1 1 1 14 1 -2 1 0 1 -1 1 -1 1 -3 1 4 1 -6 1 2 1 -7 1 -4 1 16 1 -4 1 0 1 4 1 3 1 -8 1 -19 1 21 1 -2 1 3 1 0 1 -11 1 14 1 1 1 -6 1 0 1 -1 1 2 1 3 1 -2 1 1 1 -2 1 -4 1 -4 1 5 1 7 1 -5 1 -12 1 8 1 6 1 3 1 -6 1 -7 1 13 1 0 1 -5 1 1 1 -1 1 1 1 0 1 -1 1 -1 1 8 1 -9 1 9 1 -7 1 2 1 1 1 -4 1 6 1 -3 1 2 1 -8 1 6 1 -1 1 7 1 -8 1 4 1 -4 1 -3 1 9 1 -4 1 -1 1 -7 1 8 1 -20 1 19 1 3 1 -10 1 -4 1 0 1 11 1 2 1 -6 1 5 1 -5 1 4 1 3 1 -2 1 -10 1 12 1 -15 1 9 1 0 1 0 1 6 1 3 1 -1 1 -9 1 -6 1 8 1 3 1 -10 1 7 1 0 1 4 1 -3 1 4 1 -4 1 -8 1 10 1 -2 1 -1 1 -8 1 9 1 4 1 -5 1 3 1 3 1 -1 1 -8 1 0 1 8 1 -1 1 4 1 -6 1 -4 1 -3 1 9 1 -11 1 10 1 -2 1 3 1 -4 1 0 1 -1 1 5 1 -2 1 -1 1 4 1 1 1 -4 1 2 1 -3 1 -3 1 -1 1 11 1 -6 1 1 1 0 1 1 1 -5 1 1 1 1 1 -2 1 7 1 -2 1 0 1 -1 1 3 1 1 1 -8 1 -3 1 8 1 4 1 -4 1 -1 1 -5 1 3 1 1 1 3 1 -2 1 -13 1 18 1 -2 1 -4 1 -7 1 6 1 1 1 2 1 3 1 -1 1 -4 1 0 1 -3 1 2 1 -1 1 7 1 -10 1 6 1 -7 1 12 1 -3 1 -1 1 4 1 -1 1 -8 1 1 1 -4 1 -12 1 9 1 10 1 -4 1 5 1 -8 1 8 1 -4 1 0 1 0 1 -5 1 5 1 -5 1 5 1 2 1 -5 1 -3 1 11 1 -4 1 1 1 -2 1 4 1 2 1 -3 1 2 1 -4 1 2 1 -2 1 0 1 5 1 -4 1 -2 1 0 1 2 1 0 1 1 1 -5 1 2 1 5 1 -8 1 8 1 -3 1 1 1 1 1 -14 1 16 1 -8 1 5 1 -2 1 4 1 -10 1 6 1 -1 1 6 1 0 1 -4 1 -2 1 -9 1 13 1 2 1 -4 1 4 1 -4 1 -4 1 3 1 0 1 -3 1 1 1 5 1 -2 1 2 1 1 1 -2 1 -3 1 7 1 -3 1 -8 1 5 1 1 1 -3 1 10 1 -11 1 6 1 -1 1 -4 1 -1 1 2 1 1 1 6 1 -2 1 1 1 -3 1 -12 1 9 1 -3 1 -7 1 15 1 -7 1 7 1 -2 1 1 1 -8 1 11 1 -8 1 -1 1 5 1 -1 1 -2 1 -10 1 17 1 0 1 -6 1 1 1 1 1 -4 1 -2 1 9 1 -1 1 -1 1 -8 1 2 1 5 1 0 1 -4 1 6 1 -6 1 4 1 3 1 -1 1 -8 1 8 1 -2 1 3 1 -3 1 -6 1 6 1 -1 1 2 1 -2 1 4 1 -8 1 1 1 -3 1 3 1 -11 1 14 1 -3 1 -14 1 21 1 -10 1 5 1 3 1 0 1 -1 1 -5 1 8 1 -1 1 -6 1 1 1 -6 1 4 1 7 1 -3 1 -6 1 5 1 0 1 -1 1 -3 1 -6 1 2 1 12 1 4 1 -4 1 -1 1 -4 1 -11 1 12 1 4 1 -4 1 -1 1 -8 1 9 1 7 1 -5 1 1 1 -4 1 9 1 -8 1 0 1 -5 1 7 1 1 1 -3 1 7 1 -3 1 -18 1 5 1 13 1 -3 1 -2 1 4 1 -2 1 -8 1 10 1 2 1 0 1 -3 1 3 1 -20 1 21 1 -23 1 11 1 10 1 -2 1 -13 1 17 1 -2 1 -6 1 -6 1 5 1 8 1 -2 1 1 1 0 1 -16 1 14 1 0 1 1 1 -1 1 -5 1 5 1 -1 1 -7 1 11 1 -14 1 11 1 -5 1 6 1 -15 1 11 1 3 1 0 1 0 1 -1 1 -1 1 4 1 -3 1 4 1 -2 1 -9 1 9 1 -10 1 9 1 -8 1 9 1 -3 1 5 1 -8 1 7 1 -4 1 5 1 -1 1 -2 1 -1 1 -3 1 3 1 -1 1 0 1 0 1 5 1 -5 1 2 1 3 1 -4 1 -5 1 11 1 -20 1 12 1 -4 1 6 1 -3 1 4 1 -4 1 2 1 4 1 1 1 -9 1 10 1 -3 1 0 1 -6 1 0 1 -2 1 7 1 4 1 -6 1 3 1 2 1 -1 1 -18 1 14 1 -12 1 14 1 -2 1 5 1 -13 1 6 1 0 1 2 1 -10" stroke="#00bfbf" class="dn"/><path d="M106.6 452.1L106.6 447.2" stroke="#00bfbf" class="dsn"/>
<path transform="matrix(0.03891 0.01387 0 -0.153 56.84 448.86)" d="M0 20 l1 -2 1 0 1 -4 1 7 1 -5 1 -5 1 5 1 0 1 -2 1 3 1 1 1 3 1 -6 1 1 1 1 1 4 1 -6 1 3 1 3 1 -11 1 4 1 4 1 4 1 -9 1 4 1 -1 1 -3 1 -1 1 6 1 -2 1 2 1 -4 1 6 1 -1 1 3 1 -9 1 6 1 -8 1 11 1 -10 1 0 1 -2 1 10 1 -3 1 3 1 -8 1 0 1 5 1 0 1 0 1 2 1 -2 1 -1 1 -9 1 5 1 2 1 6 1 -6 1 -5 1 12 1 -9 1 7 1 2 1 1 1 -5 1 -1 1 -3 1 3 1 6 1 -6 1 -4 1 -2 1 10 1 -1 1 -4 1 7 1 -10 1 -5 1 2 1 3 1 6 1 1 1 0 1 -2 1 1 1 -4 1 1 1 7 1 -16 1 10 1 5 1 -6 1 2 1 -8 1 9 1 -14 1 17 1 -2 1 -5 1 0 1 6 1 -6 1 -3 1 3 1 5 1 -8 1 2 1 -3 1 13 1 -9 1 5 1 -7 1 5 1 1 1 -1 1 1 1 -2 1 0 1 1 1 -2 1 6 1 -3 1 -6 1 7 1 -7 1 5 1 -1 1 -3 1 -7 1 3 1 10 1 -9 1 1 1 -3 1 10 1 -5 1 -2 1 2 1 6 1 -1 1 -7 1 7 1 -1 1 -3 1 4 1 1 1 -11 1 14 1 -4 1 -3 1 -1 1 0 1 0 1 -3 1 1 1 -2 1 3 1 7 1 -8 1 -4 1 7 1 -5 1 2 1 2 1 7 1 -1 1 -3 1 -2 1 4 1 -12 1 3 1 5 1 3 1 4 1 -9 1 8 1 -9 1 4 1 -4 1 -7 1 8 1 2 1 0 1 3 1 0 1 -3 1 2 1 1 1 -2 1 2 1 -8 1 5 1 -8 1 8 1 -2 1 -1 1 4 1 2 1 -4 1 -2 1 5 1 -5 1 6 1 1 1 -3 1 1 1 -5 1 -2 1 -1 1 2 1 2 1 2 1 1 1 -1 1 -2 1 1 1 2 1 -2 1 -2 1 5 1 -4 1 -6 1 8 1 -3 1 0 1 2 1 -1 1 2 1 0 1 -1 1 5 1 -7 1 4 1 3 1 -5 1 5 1 -7 1 -2 1 10 1 -11 1 6 1 -1 1 0 1 -2 1 6 1 -8 1 -3 1 11 1 2 1 -1 1 -5 1 -5 1 5 1 -2 1 5 1 -2 1 -1 1 -10 1 4 1 7 1 2 1 -3 1 -4 1 5 1 -7 1 -2 1 1 1 8 1 1 1 -4 1 6 1 -12 1 8 1 -13 1 9 1 5 1 0 1 -11 1 3 1 6 1 1 1 4 1 -11 1 8 1 -1 1 5 1 -1 1 -3 1 -4 1 6 1 -4 1 2 1 -3 1 2 1 -1 1 0 1 -5 1 5 1 6 1 -6 1 -1 1 3 1 -1 1 2 1 -14 1 8 1 1 1 4 1 5 1 -6 1 -4 1 2 1 3 1 1 1 2 1 -8 1 5 1 4 1 -5 1 -4 1 5 1 1 1 5 1 -23 1 16 1 5 1 -5 1 -2 1 -3 1 11 1 -9 1 7 1 4 1 -9 1 -2 1 -3 1 5 1 0 1 5 1 -12 1 8 1 -7 1 11 1 0 1 -3 1 -6 1 1 1 7 1 -4 1 1 1 -1 1 -2 1 6 1 -5 1 4 1 -8 1 7 1 -2 1 -3 1 4 1 2 1 2 1 3 1 -9 1 6 1 -1 1 -5 1 -1 1 10 1 -8 1 4 1 1 1 -4 1 4 1 -4 1 -7 1 6 1 2 1 -6 1 -12 1 13 1 1 1 4 1 0 1 -6 1 -10 1 19 1 -4 1 1 1 5 1 -10 1 6 1 0 1 0 1 2 1 -7 1 -3 1 7 1 -4 1 -7 1 12 1 -4 1 0 1 3 1 1 1 -4 1 -1 1 -6 1 11 1 0 1 1 1 -7 1 5 1 -1 1 -1 1 1 1 3 1 -2 1 -4 1 6 1 -2 1 0 1 -1 1 2 1 1 1 -7 1 6 1 2 1 3 1 -12 1 -1 1 9 1 -10 1 6 1 3 1 -3 1 5 1 -4 1 -1 1 -2 1 5 1 -1 1 -1 1 0 1 -1 1 -7 1 6 1 4 1 3 1 -3 1 -11 1 10 1 5 1 -7 1 0 1 -19 1 14 1 9 1 1 1 -4 1 3 1 -3 1 1 1 5 1 -1 1 -2 1 -8 1 9 1 -8 1 7 1 -4 1 -3 1 8 1 -1 1 1 1 -4 1 4 1 2 1 1 1 -3 1 0 1 -4 1 4 1 -13 1 1 1 9 1 3 1 -4 1 0 1 -2 1 -2 1 7 1 -7 1 4 1 1 1 3 1 -6 1 -4 1 6 1 2 1 -1 1 2 1 -10 1 8 1 2 1 -10 1 10 1 -9 1 6 1 -7 1 4 1 0 1 4 1 -8 1 6 1 6 1 -7 1 2 1 4 1 -1 1 -6 1 7 1 0 1 -2 1 -10 1 5 1 -11 1 15 1 1 1 -4 1 4 1 -4 1 -2 1 6 1 -7 1 4 1 4 1 -21 1 19 1 0 1 -2 1 2 1 4 1 -2 1 -8 1 4 1 4 1 -1 1 1 1 -10 1 6 1 5 1 -7 1 -6 1 7 1 2 1 -4 1 7 1 -5 1 4 1 -1 1 -3 1 -2 1 4 1 -6 1 -2 1 2 1 10 1 -11 1 8 1 1 1 -1 1 5 1 -5 1 -4 1 -8 1 12 1 -12 1 9 1 -3 1 -1 1 4 1 6 1 -3 1 2 1 -1 1 -1 1 4 1 -1 1 -15 1 -1 1 12 1 0 1 5 1 -11 1 2 1 1 1 3 1 0 1 -8 1 10 1 -1 1 -3 1 -2 1 3 1 -2 1 -3 1 -6 1 18 1 -9 1 4 1 3 1 -5 1 3 1 -9 1 7 1 -1 1 3 1 1 1 -6 1 4 1 -2 1 2 1 2 1 -5 1 2 1 -5 1 8 1 3 1 -4 1 -9 1 9 1 1 1 -1 1 2 1 -8 1 6 1 -6 1 1 1 -8 1 17 1 -10 1 7 1 -1 1 -7 1 7 1 -2 1 3 1 -6 1 3 1 -4 1 3 1 -6 1 4 1 2 1 -3 1 1 1 8 1 -5 1 -5 1 2 1 -1 1 3 1 6 1 -8 1 -2 1 3 1 0 1 2 1 1 1 1 1 2 1 -7 1 6 1 2 1 -3 1 -3 1 7 1 -7 1 5 1 -3 1 3 1 -10 1 6 1 -3 1 5 1 -6 1 4 1 -2 1 5 1 2 1 -15 1 16 1 -3 1 -1 1 -4 1 4 1 -4 1 4 1 -5 1 4 1 -4 1 -1 1 5 1 3 1 -3 1 2 1 -6 1 5 1 -9 1 8 1 -1 1 -4 1 -1 1 9 1 -3 1 0 1 -17 1 18 1 1 1 -9 1 2 1 2 1 1 1 -2 1 -9 1 -3 1 14 1 -16 1 16 1 -2 1 3 1 -4 1 4 1 4 1 -1 1 -1 1 -3 1 0 1 -1 1 4 1 -5 1 1 1 -1 1 7 1 -9 1 10 1 -5 1 -1 1 0 1 -5 1 6 1 -5 1 5 1 -11 1 15 1 -1 1 -4 1 2 1 3 1 -4 1 -12 1 10 1 -1 1 -3 1 5 1 0 1 2 1 2 1 0 1 3 1 -8 1 4 1 -2 1 0 1 2 1 -11 1 8 1 2 1 -5 1 3 1 -3 1 2 1 1 1 -1 1 6 1 -13 1 9 1 -4 1 4 1 -2 1 8 1 -4 1 -13 1 7 1 2 1 3 1 -1 1 -3 1 1 1 7 1 -6 1 -5 1 7 1 -3 1 2 1 2 1 -9 1 10 1 -12 1 16 1 -18 1 8 1 2 1 7 1 -9 1 7 1 -2 1 -7 1 6 1 -12 1 10 1 -1 1 7 1 -3 1 2 1 -16 1 14 1 -7 1 3 1 -1 1 3 1 -5 1 6 1 -1 1 2 1 1 1 0 1 -4 1 -14 1 17 1 2 1 -4 1 -7 1 8 1 -1 1 0 1 -4 1 7 1 -6 1 6 1 -5 1 -4 1 7 1 2 1 -10 1 6 1 -1 1 1 1 -1 1 2 1 0 1 2 1 -6 1 6 1 -2 1 4 1 -10 1 4 1 5 1 -8 1 1 1 6 1 -13 1 12 1 0 1 -2 1 -8 1 8 1 1 1 -10 1 7 1 1 1 6 1 -7 1 2 1 -15 1 5 1 13 1 -8 1 9 1 -4 1 -8 1 11 1 -10 1 15 1 -12 1 1 1 11 1 -10 1 3 1 -11 1 7 1 5 1 1 1 1 1 1 1 -9 1 7 1 -1 1 -4 1 6 1 2 1 -2 1 -12 1 14 1 -6 1 -13 1 19 1 -4 1 -12 1 10 1 -2 1 -3 1 3 1 -2 1 3 1 -1 1 2 1 3 1 -2 1 -7 1 10 1 -4 1 3 1 1 1 -4 1 -1 1 6 1 -4 1 5 1 -9 1 6 1 -4 1 3 1 3 1 -1 1 -5 1 6 1 -5 1 4 1 -8 1 7 1 0 1 -4 1 4 1 0 1 -5 1 5 1 -5 1 -1 1 4 1 -20 1 26 1 -13 1 -4 1 14 1 2 1 -9 1 7 1 -2 1 -6 1 2 1 -3 1 12 1 -4 1 -5 1 9 1 -21 1 16 1 -11 1 2 1 9 1 -2 1 2 1 -6 1 -6 1 10 1 -5 1 6 1 -5 1 3 1 0 1 -3 1 2 1 8 1 -11 1 5 1 6 1 -19 1 13 1 -4 1 7 1 0 1 -1 1 -4 1 9 1 -3 1 -1 1 -4 1 1 1 -3 1 5 1 4 1 -6 1 4 1 -5 1 -3 1 -14 1 16 1 4 1 2 1 0 1 -10 1 8 1 -12 1 4 1 -1 1 6 1 -1 1 0 1 -3 1 8 1 -2 1 -19 1 21 1 2 1 -5 1 0 1 6 1 -7 1 3 1 0 1 2 1 -2 1 -7 1 6 1 -1 1 5 1 2 1 -8 1 -1 1 -7 1 11 1 -4 1 4 1 3 1 0 1 -5 1 0 1 -1 1 6 1 -6 1 1 1 -1 1 3 1 1 1 -2 1 -1 1 1 1 -4 1 9 1 -9 1 -20 1 26 1 -5 1 5 1 -4 1 1 1 3 1 3 1 -6 1 -4 1 11 1 -11 1 -2 1 11 1 0 1 -9 1 2 1 6 1 -2 1 2 1 -5 1 -7 1 9 1 1 1 -5 1 -2 1 9 1 -1 1 -10 1 12 1 -9 1 4 1 -4 1 0 1 6 1 4 1 -9 1 0 1 3 1 1 1 -1 1 -2 1 5 1 -3 1 -1 1 3 1 -1 1 -3 1 2 1 6 1 -6 1 2 1 -2 1 -2 1 2 1 -4 1 8 1 -1 1 0 1 -1 1 -1 1 -4 1 -2 1 -1 1 3 1 -8 1 14 1 -4 1 3 1 3 1 -2 1 -3 1 4 1 -14 1 17 1 -15 1 3 1 4 1 0 1 3 1 0 1 -3 1 5 1 2 1 -6 1 1 1 1 1 -5 1 -6 1 -3 1 3 1 7 1 -2 1 9 1 -11 1 1 1 6 1 0 1 4 1 -4 1 0 1 3 1 0 1 1 1 -4 1 2 1 -1 1 -3 1 5 1 -5 1 1 1 5 1 -12 1 5 1 -4 1 10 1 -10 1 4 1 6 1 2 1 -1 1 -2 1 4 1 -7 1 7 1 -3 1 -2 1 -3 1 -1 1 4 1 -3 1 -7 1 9 1 6 1 -10 1 -3 1 9 1 1 1 -4 1 2 1 -1 1 3 1 -5 1 0 1 2 1 -3 1 -2 1 3 1 0 1 0 1 7 1 -15 1 15 1 -10 1 5 1 -4 1 4 1 1 1 1 1 -2 1 -5 1 5 1 -4 1 -5 1 6 1 3 1 0 1 0 1 -4 1 5 1 0 1 -6 1 8 1 1 1 -5 1 -4 1 9 1 -4 1 3 1 2 1 -1 1 -3 1 -10 1 5 1 6 1 -5 1 -2 1 8 1 -8 1 3 1 -3 1 4 1 4 1 -6 1 8 1 -5 1 1 1 -5 1 2 1 0 1 2 1 -7 1 4 1 3 1 1 1 -2 1 -5 1 8 1 -1 1 -5 1 -1 1 11 1 -10 1 4 1 2 1 -3 1 -4 1 1 1 10 1 -2 1 -4 1 3 1 -1 1 1 1 -2 1 1 1 -4 1 -7 1 15 1 -2 1 -4 1 -2 1 -1 1 4 1 -3 1 2 1 -7 1 8 1 4 1 -6 1 4 1 1 1 -1 1 -11 1 3 1 -4 1 9 1 -5 1 6 1 7 1 -11 1 0 1 -2 1 1 1 -1 1 4 1 -1 1 -2 1 5 1 -18 1 20 1 -7 1 0 1 3 1 -4 1 11 1 -6 1 4 1 -2 1 0 1 -2 1 3 1 -3 1 1 1 -2 1 -2 1 3 1 0 1 2 1 -3 1 -5 1 4 1 6 1 -4 1 5 1 -13 1 10 1 -2 1 -4 1 9 1 -10 1 10 1 1 1 -7 1 2 1 1 1 -3 1 -2 1 6 1 -3 1 2 1 3 1 -3 1 1 1 -11 1 -1 1 8 1 5 1 0 1 -10 1 7 1 -7 1 9 1 1 1 -4 1 -4 1 0 1 4 1 0 1 0 1 4 1 -14 1 8 1 0 1 -3 1 3 1 9 1 -12 1 5 1 1 1 0 1 -5 1 1 1 9 1 -3 1 2 1 -3 1 -7 1 3 1 7 1 -12 1 12 1 -6 1 -1 1 6 1 -3 1 -1 1 2 1 -9 1 9 1 -9 1 14 1 -7 1 -5 1 6 1 2 1 0 1 -13 1 -9 1 19 1 -4 1 -1 1 3 1 -6 1 11 1 0 1 -4 1 -1 1 0 1 4 1 -4 1 -1 1 4 1 0 1 2 1 -2 1 -16 1 18 1 -1 1 -10 1 8 1 5 1 0 1 -21 1 17 1 0 1 3 1 -2 1 -1 1 -2 1 0 1 2 1 -7 1 9 1 -2 1 4 1 -1 1 -6 1 -7 1 7 1 -5 1 6 1 4 1 -4 1 5 1 -4 1 0 1 -10 1 8 1 -1 1 1 1 8 1 -8 1 -5 1 -1 1 7 1 -1 1 0 1 -3 1 7 1 -2 1 2 1 -7 1 0 1 4 1 -5 1 7 1 0 1 2 1 -8 1 5 1 0 1 -1 1 5 1 -3 1 -5 1 4 1 -6 1 -3 1 12 1 -5 1 -2 1 4 1 -3 1 2 1 7 1 -10 1 -1 1 7 1 -11 1 4 1 9 1 -14 1 13 1 -5 1 1 1 -8 1 2 1 -1 1 11 1 -13 1 5 1 4 1 -3 1 1 1 5 1 -7 1 6 1 -10 1 9 1 1 1 -11 1 11 1 -3 1 2 1 5 1 -3 1 -11 1 12 1 1 1 1 1 -6 1 5 1 -10 1 -9 1 15 1 -4 1 3 1 1 1 -7 1 6 1 -12 1 12 1 -1 1 6 1 -19 1 12 1 1 1 2 1 -3 1 2 1 0 1 -2 1 3 1 -4 1 7 1 -2 1 -1 1 -4 1 5 1 0 1 -6 1 1 1 8 1 -5 1 -4 1 10 1 -22 1 17 1 -2 1 -2 1 0 1 3 1 4 1 -7 1 5 1 -3 1 5 1 -5 1 -2 1 6 1 -5 1 4 1 1 1 -3 1 -9 1 4 1 7 1 1 1 -6 1 0 1 6 1 4 1 -1 1 0 1 -2 1 0 1 -7 1 -5 1 9 1 0 1 7 1 -11 1 2 1 -3 1 -5 1 9 1 -3 1 -15 1 10 1 12 1 -5 1 7 1 -3 1 -5 1 6 1 -3 1 -7 1 3 1 3 1 0 1 5 1 -1 1 -14 1 3 1 5 1 -3 1 4 1 2 1 -4 1 3 1 -1 1 3 1 1 1 -5 1 5 1 2 1 -2 1 -3 1 -3 1 3 1 8 1 -8 1 0 1 -11 1 12 1 -5 1 2 1 7 1 -8 1 5 1 -1 1 3 1 -3 1 1 1 -1 1 3 1 1 1 -1 1 0 1 -3 1 2 1 -5 1 -8 1 12 1 4 1 -2 1 -16 1 10 1 3 1 -3 1 2 1 -7 1 9 1 -4 1 -8 1 12 1 1 1 -4 1 1 1 -4 1 6 1 2 1 -9 1 6 1 3 1 0 1 2 1 -2 1 0 1 -7 1 -1 1 3 1 -5 1 3 1 4 1 2 1 -2 1 4 1 2 1 -4 1 -13 1 16 1 -9 1 -2 1 9 1 0 1 -4 1 1 1 -1 1 1 1 -2 1 5 1 -5 1 -6 1 6 1 5 1 0 1 -3 1 -3 1 2 1 -2 1 -1 1 8 1 -1 1 -5 1 -2 1 -2 1 9 1 -10 1 14 1 -8 1 -2 1 1 1 -2 1 10 1 -12 1 1 1 5 1 -9 1 9 1 -2 1 -3 1 9 1 -2 1 -2 1 -2 1 2 1 -4 1 3 1 2 1 1 1 2 1 -3 1 3 1 -6 1 2 1 5 1 -5 1 3 1 1 1 -21 1 14 1 4 1 -7 1 7 1 1 1 -18 1 15 1 -1 1 -5 1 11 1 0 1 -1 1 -7 1 11" stroke="#ff0000" class="dn"/><path d="M91.8 459.3L91.8 454.4" stroke="#ff0000" class="dsn"/>
<path transform="matrix(0.03891 0.01387 0 -0.153 42.12 456.13)" d="M0 17 l1 1 1 6 1 -4 1 -2 1 -3 1 2 1 0 1 -1 1 7 1 -15 1 14 1 -8 1 7 1 -3 1 0 1 -10 1 8 1 2 1 3 1 -1 1 -5 1 4 1 -7 1 6 1 -1 1 1 1 -3 1 3 1 2 1 -5 1 7 1 -9 1 4 1 6 1 -7 1 -10 1 13 1 2 1 -3 1 0 1 -4 1 -3 1 7 1 -4 1 -7 1 15 1 -3 1 -9 1 1 1 11 1 -4 1 -13 1 1 1 12 1 -5 1 6 1 0 1 -1 1 -8 1 8 1 -9 1 7 1 4 1 -8 1 5 1 3 1 -5 1 3 1 -1 1 -10 1 11 1 0 1 1 1 0 1 -1 1 -4 1 3 1 1 1 3 1 -1 1 -11 1 6 1 -11 1 16 1 -1 1 -4 1 -3 1 6 1 -4 1 3 1 2 1 1 1 -3 1 4 1 -8 1 1 1 -1 1 5 1 0 1 -1 1 -6 1 7 1 -3 1 2 1 3 1 -14 1 9 1 3 1 2 1 -4 1 2 1 -6 1 9 1 -3 1 0 1 -2 1 -2 1 1 1 0 1 -6 1 7 1 -6 1 4 1 0 1 0 1 2 1 -2 1 -9 1 12 1 -1 1 -6 1 -8 1 18 1 -3 1 1 1 1 1 -2 1 0 1 -5 1 1 1 5 1 0 1 2 1 -3 1 1 1 -2 1 -4 1 7 1 1 1 -3 1 -9 1 2 1 5 1 5 1 -2 1 -3 1 -2 1 1 1 -3 1 -6 1 3 1 8 1 -2 1 -5 1 4 1 -4 1 -9 1 13 1 6 1 -8 1 3 1 -4 1 7 1 -3 1 -10 1 13 1 -3 1 -1 1 2 1 2 1 0 1 2 1 -10 1 6 1 3 1 -10 1 4 1 4 1 -4 1 6 1 0 1 -9 1 6 1 6 1 -3 1 -2 1 -4 1 -3 1 6 1 1 1 -15 1 4 1 -1 1 12 1 4 1 -3 1 -1 1 -6 1 5 1 -10 1 3 1 -1 1 1 1 6 1 2 1 0 1 -3 1 3 1 -7 1 11 1 -16 1 8 1 6 1 -4 1 -3 1 5 1 -5 1 3 1 4 1 -7 1 2 1 -3 1 9 1 -2 1 -3 1 1 1 -1 1 0 1 4 1 -3 1 -2 1 -5 1 -1 1 8 1 -3 1 4 1 -1 1 0 1 0 1 3 1 -2 1 -1 1 -8 1 8 1 -2 1 -2 1 5 1 -2 1 4 1 -8 1 6 1 2 1 -4 1 -2 1 -5 1 7 1 3 1 1 1 -6 1 6 1 -2 1 -2 1 5 1 -15 1 11 1 1 1 0 1 2 1 -5 1 5 1 -5 1 5 1 -2 1 2 1 -6 1 2 1 4 1 -10 1 1 1 9 1 1 1 -7 1 4 1 -4 1 6 1 0 1 -13 1 12 1 -3 1 -3 1 2 1 3 1 -2 1 5 1 -14 1 8 1 -16 1 19 1 2 1 -5 1 0 1 -4 1 5 1 5 1 0 1 -9 1 2 1 5 1 -3 1 -2 1 -5 1 9 1 -2 1 1 1 -18 1 19 1 2 1 -1 1 -4 1 -3 1 1 1 2 1 6 1 -2 1 1 1 -6 1 7 1 -2 1 -14 1 4 1 7 1 3 1 -3 1 -6 1 3 1 -1 1 4 1 1 1 -12 1 12 1 -2 1 9 1 -9 1 4 1 0 1 -2 1 2 1 -12 1 5 1 5 1 -2 1 7 1 -3 1 -2 1 1 1 -15 1 1 1 7 1 5 1 -3 1 2 1 5 1 -6 1 1 1 2 1 -5 1 6 1 3 1 -5 1 -1 1 0 1 1 1 -4 1 1 1 3 1 -3 1 -2 1 5 1 2 1 2 1 1 1 -4 1 1 1 2 1 4 1 -3 1 -14 1 15 1 -3 1 2 1 -13 1 -6 1 8 1 12 1 0 1 -10 1 4 1 -6 1 9 1 -7 1 5 1 1 1 -4 1 4 1 -3 1 4 1 -1 1 -11 1 12 1 -3 1 1 1 -4 1 4 1 5 1 -2 1 0 1 -4 1 2 1 0 1 0 1 -2 1 -1 1 -1 1 1 1 1 1 -2 1 4 1 -3 1 -4 1 2 1 6 1 0 1 -1 1 -2 1 2 1 3 1 -10 1 7 1 1 1 -10 1 5 1 -4 1 -2 1 7 1 1 1 -2 1 -2 1 3 1 0 1 3 1 -2 1 -3 1 4 1 -2 1 -2 1 5 1 -5 1 -7 1 9 1 5 1 -6 1 -4 1 11 1 -6 1 -1 1 2 1 -3 1 5 1 -5 1 -1 1 0 1 5 1 -2 1 3 1 -3 1 3 1 -3 1 -7 1 13 1 -10 1 4 1 6 1 -13 1 10 1 -7 1 3 1 -2 1 3 1 -1 1 0 1 2 1 -6 1 7 1 -5 1 -2 1 10 1 -3 1 -3 1 4 1 1 1 -2 1 1 1 -2 1 1 1 -3 1 -3 1 4 1 -1 1 3 1 -1 1 -4 1 4 1 2 1 0 1 -9 1 9 1 -2 1 0 1 -3 1 5 1 -3 1 -1 1 5 1 -3 1 3 1 1 1 -9 1 -8 1 15 1 -5 1 5 1 0 1 -5 1 -3 1 11 1 -9 1 0 1 1 1 5 1 -6 1 7 1 -7 1 5 1 3 1 -3 1 -10 1 10 1 1 1 1 1 -1 1 3 1 -8 1 6 1 -11 1 4 1 8 1 0 1 -3 1 -1 1 -3 1 4 1 2 1 -2 1 3 1 -8 1 7 1 -2 1 3 1 -4 1 2 1 -3 1 -14 1 18 1 2 1 -5 1 -4 1 -1 1 7 1 -2 1 0 1 0 1 0 1 5 1 -4 1 -10 1 7 1 -1 1 8 1 -3 1 0 1 2 1 -3 1 -14 1 8 1 7 1 -3 1 2 1 1 1 -2 1 3 1 -2 1 2 1 -3 1 3 1 0 1 -2 1 -4 1 3 1 -3 1 -6 1 8 1 -1 1 3 1 -11 1 7 1 3 1 0 1 -2 1 2 1 0 1 1 1 2 1 2 1 -2 1 0 1 -9 1 6 1 1 1 1 1 -9 1 5 1 5 1 -3 1 0 1 2 1 -1 1 -4 1 2 1 3 1 0 1 -2 1 -2 1 2 1 0 1 -4 1 9 1 -4 1 1 1 -13 1 14 1 -3 1 -10 1 5 1 8 1 -14 1 9 1 2 1 4 1 -7 1 1 1 6 1 1 1 -5 1 2 1 -2 1 -5 1 1 1 8 1 -9 1 -2 1 1 1 6 1 -2 1 -3 1 -1 1 9 1 -4 1 4 1 2 1 -23 1 5 1 11 1 -1 1 0 1 -10 1 7 1 -4 1 9 1 -2 1 5 1 -8 1 5 1 2 1 -1 1 0 1 3 1 1 1 -8 1 8 1 -3 1 4 1 -1 1 -8 1 1 1 3 1 -1 1 7 1 -5 1 -4 1 -3 1 4 1 -2 1 -12 1 19 1 -4 1 -3 1 4 1 2 1 -6 1 -2 1 1 1 0 1 6 1 -6 1 6 1 -1 1 0 1 0 1 4 1 -5 1 1 1 -4 1 4 1 -8 1 4 1 8 1 -3 1 1 1 -9 1 3 1 5 1 -1 1 -2 1 -3 1 5 1 -5 1 6 1 -2 1 5 1 -1 1 0 1 -5 1 9 1 -9 1 -4 1 7 1 -2 1 4 1 -1 1 -6 1 7 1 -6 1 1 1 1 1 5 1 -2 1 -4 1 -2 1 7 1 -6 1 0 1 1 1 3 1 -6 1 2 1 3 1 -2 1 7 1 -5 1 -2 1 -4 1 -11 1 14 1 3 1 2 1 -4 1 -2 1 9 1 -2 1 -1 1 -3 1 5 1 -7 1 0 1 2 1 4 1 -16 1 3 1 5 1 1 1 7 1 -1 1 -4 1 6 1 -1 1 -4 1 2 1 -3 1 -1 1 -7 1 8 1 -2 1 -3 1 6 1 -1 1 4 1 3 1 -5 1 -12 1 10 1 8 1 -11 1 -9 1 18 1 -6 1 4 1 -3 1 -1 1 1 1 5 1 0 1 -14 1 10 1 0 1 -1 1 -28 1 31 1 -7 1 4 1 -3 1 0 1 -3 1 8 1 -2 1 -3 1 6 1 -9 1 5 1 1 1 5 1 -7 1 0 1 3 1 1 1 -2 1 0 1 0 1 -13 1 12 1 4 1 -4 1 -5 1 7 1 0 1 6 1 -4 1 -6 1 2 1 4 1 -1 1 1 1 -1 1 -18 1 18 1 4 1 -2 1 0 1 -4 1 -3 1 5 1 -2 1 -2 1 4 1 2 1 -10 1 3 1 2 1 7 1 -12 1 6 1 -13 1 12 1 -5 1 9 1 -2 1 -4 1 4 1 0 1 2 1 -15 1 2 1 13 1 -6 1 7 1 -6 1 -8 1 12 1 -1 1 2 1 -9 1 7 1 2 1 -5 1 3 1 1 1 -3 1 -7 1 13 1 -8 1 3 1 0 1 4 1 -2 1 1 1 -8 1 5 1 2 1 -7 1 9 1 -4 1 0 1 -4 1 6 1 -2 1 1 1 -7 1 8 1 1 1 -8 1 9 1 -5 1 2 1 5 1 -1 1 -6 1 0 1 5 1 -3 1 2 1 -13 1 7 1 -1 1 6 1 -8 1 12 1 -3 1 -10 1 2 1 1 1 5 1 4 1 -7 1 4 1 1 1 -5 1 4 1 -3 1 1 1 1 1 -10 1 11 1 -11 1 15 1 -3 1 3 1 -10 1 1 1 4 1 4 1 -7 1 6 1 3 1 -17 1 12 1 1 1 0 1 -12 1 11 1 -19 1 15 1 3 1 -3 1 0 1 4 1 -1 1 -2 1 2 1 -4 1 9 1 0 1 -24 1 23 1 -2 1 0 1 -2 1 -1 1 9 1 -3 1 -7 1 5 1 -3 1 1 1 0 1 -3 1 6 1 -6 1 2 1 3 1 1 1 -10 1 6 1 -1 1 4 1 -2 1 -5 1 -4 1 10 1 1 1 -2 1 -1 1 -2 1 4 1 0 1 -3 1 -2 1 3 1 4 1 -1 1 1 1 -8 1 2 1 1 1 7 1 -8 1 6 1 1 1 -9 1 1 1 2 1 0 1 2 1 0 1 -3 1 -7 1 9 1 1 1 -1 1 0 1 -5 1 5 1 -2 1 2 1 -4 1 7 1 -2 1 -2 1 -3 1 2 1 3 1 -4 1 -2 1 8 1 -5 1 -4 1 1 1 11 1 -7 1 -3 1 6 1 -7 1 6 1 -1 1 4 1 -3 1 1 1 -15 1 12 1 -3 1 9 1 -3 1 -2 1 2 1 1 1 -4 1 -1 1 4 1 0 1 -9 1 6 1 -5 1 6 1 1 1 1 1 3 1 -4 1 1 1 -2 1 4 1 -9 1 9 1 -1 1 -6 1 3 1 2 1 -9 1 2 1 4 1 0 1 4 1 -3 1 -2 1 1 1 -10 1 9 1 1 1 0 1 -2 1 -6 1 13 1 -12 1 7 1 5 1 -1 1 -11 1 7 1 1 1 -1 1 -3 1 0 1 8 1 -5 1 2 1 3 1 -1 1 -3 1 0 1 2 1 -6 1 5 1 0 1 1 1 -5 1 -1 1 5 1 1 1 -2 1 -4 1 1 1 2 1 5 1 -2 1 3 1 -1 1 -9 1 7 1 2 1 0 1 -3 1 4 1 1 1 -2 1 0 1 -4 1 -8 1 2 1 11 1 -20 1 19 1 -6 1 2 1 4 1 -6 1 -5 1 6 1 2 1 -3 1 9 1 -9 1 6 1 -16 1 12 1 1 1 -10 1 0 1 11 1 0 1 -15 1 9 1 4 1 -2 1 -1 1 5 1 -7 1 8 1 0 1 -10 1 3 1 9 1 -6 1 -7 1 8 1 1 1 2 1 -6 1 2 1 1 1 5 1 -2 1 -2 1 -1 1 1 1 2 1 0 1 -1 1 -1 1 -8 1 1 1 7 1 -2 1 -6 1 2 1 8 1 -3 1 -5 1 4 1 -8 1 15 1 -7 1 -3 1 9 1 -3 1 -8 1 2 1 3 1 -11 1 14 1 -2 1 -3 1 -5 1 10 1 -4 1 -4 1 5 1 2 1 4 1 -8 1 2 1 0 1 -2 1 2 1 1 1 0 1 -2 1 2 1 0 1 5 1 -5 1 4 1 -11 1 15 1 -7 1 -3 1 0 1 0 1 4 1 0 1 -2 1 -2 1 7 1 -3 1 -1 1 -3 1 7 1 -6 1 -7 1 7 1 0 1 1 1 -12 1 6 1 3 1 4 1 -6 1 3 1 0 1 3 1 -7 1 7 1 -3 1 0 1 -2 1 8 1 -7 1 4 1 0 1 -5 1 5 1 6 1 -5 1 -7 1 5 1 1 1 -8 1 8 1 0 1 -3 1 -1 1 7 1 -5 1 2 1 -1 1 -8 1 4 1 4 1 -2 1 3 1 -1 1 -8 1 6 1 4 1 -3 1 -15 1 18 1 -3 1 3 1 -1 1 -8 1 11 1 -4 1 2 1 2 1 1 1 -6 1 -1 1 1 1 2 1 2 1 -3 1 3 1 0 1 2 1 -2 1 0 1 2 1 -2 1 -9 1 5 1 2 1 2 1 0 1 -12 1 12 1 -2 1 0 1 -4 1 5 1 -9 1 3 1 5 1 5 1 -5 1 -14 1 11 1 2 1 2 1 -1 1 -5 1 5 1 2 1 -5 1 3 1 -1 1 -4 1 2 1 6 1 -7 1 1 1 5 1 -5 1 3 1 1 1 1 1 -2 1 -2 1 0 1 4 1 -1 1 -5 1 6 1 -3 1 2 1 -8 1 11 1 -1 1 -5 1 3 1 0 1 3 1 -6 1 0 1 2 1 -7 1 8 1 -5 1 -2 1 1 1 2 1 5 1 -15 1 8 1 -4 1 9 1 -12 1 7 1 7 1 -3 1 4 1 -1 1 2 1 0 1 -18 1 15 1 2 1 -5 1 -8 1 10 1 0 1 -4 1 7 1 -1 1 -4 1 5 1 -5 1 2 1 -1 1 -7 1 10 1 -5 1 7 1 -18 1 4 1 4 1 4 1 1 1 3 1 -3 1 1 1 -6 1 1 1 7 1 -4 1 3 1 3 1 -2 1 -1 1 -4 1 4 1 -7 1 4 1 -2 1 -1 1 -12 1 12 1 2 1 1 1 3 1 -3 1 4 1 -13 1 10 1 -5 1 7 1 -1 1 -2 1 2 1 -7 1 4 1 -4 1 6 1 1 1 1 1 3 1 -8 1 1 1 2 1 2 1 -10 1 10 1 -7 1 2 1 -6 1 3 1 5 1 1 1 -2 1 0 1 2 1 2 1 -9 1 10 1 -1 1 3 1 -7 1 1 1 5 1 0 1 -3 1 -1 1 0 1 0 1 -6 1 9 1 -6 1 3 1 3 1 -3 1 5 1 -6 1 4 1 -3 1 -2 1 -1 1 11 1 -5 1 1 1 -11 1 8 1 -7 1 -2 1 7 1 2 1 -2 1 0 1 3 1 -2 1 -12 1 12 1 5 1 -17 1 6 1 7 1 1 1 -5 1 4 1 -1 1 1 1 3 1 -4 1 2 1 -4 1 -10 1 10 1 -1 1 -2 1 -2 1 10 1 0 1 -4 1 4 1 -4 1 -4 1 11 1 -9 1 3 1 5 1 -6 1 -4 1 5 1 3 1 1 1 -1 1 -2 1 -5 1 9 1 -1 1 -15 1 8 1 0 1 -2 1 -8 1 18 1 -5 1 2 1 -1 1 4 1 -6 1 0 1 0 1 -2 1 1 1 9 1 -14 1 0 1 3 1 -3 1 10 1 2 1 -1 1 -10 1 10 1 -8 1 3 1 2 1 -3 1 7 1 -8 1 6 1 0 1 -8 1 10 1 -4 1 4 1 -17 1 6 1 7 1 -2 1 -2 1 8 1 -14 1 14 1 -12 1 4 1 5 1 -3 1 2 1 3 1 -7 1 5 1 -2 1 -6 1 7 1 -4 1 -1 1 1 1 7 1 -11 1 13 1 -4 1 -13 1 3 1 8 1 1 1 0 1 2 1 -4 1 -2 1 2 1 -16 1 16 1 1 1 -4 1 3 1 -2 1 3 1 -2 1 2 1 -4 1 5 1 3 1 -5 1 2 1 4 1 -3 1 -4 1 0 1 -4 1 5 1 1 1 1 1 -5 1 1 1 4 1 -4 1 6 1 -6 1 8 1 -6 1 7 1 -13 1 7 1 3 1 -6 1 8 1 1 1 -7 1 -7 1 6 1 1 1 5 1 -9 1 -5 1 7 1 6 1 0 1 -9 1 -22 1 29 1 -6 1 6 1 3 1 -3 1 -6 1 -2 1 4 1 6 1 0 1 -2 1 -3 1 -2 1 6 1 2 1 1 1 -2 1 0 1 -2 1 4 1 -6 1 3 1 -3 1 -2 1 6 1 -2 1 -6 1 8 1 0 1 -7 1 4 1 2 1 -7 1 11 1 -10 1 4 1 -8 1 6 1 0 1 2 1 -6 1 7 1 -1 1 -8 1 13 1 -6 1 0 1 -3 1 2 1 -2 1 0 1 8 1 -4 1 2 1 -16 1 17 1 -5 1 -2 1 3 1 -1 1 0 1 5 1 0 1 -3 1 0 1 -3 1 7 1 -13 1 7 1 -5 1 3 1 5 1 -5 1 3 1 2 1 0 1 -5 1 4 1 0 1 -2 1 -8 1 6 1 0" stroke="#008000" class="dn"/><path d="M77.1 466.6L77.1 461.7" stroke="#008000" class="dsn"/>
<path transform="matrix(0.03891 0.01387 0 -0.153 27.4 463.4)" d="M0 17 l1 -4 1 6 1 1 1 2 1 -7 1 -3 1 4 1 3 1 0 1 -5 1 5 1 0 1 6 1 -11 1 3 1 4 1 -1 1 4 1 -5 1 -6 1 7 1 0 1 -1 1 1 1 -4 1 -6 1 1 1 8 1 -1 1 -5 1 2 1 3 1 1 1 0 1 -3 1 4 1 -6 1 1 1 1 1 0 1 -3 1 2 1 1 1 -7 1 -11 1 18 1 -1 1 -2 1 6 1 -6 1 2 1 -3 1 8 1 -18 1 10 1 4 1 5 1 -4 1 -12 1 -8 1 17 1 0 1 -9 1 13 1 -2 1 0 1 0 1 6 1 -12 1 1 1 8 1 -4 1 -1 1 6 1 1 1 1 1 0 1 -3 1 -7 1 7 1 -3 1 7 1 -6 1 -2 1 0 1 -7 1 10 1 -5 1 1 1 -2 1 8 1 -8 1 4 1 1 1 -6 1 6 1 0 1 5 1 -8 1 2 1 4 1 -7 1 5 1 -6 1 7 1 -1 1 -17 1 14 1 4 1 -4 1 -1 1 0 1 -4 1 1 1 4 1 6 1 -1 1 -5 1 7 1 -4 1 -7 1 -1 1 8 1 -7 1 6 1 -6 1 6 1 2 1 -7 1 3 1 2 1 -5 1 10 1 -4 1 -9 1 5 1 4 1 -4 1 4 1 -2 1 -6 1 7 1 -2 1 1 1 -14 1 13 1 -5 1 10 1 -4 1 -4 1 2 1 5 1 -4 1 -1 1 1 1 -1 1 -1 1 5 1 -2 1 -2 1 3 1 -11 1 6 1 4 1 -4 1 4 1 -3 1 5 1 -6 1 6 1 0 1 -11 1 4 1 2 1 2 1 -4 1 6 1 0 1 -4 1 -1 1 -14 1 10 1 -8 1 14 1 2 1 3 1 3 1 -9 1 3 1 3 1 -5 1 -1 1 -2 1 3 1 -1 1 4 1 2 1 -3 1 -1 1 5 1 -4 1 5 1 -5 1 2 1 -7 1 9 1 -6 1 3 1 2 1 -13 1 8 1 -5 1 4 1 2 1 2 1 -15 1 13 1 -3 1 4 1 -1 1 1 1 -3 1 4 1 2 1 -8 1 7 1 -7 1 3 1 2 1 -1 1 0 1 1 1 -11 1 13 1 -9 1 6 1 2 1 -3 1 -3 1 0 1 5 1 -7 1 1 1 1 1 8 1 -5 1 3 1 3 1 -7 1 -6 1 12 1 -4 1 0 1 2 1 -8 1 3 1 2 1 -2 1 1 1 -7 1 13 1 -2 1 -2 1 -8 1 15 1 -13 1 7 1 -9 1 13 1 -1 1 -6 1 3 1 -4 1 6 1 -9 1 8 1 -2 1 -4 1 -1 1 0 1 -11 1 15 1 5 1 -3 1 0 1 -3 1 -1 1 -12 1 18 1 -1 1 -1 1 -2 1 -7 1 6 1 -4 1 -1 1 10 1 -2 1 -4 1 5 1 -9 1 12 1 2 1 -4 1 -4 1 6 1 -4 1 -9 1 11 1 -1 1 -2 1 0 1 3 1 -3 1 -13 1 13 1 -2 1 4 1 -3 1 -4 1 1 1 0 1 3 1 4 1 -12 1 1 1 0 1 11 1 2 1 -1 1 -10 1 4 1 5 1 -5 1 1 1 -3 1 -1 1 -2 1 1 1 4 1 3 1 -2 1 -4 1 3 1 4 1 -10 1 7 1 -5 1 0 1 0 1 9 1 -13 1 7 1 5 1 -4 1 1 1 2 1 2 1 -2 1 -8 1 5 1 7 1 -6 1 6 1 -6 1 -3 1 6 1 -6 1 3 1 -7 1 1 1 10 1 -8 1 1 1 6 1 -1 1 0 1 -7 1 7 1 6 1 -9 1 2 1 0 1 3 1 -3 1 2 1 -18 1 7 1 8 1 1 1 -2 1 -16 1 18 1 -7 1 5 1 -5 1 9 1 -1 1 0 1 -11 1 13 1 0 1 -2 1 1 1 0 1 -5 1 8 1 -8 1 2 1 -7 1 10 1 1 1 -4 1 -2 1 5 1 -1 1 -2 1 -2 1 3 1 0 1 -4 1 -8 1 2 1 10 1 -1 1 -1 1 -1 1 -7 1 14 1 1 1 -7 1 2 1 3 1 -1 1 -6 1 8 1 -11 1 4 1 3 1 -1 1 0 1 -14 1 18 1 -3 1 3 1 -5 1 3 1 -2 1 -2 1 7 1 -10 1 5 1 0 1 -1 1 -1 1 2 1 5 1 -3 1 -1 1 -2 1 1 1 0 1 -3 1 2 1 1 1 -1 1 1 1 -1 1 6 1 -2 1 -3 1 -14 1 6 1 3 1 5 1 0 1 1 1 -2 1 -5 1 4 1 -5 1 13 1 -14 1 6 1 3 1 -3 1 8 1 -7 1 -3 1 -3 1 12 1 -11 1 11 1 0 1 -15 1 9 1 1 1 -3 1 5 1 -5 1 7 1 -4 1 -2 1 -11 1 11 1 -1 1 6 1 -6 1 4 1 -12 1 11 1 -17 1 18 1 -6 1 9 1 -4 1 3 1 2 1 -7 1 4 1 2 1 -3 1 4 1 -11 1 -6 1 9 1 2 1 3 1 -8 1 6 1 4 1 -5 1 3 1 1 1 0 1 -3 1 -3 1 -5 1 5 1 2 1 2 1 -4 1 5 1 3 1 -4 1 3 1 1 1 -10 1 4 1 -9 1 10 1 4 1 -8 1 3 1 1 1 0 1 -1 1 2 1 -2 1 2 1 3 1 -4 1 -3 1 -7 1 6 1 6 1 -9 1 9 1 -9 1 11 1 -6 1 -5 1 1 1 9 1 2 1 -5 1 1 1 -9 1 6 1 5 1 -3 1 -4 1 7 1 -10 1 4 1 0 1 -5 1 7 1 3 1 1 1 -3 1 -1 1 -5 1 11 1 -15 1 9 1 -1 1 -4 1 1 1 1 1 4 1 5 1 -4 1 -3 1 6 1 -11 1 10 1 -7 1 -1 1 4 1 5 1 -6 1 -2 1 -2 1 7 1 -4 1 8 1 -6 1 -3 1 2 1 -4 1 -3 1 10 1 -3 1 4 1 -2 1 -3 1 0 1 4 1 3 1 -4 1 5 1 -12 1 -8 1 9 1 10 1 -2 1 -3 1 -1 1 -3 1 6 1 -1 1 3 1 -6 1 1 1 2 1 3 1 2 1 -6 1 -1 1 3 1 2 1 -12 1 10 1 5 1 -3 1 -2 1 -3 1 -2 1 5 1 4 1 -2 1 -6 1 2 1 -6 1 3 1 2 1 3 1 6 1 -8 1 2 1 0 1 -14 1 8 1 6 1 -11 1 12 1 0 1 -9 1 3 1 -2 1 3 1 2 1 -1 1 5 1 -5 1 5 1 -4 1 -10 1 4 1 12 1 -8 1 9 1 -5 1 -1 1 0 1 0 1 3 1 -6 1 5 1 -3 1 1 1 3 1 -10 1 9 1 -10 1 6 1 7 1 -12 1 6 1 -1 1 -1 1 3 1 0 1 5 1 -2 1 -2 1 -4 1 5 1 -2 1 -6 1 -2 1 1 1 1 1 6 1 -3 1 5 1 -24 1 20 1 1 1 2 1 6 1 -13 1 5 1 0 1 0 1 0 1 -1 1 5 1 -5 1 0 1 -8 1 7 1 4 1 3 1 -8 1 6 1 0 1 -2 1 3 1 -1 1 -3 1 -4 1 9 1 -7 1 5 1 -4 1 1 1 -2 1 -1 1 7 1 -6 1 5 1 -2 1 5 1 -1 1 -2 1 -5 1 2 1 -9 1 8 1 4 1 -2 1 -2 1 3 1 -7 1 7 1 -2 1 1 1 -4 1 1 1 -14 1 18 1 -1 1 5 1 -4 1 -1 1 6 1 -9 1 -1 1 2 1 -5 1 4 1 5 1 3 1 -6 1 -3 1 6 1 -1 1 1 1 -4 1 4 1 -9 1 4 1 6 1 -5 1 7 1 -2 1 -8 1 10 1 -8 1 4 1 1 1 -3 1 1 1 -14 1 14 1 3 1 -5 1 -3 1 6 1 -1 1 5 1 -5 1 -2 1 0 1 6 1 -2 1 -9 1 10 1 -10 1 9 1 4 1 -8 1 2 1 4 1 -10 1 2 1 8 1 -3 1 -4 1 0 1 4 1 -7 1 11 1 -3 1 -2 1 -4 1 -6 1 12 1 -1 1 -6 1 3 1 3 1 -4 1 7 1 -4 1 6 1 -3 1 0 1 -3 1 4 1 -1 1 -10 1 7 1 3 1 -8 1 3 1 2 1 -3 1 5 1 -11 1 10 1 2 1 -9 1 -4 1 10 1 5 1 -2 1 0 1 0 1 -9 1 5 1 -9 1 11 1 -2 1 5 1 -4 1 5 1 -2 1 -8 1 2 1 3 1 2 1 -2 1 -2 1 2 1 1 1 -5 1 3 1 1 1 -4 1 5 1 0 1 -5 1 7 1 -2 1 4 1 -8 1 1 1 4 1 5 1 1 1 -8 1 2 1 -4 1 3 1 2 1 -5 1 2 1 -5 1 10 1 -3 1 -3 1 4 1 -6 1 6 1 -2 1 -5 1 1 1 -21 1 27 1 -3 1 -20 1 25 1 -7 1 5 1 -1 1 -3 1 5 1 -9 1 5 1 0 1 -2 1 -2 1 7 1 -3 1 -7 1 7 1 5 1 -3 1 -7 1 3 1 4 1 -3 1 0 1 -2 1 5 1 -5 1 5 1 -1 1 -2 1 0 1 3 1 1 1 -3 1 2 1 -2 1 -4 1 8 1 -17 1 18 1 -3 1 -3 1 -2 1 2 1 -1 1 0 1 4 1 -1 1 2 1 -7 1 4 1 0 1 2 1 -3 1 -5 1 5 1 3 1 -7 1 2 1 -2 1 1 1 -4 1 8 1 3 1 0 1 -3 1 -1 1 -5 1 11 1 -12 1 8 1 0 1 -4 1 1 1 8 1 -18 1 4 1 3 1 6 1 2 1 -11 1 5 1 2 1 -2 1 3 1 -3 1 7 1 -3 1 -4 1 5 1 0 1 -4 1 3 1 -7 1 7 1 -9 1 6 1 -3 1 5 1 4 1 -6 1 -14 1 12 1 5 1 1 1 -2 1 4 1 -24 1 21 1 3 1 -1 1 3 1 -8 1 5 1 -1 1 2 1 -6 1 1 1 -18 1 20 1 1 1 -5 1 1 1 -3 1 8 1 -4 1 -3 1 -1 1 6 1 -3 1 6 1 -19 1 6 1 -5 1 17 1 2 1 -14 1 7 1 -1 1 7 1 -1 1 -7 1 3 1 -4 1 5 1 2 1 -2 1 -4 1 5 1 -1 1 -3 1 3 1 -2 1 5 1 -8 1 7 1 4 1 -8 1 -1 1 3 1 1 1 3 1 0 1 -6 1 -7 1 13 1 -2 1 -6 1 1 1 2 1 4 1 0 1 -4 1 4 1 -11 1 10 1 -2 1 0 1 4 1 -13 1 13 1 -3 1 0 1 0 1 -2 1 -6 1 10 1 -4 1 -4 1 9 1 -7 1 4 1 -8 1 8 1 -3 1 5 1 -7 1 3 1 3 1 2 1 -6 1 4 1 -2 1 -4 1 -1 1 7 1 -6 1 -1 1 5 1 -1 1 -4 1 10 1 -6 1 4 1 0 1 5 1 -13 1 8 1 -4 1 0 1 -9 1 12 1 -3 1 3 1 -5 1 2 1 4 1 -4 1 1 1 -1 1 3 1 -3 1 6 1 -2 1 -4 1 0 1 5 1 3 1 -5 1 0 1 -11 1 10 1 3 1 -11 1 10 1 -4 1 5 1 0 1 -7 1 0 1 -6 1 8 1 6 1 -16 1 11 1 0 1 2 1 -8 1 8 1 -2 1 -8 1 4 1 2 1 -2 1 1 1 6 1 3 1 -1 1 -17 1 15 1 -3 1 -2 1 5 1 -12 1 10 1 -4 1 3 1 5 1 -5 1 -13 1 15 1 -7 1 10 1 -2 1 -10 1 8 1 3 1 -11 1 1 1 12 1 -14 1 -10 1 18 1 -6 1 7 1 2 1 -3 1 -4 1 3 1 3 1 -5 1 1 1 -7 1 11 1 -4 1 9 1 -12 1 10 1 -3 1 -2 1 -5 1 2 1 4 1 3 1 -4 1 1 1 1 1 -3 1 -8 1 14 1 -4 1 -4 1 4 1 1 1 -5 1 2 1 1 1 0 1 -4 1 5 1 -6 1 5 1 -9 1 11 1 -7 1 9 1 -5 1 4 1 -9 1 9 1 3 1 -10 1 -12 1 17 1 3 1 -6 1 -3 1 2 1 8 1 -4 1 -9 1 6 1 -3 1 -3 1 9 1 -3 1 2 1 -7 1 6 1 3 1 -3 1 2 1 -3 1 1 1 -10 1 10 1 -4 1 9 1 -6 1 -10 1 5 1 10 1 1 1 -7 1 4 1 0 1 -1 1 2 1 -1 1 -6 1 10 1 -2 1 -7 1 -8 1 12 1 -4 1 0 1 9 1 -11 1 9 1 -7 1 3 1 3 1 -7 1 5 1 2 1 -3 1 -5 1 7 1 -17 1 17 1 3 1 -7 1 4 1 -10 1 1 1 7 1 5 1 3 1 -2 1 -6 1 2 1 0 1 1 1 0 1 2 1 1 1 -5 1 -1 1 2 1 1 1 2 1 -7 1 0 1 6 1 -5 1 5 1 -14 1 12 1 -7 1 8 1 0 1 -3 1 -1 1 -2 1 7 1 -14 1 13 1 4 1 -2 1 -8 1 3 1 2 1 0 1 -10 1 10 1 -7 1 2 1 -1 1 10 1 -16 1 10 1 4 1 -4 1 5 1 -17 1 17 1 -2 1 1 1 -6 1 2 1 0 1 2 1 -3 1 -3 1 5 1 5 1 -10 1 8 1 -1 1 1 1 -5 1 4 1 -4 1 5 1 2 1 -6 1 1 1 0 1 -3 1 -21 1 10 1 16 1 -2 1 -6 1 4 1 -1 1 4 1 1 1 -2 1 -16 1 14 1 3 1 4 1 -6 1 5 1 -14 1 16 1 -11 1 2 1 -2 1 4 1 -3 1 2 1 3 1 2 1 1 1 -6 1 5 1 0 1 -7 1 3 1 -7 1 9 1 -15 1 12 1 4 1 -9 1 6 1 6 1 -8 1 -4 1 4 1 6 1 -4 1 -5 1 12 1 -1 1 1 1 -11 1 5 1 0 1 2 1 -7 1 5 1 5 1 -5 1 -12 1 10 1 7 1 -4 1 2 1 -4 1 2 1 -7 1 4 1 -4 1 7 1 4 1 -5 1 0 1 2 1 -2 1 -1 1 2 1 6 1 -3 1 -10 1 6 1 -6 1 -1 1 3 1 0 1 -21 1 29 1 -2 1 3 1 -11 1 9 1 -2 1 -6 1 5 1 -3 1 8 1 -3 1 -3 1 -1 1 0 1 -8 1 12 1 1 1 -5 1 -1 1 9 1 -6 1 -1 1 1 1 -8 1 10 1 -12 1 6 1 10 1 -19 1 10 1 -6 1 7 1 4 1 -1 1 5 1 -2 1 -4 1 4 1 -7 1 3 1 1 1 -6 1 6 1 0 1 -3 1 7 1 -10 1 7 1 0 1 -12 1 11 1 -2 1 -1 1 5 1 -14 1 10 1 1 1 -2 1 1 1 -2 1 -4 1 -13 1 8 1 16 1 1 1 -4 1 -2 1 3 1 2 1 -6 1 -4 1 9 1 3 1 -12 1 8 1 -1 1 0 1 -3 1 5 1 -3 1 -7 1 5 1 6 1 -3 1 1 1 -4 1 1 1 0 1 -3 1 6 1 -7 1 5 1 -6 1 -7 1 6 1 9 1 0 1 2 1 1 1 -1 1 -4 1 -3 1 0 1 -2 1 8 1 -5 1 0 1 2 1 -3 1 1 1 2 1 2 1 -3 1 3 1 -3 1 5 1 -2 1 -2 1 -2 1 -5 1 7 1 4 1 -14 1 -2 1 15 1 0 1 -4 1 -1 1 0 1 5 1 -2 1 1 1 1 1 -2 1 -1 1 -7 1 9 1 -5 1 4 1 -4 1 4 1 -4 1 8 1 -3 1 0 1 -3 1 -3 1 3 1 1 1 1 1 -9 1 8 1 -6 1 -10 1 12 1 -1 1 7 1 1 1 -6 1 3 1 3 1 -5 1 6 1 -2 1 1 1 -7 1 4 1 -3 1 -7 1 14 1 -11 1 6 1 -2 1 4 1 -17 1 19 1 -2 1 6 1 -9 1 0 1 3 1 1 1 -1 1 -3 1 -1 1 6 1 -9 1 9 1 2 1 -3 1 0 1 -5 1 1 1 0 1 5 1 -3 1 -9 1 9 1 3 1 -4 1 6 1 -11 1 6 1 -3 1 3 1 1 1 -1 1 -2 1 3 1 -4 1 10 1 -4 1 1 1 -7 1 7 1 -10 1 -2 1 6 1 3 1 3 1 -4 1 -1 1 1 1 -6 1 6 1 2 1 -9 1 1 1 7 1 -6 1 -1 1 6 1 2 1 -6 1 6 1 -4 1 4 1 -12 1 4 1 6 1 -1 1 -1 1 3 1 0 1 1 1 -6 1 4 1 0 1 0 1 1 1 3 1 -6 1 -8 1 -3 1 10 1 3 1 -4 1 9 1 -8 1 5 1 1 1 -8 1 6 1 -3 1 -1 1 4 1 0 1 0 1 4 1 -13 1 5 1 7 1 -12 1 11 1 -13 1 14 1 -1 1 -7 1 6 1 1 1 -13 1 15 1 -6 1 0 1 -1 1 7 1 -1 1 0 1 -9 1 7 1 3 1 -7 1 -1 1 -3 1 6 1 -1 1 -2 1 -3 1 7 1 2 1 -1 1 -3 1 -5" stroke="#0000ff" class="dn"/><path d="M62.4 473.9L62.4 469" stroke="#0000ff" class="dsn"/>
<g class="tk"><text x="24.8" y="495.4" text-anchor="end">-200</text><text x="24.8" y="480.1" text-anchor="end">-100</text><text x="24.8" y="464.8" text-anchor="end">0</text><text x="24.8" y="449.5" text-anchor="end">100</text><text transform="translate(31.7 502.5) scale(0.8 1)" text-anchor="end">-0.4</text><text transform="translate(45.7 507.49) scale(0.8 1)" text-anchor="end">-0.2</text><text transform="translate(59.7 512.48) scale(0.8 1)" text-anchor="end">0</text><text transform="translate(73.7 517.46) scale(0.8 1)" text-anchor="end">0.2</text><text transform="translate(87.7 522.46) scale(0.8 1)" text-anchor="end">0.4</text><text class="sl" transform="translate(99.9 524.55) scale(0.78 1)">CML</text><text class="sl" transform="translate(114.62 517.28) scale(0.78 1)">MCML</text><text class="sl" transform="translate(129.34 510.01) scale(0.78 1)">DCML</text><text class="sl" transform="translate(144.06 502.74) scale(0.78 1)">MDCML</text><text class="sl" transform="translate(158.78 495.47) scale(0.78 1)">BCML</text></g>
<text class="al" transform="translate(14.8 471.1) rotate(-90)" text-anchor="middle">Power (dB)</text>
<text class="al" transform="translate(54 519.3) rotate(19.7)" text-anchor="middle">Frequency (Hz)</text>
<text class="cap" y="541.4"><tspan x="48.2" font-weight="bold" font-size="9.2">(j)</tspan><tspan x="62.4" font-style="italic">μ</tspan><tspan x="71.7" class="eq" textLength="6.1" lengthAdjust="spacingAndGlyphs">=</tspan><tspan x="81.7" textLength="18.4" lengthAdjust="spacingAndGlyphs">3.99,</tspan><tspan x="101.7" font-style="italic">e</tspan><tspan x="110" class="eq" textLength="6.4" lengthAdjust="spacingAndGlyphs">=</tspan><tspan x="118.6" textLength="11.6" lengthAdjust="spacingAndGlyphs">0.1</tspan></text>
<path class="gr" d="M202 496.5L260.8 467.4M216.1 501.5L274.5 472.3M230.2 506.6L288.2 477.2M244.2 511.6L302 482.1M258.3 516.6L315.7 487.1M209.7 486.7L279.6 511.7M224.4 479.5L293.9 504.3M239.2 472.2L308.3 496.9M253.9 464.9L322.6 489.5M209.7 486.7L209.7 440.8M224.4 479.5L224.4 433.6M239.2 472.2L239.2 426.3M253.9 464.9L253.9 419M195 494L253.9 464.9M195 478.7L253.9 449.6M195 463.4L253.9 434.3M195 448.1L253.9 419M260.8 467.4L260.8 421.5M274.5 472.3L274.5 426.4M288.2 477.2L288.2 431.3M302 482.1L302 436.2M315.7 487.1L315.7 441.2M253.9 464.9L322.6 489.5M253.9 449.6L322.6 474.2M253.9 434.3L322.6 458.9M253.9 419L322.6 443.6"/>
<path class="ax" d="M195 494L195 448.1M195 494L265.3 519.1M265.3 519.1L322.6 489.5M195 494L196.2 493.4M195 478.7L196.2 478.1M195 463.4L196.2 462.8M195 448.1L196.2 447.5M202 496.5L203.2 495.9M216.1 501.5L217.3 501M230.2 506.6L231.3 506M244.2 511.6L245.4 511M258.3 516.6L259.4 516M265.3 519.1L264.1 518.7M279.6 511.7L278.4 511.3M293.9 504.3L292.7 503.9M308.3 496.9L307 496.5M322.6 489.5L321.4 489.1"/>
<path transform="matrix(0.03819 0.01367 0 -0.153 253.88 434.32)" d="M0 13 l1 2 1 6 1 1 1 -15 1 1 1 12 1 -12 1 13 1 -3 1 1 1 -1 1 -5 1 0 1 5 1 3 1 -2 1 4 1 -8 1 6 1 -7 1 0 1 6 1 -9 1 0 1 9 1 3 1 -7 1 -4 1 7 1 2 1 0 1 -1 1 -3 1 -1 1 3 1 3 1 -11 1 9 1 -7 1 0 1 10 1 -13 1 -1 1 8 1 2 1 1 1 -9 1 12 1 -2 1 -15 1 12 1 -2 1 0 1 -2 1 2 1 -7 1 9 1 -12 1 8 1 -1 1 3 1 -5 1 -2 1 6 1 6 1 -2 1 0 1 -3 1 1 1 -2 1 4 1 -8 1 -5 1 9 1 -9 1 7 1 -3 1 9 1 -6 1 7 1 -8 1 5 1 1 1 -3 1 1 1 0 1 -4 1 3 1 0 1 1 1 -3 1 5 1 0 1 -7 1 8 1 -6 1 -7 1 7 1 -1 1 7 1 -12 1 14 1 -9 1 7 1 -1 1 -1 1 -2 1 -6 1 4 1 2 1 5 1 -16 1 14 1 -6 1 7 1 -5 1 3 1 -4 1 5 1 1 1 -3 1 0 1 1 1 -2 1 -2 1 4 1 0 1 -8 1 3 1 3 1 -3 1 1 1 -3 1 8 1 -8 1 6 1 -2 1 -4 1 -1 1 11 1 -18 1 16 1 0 1 0 1 0 1 -2 1 0 1 0 1 2 1 -12 1 0 1 12 1 -5 1 7 1 -1 1 -3 1 -2 1 4 1 -5 1 -3 1 -2 1 9 1 1 1 -14 1 9 1 -10 1 11 1 -5 1 -11 1 18 1 -6 1 9 1 -3 1 -3 1 2 1 -2 1 2 1 2 1 -5 1 -6 1 -4 1 9 1 -2 1 6 1 1 1 -2 1 -4 1 1 1 4 1 -2 1 4 1 -3 1 0 1 4 1 -3 1 1 1 -1 1 6 1 -5 1 3 1 -2 1 1 1 -6 1 0 1 2 1 5 1 0 1 -3 1 1 1 -11 1 6 1 3 1 1 1 -6 1 9 1 -11 1 10 1 0 1 -2 1 -3 1 7 1 -2 1 -1 1 -9 1 5 1 -2 1 2 1 -8 1 9 1 0 1 3 1 -3 1 2 1 2 1 -1 1 -1 1 -3 1 -3 1 8 1 -6 1 -5 1 9 1 0 1 -5 1 -3 1 4 1 -8 1 13 1 -5 1 -3 1 5 1 4 1 -2 1 4 1 -6 1 1 1 -1 1 -2 1 -1 1 -1 1 7 1 -3 1 1 1 -1 1 -3 1 10 1 -4 1 1 1 -5 1 2 1 1 1 0 1 -11 1 9 1 0 1 -4 1 7 1 1 1 -8 1 6 1 -3 1 4 1 -6 1 -1 1 4 1 0 1 -9 1 7 1 1 1 0 1 3 1 1 1 -1 1 4 1 -2 1 1 1 -10 1 7 1 -2 1 2 1 -2 1 1 1 -1 1 -5 1 -5 1 12 1 -4 1 -4 1 7 1 1 1 2 1 0 1 -4 1 6 1 -5 1 3 1 -5 1 6 1 -2 1 -8 1 7 1 -2 1 1 1 -2 1 -2 1 2 1 1 1 -5 1 7 1 1 1 -13 1 8 1 1 1 -6 1 9 1 -2 1 -10 1 7 1 -8 1 12 1 -2 1 0 1 -3 1 -9 1 10 1 5 1 0 1 2 1 -9 1 6 1 -1 1 -5 1 -1 1 1 1 7 1 -6 1 7 1 -1 1 4 1 -5 1 1 1 3 1 -4 1 -9 1 5 1 7 1 0 1 -3 1 -2 1 -4 1 5 1 2 1 0 1 -2 1 -10 1 10 1 -3 1 1 1 -6 1 11 1 -4 1 -1 1 2 1 4 1 -13 1 8 1 3 1 -3 1 -1 1 -1 1 5 1 -2 1 -3 1 5 1 -7 1 7 1 -6 1 2 1 9 1 -3 1 -9 1 10 1 -4 1 -4 1 6 1 0 1 0 1 -3 1 7 1 -11 1 5 1 -9 1 6 1 4 1 -5 1 -1 1 7 1 1 1 -6 1 1 1 2 1 -11 1 13 1 1 1 -6 1 2 1 0 1 -2 1 -2 1 9 1 -6 1 4 1 -11 1 3 1 5 1 3 1 1 1 2 1 -4 1 -2 1 -7 1 10 1 -3 1 -1 1 0 1 -2 1 4 1 -2 1 -2 1 2 1 -2 1 6 1 -12 1 9 1 -4 1 -1 1 9 1 -16 1 10 1 0 1 6 1 -4 1 -1 1 7 1 -16 1 7 1 6 1 -1 1 -1 1 -1 1 1 1 1 1 -6 1 9 1 -7 1 3 1 1 1 -1 1 -7 1 4 1 2 1 -3 1 -3 1 -9 1 23 1 -9 1 -3 1 -5 1 5 1 8 1 -1 1 -5 1 -5 1 7 1 1 1 -4 1 3 1 6 1 -3 1 -4 1 3 1 1 1 0 1 -2 1 -1 1 2 1 -9 1 4 1 4 1 4 1 0 1 -2 1 -1 1 -10 1 11 1 0 1 -2 1 -3 1 -15 1 18 1 1 1 2 1 -5 1 -3 1 5 1 3 1 -7 1 2 1 5 1 -2 1 -6 1 8 1 -1 1 -2 1 -1 1 -13 1 12 1 0 1 -1 1 -3 1 7 1 -1 1 -5 1 -14 1 16 1 6 1 -5 1 1 1 2 1 -2 1 0 1 -2 1 5 1 -3 1 1 1 -2 1 7 1 -4 1 -6 1 2 1 -1 1 0 1 3 1 2 1 0 1 -3 1 -3 1 3 1 2 1 0 1 1 1 2 1 -9 1 3 1 2 1 -4 1 5 1 0 1 2 1 1 1 -3 1 -5 1 6 1 4 1 -8 1 0 1 -1 1 -8 1 13 1 -1 1 -2 1 3 1 -1 1 0 1 1 1 -7 1 3 1 7 1 -3 1 -1 1 1 1 1 1 2 1 0 1 -3 1 -2 1 4 1 -6 1 6 1 -2 1 -2 1 0 1 -6 1 5 1 2 1 -5 1 9 1 -5 1 0 1 -1 1 2 1 -5 1 3 1 1 1 0 1 2 1 -1 1 -2 1 -2 1 5 1 -8 1 2 1 4 1 3 1 -6 1 -3 1 0 1 3 1 3 1 -3 1 -1 1 3 1 3 1 2 1 -13 1 13 1 0 1 -7 1 -1 1 8 1 -2 1 1 1 -9 1 6 1 2 1 -1 1 -4 1 0 1 6 1 -1 1 -2 1 -7 1 9 1 -4 1 -3 1 4 1 -1 1 6 1 -4 1 2 1 3 1 -2 1 -6 1 2 1 2 1 -5 1 0 1 3 1 -1 1 4 1 -13 1 9 1 -2 1 -3 1 5 1 4 1 -3 1 3 1 -5 1 -2 1 5 1 0 1 -4 1 -3 1 6 1 4 1 -14 1 15 1 -3 1 -1 1 -10 1 8 1 1 1 3 1 -1 1 1 1 -1 1 4 1 -3 1 -5 1 1 1 6 1 -4 1 -1 1 -1 1 -4 1 5 1 3 1 2 1 -9 1 6 1 -5 1 3 1 -3 1 7 1 0 1 -18 1 14 1 -1 1 3 1 1 1 0 1 1 1 -6 1 3 1 3 1 -7 1 9 1 -8 1 0 1 2 1 -1 1 1 1 0 1 -3 1 2 1 6 1 -2 1 -5 1 8 1 -9 1 8 1 -1 1 -8 1 2 1 9 1 -11 1 9 1 -7 1 7 1 -13 1 10 1 -1 1 0 1 -3 1 4 1 2 1 -1 1 -4 1 -12 1 15 1 -2 1 2 1 -5 1 -1 1 6 1 4 1 -5 1 5 1 -2 1 1 1 1 1 -3 1 2 1 -1 1 -2 1 -2 1 1 1 -1 1 1 1 1 1 -2 1 2 1 3 1 -8 1 -1 1 1 1 -2 1 2 1 -4 1 14 1 -8 1 3 1 -2 1 -2 1 3 1 0 1 4 1 -7 1 5 1 -6 1 5 1 0 1 -4 1 -2 1 9 1 -12 1 6 1 2 1 3 1 -10 1 3 1 5 1 -1 1 -2 1 -1 1 -2 1 2 1 2 1 1 1 -2 1 -1 1 5 1 -7 1 9 1 -2 1 -1 1 -6 1 7 1 -7 1 6 1 -6 1 7 1 -1 1 0 1 -2 1 1 1 2 1 -7 1 5 1 1 1 -6 1 6 1 -1 1 -18 1 18 1 -4 1 -9 1 10 1 0 1 1 1 1 1 5 1 -3 1 5 1 -2 1 -15 1 11 1 2 1 1 1 -6 1 5 1 1 1 0 1 3 1 -12 1 0 1 1 1 5 1 5 1 -6 1 -16 1 17 1 -6 1 3 1 3 1 -6 1 7 1 3 1 -5 1 -3 1 -3 1 10 1 2 1 -4 1 -9 1 -3 1 14 1 -3 1 3 1 -4 1 4 1 -2 1 -2 1 0 1 1 1 1 1 0 1 4 1 -6 1 1 1 -5 1 4 1 3 1 -3 1 0 1 -2 1 4 1 -2 1 -1 1 1 1 2 1 -1 1 -3 1 -8 1 11 1 3 1 1 1 -7 1 6 1 -8 1 1 1 -2 1 12 1 -5 1 -2 1 3 1 1 1 -12 1 10 1 2 1 -2 1 -5 1 -3 1 6 1 -2 1 -1 1 4 1 -2 1 4 1 -4 1 4 1 -3 1 -2 1 -6 1 11 1 -8 1 5 1 1 1 -6 1 4 1 9 1 -10 1 6 1 1 1 -1 1 -14 1 15 1 -6 1 7 1 -15 1 11 1 -10 1 10 1 3 1 -9 1 5 1 -2 1 5 1 -4 1 -5 1 7 1 -11 1 13 1 -1 1 -3 1 -1 1 -4 1 10 1 -1 1 -1 1 1 1 -4 1 4 1 -5 1 4 1 -6 1 5 1 1 1 1 1 3 1 -4 1 2 1 2 1 -9 1 3 1 3 1 -4 1 1 1 1 1 -6 1 6 1 -2 1 -3 1 7 1 -3 1 1 1 -8 1 7 1 2 1 -2 1 -3 1 6 1 -6 1 0 1 4 1 -1 1 3 1 -8 1 7 1 3 1 -19 1 16 1 1 1 -1 1 -7 1 7 1 -2 1 -7 1 7 1 -6 1 6 1 -2 1 2 1 -1 1 2 1 -4 1 4 1 -3 1 0 1 2 1 -1 1 0 1 -3 1 6 1 -11 1 -13 1 21 1 -4 1 9 1 -2 1 1 1 -12 1 10 1 -2 1 1 1 -4 1 5 1 -2 1 -7 1 14 1 -6 1 3 1 -5 1 1 1 0 1 0 1 -9 1 14 1 -10 1 2 1 2 1 2 1 -3 1 -1 1 7 1 -15 1 5 1 9 1 0 1 -1 1 -4 1 8 1 -4 1 -5 1 4 1 -10 1 8 1 -2 1 -4 1 11 1 -3 1 -1 1 -5 1 5 1 0 1 -12 1 15 1 1 1 -4 1 -3 1 5 1 1 1 1 1 -2 1 4 1 -4 1 2 1 -2 1 0 1 -1 1 0 1 2 1 -3 1 5 1 -6 1 1 1 0 1 3 1 0 1 0 1 -2 1 0 1 0 1 0 1 0 1 -3 1 4 1 -5 1 9 1 -7 1 6 1 -1 1 -13 1 13 1 -3 1 3 1 -4 1 4 1 -5 1 5 1 -3 1 -7 1 6 1 -1 1 5 1 1 1 -9 1 1 1 6 1 -1 1 -2 1 -7 1 12 1 -3 1 0 1 -3 1 4 1 -6 1 -2 1 11 1 -2 1 -1 1 -3 1 0 1 5 1 -4 1 1 1 2 1 0 1 3 1 -4 1 1 1 -1 1 -1 1 1 1 1 1 0 1 2 1 -2 1 -4 1 4 1 -4 1 0 1 2 1 4 1 -8 1 -15 1 3 1 16 1 -1 1 4 1 -3 1 1 1 -11 1 8 1 0 1 -4 1 2 1 0 1 3 1 0 1 4 1 -3 1 1 1 2 1 -10 1 5 1 1 1 0 1 -1 1 2 1 -1 1 -3 1 7 1 3 1 -3 1 -1 1 -11 1 7 1 1 1 -4 1 9 1 -5 1 2 1 -7 1 3 1 -2 1 6 1 -6 1 4 1 -5 1 2 1 7 1 -2 1 1 1 -6 1 -2 1 -2 1 -10 1 3 1 18 1 -8 1 4 1 -2 1 5 1 -21 1 14 1 5 1 -4 1 6 1 -4 1 2 1 4 1 0 1 -3 1 -6 1 3 1 0 1 -2 1 -8 1 2 1 12 1 -19 1 11 1 5 1 -9 1 9 1 -4 1 1 1 2 1 2 1 2 1 2 1 -1 1 -1 1 3 1 -8 1 1 1 -2 1 5 1 1 1 -3 1 -3 1 4 1 -19 1 19 1 0 1 -2 1 1 1 1 1 1 1 -6 1 3 1 2 1 -22 1 16 1 8 1 -10 1 7 1 -2 1 -1 1 4 1 1 1 -2 1 -2 1 3 1 -1 1 4 1 -5 1 1 1 4 1 -4 1 3 1 -10 1 9 1 -11 1 5 1 6 1 -4 1 -8 1 9 1 0 1 -2 1 1 1 -3 1 4 1 2 1 -5 1 7 1 -2 1 0 1 -4 1 -3 1 4 1 3 1 -4 1 5 1 -3 1 -6 1 6 1 5 1 -5 1 1 1 2 1 4 1 -14 1 15 1 -3 1 -3 1 -5 1 7 1 -7 1 3 1 1 1 -3 1 0 1 3 1 -12 1 13 1 5 1 -7 1 -5 1 7 1 -9 1 3 1 1 1 5 1 -3 1 4 1 -8 1 4 1 4 1 -11 1 14 1 -5 1 -5 1 6 1 -3 1 2 1 1 1 -1 1 4 1 -4 1 0 1 2 1 0 1 -4 1 1 1 1 1 -1 1 2 1 2 1 -1 1 -5 1 -7 1 13 1 2 1 -5 1 2 1 -2 1 0 1 -3 1 -2 1 4 1 5 1 -3 1 2 1 0 1 0 1 -10 1 5 1 0 1 1 1 3 1 1 1 -4 1 -5 1 7 1 -7 1 6 1 1 1 -10 1 11 1 -2 1 0 1 0 1 -5 1 5 1 3 1 -5 1 1 1 2 1 -9 1 10 1 1 1 -11 1 9 1 -2 1 1 1 4 1 1 1 -2 1 -3 1 0 1 -12 1 16 1 -7 1 3 1 -5 1 1 1 5 1 -5 1 0 1 5 1 3 1 -2 1 -5 1 4 1 2 1 0 1 2 1 -9 1 7 1 -3 1 -3 1 2 1 -2 1 2 1 -3 1 3 1 0 1 2 1 -7 1 2 1 4 1 1 1 -5 1 2 1 3 1 1 1 -1 1 -1 1 2 1 -1 1 0 1 -1 1 -5 1 2 1 3 1 1 1 0 1 -2 1 2 1 -3 1 -1 1 4 1 -1 1 2 1 -3 1 -1 1 -5 1 10 1 -1 1 -1 1 -3 1 4 1 0 1 2 1 -6 1 3 1 1 1 -9 1 5 1 2 1 3 1 1 1 -3 1 2 1 0 1 -7 1 0 1 4 1 -1 1 -6 1 7 1 -4 1 0 1 5 1 1 1 -4 1 -7 1 12 1 -2 1 -8 1 4 1 3 1 -5 1 10 1 -13 1 5 1 2 1 3 1 -7 1 7 1 -4 1 9 1 -5 1 -4 1 4 1 -3 1 0 1 4 1 -11 1 7 1 -11 1 6 1 -3 1 11 1 -13 1 6 1 -2 1 7 1 3 1 -9 1 8 1 -3 1 5 1 -5 1 -3 1 -10 1 14 1 -1 1 3 1 -5 1 0 1 5 1 3 1 -5 1 3 1 0 1 -9 1 4 1 -3 1 5 1 2 1 -6 1 0 1 9 1 -4 1 0 1 -3 1 -1 1 3 1 2 1 3 1 -2 1 -9 1 8 1 0 1 -5 1 4 1 -5 1 6 1 -3 1 -1 1 4 1 -2 1 4 1 -5 1 1 1 -6 1 2 1 9 1 -3 1 1 1 -4 1 3 1 -2 1 2 1 -7 1 4 1 -3 1 -3 1 8 1 -5 1 7 1 -4 1 1 1 -10 1 7 1 7 1 -5 1 1 1 -8 1 -2 1 6 1 5 1 -3 1 0 1 4 1 -3 1 -3 1 7 1 -3 1 3 1 0 1 0 1 -5 1 -1 1 6 1 -7 1 -2 1 0 1 8 1 -8 1 8 1 -5 1 0 1 3 1 0 1 -7 1 10 1 0 1 -5 1 6 1 -2 1 -1 1 -3 1 2 1 3 1 -7 1 9 1 -7 1 6 1 -4 1 -2 1 -14 1 15 1 4 1 -2 1 0 1 -5 1 8 1 -8 1 6 1 -4 1 4 1 -1 1 3 1 -3 1 -2 1 0 1 -1 1 6 1 -3 1 -8 1 -10 1 8 1 3 1 -3 1 -2 1 4 1 12 1 -4 1 0 1 -1 1 1 1 -1 1 -4 1 3 1 -5 1 -4 1 10 1 -1 1 0 1 2 1 5 1 -7 1 5 1 -6 1 5 1 -5 1 -5 1 -7 1 17 1 -4 1 1 1 -2 1 -4 1 5 1 -3 1 0 1 3 1 -3 1 0 1 1 1 -5 1 10 1 -2 1 -1 1 2 1 -2 1 -4 1 4 1 0 1 -3 1 8 1 -5 1 -6 1 8 1 0 1 1 1 -2 1 0 1 -2 1 0 1 3 1 1 1 -14 1 15 1 -3 1 -3 1 -3 1 7 1 -7 1 10 1 -12 1 6 1 8 1 -8 1 -3 1 4 1 -7 1 5 1 2 1 0 1 -1 1 8 1 -5 1 0 1 -10 1 11 1 -9 1 8 1 -8 1 10 1 -10 1 11" stroke="#bf00bf" class="dn"/><path d="M288.2 444.6L288.2 439.7" stroke="#bf00bf" class="dsn"/>
<path transform="matrix(0.03841 0.01374 0 -0.153 239.16 441.59)" d="M0 19 l1 -6 1 8 1 -4 1 2 1 1 1 2 1 0 1 -17 1 9 1 2 1 -3 1 1 1 3 1 -2 1 -5 1 2 1 -2 1 8 1 -3 1 3 1 -1 1 5 1 -4 1 -3 1 -13 1 10 1 7 1 -10 1 9 1 -4 1 2 1 -1 1 2 1 1 1 4 1 -5 1 3 1 -4 1 2 1 -1 1 0 1 -2 1 -1 1 5 1 -1 1 7 1 -5 1 -1 1 -4 1 -1 1 -1 1 3 1 -8 1 9 1 2 1 -2 1 0 1 -3 1 4 1 -3 1 -4 1 6 1 -2 1 6 1 -8 1 2 1 -1 1 -2 1 3 1 2 1 1 1 -6 1 1 1 4 1 3 1 -4 1 4 1 -2 1 0 1 -1 1 -6 1 8 1 -9 1 8 1 -4 1 3 1 -3 1 7 1 2 1 -9 1 1 1 -2 1 6 1 -1 1 -2 1 1 1 0 1 -1 1 1 1 1 1 -2 1 -4 1 7 1 0 1 -4 1 5 1 -5 1 4 1 -4 1 -13 1 12 1 0 1 0 1 -3 1 -5 1 15 1 -18 1 17 1 -2 1 6 1 -10 1 -2 1 1 1 5 1 -1 1 -8 1 -1 1 8 1 2 1 -1 1 -7 1 11 1 -2 1 -9 1 5 1 1 1 4 1 -1 1 -11 1 11 1 -3 1 0 1 4 1 -10 1 5 1 -3 1 0 1 5 1 -3 1 0 1 6 1 -1 1 -1 1 2 1 -6 1 -3 1 2 1 4 1 1 1 -3 1 -3 1 2 1 1 1 3 1 -6 1 2 1 -2 1 0 1 7 1 -4 1 1 1 4 1 -9 1 -1 1 7 1 1 1 -1 1 0 1 -1 1 -3 1 -2 1 4 1 7 1 -12 1 3 1 -20 1 18 1 -5 1 6 1 0 1 2 1 -1 1 4 1 -5 1 7 1 -7 1 5 1 -2 1 0 1 -8 1 14 1 -20 1 12 1 5 1 0 1 -6 1 3 1 2 1 -3 1 -2 1 2 1 1 1 2 1 -5 1 6 1 -2 1 0 1 -4 1 3 1 2 1 -1 1 0 1 -9 1 9 1 -4 1 6 1 0 1 -3 1 0 1 -3 1 1 1 -5 1 11 1 0 1 -4 1 -13 1 10 1 6 1 -14 1 6 1 6 1 1 1 1 1 0 1 3 1 -9 1 0 1 2 1 6 1 -9 1 2 1 1 1 3 1 0 1 -2 1 3 1 -2 1 -11 1 12 1 1 1 -3 1 -1 1 -2 1 3 1 -1 1 -5 1 -3 1 5 1 7 1 -1 1 -8 1 2 1 3 1 4 1 -11 1 7 1 -1 1 -7 1 9 1 -6 1 6 1 3 1 -2 1 3 1 -2 1 1 1 -1 1 0 1 -1 1 4 1 -7 1 1 1 -5 1 3 1 0 1 4 1 -1 1 2 1 -9 1 9 1 -3 1 -3 1 5 1 -2 1 1 1 2 1 -5 1 1 1 1 1 2 1 -5 1 6 1 -2 1 -2 1 4 1 -1 1 -1 1 2 1 -3 1 1 1 -6 1 -7 1 10 1 5 1 -1 1 0 1 -4 1 5 1 -2 1 -3 1 0 1 -1 1 3 1 0 1 -3 1 -2 1 9 1 -1 1 1 1 -5 1 2 1 -11 1 5 1 4 1 3 1 -4 1 3 1 1 1 -5 1 6 1 1 1 -8 1 6 1 -9 1 -1 1 7 1 6 1 -9 1 5 1 -10 1 11 1 -4 1 -2 1 3 1 3 1 -1 1 -19 1 18 1 0 1 -9 1 7 1 -2 1 3 1 5 1 -4 1 6 1 -12 1 7 1 1 1 -3 1 0 1 -2 1 7 1 -2 1 -4 1 0 1 2 1 5 1 -8 1 0 1 7 1 -1 1 -2 1 1 1 -6 1 5 1 2 1 -8 1 6 1 0 1 -1 1 0 1 0 1 3 1 -2 1 -1 1 4 1 -4 1 -4 1 3 1 1 1 1 1 2 1 -6 1 -1 1 3 1 5 1 -5 1 -10 1 13 1 -5 1 4 1 -7 1 7 1 -1 1 1 1 1 1 -6 1 -6 1 10 1 2 1 -3 1 4 1 -9 1 -1 1 9 1 0 1 -9 1 13 1 -6 1 1 1 -12 1 10 1 -1 1 5 1 -9 1 5 1 2 1 -2 1 7 1 -16 1 13 1 0 1 -3 1 -1 1 2 1 2 1 -4 1 0 1 5 1 0 1 -5 1 5 1 -3 1 5 1 -9 1 6 1 -3 1 5 1 -6 1 0 1 -2 1 3 1 0 1 1 1 1 1 1 1 -3 1 3 1 -1 1 -5 1 4 1 0 1 -1 1 1 1 0 1 -5 1 3 1 -4 1 5 1 3 1 -1 1 -2 1 2 1 0 1 -5 1 -2 1 -2 1 3 1 0 1 -24 1 21 1 4 1 10 1 -16 1 2 1 7 1 -2 1 -6 1 3 1 7 1 -4 1 -1 1 2 1 1 1 -3 1 8 1 -1 1 -14 1 12 1 -4 1 -10 1 -4 1 21 1 -5 1 -5 1 7 1 -5 1 3 1 -1 1 -2 1 2 1 1 1 3 1 -1 1 0 1 1 1 2 1 -8 1 0 1 -9 1 12 1 -8 1 13 1 1 1 -17 1 14 1 3 1 -4 1 -14 1 12 1 1 1 -2 1 5 1 -4 1 -1 1 -2 1 2 1 -1 1 6 1 -3 1 -1 1 1 1 -1 1 4 1 -1 1 2 1 -3 1 -5 1 7 1 -2 1 0 1 -5 1 2 1 7 1 -6 1 5 1 -9 1 -3 1 3 1 1 1 9 1 -11 1 6 1 1 1 -6 1 5 1 0 1 0 1 -1 1 -1 1 6 1 -5 1 -1 1 3 1 -5 1 5 1 -1 1 2 1 1 1 -3 1 -1 1 0 1 6 1 -5 1 -1 1 3 1 -4 1 8 1 -6 1 -2 1 -9 1 9 1 0 1 -6 1 6 1 -4 1 12 1 -17 1 8 1 -1 1 6 1 0 1 -1 1 -6 1 1 1 3 1 -12 1 15 1 -8 1 4 1 1 1 -2 1 -3 1 1 1 -7 1 16 1 -8 1 8 1 -1 1 -5 1 2 1 -5 1 7 1 -1 1 -11 1 0 1 9 1 2 1 1 1 -2 1 -2 1 2 1 -3 1 7 1 -9 1 3 1 -10 1 13 1 0 1 4 1 -1 1 -2 1 -8 1 5 1 -1 1 2 1 -1 1 -8 1 10 1 0 1 1 1 -11 1 14 1 -7 1 -7 1 12 1 -6 1 5 1 2 1 -8 1 -9 1 7 1 9 1 -6 1 1 1 -1 1 -5 1 13 1 -6 1 -11 1 3 1 4 1 5 1 -14 1 18 1 -4 1 -14 1 16 1 -3 1 -6 1 10 1 -3 1 -3 1 3 1 -5 1 -6 1 10 1 0 1 -1 1 1 1 -16 1 12 1 4 1 -4 1 5 1 -1 1 1 1 -1 1 -3 1 5 1 -1 1 -10 1 8 1 1 1 -3 1 5 1 2 1 -5 1 4 1 -3 1 -1 1 -5 1 8 1 -4 1 0 1 3 1 5 1 -4 1 -4 1 -3 1 -1 1 8 1 -2 1 -5 1 7 1 0 1 -4 1 -2 1 -2 1 7 1 -3 1 3 1 -2 1 1 1 -4 1 7 1 1 1 -7 1 1 1 2 1 -2 1 4 1 -4 1 2 1 -3 1 1 1 0 1 6 1 -14 1 9 1 -3 1 7 1 -4 1 4 1 -1 1 0 1 2 1 -1 1 -1 1 2 1 -5 1 -8 1 4 1 -5 1 11 1 -2 1 -1 1 -4 1 1 1 6 1 -4 1 3 1 0 1 3 1 1 1 -27 1 25 1 0 1 3 1 -6 1 -1 1 2 1 0 1 2 1 -2 1 1 1 -5 1 3 1 0 1 -1 1 2 1 -3 1 -4 1 7 1 -5 1 0 1 8 1 -13 1 5 1 2 1 6 1 -9 1 9 1 -3 1 3 1 -3 1 1 1 -4 1 -1 1 6 1 -3 1 -5 1 -1 1 7 1 -11 1 11 1 6 1 -16 1 9 1 -1 1 -1 1 8 1 -3 1 -15 1 7 1 -3 1 -9 1 21 1 -7 1 -3 1 8 1 -2 1 0 1 5 1 -4 1 1 1 3 1 -6 1 -2 1 7 1 -8 1 10 1 -15 1 2 1 4 1 7 1 -12 1 11 1 -2 1 -1 1 6 1 -7 1 -6 1 11 1 -11 1 8 1 -4 1 9 1 -6 1 4 1 -3 1 6 1 -5 1 -3 1 -5 1 6 1 1 1 -2 1 1 1 2 1 -11 1 10 1 3 1 -6 1 -1 1 6 1 -1 1 3 1 -3 1 -10 1 -1 1 11 1 -7 1 -1 1 -2 1 10 1 3 1 1 1 -14 1 11 1 -1 1 -3 1 -3 1 -3 1 5 1 2 1 1 1 2 1 0 1 -2 1 -6 1 9 1 -2 1 -5 1 4 1 4 1 -6 1 -1 1 3 1 2 1 -6 1 2 1 5 1 -6 1 8 1 -21 1 15 1 2 1 -1 1 -2 1 -5 1 -6 1 18 1 -14 1 11 1 -13 1 17 1 -13 1 0 1 9 1 -15 1 14 1 3 1 -8 1 6 1 -7 1 2 1 4 1 -7 1 2 1 -5 1 5 1 4 1 -3 1 7 1 -3 1 -2 1 3 1 -5 1 3 1 -5 1 2 1 -4 1 6 1 -2 1 7 1 -4 1 -1 1 5 1 -2 1 -6 1 6 1 -3 1 -9 1 13 1 -3 1 0 1 1 1 -7 1 3 1 7 1 -2 1 -4 1 -3 1 -11 1 19 1 0 1 -9 1 6 1 0 1 -3 1 -6 1 10 1 2 1 -5 1 -4 1 7 1 -7 1 -1 1 5 1 4 1 -9 1 1 1 11 1 -3 1 -4 1 6 1 -2 1 1 1 -2 1 -2 1 -2 1 3 1 2 1 -5 1 -3 1 5 1 5 1 -7 1 2 1 2 1 0 1 1 1 0 1 -4 1 4 1 0 1 -11 1 10 1 -3 1 2 1 3 1 -1 1 -2 1 -1 1 3 1 -3 1 0 1 3 1 -5 1 5 1 0 1 -3 1 0 1 -3 1 8 1 -3 1 -8 1 -13 1 22 1 -1 1 -5 1 4 1 -1 1 -2 1 3 1 5 1 -1 1 3 1 -3 1 -1 1 -4 1 2 1 -3 1 -1 1 5 1 -7 1 8 1 0 1 -4 1 0 1 3 1 -10 1 12 1 -13 1 9 1 -5 1 2 1 6 1 -2 1 1 1 0 1 -9 1 10 1 1 1 -6 1 4 1 -1 1 0 1 -2 1 -2 1 8 1 -4 1 -5 1 2 1 6 1 0 1 -6 1 7 1 -8 1 6 1 -2 1 1 1 -2 1 -1 1 0 1 6 1 -3 1 -2 1 -4 1 4 1 -3 1 5 1 -4 1 -1 1 -9 1 9 1 8 1 -5 1 1 1 -8 1 5 1 -15 1 14 1 2 1 6 1 -5 1 -2 1 0 1 1 1 -3 1 0 1 4 1 1 1 1 1 -6 1 1 1 2 1 1 1 0 1 1 1 -1 1 2 1 -11 1 10 1 -7 1 9 1 -7 1 7 1 -4 1 4 1 -7 1 1 1 5 1 -24 1 8 1 18 1 -3 1 -1 1 -2 1 1 1 -3 1 8 1 0 1 -6 1 4 1 1 1 1 1 -12 1 12 1 -8 1 -2 1 9 1 -4 1 1 1 4 1 -9 1 3 1 2 1 4 1 -6 1 -7 1 7 1 2 1 -2 1 3 1 -1 1 1 1 -4 1 2 1 1 1 -16 1 16 1 -2 1 0 1 5 1 2 1 -11 1 -5 1 15 1 -16 1 15 1 -9 1 6 1 -5 1 0 1 2 1 -2 1 3 1 3 1 -5 1 2 1 1 1 -7 1 9 1 -10 1 9 1 2 1 0 1 -1 1 -7 1 0 1 2 1 5 1 -4 1 1 1 1 1 4 1 -6 1 1 1 2 1 2 1 -2 1 -4 1 0 1 -1 1 6 1 -4 1 3 1 -1 1 3 1 -4 1 6 1 1 1 -4 1 1 1 -4 1 0 1 1 1 1 1 2 1 3 1 -1 1 -3 1 -3 1 5 1 -1 1 -1 1 -4 1 7 1 -3 1 -1 1 -6 1 7 1 1 1 -1 1 -4 1 -2 1 6 1 -4 1 6 1 -7 1 4 1 0 1 3 1 -2 1 -3 1 2 1 2 1 0 1 -12 1 6 1 8 1 -4 1 2 1 -14 1 12 1 0 1 1 1 -6 1 5 1 -3 1 6 1 -5 1 1 1 3 1 -8 1 4 1 5 1 -7 1 9 1 -4 1 1 1 0 1 -3 1 1 1 -6 1 7 1 1 1 -4 1 3 1 1 1 1 1 0 1 1 1 -2 1 -6 1 8 1 -1 1 0 1 -4 1 3 1 -10 1 11 1 -3 1 4 1 -4 1 5 1 -3 1 -4 1 -7 1 11 1 -2 1 -1 1 2 1 -1 1 2 1 -1 1 2 1 -1 1 -4 1 2 1 -2 1 1 1 -4 1 9 1 -17 1 15 1 -4 1 -4 1 8 1 -7 1 5 1 -1 1 2 1 0 1 -9 1 6 1 -3 1 5 1 1 1 1 1 0 1 -8 1 9 1 -7 1 5 1 -3 1 0 1 -4 1 10 1 -3 1 0 1 -4 1 4 1 -2 1 -4 1 1 1 6 1 -4 1 -1 1 4 1 3 1 -5 1 3 1 0 1 -5 1 -2 1 2 1 4 1 -5 1 7 1 -6 1 8 1 -13 1 9 1 1 1 -3 1 0 1 -5 1 6 1 -1 1 0 1 -3 1 1 1 -4 1 6 1 0 1 -1 1 4 1 -4 1 1 1 -1 1 -4 1 9 1 -1 1 -4 1 1 1 3 1 -21 1 22 1 -6 1 -9 1 13 1 1 1 -1 1 2 1 -4 1 2 1 0 1 1 1 -3 1 -14 1 8 1 10 1 0 1 -3 1 1 1 5 1 -12 1 8 1 -13 1 12 1 -8 1 14 1 -12 1 5 1 4 1 -12 1 6 1 -1 1 0 1 4 1 4 1 -8 1 5 1 1 1 -6 1 6 1 0 1 -7 1 -6 1 15 1 -7 1 2 1 -4 1 5 1 2 1 -3 1 -17 1 21 1 -1 1 -3 1 2 1 -3 1 -6 1 -1 1 0 1 8 1 -6 1 6 1 -2 1 0 1 3 1 -5 1 0 1 0 1 -11 1 10 1 3 1 -2 1 -2 1 4 1 -5 1 -2 1 7 1 0 1 0 1 -3 1 -2 1 10 1 -5 1 5 1 -3 1 2 1 -2 1 -4 1 4 1 -4 1 -1 1 5 1 2 1 -4 1 -4 1 1 1 -3 1 5 1 5 1 0 1 2 1 -7 1 10 1 -1 1 -4 1 -8 1 8 1 -8 1 10 1 -6 1 -8 1 4 1 1 1 8 1 -1 1 0 1 -3 1 3 1 -6 1 7 1 -7 1 -10 1 1 1 11 1 -3 1 7 1 0 1 0 1 2 1 -20 1 15 1 0 1 -2 1 2 1 -3 1 -7 1 12 1 -3 1 6 1 -3 1 -14 1 12 1 0 1 -6 1 9 1 -2 1 1 1 1 1 -1 1 2 1 -13 1 9 1 0 1 -2 1 5 1 -1 1 -6 1 -15 1 22 1 -5 1 2 1 -3 1 6 1 -6 1 3 1 1 1 -10 1 12 1 -4 1 -5 1 -2 1 13 1 0 1 -1 1 -6 1 4 1 4 1 -5 1 -4 1 4 1 3 1 -26 1 19 1 5 1 1 1 -4 1 -13 1 17 1 -9 1 0 1 1 1 6 1 -6 1 5 1 3 1 1 1 -5 1 2 1 -10 1 14 1 -7 1 3 1 -3 1 2 1 8 1 -9 1 2 1 -1 1 -2 1 -7 1 11 1 4 1 -8 1 6 1 -3 1 3 1 -7 1 4 1 6 1 -2 1 2 1 -3 1 -5 1 6 1 -4 1 -8 1 -2 1 5 1 1 1 -4 1 6 1 3 1 -3 1 -1 1 3 1 -2 1 1 1 5 1 -4 1 2 1 -1 1 -2 1 1 1 -5 1 9 1 -4 1 -3 1 -9 1 15 1 -2 1 3 1 0 1 -9 1 10 1 -11 1 5 1 -5 1 -15 1 15 1 4 1 1 1 2 1 0 1 4 1 -7 1 6 1 -6 1 0 1 -3 1 6 1 -5 1 6 1 3 1 -6 1 1 1 3 1 -9 1 9 1 -3 1 0 1 -6 1 7 1 3 1 1 1 -2 1 -4 1 2 1 1 1 -7 1 8 1 -1 1 4 1 -9 1 4 1 4 1 -5 1 -3 1 1 1 0 1 -4 1 6 1 -12 1 14 1 -7 1 8 1 -4 1 2 1 -3 1 3 1 -3 1 -1 1 2 1 2 1 1 1 0 1 -6 1 9 1 -6 1 6 1 -9 1 6 1 -2 1 -1 1 2 1 -7 1 2 1 6 1 -3 1 1 1 -15 1 16 1 1 1 1 1 -3 1 4 1 -3 1 -1 1 -1 1 2 1 2 1 -9 1 6 1 -6 1 5 1 -7 1 5 1 -4 1 10 1 -4 1 4 1 -1 1 -7 1 4 1 5 1 -5 1 -2 1 -3 1 -4 1 8 1 6 1 -5 1 4 1 -1 1 -3 1 6 1 -13 1 3 1 -5 1 5" stroke="#00bfbf" class="dn"/><path d="M273.7 452L273.7 447.1" stroke="#00bfbf" class="dsn"/>
<path transform="matrix(0.03863 0.01381 0 -0.153 224.44 448.86)" d="M0 18 l1 2 1 1 1 -9 1 2 1 8 1 -5 1 1 1 0 1 -7 1 5 1 3 1 -2 1 -9 1 2 1 11 1 -7 1 7 1 -4 1 -7 1 10 1 -4 1 -1 1 2 1 2 1 -10 1 7 1 1 1 -1 1 0 1 -3 1 4 1 -1 1 3 1 -1 1 3 1 -4 1 0 1 -2 1 4 1 -2 1 -4 1 0 1 -1 1 -3 1 11 1 -4 1 1 1 1 1 1 1 -2 1 2 1 -1 1 -11 1 11 1 1 1 -2 1 0 1 3 1 -7 1 4 1 1 1 4 1 -4 1 -8 1 -3 1 16 1 -7 1 0 1 0 1 1 1 2 1 -6 1 -1 1 8 1 -1 1 -4 1 -2 1 3 1 -1 1 2 1 3 1 -3 1 2 1 -6 1 5 1 -2 1 5 1 -6 1 -3 1 9 1 -5 1 -8 1 7 1 3 1 -6 1 0 1 6 1 -1 1 -3 1 6 1 -7 1 7 1 -3 1 0 1 -4 1 -1 1 8 1 -10 1 8 1 1 1 -1 1 -8 1 2 1 2 1 1 1 -5 1 10 1 -2 1 3 1 -6 1 -3 1 1 1 1 1 -1 1 4 1 -4 1 -3 1 10 1 -8 1 5 1 2 1 2 1 -8 1 -2 1 -4 1 9 1 -4 1 5 1 1 1 -11 1 13 1 1 1 -6 1 0 1 4 1 -7 1 8 1 -5 1 -21 1 20 1 2 1 -3 1 5 1 -3 1 0 1 4 1 -1 1 -3 1 3 1 -1 1 0 1 -3 1 -4 1 4 1 6 1 -3 1 -6 1 7 1 2 1 -3 1 1 1 -5 1 2 1 -1 1 -1 1 8 1 -10 1 11 1 -6 1 -3 1 5 1 -1 1 1 1 -4 1 6 1 -9 1 2 1 0 1 1 1 -1 1 -1 1 7 1 -5 1 1 1 4 1 -8 1 8 1 -14 1 7 1 6 1 -1 1 -18 1 14 1 5 1 -4 1 -1 1 1 1 4 1 -6 1 -11 1 17 1 -4 1 -1 1 -5 1 6 1 2 1 -4 1 7 1 -2 1 1 1 -2 1 1 1 -1 1 0 1 -5 1 0 1 6 1 -4 1 4 1 -3 1 3 1 -5 1 1 1 -2 1 5 1 0 1 1 1 0 1 -1 1 -2 1 -5 1 1 1 -1 1 -3 1 6 1 -1 1 2 1 5 1 -15 1 12 1 -15 1 18 1 -4 1 -1 1 1 1 -7 1 7 1 1 1 -8 1 9 1 1 1 -3 1 -3 1 7 1 -2 1 -4 1 6 1 -8 1 9 1 -8 1 2 1 -1 1 6 1 0 1 -4 1 -4 1 2 1 -3 1 3 1 5 1 -6 1 4 1 -3 1 -3 1 6 1 -4 1 4 1 1 1 -6 1 9 1 -1 1 -5 1 3 1 -7 1 3 1 1 1 0 1 -2 1 5 1 3 1 -11 1 -1 1 10 1 -2 1 -2 1 3 1 0 1 -2 1 2 1 -1 1 -2 1 -1 1 6 1 -6 1 4 1 0 1 -6 1 3 1 6 1 -3 1 3 1 -3 1 0 1 2 1 -3 1 -3 1 0 1 3 1 -9 1 10 1 -3 1 5 1 -3 1 -5 1 5 1 2 1 -7 1 -2 1 0 1 7 1 3 1 -6 1 7 1 -4 1 1 1 -4 1 7 1 -7 1 2 1 2 1 0 1 -4 1 -7 1 1 1 4 1 -1 1 -4 1 9 1 -2 1 1 1 -18 1 22 1 -7 1 7 1 -6 1 -1 1 7 1 -11 1 1 1 9 1 0 1 -12 1 1 1 -1 1 7 1 4 1 1 1 -2 1 -3 1 -8 1 16 1 -4 1 -12 1 16 1 -8 1 8 1 -5 1 4 1 -5 1 -1 1 2 1 -2 1 -1 1 5 1 -2 1 3 1 -1 1 -4 1 1 1 -1 1 5 1 2 1 -4 1 4 1 -8 1 -5 1 15 1 -5 1 2 1 -2 1 0 1 -5 1 3 1 4 1 -4 1 5 1 -9 1 -7 1 14 1 -4 1 -3 1 2 1 5 1 -4 1 0 1 0 1 -7 1 3 1 7 1 -13 1 11 1 -6 1 -11 1 9 1 4 1 6 1 -4 1 -6 1 5 1 5 1 -5 1 3 1 -1 1 5 1 -7 1 4 1 -6 1 6 1 -2 1 0 1 3 1 2 1 -8 1 6 1 -5 1 -1 1 5 1 -2 1 2 1 -4 1 -4 1 -2 1 11 1 0 1 -5 1 -2 1 5 1 7 1 -5 1 -2 1 -5 1 6 1 3 1 -9 1 5 1 6 1 -2 1 -6 1 1 1 -5 1 6 1 2 1 2 1 -4 1 3 1 2 1 -6 1 -7 1 8 1 -7 1 7 1 -3 1 5 1 0 1 3 1 -2 1 -6 1 6 1 -1 1 0 1 2 1 -5 1 -1 1 0 1 3 1 -7 1 9 1 -1 1 0 1 -6 1 8 1 -4 1 1 1 -4 1 5 1 2 1 -2 1 1 1 1 1 -2 1 -4 1 3 1 -1 1 -6 1 10 1 0 1 -3 1 -1 1 -1 1 -2 1 -11 1 17 1 -5 1 4 1 0 1 1 1 -2 1 -4 1 3 1 2 1 -9 1 11 1 -6 1 -2 1 2 1 -1 1 1 1 2 1 -1 1 1 1 0 1 -3 1 6 1 -3 1 -5 1 4 1 0 1 7 1 -7 1 -3 1 5 1 0 1 -1 1 1 1 -5 1 2 1 5 1 -8 1 -4 1 9 1 -3 1 3 1 -11 1 14 1 -14 1 11 1 -2 1 1 1 0 1 -7 1 0 1 10 1 1 1 -1 1 3 1 -1 1 -3 1 -1 1 -4 1 3 1 3 1 -5 1 2 1 3 1 0 1 0 1 -12 1 10 1 1 1 4 1 -4 1 -6 1 6 1 -5 1 7 1 -1 1 -1 1 -2 1 2 1 -6 1 5 1 -2 1 0 1 4 1 3 1 -19 1 14 1 -4 1 -2 1 6 1 -11 1 6 1 6 1 -1 1 7 1 -12 1 7 1 -7 1 -3 1 8 1 2 1 -4 1 3 1 1 1 -1 1 -4 1 5 1 0 1 -1 1 3 1 -4 1 2 1 -3 1 2 1 1 1 -5 1 0 1 5 1 -2 1 -4 1 8 1 -3 1 -2 1 -2 1 5 1 5 1 -8 1 2 1 -1 1 -6 1 11 1 -13 1 6 1 -6 1 11 1 -4 1 -1 1 6 1 -8 1 6 1 -8 1 8 1 -5 1 7 1 -2 1 -1 1 -1 1 5 1 -7 1 3 1 -12 1 14 1 -1 1 -3 1 1 1 2 1 -6 1 7 1 -1 1 1 1 0 1 0 1 -4 1 -8 1 12 1 4 1 -4 1 -9 1 9 1 -3 1 -5 1 -1 1 -2 1 4 1 5 1 1 1 -1 1 0 1 -1 1 5 1 -7 1 -2 1 5 1 -9 1 7 1 1 1 0 1 -1 1 -5 1 6 1 1 1 -6 1 7 1 -2 1 -6 1 4 1 -1 1 5 1 1 1 -5 1 1 1 3 1 -1 1 0 1 -4 1 0 1 7 1 -12 1 -6 1 19 1 0 1 -8 1 1 1 6 1 -2 1 -7 1 -5 1 11 1 1 1 -4 1 -1 1 6 1 -10 1 2 1 8 1 -4 1 6 1 -6 1 4 1 -10 1 3 1 7 1 -18 1 16 1 -11 1 6 1 5 1 1 1 -14 1 16 1 0 1 1 1 -1 1 -2 1 2 1 -5 1 3 1 -4 1 5 1 -2 1 2 1 -6 1 4 1 2 1 2 1 -6 1 1 1 -2 1 -2 1 4 1 5 1 -11 1 7 1 0 1 -10 1 10 1 2 1 -6 1 4 1 0 1 -3 1 3 1 -15 1 14 1 0 1 1 1 -14 1 11 1 -1 1 8 1 -8 1 5 1 2 1 -3 1 0 1 4 1 -3 1 -11 1 7 1 0 1 -2 1 11 1 -6 1 -3 1 3 1 -1 1 -10 1 13 1 2 1 -8 1 0 1 4 1 3 1 -4 1 2 1 -5 1 2 1 6 1 -8 1 7 1 -2 1 -1 1 3 1 -2 1 -1 1 -3 1 5 1 -11 1 6 1 1 1 0 1 2 1 3 1 -8 1 1 1 4 1 2 1 -1 1 1 1 -7 1 6 1 1 1 -5 1 -10 1 12 1 -1 1 4 1 -1 1 -6 1 5 1 1 1 -5 1 3 1 4 1 -3 1 -9 1 7 1 4 1 2 1 -7 1 6 1 1 1 -3 1 -2 1 2 1 2 1 -11 1 8 1 -6 1 -4 1 9 1 -2 1 -2 1 8 1 -9 1 0 1 8 1 -10 1 5 1 -3 1 10 1 -13 1 6 1 1 1 4 1 -2 1 -3 1 5 1 -6 1 1 1 5 1 -1 1 1 1 -3 1 -6 1 3 1 1 1 3 1 -3 1 1 1 -1 1 2 1 -4 1 9 1 -3 1 0 1 -2 1 -3 1 -1 1 4 1 -12 1 10 1 -2 1 4 1 -1 1 -1 1 1 1 -2 1 2 1 2 1 -7 1 7 1 -5 1 -1 1 -2 1 10 1 -1 1 0 1 -1 1 0 1 -1 1 -4 1 5 1 -8 1 5 1 2 1 5 1 -26 1 22 1 -5 1 7 1 -6 1 1 1 1 1 -5 1 6 1 -3 1 6 1 -3 1 1 1 3 1 -3 1 -6 1 9 1 -6 1 -2 1 5 1 2 1 -1 1 1 1 0 1 -4 1 0 1 -19 1 24 1 -7 1 4 1 -8 1 9 1 -3 1 -2 1 9 1 -2 1 -7 1 7 1 -6 1 -4 1 5 1 -1 1 1 1 6 1 -1 1 -10 1 11 1 -2 1 -2 1 6 1 -4 1 -2 1 -6 1 5 1 -1 1 3 1 0 1 -1 1 2 1 4 1 -7 1 0 1 -4 1 -2 1 6 1 -5 1 -1 1 7 1 -2 1 0 1 3 1 2 1 -2 1 -4 1 -8 1 6 1 4 1 -1 1 5 1 -1 1 2 1 -16 1 6 1 5 1 4 1 1 1 -1 1 -10 1 9 1 -11 1 2 1 1 1 7 1 -10 1 4 1 5 1 -2 1 1 1 4 1 -5 1 1 1 -8 1 -1 1 6 1 2 1 -1 1 0 1 2 1 -2 1 -1 1 4 1 -7 1 8 1 -6 1 -4 1 4 1 10 1 -6 1 4 1 1 1 -3 1 0 1 -5 1 1 1 5 1 -1 1 -19 1 21 1 -4 1 3 1 -2 1 -5 1 6 1 -11 1 -1 1 10 1 0 1 4 1 -13 1 12 1 1 1 -11 1 -4 1 10 1 2 1 0 1 1 1 -1 1 0 1 -8 1 8 1 5 1 -5 1 -6 1 7 1 0 1 -3 1 -3 1 5 1 -2 1 2 1 -9 1 7 1 -2 1 3 1 1 1 -7 1 0 1 0 1 8 1 -6 1 7 1 -2 1 3 1 -3 1 4 1 -6 1 3 1 -7 1 7 1 1 1 2 1 -9 1 7 1 -3 1 -12 1 12 1 1 1 2 1 -4 1 1 1 -6 1 4 1 1 1 6 1 -7 1 4 1 1 1 -4 1 -3 1 8 1 -4 1 5 1 -6 1 -1 1 -4 1 8 1 3 1 -5 1 3 1 -1 1 2 1 -12 1 9 1 -5 1 3 1 1 1 -2 1 -7 1 3 1 -2 1 1 1 7 1 3 1 -7 1 2 1 -4 1 6 1 4 1 -10 1 10 1 -3 1 -1 1 -2 1 0 1 1 1 -15 1 12 1 3 1 -4 1 -3 1 2 1 7 1 3 1 -5 1 4 1 -3 1 2 1 1 1 2 1 0 1 -11 1 9 1 -3 1 -6 1 4 1 -4 1 6 1 3 1 -3 1 3 1 -3 1 2 1 -3 1 -4 1 5 1 3 1 0 1 -2 1 3 1 -10 1 6 1 -8 1 9 1 1 1 -6 1 6 1 0 1 -1 1 -1 1 0 1 0 1 1 1 1 1 -1 1 -8 1 -1 1 9 1 1 1 -2 1 -9 1 10 1 -2 1 5 1 -12 1 7 1 1 1 6 1 -6 1 -1 1 4 1 -2 1 -3 1 -4 1 -2 1 7 1 4 1 -7 1 2 1 0 1 2 1 1 1 2 1 -5 1 4 1 0 1 -3 1 4 1 -10 1 8 1 2 1 -12 1 8 1 -2 1 0 1 6 1 -3 1 3 1 -1 1 1 1 -1 1 -5 1 -4 1 5 1 -9 1 13 1 -6 1 7 1 -13 1 10 1 1 1 1 1 -1 1 3 1 -5 1 1 1 -2 1 1 1 -7 1 -9 1 16 1 4 1 0 1 -1 1 -3 1 -1 1 7 1 -3 1 -8 1 -8 1 2 1 10 1 -3 1 4 1 1 1 -2 1 -3 1 5 1 -2 1 0 1 1 1 -3 1 2 1 -2 1 -1 1 7 1 -1 1 2 1 -5 1 5 1 -8 1 7 1 -8 1 3 1 4 1 0 1 2 1 -7 1 2 1 0 1 -1 1 6 1 -13 1 10 1 -2 1 -7 1 11 1 -4 1 1 1 -3 1 7 1 -7 1 5 1 -2 1 0 1 -2 1 -3 1 7 1 -9 1 5 1 4 1 3 1 -1 1 -6 1 2 1 -1 1 4 1 -7 1 -3 1 13 1 -5 1 -4 1 6 1 2 1 -6 1 -8 1 10 1 -3 1 -2 1 5 1 3 1 1 1 -3 1 1 1 -2 1 -1 1 2 1 1 1 3 1 -4 1 1 1 -2 1 0 1 -1 1 3 1 -2 1 5 1 -3 1 -1 1 3 1 1 1 -12 1 8 1 3 1 -1 1 -4 1 5 1 1 1 -2 1 -3 1 1 1 3 1 -5 1 -2 1 5 1 -2 1 5 1 -5 1 4 1 -11 1 -6 1 16 1 -2 1 -14 1 17 1 -4 1 -3 1 -8 1 12 1 2 1 3 1 0 1 -3 1 1 1 -10 1 9 1 -1 1 -3 1 2 1 0 1 1 1 4 1 -10 1 5 1 4 1 -9 1 4 1 -2 1 -4 1 5 1 -7 1 7 1 1 1 -2 1 1 1 0 1 4 1 -1 1 1 1 -8 1 6 1 -2 1 0 1 -6 1 6 1 1 1 -2 1 4 1 0 1 -7 1 8 1 -1 1 1 1 -3 1 -5 1 10 1 -4 1 -4 1 1 1 1 1 -1 1 3 1 -5 1 3 1 1 1 1 1 -7 1 -1 1 8 1 -4 1 6 1 -6 1 5 1 -3 1 -1 1 4 1 -10 1 0 1 9 1 -3 1 3 1 2 1 -2 1 -9 1 7 1 3 1 -1 1 -5 1 5 1 0 1 1 1 -6 1 5 1 3 1 -6 1 3 1 -4 1 -2 1 7 1 2 1 -5 1 -2 1 3 1 -8 1 8 1 2 1 -1 1 1 1 -1 1 3 1 -3 1 -2 1 3 1 -7 1 4 1 -4 1 7 1 -9 1 4 1 -1 1 0 1 7 1 -10 1 5 1 -3 1 0 1 9 1 -4 1 0 1 -3 1 2 1 -4 1 7 1 -6 1 5 1 1 1 0 1 -2 1 4 1 -4 1 6 1 -13 1 9 1 -2 1 1 1 1 1 -4 1 1 1 -2 1 5 1 -5 1 4 1 0 1 2 1 -4 1 3 1 -1 1 2 1 -1 1 -3 1 2 1 3 1 -6 1 2 1 0 1 1 1 -2 1 3 1 2 1 -2 1 -3 1 -2 1 1 1 2 1 2 1 -5 1 -2 1 3 1 5 1 -2 1 -7 1 10 1 -1 1 -2 1 1 1 -5 1 7 1 0 1 -2 1 1 1 1 1 -12 1 7 1 3 1 -1 1 2 1 -2 1 -24 1 23 1 -4 1 2 1 -1 1 -1 1 8 1 -5 1 3 1 -4 1 2 1 0 1 7 1 -10 1 4 1 -7 1 8 1 -4 1 5 1 -1 1 -3 1 1 1 0 1 0 1 2 1 2 1 -2 1 -21 1 16 1 4 1 -3 1 -2 1 4 1 4 1 -5 1 -6 1 6 1 2 1 -5 1 4 1 -7 1 11 1 -1 1 -4 1 -9 1 13 1 -3 1 -3 1 5 1 -11 1 7 1 -3 1 5 1 3 1 -2 1 -6 1 7 1 -4 1 2 1 -3 1 4 1 -11 1 5 1 5 1 -4 1 8 1 0 1 -2 1 -3 1 -6 1 0 1 -2 1 6 1 5 1 0 1 -1 1 -1 1 -2 1 -8 1 10 1 0 1 0 1 -1 1 -12 1 8 1 6 1 -12 1 13 1 -1 1 -8 1 8 1 1 1 -1 1 -1 1 -2 1 -2 1 3 1 4 1 -12 1 2 1 3 1 10 1 -3 1 -3 1 -10 1 14 1 0 1 -4 1 1 1 -1 1 -8 1 2 1 7 1 1 1 1 1 -3 1 -5 1 7 1 -4 1 5 1 0 1 -9 1 9 1 -8 1 4 1 -2 1 8 1 -6 1 -1 1 2 1 5 1 -10 1 -1 1 7 1 -6 1 8 1 -1 1 -7 1 2 1 4 1 -3 1 3 1 -2 1 4 1 -6 1 4 1 -1 1 3 1 1 1 -3 1 -4 1 7 1 -10 1 5 1 1 1 0 1 3 1 2 1 -10 1 3 1 -5 1 0 1 -2 1 10 1 2 1 -3 1 3 1 0 1 -7 1 9 1 -3 1 0 1 1 1 -17 1 18" stroke="#ff0000" class="dn"/><path d="M259.2 459.3L259.2 454.4" stroke="#ff0000" class="dsn"/>
<path transform="matrix(0.03885 0.01388 0 -0.153 209.72 456.13)" d="M0 16 l1 4 1 -6 1 4 1 -2 1 -8 1 13 1 0 1 -5 1 4 1 -3 1 3 1 -10 1 7 1 -1 1 -2 1 2 1 6 1 -5 1 0 1 4 1 -1 1 -10 1 0 1 0 1 0 1 -4 1 14 1 -15 1 9 1 -10 1 11 1 -4 1 9 1 -2 1 0 1 -6 1 6 1 0 1 -6 1 7 1 -3 1 -2 1 5 1 -3 1 1 1 -2 1 2 1 3 1 -9 1 7 1 5 1 -3 1 -7 1 8 1 -7 1 2 1 2 1 -6 1 0 1 -1 1 10 1 0 1 -3 1 0 1 -1 1 -1 1 -1 1 4 1 -13 1 8 1 -1 1 2 1 4 1 -2 1 1 1 -2 1 -4 1 -5 1 9 1 1 1 -7 1 8 1 -3 1 1 1 3 1 -1 1 3 1 -6 1 -9 1 15 1 -4 1 -1 1 3 1 -1 1 -3 1 -1 1 2 1 2 1 -8 1 -3 1 10 1 -2 1 7 1 -3 1 0 1 -9 1 7 1 -1 1 -3 1 8 1 -6 1 -5 1 12 1 -10 1 1 1 -1 1 6 1 -5 1 4 1 0 1 -4 1 0 1 5 1 2 1 0 1 -3 1 -3 1 -4 1 6 1 -1 1 -2 1 2 1 1 1 3 1 -2 1 0 1 -12 1 13 1 -2 1 5 1 -6 1 -10 1 6 1 2 1 -8 1 10 1 2 1 1 1 -7 1 8 1 -7 1 3 1 3 1 0 1 -9 1 0 1 7 1 -1 1 4 1 -11 1 8 1 -12 1 8 1 5 1 -2 1 -2 1 3 1 -2 1 4 1 2 1 -8 1 -4 1 12 1 -7 1 3 1 -1 1 4 1 -1 1 -9 1 12 1 -9 1 -8 1 10 1 1 1 -2 1 6 1 -3 1 4 1 -12 1 7 1 -3 1 3 1 -7 1 9 1 -5 1 -1 1 7 1 0 1 -7 1 2 1 -6 1 12 1 0 1 -6 1 4 1 -2 1 3 1 -11 1 2 1 8 1 1 1 -7 1 5 1 -8 1 5 1 4 1 -5 1 4 1 -6 1 6 1 0 1 -7 1 8 1 -1 1 -4 1 4 1 -5 1 -7 1 13 1 4 1 -4 1 0 1 0 1 -15 1 8 1 8 1 0 1 1 1 1 1 -4 1 -6 1 3 1 -3 1 10 1 -9 1 1 1 4 1 0 1 -6 1 5 1 -3 1 6 1 3 1 -8 1 1 1 -2 1 4 1 -1 1 -2 1 -8 1 15 1 -9 1 6 1 -7 1 7 1 3 1 -11 1 0 1 -4 1 16 1 -7 1 -4 1 4 1 -14 1 4 1 11 1 3 1 -8 1 6 1 -6 1 5 1 0 1 -2 1 -6 1 -2 1 8 1 1 1 0 1 -2 1 7 1 0 1 -2 1 -9 1 9 1 -2 1 -4 1 -3 1 8 1 3 1 -5 1 -7 1 8 1 -11 1 13 1 -1 1 1 1 -15 1 8 1 2 1 -1 1 -5 1 4 1 -9 1 14 1 4 1 -4 1 2 1 -17 1 9 1 6 1 -1 1 -1 1 2 1 -1 1 1 1 -3 1 4 1 -2 1 -3 1 3 1 -8 1 6 1 4 1 0 1 -3 1 -6 1 11 1 -7 1 -1 1 -7 1 14 1 1 1 -14 1 12 1 -17 1 10 1 5 1 2 1 -6 1 5 1 2 1 -3 1 -5 1 3 1 -2 1 6 1 -9 1 4 1 1 1 4 1 -8 1 6 1 3 1 -5 1 2 1 4 1 -3 1 -8 1 7 1 2 1 -5 1 5 1 -9 1 2 1 4 1 4 1 -3 1 -2 1 -17 1 18 1 2 1 5 1 -11 1 3 1 0 1 0 1 1 1 0 1 2 1 3 1 -5 1 3 1 1 1 -5 1 0 1 0 1 1 1 2 1 -3 1 7 1 -6 1 -5 1 4 1 7 1 -5 1 -5 1 7 1 0 1 0 1 -1 1 -3 1 2 1 2 1 -2 1 -3 1 0 1 4 1 -2 1 2 1 -3 1 5 1 2 1 -3 1 1 1 0 1 -4 1 -4 1 3 1 4 1 -1 1 2 1 -10 1 -7 1 15 1 0 1 -6 1 4 1 -1 1 0 1 5 1 1 1 -4 1 -20 1 20 1 -4 1 -1 1 -6 1 12 1 2 1 -5 1 1 1 5 1 -7 1 7 1 -6 1 1 1 2 1 -7 1 8 1 -10 1 5 1 6 1 -10 1 9 1 -3 1 3 1 -4 1 5 1 4 1 -3 1 -8 1 8 1 -2 1 1 1 -5 1 5 1 4 1 -9 1 5 1 0 1 0 1 -9 1 7 1 0 1 -6 1 4 1 4 1 1 1 -9 1 3 1 -1 1 -5 1 1 1 0 1 2 1 4 1 -4 1 0 1 10 1 -5 1 2 1 -4 1 -2 1 7 1 -5 1 3 1 2 1 1 1 0 1 -3 1 -10 1 9 1 -1 1 3 1 -2 1 0 1 3 1 -7 1 -3 1 9 1 -5 1 5 1 0 1 0 1 3 1 -5 1 1 1 -2 1 3 1 -4 1 0 1 -4 1 6 1 4 1 -1 1 -3 1 -7 1 2 1 1 1 1 1 5 1 -4 1 3 1 1 1 -2 1 4 1 -3 1 -3 1 3 1 1 1 -4 1 1 1 -11 1 8 1 6 1 5 1 -8 1 5 1 -2 1 -5 1 4 1 0 1 2 1 -9 1 10 1 -7 1 1 1 0 1 3 1 -4 1 7 1 -2 1 2 1 -2 1 -2 1 0 1 -3 1 -4 1 1 1 3 1 3 1 -15 1 13 1 3 1 -1 1 0 1 1 1 -5 1 5 1 -2 1 0 1 1 1 3 1 1 1 -4 1 3 1 -5 1 3 1 -2 1 -7 1 6 1 1 1 5 1 1 1 1 1 -12 1 6 1 3 1 -7 1 6 1 -3 1 1 1 -3 1 -4 1 2 1 5 1 3 1 0 1 0 1 -2 1 -4 1 -3 1 1 1 2 1 5 1 2 1 -1 1 -3 1 2 1 3 1 -9 1 -1 1 5 1 1 1 -3 1 2 1 4 1 -1 1 -8 1 3 1 5 1 -4 1 2 1 -4 1 3 1 1 1 -3 1 6 1 -1 1 2 1 -16 1 6 1 1 1 -3 1 6 1 6 1 -4 1 0 1 -4 1 2 1 -2 1 5 1 -3 1 -13 1 14 1 3 1 1 1 -9 1 0 1 2 1 4 1 -3 1 3 1 3 1 -4 1 -1 1 -6 1 9 1 -4 1 3 1 -11 1 5 1 6 1 1 1 -2 1 3 1 -1 1 1 1 -5 1 4 1 -5 1 -3 1 4 1 1 1 3 1 -11 1 10 1 -4 1 5 1 2 1 -7 1 -5 1 4 1 5 1 2 1 2 1 -7 1 -4 1 4 1 4 1 -7 1 5 1 -1 1 4 1 3 1 -5 1 -1 1 3 1 -7 1 1 1 0 1 4 1 2 1 -6 1 -11 1 8 1 6 1 -3 1 4 1 1 1 -16 1 11 1 8 1 -4 1 1 1 -1 1 -1 1 -1 1 3 1 -5 1 3 1 4 1 -4 1 -2 1 1 1 4 1 -3 1 -1 1 2 1 -15 1 17 1 -10 1 4 1 4 1 2 1 1 1 -6 1 -5 1 8 1 -1 1 0 1 2 1 0 1 0 1 -5 1 9 1 -2 1 -6 1 2 1 -5 1 -2 1 7 1 -2 1 5 1 4 1 -8 1 0 1 -1 1 0 1 -6 1 1 1 9 1 -7 1 9 1 -10 1 5 1 1 1 3 1 -4 1 -2 1 2 1 1 1 1 1 2 1 -1 1 -8 1 9 1 -3 1 0 1 -12 1 8 1 3 1 1 1 3 1 -15 1 10 1 6 1 -2 1 0 1 -1 1 1 1 3 1 -2 1 -4 1 -13 1 7 1 7 1 -5 1 8 1 -6 1 4 1 -4 1 2 1 3 1 -12 1 2 1 -2 1 11 1 1 1 -1 1 -2 1 1 1 3 1 -6 1 6 1 1 1 -2 1 -1 1 2 1 -3 1 -1 1 -6 1 3 1 0 1 -3 1 8 1 -1 1 1 1 4 1 -6 1 5 1 -3 1 -9 1 10 1 1 1 -9 1 8 1 -10 1 -2 1 9 1 1 1 0 1 1 1 -7 1 4 1 3 1 4 1 -10 1 3 1 -2 1 1 1 5 1 0 1 0 1 0 1 -3 1 -1 1 -6 1 11 1 -7 1 3 1 0 1 -2 1 2 1 -7 1 10 1 -5 1 -4 1 7 1 5 1 -4 1 -1 1 -3 1 3 1 1 1 -12 1 5 1 6 1 -7 1 12 1 -6 1 0 1 4 1 -3 1 2 1 -6 1 5 1 -5 1 3 1 2 1 -4 1 5 1 -5 1 -5 1 11 1 -5 1 2 1 1 1 -4 1 5 1 -3 1 4 1 -1 1 -7 1 10 1 -1 1 -16 1 15 1 -6 1 7 1 -2 1 -1 1 -13 1 12 1 -2 1 6 1 -6 1 0 1 -2 1 4 1 2 1 -3 1 4 1 -9 1 9 1 0 1 0 1 -6 1 6 1 -11 1 11 1 -7 1 7 1 -3 1 -9 1 12 1 0 1 -2 1 -11 1 3 1 9 1 -6 1 10 1 -5 1 3 1 -7 1 5 1 1 1 -6 1 -2 1 9 1 -8 1 5 1 -1 1 -2 1 2 1 -3 1 -1 1 6 1 -3 1 7 1 -2 1 -6 1 1 1 5 1 -5 1 -1 1 -1 1 -2 1 5 1 0 1 2 1 -1 1 0 1 -1 1 4 1 -6 1 -1 1 -2 1 7 1 0 1 -12 1 13 1 -8 1 1 1 2 1 -1 1 1 1 3 1 -4 1 6 1 -1 1 -2 1 -4 1 -4 1 9 1 -1 1 3 1 -4 1 -3 1 2 1 3 1 -4 1 -4 1 8 1 -2 1 -3 1 6 1 1 1 -2 1 -7 1 3 1 2 1 1 1 2 1 -2 1 0 1 2 1 -3 1 6 1 -7 1 3 1 -1 1 4 1 -5 1 -3 1 -2 1 8 1 -2 1 4 1 -10 1 2 1 -13 1 11 1 7 1 4 1 -2 1 -2 1 3 1 -4 1 1 1 -1 1 -5 1 6 1 -9 1 3 1 2 1 3 1 1 1 4 1 -6 1 4 1 -5 1 1 1 4 1 1 1 -2 1 -9 1 11 1 -5 1 1 1 1 1 4 1 -4 1 -9 1 13 1 -1 1 -8 1 -5 1 6 1 1 1 4 1 -2 1 0 1 -1 1 1 1 -3 1 3 1 -6 1 0 1 4 1 -1 1 5 1 -1 1 1 1 -3 1 -10 1 4 1 8 1 -12 1 8 1 0 1 1 1 5 1 -5 1 0 1 -1 1 -1 1 10 1 -7 1 -2 1 3 1 -6 1 6 1 -2 1 6 1 -3 1 2 1 -15 1 9 1 2 1 4 1 -2 1 1 1 -4 1 -2 1 8 1 -3 1 -4 1 5 1 -3 1 3 1 0 1 3 1 -5 1 -3 1 4 1 -3 1 -5 1 10 1 -1 1 0 1 -1 1 0 1 -7 1 5 1 6 1 -3 1 -3 1 2 1 1 1 -5 1 7 1 -7 1 6 1 -24 1 25 1 -2 1 -2 1 2 1 -6 1 1 1 4 1 -1 1 -12 1 12 1 0 1 -2 1 3 1 -4 1 5 1 -2 1 -4 1 1 1 -2 1 1 1 2 1 -5 1 6 1 6 1 -6 1 -3 1 7 1 -7 1 8 1 -2 1 -3 1 2 1 -1 1 -4 1 4 1 -5 1 1 1 -1 1 0 1 2 1 4 1 0 1 -2 1 0 1 7 1 -2 1 0 1 0 1 -6 1 3 1 3 1 -13 1 -2 1 10 1 -2 1 5 1 -7 1 2 1 2 1 -3 1 5 1 -3 1 -3 1 5 1 4 1 -2 1 0 1 -8 1 6 1 3 1 -4 1 3 1 -2 1 0 1 0 1 -3 1 -4 1 9 1 -3 1 -19 1 24 1 -1 1 -11 1 1 1 12 1 -8 1 -10 1 17 1 -6 1 3 1 0 1 -4 1 7 1 -6 1 -4 1 6 1 0 1 -3 1 4 1 -3 1 4 1 -5 1 5 1 -4 1 -4 1 10 1 -10 1 8 1 -7 1 0 1 3 1 -10 1 14 1 2 1 -5 1 1 1 -6 1 8 1 -6 1 3 1 3 1 -4 1 5 1 -6 1 2 1 -2 1 -6 1 4 1 9 1 -4 1 1 1 2 1 0 1 -7 1 1 1 4 1 0 1 2 1 -10 1 4 1 6 1 -14 1 14 1 -3 1 3 1 -5 1 0 1 -14 1 18 1 0 1 0 1 -5 1 5 1 0 1 -4 1 -8 1 2 1 9 1 -4 1 3 1 -3 1 6 1 -7 1 4 1 -3 1 1 1 3 1 1 1 3 1 -13 1 11 1 2 1 -5 1 3 1 0 1 -8 1 3 1 1 1 2 1 -3 1 2 1 3 1 -1 1 -1 1 -1 1 3 1 -5 1 -7 1 10 1 0 1 1 1 -3 1 -8 1 2 1 9 1 4 1 -4 1 -3 1 0 1 5 1 -7 1 -4 1 9 1 3 1 1 1 -8 1 5 1 -1 1 -5 1 7 1 -1 1 -2 1 0 1 -5 1 5 1 4 1 -9 1 8 1 -6 1 -7 1 9 1 -3 1 9 1 -5 1 1 1 1 1 -1 1 2 1 -9 1 7 1 -4 1 3 1 -1 1 4 1 -23 1 23 1 -9 1 4 1 0 1 5 1 -10 1 11 1 -11 1 1 1 8 1 -2 1 -10 1 7 1 5 1 1 1 -8 1 7 1 -7 1 3 1 -2 1 -2 1 6 1 2 1 -1 1 -3 1 -3 1 1 1 -2 1 -8 1 9 1 6 1 -4 1 -1 1 2 1 1 1 0 1 0 1 5 1 -5 1 3 1 -2 1 -2 1 3 1 -10 1 12 1 -2 1 0 1 -6 1 4 1 -1 1 5 1 -6 1 -2 1 -1 1 0 1 6 1 0 1 2 1 -4 1 -6 1 8 1 1 1 -9 1 10 1 0 1 -6 1 -8 1 5 1 4 1 0 1 1 1 -2 1 4 1 -2 1 3 1 4 1 -8 1 -1 1 2 1 -8 1 1 1 9 1 -1 1 2 1 -8 1 6 1 -8 1 12 1 -4 1 -8 1 9 1 -11 1 12 1 -9 1 6 1 -3 1 2 1 1 1 1 1 3 1 -8 1 5 1 -1 1 4 1 0 1 -10 1 10 1 -8 1 -1 1 4 1 5 1 -3 1 -5 1 2 1 2 1 4 1 -5 1 -4 1 8 1 0 1 0 1 -1 1 -3 1 1 1 2 1 -1 1 -2 1 3 1 1 1 0 1 -3 1 4 1 1 1 -4 1 2 1 1 1 -7 1 3 1 -11 1 12 1 3 1 1 1 -13 1 13 1 -5 1 -6 1 5 1 3 1 0 1 5 1 -11 1 8 1 -18 1 11 1 6 1 -1 1 -16 1 15 1 5 1 -5 1 -14 1 14 1 0 1 -10 1 10 1 0 1 5 1 -3 1 -5 1 -3 1 9 1 0 1 -5 1 5 1 -8 1 5 1 -2 1 -5 1 3 1 -6 1 5 1 6 1 -1 1 0 1 -4 1 4 1 -11 1 7 1 4 1 3 1 -1 1 1 1 -2 1 4 1 -5 1 1 1 0 1 -6 1 8 1 -2 1 3 1 2 1 -8 1 5 1 -5 1 -2 1 3 1 3 1 -10 1 6 1 3 1 -3 1 5 1 1 1 0 1 -1 1 -5 1 -7 1 5 1 2 1 2 1 -12 1 4 1 8 1 -2 1 0 1 2 1 0 1 0 1 4 1 0 1 -3 1 4 1 -4 1 -7 1 6 1 1 1 4 1 -1 1 -4 1 2 1 -3 1 2 1 4 1 -10 1 5 1 -13 1 19 1 -9 1 5 1 -4 1 -2 1 3 1 1 1 -1 1 4 1 -5 1 -1 1 -1 1 4 1 -3 1 -3 1 1 1 8 1 -6 1 6 1 -3 1 0 1 1 1 0 1 2 1 -8 1 6 1 -3 1 -3 1 5 1 -2 1 4 1 0 1 -2 1 5 1 -3 1 1 1 -4 1 -3 1 7 1 -3 1 4 1 -6 1 4 1 -2 1 -16 1 15 1 3 1 -5 1 2 1 4 1 -7 1 -1 1 5 1 -3 1 7 1 -1 1 0 1 -5 1 2 1 -6 1 0 1 6 1 2 1 0 1 -3 1 3 1 -1 1 3 1 1 1 -15 1 5 1 5 1 3 1 -2 1 3 1 -5 1 -7 1 3 1 10 1 -4 1 -6 1 2 1 8 1 -2 1 -2 1 -8 1 3 1 6 1 -7 1 7 1 0 1 -11 1 9 1 2 1 -6 1 3 1 -3 1 4 1 2 1 -5 1 3 1 3 1 -6 1 4 1 3 1 -6 1 6 1 -2 1 -4 1 -2 1 4 1 -6 1 1 1 0 1 7 1 -9 1 8 1 -1 1 -3 1 7 1 -4 1 2 1 2 1 -2 1 2 1 -5 1 -5 1 8 1 0 1 1 1 -6 1 3 1 -2 1 1 1 -8 1 9 1 0 1 1 1 -2 1 3 1 -7 1 4 1 -3 1 -1 1 4 1 1 1 3 1 -4 1 -2 1 0 1 -19" stroke="#008000" class="dn"/><path d="M244.7 466.6L244.7 461.7" stroke="#008000" class="dsn"/>
<path transform="matrix(0.03908 0.01395 0 -0.153 195 463.4)" d="M0 15 l1 3 1 1 1 2 1 -1 1 -3 1 -2 1 -3 1 4 1 -2 1 2 1 6 1 -7 1 -2 1 5 1 -2 1 0 1 -9 1 11 1 -2 1 3 1 4 1 -6 1 -2 1 6 1 -3 1 -4 1 0 1 -5 1 12 1 -5 1 1 1 1 1 0 1 0 1 3 1 -9 1 5 1 2 1 -7 1 -8 1 -3 1 10 1 9 1 1 1 -6 1 -4 1 -5 1 3 1 -3 1 13 1 -12 1 9 1 -4 1 2 1 5 1 1 1 -6 1 4 1 2 1 1 1 -6 1 1 1 2 1 -3 1 -8 1 13 1 -9 1 7 1 -5 1 4 1 0 1 -7 1 5 1 4 1 -3 1 6 1 -4 1 -6 1 6 1 1 1 1 1 -5 1 -1 1 2 1 -16 1 18 1 -3 1 7 1 -3 1 -8 1 5 1 -1 1 -2 1 6 1 -4 1 -8 1 5 1 2 1 1 1 -2 1 1 1 -3 1 7 1 -5 1 5 1 1 1 -5 1 -4 1 9 1 -7 1 5 1 -1 1 4 1 0 1 -7 1 4 1 1 1 0 1 0 1 -13 1 3 1 3 1 2 1 -7 1 -7 1 19 1 -2 1 -11 1 14 1 -9 1 2 1 8 1 -10 1 3 1 6 1 2 1 -2 1 -8 1 8 1 -10 1 12 1 -13 1 9 1 3 1 -8 1 3 1 -2 1 -1 1 2 1 2 1 -10 1 8 1 3 1 0 1 -2 1 3 1 -2 1 -3 1 4 1 -5 1 5 1 -5 1 3 1 -4 1 7 1 -2 1 -7 1 8 1 2 1 -10 1 11 1 0 1 -5 1 -1 1 -5 1 4 1 0 1 4 1 0 1 -2 1 4 1 -10 1 -2 1 9 1 3 1 -4 1 -5 1 3 1 3 1 2 1 -2 1 -6 1 7 1 1 1 -2 1 3 1 -3 1 -10 1 2 1 13 1 -11 1 6 1 -9 1 4 1 6 1 -5 1 0 1 5 1 -2 1 -1 1 -3 1 -2 1 4 1 2 1 -3 1 3 1 -4 1 -6 1 13 1 -3 1 -7 1 7 1 2 1 -2 1 4 1 -3 1 3 1 -3 1 -6 1 -2 1 4 1 3 1 -2 1 -3 1 1 1 4 1 2 1 0 1 -1 1 3 1 -9 1 8 1 1 1 -6 1 -4 1 -3 1 4 1 3 1 1 1 -3 1 0 1 3 1 3 1 -4 1 -6 1 -1 1 5 1 0 1 -2 1 -1 1 5 1 0 1 -12 1 12 1 8 1 -18 1 12 1 6 1 -8 1 -1 1 0 1 -2 1 2 1 0 1 -1 1 1 1 3 1 -5 1 1 1 2 1 0 1 -4 1 -1 1 1 1 6 1 2 1 -6 1 -5 1 2 1 8 1 -1 1 -5 1 6 1 -1 1 -1 1 -6 1 4 1 0 1 6 1 -6 1 0 1 3 1 -2 1 2 1 3 1 -2 1 -10 1 8 1 2 1 -1 1 1 1 -2 1 -1 1 -2 1 7 1 0 1 -1 1 -13 1 11 1 5 1 -12 1 0 1 6 1 7 1 -6 1 -4 1 0 1 4 1 1 1 -3 1 0 1 -2 1 4 1 -3 1 7 1 -8 1 -3 1 0 1 7 1 -15 1 5 1 8 1 -1 1 -2 1 9 1 -2 1 -4 1 -7 1 0 1 5 1 4 1 0 1 -9 1 12 1 0 1 -11 1 9 1 -7 1 4 1 -1 1 -6 1 9 1 -1 1 0 1 0 1 -1 1 2 1 2 1 -6 1 1 1 -7 1 5 1 4 1 -2 1 1 1 -3 1 3 1 -3 1 1 1 5 1 -6 1 2 1 1 1 -1 1 3 1 2 1 -5 1 3 1 -12 1 1 1 12 1 -5 1 1 1 2 1 0 1 0 1 -2 1 5 1 -3 1 -4 1 1 1 5 1 0 1 -7 1 6 1 -1 1 -3 1 5 1 2 1 -10 1 7 1 -4 1 4 1 -6 1 -2 1 10 1 -4 1 5 1 -5 1 0 1 3 1 -1 1 4 1 -1 1 -4 1 4 1 -6 1 7 1 -7 1 2 1 -3 1 4 1 -4 1 1 1 6 1 -3 1 4 1 -7 1 -1 1 3 1 -2 1 -3 1 4 1 -2 1 6 1 -2 1 -3 1 5 1 -12 1 10 1 4 1 -10 1 5 1 -15 1 16 1 1 1 -3 1 -2 1 2 1 -1 1 1 1 -1 1 -1 1 2 1 -3 1 4 1 -9 1 9 1 -3 1 5 1 -3 1 -3 1 6 1 -3 1 2 1 -7 1 7 1 0 1 -12 1 14 1 -6 1 5 1 0 1 -2 1 -3 1 5 1 -7 1 4 1 -4 1 5 1 3 1 0 1 -2 1 -5 1 6 1 0 1 -8 1 1 1 5 1 0 1 3 1 -9 1 8 1 1 1 3 1 -11 1 7 1 -2 1 -3 1 2 1 0 1 3 1 -4 1 5 1 -2 1 2 1 -2 1 -5 1 -1 1 7 1 -3 1 -5 1 1 1 7 1 -4 1 1 1 -4 1 4 1 -11 1 10 1 7 1 -9 1 2 1 3 1 2 1 0 1 -7 1 4 1 -3 1 -5 1 -2 1 7 1 0 1 -4 1 7 1 -6 1 10 1 -3 1 -1 1 0 1 -1 1 -11 1 6 1 -1 1 5 1 4 1 -4 1 2 1 -11 1 12 1 2 1 -1 1 -4 1 6 1 0 1 1 1 -6 1 1 1 -1 1 -3 1 7 1 -10 1 7 1 2 1 -6 1 8 1 -6 1 7 1 -4 1 -7 1 14 1 -7 1 4 1 -2 1 -9 1 1 1 7 1 -2 1 -1 1 2 1 3 1 -1 1 -3 1 0 1 5 1 -3 1 -4 1 4 1 -6 1 3 1 4 1 0 1 -2 1 -14 1 1 1 9 1 7 1 -4 1 -2 1 6 1 -10 1 -3 1 9 1 0 1 -13 1 11 1 2 1 1 1 3 1 -14 1 10 1 -5 1 2 1 1 1 -1 1 -29 1 34 1 -1 1 3 1 0 1 -17 1 12 1 3 1 -6 1 2 1 1 1 4 1 2 1 -4 1 2 1 2 1 -18 1 14 1 -8 1 4 1 7 1 -5 1 -3 1 -2 1 8 1 -5 1 6 1 -11 1 8 1 6 1 -2 1 2 1 -10 1 9 1 -5 1 3 1 1 1 -2 1 -5 1 6 1 -6 1 6 1 -3 1 1 1 -1 1 -8 1 9 1 -1 1 1 1 4 1 -9 1 4 1 0 1 4 1 -5 1 0 1 4 1 -2 1 3 1 1 1 -9 1 7 1 -2 1 -2 1 -4 1 3 1 -2 1 7 1 0 1 -5 1 -5 1 5 1 9 1 -11 1 2 1 3 1 -2 1 -2 1 5 1 -13 1 3 1 6 1 6 1 -3 1 -2 1 5 1 -4 1 1 1 -2 1 1 1 1 1 4 1 -9 1 2 1 0 1 7 1 -1 1 -1 1 -2 1 -2 1 -8 1 7 1 -1 1 1 1 -5 1 11 1 -3 1 3 1 1 1 -9 1 -3 1 4 1 -7 1 15 1 -5 1 4 1 0 1 -6 1 3 1 -2 1 6 1 -1 1 -4 1 5 1 -10 1 9 1 -6 1 -6 1 6 1 -2 1 3 1 -7 1 3 1 6 1 3 1 -5 1 2 1 2 1 1 1 -5 1 5 1 0 1 -2 1 1 1 -3 1 -1 1 -8 1 11 1 4 1 -3 1 -5 1 0 1 6 1 -8 1 9 1 -4 1 -2 1 0 1 4 1 -1 1 1 1 -1 1 -3 1 0 1 5 1 -3 1 -3 1 -7 1 8 1 -6 1 4 1 5 1 -6 1 0 1 2 1 3 1 0 1 -9 1 11 1 1 1 -4 1 0 1 2 1 -5 1 4 1 -4 1 4 1 4 1 -8 1 6 1 -5 1 6 1 -3 1 -2 1 -6 1 6 1 -6 1 10 1 -4 1 2 1 -4 1 -6 1 7 1 7 1 -2 1 -9 1 0 1 5 1 -12 1 8 1 3 1 -3 1 5 1 -10 1 11 1 1 1 3 1 -5 1 0 1 3 1 -6 1 7 1 -3 1 -1 1 -2 1 3 1 2 1 -4 1 -5 1 9 1 -1 1 -5 1 1 1 -3 1 1 1 3 1 4 1 2 1 -2 1 -7 1 0 1 3 1 3 1 -13 1 7 1 8 1 -10 1 9 1 0 1 -10 1 7 1 -9 1 9 1 -2 1 -3 1 6 1 -16 1 15 1 -1 1 4 1 -12 1 5 1 7 1 3 1 -7 1 6 1 -4 1 4 1 -9 1 5 1 -8 1 6 1 4 1 -3 1 -4 1 2 1 4 1 5 1 -5 1 -1 1 -2 1 2 1 -1 1 -10 1 4 1 4 1 3 1 0 1 -1 1 1 1 2 1 -3 1 2 1 -8 1 -1 1 7 1 3 1 -13 1 11 1 -2 1 0 1 -3 1 -6 1 8 1 6 1 -2 1 -4 1 0 1 2 1 1 1 -5 1 9 1 -7 1 6 1 -2 1 -3 1 3 1 0 1 2 1 -5 1 1 1 -1 1 -2 1 2 1 0 1 3 1 -8 1 0 1 1 1 9 1 2 1 -8 1 -1 1 3 1 0 1 -2 1 -13 1 20 1 -4 1 0 1 -12 1 14 1 0 1 1 1 1 1 -2 1 3 1 -5 1 0 1 -5 1 -1 1 8 1 -4 1 2 1 -7 1 5 1 2 1 -6 1 -1 1 -2 1 8 1 0 1 -11 1 9 1 3 1 -2 1 6 1 -8 1 -1 1 -5 1 10 1 -1 1 -1 1 -2 1 5 1 -7 1 5 1 1 1 -2 1 1 1 -5 1 -3 1 12 1 -4 1 -5 1 4 1 -3 1 -1 1 3 1 0 1 3 1 -2 1 0 1 3 1 2 1 -3 1 0 1 -1 1 1 1 -1 1 7 1 -6 1 -1 1 2 1 1 1 -16 1 4 1 15 1 -7 1 2 1 -1 1 -4 1 6 1 -13 1 10 1 0 1 3 1 -1 1 -3 1 5 1 -2 1 0 1 -6 1 5 1 1 1 -3 1 0 1 2 1 -2 1 -7 1 -1 1 4 1 0 1 2 1 7 1 -1 1 -3 1 1 1 3 1 -7 1 9 1 -12 1 6 1 2 1 2 1 -8 1 8 1 1 1 -3 1 2 1 -3 1 -6 1 6 1 -4 1 -1 1 4 1 2 1 -1 1 -6 1 4 1 -5 1 6 1 3 1 -6 1 7 1 2 1 -10 1 1 1 4 1 -3 1 7 1 1 1 -13 1 5 1 5 1 -4 1 6 1 1 1 0 1 -5 1 -4 1 -5 1 6 1 4 1 -2 1 2 1 -4 1 -2 1 5 1 -16 1 17 1 0 1 -5 1 1 1 1 1 2 1 -8 1 11 1 -3 1 2 1 -3 1 5 1 -8 1 2 1 0 1 -8 1 13 1 -6 1 0 1 2 1 -2 1 -2 1 7 1 -2 1 4 1 -5 1 -1 1 2 1 -2 1 1 1 6 1 -9 1 0 1 9 1 -3 1 0 1 -2 1 -4 1 6 1 -14 1 14 1 2 1 -1 1 -2 1 2 1 -4 1 -5 1 5 1 0 1 0 1 3 1 0 1 0 1 -2 1 1 1 -4 1 2 1 2 1 -1 1 1 1 1 1 -8 1 8 1 2 1 -10 1 8 1 -6 1 7 1 -5 1 2 1 -1 1 -5 1 3 1 -2 1 8 1 -1 1 -10 1 12 1 -3 1 -6 1 -6 1 17 1 -15 1 13 1 -5 1 1 1 2 1 1 1 1 1 -4 1 -3 1 4 1 1 1 0 1 -1 1 4 1 -5 1 4 1 -6 1 -8 1 11 1 5 1 -3 1 0 1 1 1 -3 1 -1 1 2 1 3 1 -6 1 -10 1 7 1 0 1 1 1 5 1 2 1 -2 1 -8 1 1 1 3 1 4 1 0 1 -2 1 3 1 -2 1 -2 1 4 1 -6 1 2 1 -4 1 5 1 -2 1 3 1 2 1 -3 1 3 1 -6 1 0 1 -2 1 6 1 1 1 1 1 -1 1 -3 1 -1 1 6 1 -11 1 7 1 0 1 4 1 -5 1 -9 1 11 1 1 1 2 1 -3 1 -1 1 3 1 -4 1 3 1 -5 1 2 1 5 1 -10 1 7 1 0 1 0 1 -4 1 4 1 -8 1 -4 1 12 1 1 1 -8 1 5 1 1 1 -10 1 12 1 -7 1 9 1 -3 1 -6 1 14 1 -13 1 1 1 7 1 -3 1 -10 1 8 1 3 1 0 1 -3 1 5 1 -5 1 3 1 -5 1 5 1 1 1 -1 1 1 1 -4 1 5 1 -4 1 1 1 -3 1 0 1 8 1 -5 1 -6 1 -3 1 9 1 -11 1 10 1 0 1 3 1 -2 1 0 1 1 1 -15 1 15 1 -2 1 -4 1 0 1 1 1 -7 1 11 1 4 1 -20 1 14 1 -2 1 6 1 0 1 -10 1 8 1 1 1 -3 1 5 1 -4 1 -11 1 13 1 -6 1 2 1 0 1 0 1 0 1 3 1 -1 1 3 1 1 1 -1 1 -6 1 6 1 -2 1 -5 1 6 1 -6 1 1 1 8 1 -8 1 6 1 -1 1 -4 1 4 1 -1 1 -7 1 4 1 -5 1 8 1 -2 1 -1 1 2 1 5 1 -6 1 7 1 -2 1 -4 1 2 1 1 1 -4 1 -2 1 4 1 -3 1 -2 1 5 1 -8 1 -1 1 5 1 4 1 -4 1 1 1 1 1 -3 1 -5 1 7 1 7 1 -4 1 -7 1 1 1 7 1 -1 1 -1 1 -4 1 0 1 1 1 4 1 -2 1 3 1 -3 1 3 1 4 1 -10 1 3 1 -3 1 7 1 -8 1 1 1 7 1 -7 1 6 1 -6 1 9 1 -2 1 1 1 -2 1 -3 1 4 1 0 1 -6 1 3 1 -2 1 -1 1 -2 1 8 1 -3 1 2 1 -2 1 -2 1 -7 1 9 1 -7 1 3 1 8 1 -6 1 8 1 -1 1 -5 1 -1 1 -13 1 3 1 14 1 -1 1 -12 1 8 1 -1 1 -3 1 8 1 -2 1 -11 1 3 1 3 1 -15 1 13 1 8 1 -3 1 3 1 -4 1 5 1 2 1 -8 1 10 1 -6 1 -8 1 3 1 6 1 -4 1 8 1 -6 1 1 1 3 1 1 1 -4 1 -2 1 -9 1 9 1 -1 1 1 1 4 1 -14 1 10 1 -8 1 14 1 -7 1 5 1 -2 1 0 1 -3 1 -5 1 14 1 -20 1 16 1 2 1 -2 1 2 1 -4 1 2 1 3 1 -7 1 5 1 -1 1 -7 1 8 1 1 1 -16 1 18 1 -11 1 5 1 -9 1 7 1 6 1 -6 1 6 1 -5 1 0 1 -8 1 13 1 -9 1 4 1 0 1 -4 1 3 1 -14 1 17 1 6 1 -8 1 -4 1 -1 1 -9 1 9 1 10 1 -4 1 -3 1 0 1 -2 1 6 1 -8 1 10 1 -8 1 9 1 -1 1 -4 1 -1 1 1 1 4 1 -2 1 -2 1 6 1 -4 1 -1 1 3 1 0 1 -4 1 6 1 -6 1 -2 1 5 1 -3 1 6 1 -5 1 -4 1 4 1 -8 1 9 1 1 1 0 1 -3 1 -1 1 4 1 -3 1 2 1 0 1 2 1 -2 1 -3 1 -3 1 10 1 -5 1 -12 1 2 1 12 1 3 1 -9 1 2 1 0 1 0 1 6 1 -2 1 2 1 -5 1 -12 1 11 1 0 1 -6 1 5 1 1 1 0 1 5 1 -5 1 1 1 6 1 -13 1 7 1 2 1 -10 1 6 1 -2 1 5 1 -2 1 8 1 -3 1 -1 1 2 1 -8 1 5 1 3 1 -1 1 -9 1 3 1 -5 1 -14 1 22 1 -1 1 -9 1 8 1 -3 1 2 1 -6 1 2 1 -2 1 4 1 7 1 0 1 -1 1 5 1 -6 1 4 1 0 1 -4 1 1 1 -6 1 5 1 -6 1 7 1 -2 1 5 1 -6 1 6 1 -8 1 6 1 -8 1 4 1 7 1 -3 1 2 1 -11 1 5 1 3 1 0 1 -3 1 -9 1 13 1 -7 1 8 1 -4 1 -2 1 0 1 1 1 7 1 -6 1 -1 1 4 1 -8 1 6 1 -7 1 12 1 -7 1 3 1 1 1 -4 1 4 1 0 1 -2 1 1 1 -3 1 3 1 -9 1 7 1 2 1 1 1 -5 1 6 1 -4 1 2 1 -4 1 3 1 4 1 -13 1 8 1 3 1 -1 1 -6 1 9 1 -2 1 -1 1 -8 1 9 1 -1 1 -9 1 6 1 3 1 -1 1 4 1 -5 1 4 1 0 1 -7 1 2 1 3 1 -5 1 5 1 0 1 0 1 3 1 -1 1 -3 1 2 1 -16 1 17 1 -5 1 3 1 4 1 0 1 -2 1 -2 1 2 1 -3 1 2 1 4 1 -10 1 7 1 -7 1 -2 1 6 1 -1 1 3 1 -5 1 6 1 -7 1 10 1 -6 1 2 1 1 1 -3 1 1 1 -2 1 -2 1 6 1 2 1 -6 1 5 1 -3 1 -11 1 10 1 -3 1 1 1 5 1 1 1 -1 1 -7 1 2 1 3 1 1 1 -4 1 0 1 0" stroke="#0000ff" class="dn"/><path d="M230.2 474L230.2 469.1" stroke="#0000ff" class="dsn"/>
<g class="tk"><text x="192.4" y="495.4" text-anchor="end">-200</text><text x="192.4" y="480.1" text-anchor="end">-100</text><text x="192.4" y="464.8" text-anchor="end">0</text><text x="192.4" y="449.5" text-anchor="end">100</text><text transform="translate(199.33 502.51) scale(0.8 1)" text-anchor="end">-0.4</text><text transform="translate(213.39 507.53) scale(0.8 1)" text-anchor="end">-0.2</text><text transform="translate(227.45 512.55) scale(0.8 1)" text-anchor="end">0</text><text transform="translate(241.51 517.57) scale(0.8 1)" text-anchor="end">0.2</text><text transform="translate(255.57 522.59) scale(0.8 1)" text-anchor="end">0.4</text><text class="sl" transform="translate(267.8 524.7) scale(0.78 1)">CML</text><text class="sl" transform="translate(282.12 517.31) scale(0.78 1)">MCML</text><text class="sl" transform="translate(296.44 509.91) scale(0.78 1)">DCML</text><text class="sl" transform="translate(310.76 502.52) scale(0.78 1)">MDCML</text><text class="sl" transform="translate(325.08 495.12) scale(0.78 1)">BCML</text></g>
<text class="al" transform="translate(182.4 471.1) rotate(-90)" text-anchor="middle">Power (dB)</text>
<text class="al" transform="translate(221.6 519.3) rotate(19.7)" text-anchor="middle">Frequency (Hz)</text>
<text class="cap" y="541.4"><tspan x="214.98" font-weight="bold" font-size="9.2">(k)</tspan><tspan x="231.22" font-style="italic">μ</tspan><tspan x="240.52" class="eq" textLength="6.1" lengthAdjust="spacingAndGlyphs">=</tspan><tspan x="250.52" textLength="18.4" lengthAdjust="spacingAndGlyphs">3.99,</tspan><tspan x="270.52" font-style="italic">e</tspan><tspan x="278.82" class="eq" textLength="6.4" lengthAdjust="spacingAndGlyphs">=</tspan><tspan x="287.42" textLength="11.6" lengthAdjust="spacingAndGlyphs">0.5</tspan></text>
<path class="gr" d="M369.6 496.5L428.3 467.4M383.6 501.5L442 472.3M397.6 506.5L455.7 477.2M411.6 511.5L469.4 482.1M425.6 516.5L483 487.1M377.3 486.7L446.9 511.6M392 479.5L461.2 504.2M406.8 472.2L475.6 496.9M421.5 464.9L489.9 489.5M377.3 486.7L377.3 440.8M392 479.5L392 433.6M406.8 472.2L406.8 426.3M421.5 464.9L421.5 419M362.6 494L421.5 464.9M362.6 478.7L421.5 449.6M362.6 463.4L421.5 434.3M362.6 448.1L421.5 419M428.3 467.4L428.3 421.5M442 472.3L442 426.4M455.7 477.2L455.7 431.3M469.4 482.1L469.4 436.2M483 487.1L483 441.2M421.5 464.9L489.9 489.5M421.5 449.6L489.9 474.2M421.5 434.3L489.9 458.9M421.5 419L489.9 443.6"/>
<path class="ax" d="M362.6 494L362.6 448.1M362.6 494L432.6 519M432.6 519L489.9 489.5M362.6 494L363.8 493.4M362.6 478.7L363.8 478.1M362.6 463.4L363.8 462.8M362.6 448.1L363.8 447.5M369.6 496.5L370.8 495.9M383.6 501.5L384.8 500.9M397.6 506.5L398.8 505.9M411.6 511.5L412.8 510.9M425.6 516.5L426.8 515.9M432.6 519L431.4 518.5M446.9 511.6L445.7 511.2M461.2 504.2L460 503.8M475.6 496.9L474.3 496.4M489.9 489.5L488.7 489.1"/>
<path transform="matrix(0.03802 0.01367 0 -0.153 421.48 434.32)" d="M0 17 l1 -1 1 4 1 -4 1 3 1 1 1 2 1 -2 1 -4 1 1 1 -5 1 6 1 -4 1 2 1 6 1 0 1 -3 1 -2 1 -2 1 -3 1 7 1 -1 1 -2 1 5 1 -2 1 -5 1 4 1 3 1 -2 1 3 1 -6 1 2 1 4 1 -2 1 -9 1 7 1 -3 1 2 1 -8 1 5 1 -2 1 -3 1 6 1 -4 1 6 1 0 1 -2 1 -1 1 3 1 -6 1 11 1 -12 1 10 1 -7 1 3 1 -2 1 3 1 -1 1 1 1 -1 1 0 1 -1 1 5 1 -10 1 8 1 1 1 -11 1 6 1 3 1 -7 1 8 1 -1 1 -3 1 0 1 2 1 5 1 -2 1 -5 1 -2 1 -1 1 7 1 -1 1 3 1 -15 1 13 1 -11 1 9 1 -8 1 10 1 1 1 1 1 -4 1 -1 1 -3 1 6 1 -3 1 0 1 5 1 -18 1 13 1 1 1 5 1 -8 1 -1 1 6 1 -1 1 -4 1 -8 1 10 1 -6 1 10 1 0 1 -2 1 -3 1 -1 1 2 1 4 1 -1 1 -1 1 -4 1 -1 1 1 1 -7 1 1 1 -9 1 20 1 1 1 -6 1 -8 1 14 1 -11 1 3 1 3 1 5 1 -11 1 -6 1 14 1 -1 1 1 1 -2 1 4 1 -4 1 3 1 -9 1 6 1 3 1 4 1 -9 1 4 1 1 1 0 1 -1 1 -6 1 7 1 0 1 -1 1 0 1 3 1 -1 1 -2 1 -2 1 3 1 3 1 -16 1 12 1 0 1 -3 1 -6 1 8 1 -9 1 8 1 -9 1 12 1 -8 1 -7 1 14 1 -6 1 7 1 0 1 -1 1 -1 1 6 1 -4 1 -3 1 -12 1 18 1 -9 1 7 1 -1 1 0 1 -1 1 -2 1 3 1 -1 1 4 1 0 1 -16 1 13 1 -3 1 1 1 5 1 -8 1 5 1 -2 1 -10 1 12 1 -4 1 2 1 -1 1 1 1 5 1 -5 1 0 1 -4 1 7 1 0 1 0 1 -2 1 0 1 -3 1 5 1 -1 1 -10 1 9 1 -1 1 -4 1 5 1 -1 1 -2 1 1 1 -6 1 8 1 -21 1 20 1 -1 1 -13 1 16 1 1 1 -4 1 0 1 3 1 -21 1 20 1 -3 1 1 1 -2 1 2 1 0 1 -5 1 1 1 7 1 -6 1 4 1 -8 1 7 1 2 1 0 1 -5 1 7 1 -9 1 9 1 -6 1 1 1 -3 1 7 1 -7 1 4 1 3 1 0 1 -5 1 1 1 0 1 6 1 -3 1 -7 1 3 1 -1 1 2 1 2 1 -4 1 5 1 -5 1 1 1 -4 1 1 1 -4 1 11 1 -6 1 -1 1 6 1 -1 1 1 1 -1 1 -3 1 6 1 -1 1 -2 1 -1 1 0 1 2 1 5 1 0 1 -4 1 -3 1 0 1 -4 1 4 1 1 1 3 1 -13 1 11 1 -5 1 3 1 3 1 -6 1 -3 1 11 1 0 1 -15 1 14 1 -6 1 6 1 -1 1 -2 1 4 1 -3 1 -1 1 4 1 -5 1 -1 1 -7 1 -10 1 22 1 1 1 -15 1 12 1 -8 1 6 1 4 1 -8 1 8 1 0 1 1 1 1 1 -5 1 3 1 0 1 3 1 -2 1 -8 1 4 1 -2 1 5 1 0 1 -1 1 0 1 -3 1 1 1 5 1 -7 1 1 1 3 1 -3 1 -1 1 3 1 -1 1 1 1 0 1 0 1 -5 1 7 1 -6 1 0 1 4 1 1 1 -10 1 -4 1 20 1 -5 1 -6 1 1 1 4 1 -5 1 -4 1 4 1 8 1 -3 1 -3 1 3 1 -4 1 2 1 0 1 5 1 -10 1 7 1 -12 1 8 1 1 1 2 1 -4 1 7 1 -2 1 -4 1 -7 1 6 1 2 1 5 1 -6 1 -3 1 10 1 -6 1 -5 1 6 1 1 1 5 1 -9 1 1 1 2 1 2 1 0 1 -7 1 0 1 6 1 -3 1 -4 1 4 1 6 1 -6 1 5 1 -4 1 -5 1 6 1 5 1 -2 1 -6 1 1 1 3 1 1 1 -3 1 -2 1 0 1 -3 1 5 1 4 1 -2 1 -8 1 7 1 0 1 0 1 0 1 1 1 0 1 -5 1 6 1 -3 1 6 1 -2 1 -2 1 0 1 -2 1 3 1 -3 1 -1 1 3 1 -8 1 10 1 -3 1 -9 1 7 1 -10 1 12 1 -1 1 1 1 1 1 -3 1 4 1 -12 1 10 1 -1 1 -1 1 5 1 -12 1 10 1 -5 1 7 1 -3 1 1 1 3 1 -8 1 2 1 4 1 1 1 -6 1 1 1 2 1 -6 1 -7 1 10 1 7 1 -5 1 3 1 -1 1 0 1 0 1 -4 1 3 1 2 1 3 1 -2 1 -6 1 -1 1 3 1 3 1 3 1 -2 1 -4 1 -3 1 6 1 -10 1 9 1 -3 1 1 1 2 1 -1 1 1 1 4 1 -1 1 -9 1 -1 1 9 1 -2 1 -4 1 6 1 -2 1 3 1 -11 1 5 1 4 1 -5 1 5 1 -7 1 2 1 7 1 -7 1 2 1 1 1 1 1 -8 1 1 1 6 1 0 1 -3 1 4 1 1 1 -3 1 2 1 -6 1 7 1 0 1 -1 1 1 1 2 1 -6 1 0 1 4 1 -4 1 2 1 2 1 3 1 1 1 -5 1 -1 1 -1 1 1 1 0 1 0 1 -2 1 5 1 0 1 -6 1 3 1 4 1 -3 1 -11 1 9 1 -7 1 8 1 -5 1 -1 1 3 1 0 1 6 1 -2 1 -3 1 0 1 -4 1 1 1 -5 1 10 1 -2 1 -4 1 7 1 -1 1 -16 1 16 1 3 1 1 1 -7 1 4 1 1 1 -1 1 0 1 -6 1 4 1 2 1 -5 1 -6 1 10 1 1 1 -8 1 6 1 3 1 -5 1 1 1 0 1 -1 1 4 1 2 1 -3 1 -6 1 6 1 1 1 -4 1 1 1 -1 1 1 1 2 1 -8 1 5 1 5 1 -8 1 7 1 -4 1 5 1 -10 1 10 1 1 1 3 1 -3 1 -3 1 3 1 -1 1 -3 1 1 1 2 1 -4 1 -4 1 5 1 4 1 -2 1 -9 1 7 1 2 1 1 1 -1 1 2 1 -6 1 1 1 4 1 -9 1 2 1 -5 1 14 1 -9 1 -2 1 -11 1 16 1 4 1 -5 1 6 1 -5 1 2 1 0 1 0 1 2 1 -5 1 5 1 -4 1 1 1 -3 1 2 1 0 1 -4 1 9 1 1 1 -2 1 -1 1 -4 1 3 1 0 1 -2 1 -1 1 3 1 -1 1 -3 1 -6 1 7 1 8 1 -8 1 0 1 0 1 2 1 1 1 -2 1 4 1 -7 1 5 1 -3 1 6 1 -2 1 -1 1 4 1 -3 1 1 1 2 1 -5 1 0 1 0 1 4 1 -6 1 5 1 -2 1 -5 1 8 1 -11 1 12 1 -5 1 -1 1 5 1 -3 1 -1 1 -1 1 -3 1 10 1 -3 1 -8 1 8 1 -11 1 10 1 -1 1 -2 1 0 1 0 1 2 1 1 1 -2 1 -1 1 -3 1 5 1 -22 1 21 1 6 1 -1 1 -5 1 2 1 -3 1 2 1 5 1 -4 1 -9 1 3 1 4 1 5 1 -10 1 10 1 -11 1 3 1 2 1 -1 1 2 1 3 1 -3 1 4 1 -10 1 0 1 8 1 0 1 -2 1 1 1 -3 1 4 1 -10 1 9 1 -9 1 8 1 3 1 0 1 0 1 -9 1 5 1 -3 1 10 1 -4 1 0 1 2 1 -9 1 3 1 -6 1 12 1 2 1 -8 1 8 1 -1 1 -1 1 -5 1 5 1 1 1 1 1 -2 1 -1 1 3 1 -5 1 1 1 -3 1 -2 1 0 1 0 1 6 1 -6 1 6 1 2 1 -7 1 1 1 3 1 -2 1 -1 1 6 1 -6 1 0 1 -1 1 3 1 -1 1 -11 1 0 1 15 1 -2 1 3 1 -13 1 14 1 -4 1 2 1 -5 1 4 1 -1 1 -7 1 11 1 -8 1 7 1 -2 1 -1 1 -8 1 5 1 3 1 3 1 -2 1 -2 1 -1 1 1 1 3 1 -7 1 0 1 5 1 -1 1 0 1 0 1 0 1 0 1 0 1 -1 1 4 1 -1 1 -5 1 3 1 -1 1 -5 1 5 1 1 1 1 1 1 1 -14 1 9 1 4 1 2 1 -6 1 1 1 2 1 -1 1 1 1 -5 1 8 1 -1 1 0 1 -2 1 -4 1 6 1 1 1 -1 1 -2 1 3 1 -2 1 3 1 -6 1 1 1 -10 1 9 1 -2 1 1 1 3 1 -3 1 3 1 -1 1 1 1 4 1 -1 1 -6 1 2 1 -1 1 4 1 -5 1 2 1 4 1 -8 1 8 1 -1 1 -3 1 3 1 -4 1 6 1 -8 1 0 1 7 1 -1 1 0 1 -4 1 1 1 -2 1 7 1 -6 1 4 1 -10 1 13 1 -2 1 -4 1 4 1 -4 1 3 1 0 1 2 1 -7 1 -3 1 8 1 -2 1 4 1 -6 1 -1 1 -3 1 8 1 -3 1 -15 1 16 1 -16 1 17 1 -8 1 -5 1 16 1 -2 1 1 1 -2 1 -2 1 -3 1 5 1 -4 1 1 1 -4 1 6 1 1 1 -1 1 -5 1 7 1 -2 1 0 1 -1 1 0 1 -4 1 8 1 -6 1 3 1 0 1 -3 1 4 1 -4 1 -1 1 9 1 -2 1 -7 1 3 1 -2 1 0 1 1 1 1 1 -2 1 -10 1 13 1 4 1 -8 1 6 1 -1 1 -2 1 -4 1 3 1 7 1 -11 1 4 1 7 1 -10 1 2 1 1 1 4 1 2 1 -6 1 2 1 2 1 1 1 -4 1 -3 1 4 1 -2 1 7 1 -6 1 3 1 0 1 -1 1 -1 1 2 1 1 1 -7 1 -3 1 10 1 -3 1 -10 1 4 1 5 1 3 1 -2 1 -2 1 5 1 -12 1 8 1 -5 1 9 1 -18 1 8 1 5 1 4 1 -2 1 4 1 -3 1 -8 1 4 1 5 1 -1 1 -5 1 2 1 0 1 1 1 0 1 -12 1 6 1 7 1 3 1 -7 1 0 1 7 1 2 1 -11 1 4 1 0 1 0 1 3 1 4 1 -7 1 -3 1 4 1 7 1 -3 1 -2 1 -5 1 3 1 -1 1 1 1 3 1 -4 1 6 1 -11 1 7 1 0 1 4 1 -2 1 -8 1 3 1 0 1 1 1 2 1 -3 1 2 1 4 1 -1 1 -5 1 4 1 2 1 -2 1 4 1 -10 1 3 1 4 1 -8 1 3 1 3 1 -3 1 4 1 -1 1 1 1 -2 1 -4 1 5 1 -3 1 3 1 -1 1 -2 1 2 1 6 1 -4 1 -6 1 -3 1 12 1 -4 1 2 1 0 1 -3 1 -10 1 6 1 5 1 -5 1 4 1 -5 1 4 1 5 1 -5 1 3 1 -1 1 1 1 4 1 -1 1 -15 1 14 1 0 1 -2 1 -1 1 -4 1 6 1 -2 1 -8 1 7 1 5 1 -2 1 -5 1 3 1 1 1 -1 1 1 1 -1 1 -1 1 1 1 2 1 -3 1 6 1 -6 1 1 1 3 1 -4 1 -2 1 4 1 -4 1 4 1 -2 1 7 1 -7 1 6 1 -7 1 -3 1 1 1 7 1 -5 1 4 1 -9 1 9 1 -4 1 -2 1 6 1 -14 1 15 1 -4 1 3 1 -4 1 2 1 -1 1 -2 1 3 1 -5 1 1 1 1 1 5 1 -4 1 3 1 1 1 0 1 -7 1 5 1 3 1 -1 1 -5 1 0 1 -2 1 6 1 -9 1 10 1 -2 1 -3 1 3 1 -1 1 4 1 -3 1 1 1 4 1 -4 1 -10 1 1 1 8 1 1 1 -3 1 6 1 1 1 -5 1 2 1 -4 1 4 1 0 1 3 1 -6 1 1 1 -1 1 6 1 -3 1 -1 1 -2 1 -3 1 4 1 0 1 1 1 2 1 -16 1 12 1 -5 1 8 1 0 1 0 1 -1 1 1 1 -7 1 8 1 1 1 -1 1 -4 1 0 1 5 1 -3 1 -16 1 15 1 -1 1 -2 1 5 1 -3 1 4 1 1 1 -13 1 10 1 -4 1 1 1 -4 1 5 1 -9 1 4 1 4 1 7 1 -13 1 9 1 -3 1 2 1 3 1 -17 1 7 1 1 1 9 1 0 1 -4 1 5 1 -4 1 -1 1 -3 1 -4 1 10 1 2 1 0 1 -3 1 -13 1 12 1 3 1 -5 1 -4 1 8 1 -6 1 4 1 -13 1 16 1 -1 1 2 1 -5 1 1 1 -7 1 1 1 3 1 -5 1 6 1 -3 1 1 1 4 1 -3 1 3 1 -5 1 1 1 -7 1 7 1 1 1 1 1 1 1 -9 1 10 1 -1 1 5 1 -7 1 6 1 -2 1 -4 1 6 1 -4 1 -1 1 -3 1 -4 1 5 1 6 1 -4 1 -4 1 8 1 -5 1 -5 1 10 1 -4 1 -7 1 11 1 3 1 -18 1 16 1 1 1 -1 1 -12 1 10 1 0 1 -5 1 1 1 4 1 -6 1 6 1 -1 1 -4 1 9 1 -13 1 11 1 -4 1 -13 1 14 1 3 1 -3 1 2 1 -6 1 3 1 0 1 -5 1 11 1 -10 1 7 1 -2 1 2 1 -3 1 2 1 -6 1 9 1 -4 1 3 1 -1 1 -1 1 -7 1 4 1 3 1 0 1 1 1 -6 1 3 1 3 1 -6 1 0 1 1 1 2 1 5 1 -2 1 -8 1 3 1 6 1 2 1 -2 1 -1 1 1 1 1 1 -6 1 0 1 1 1 1 1 -3 1 3 1 -2 1 3 1 -1 1 0 1 -1 1 4 1 -1 1 -10 1 6 1 2 1 0 1 0 1 -2 1 5 1 -6 1 0 1 3 1 -2 1 0 1 1 1 4 1 0 1 -4 1 8 1 -11 1 3 1 2 1 4 1 -3 1 -5 1 -2 1 2 1 -1 1 2 1 5 1 -1 1 -3 1 4 1 -1 1 -3 1 1 1 -6 1 9 1 1 1 -4 1 -6 1 7 1 -4 1 2 1 -4 1 10 1 -3 1 1 1 -9 1 -1 1 6 1 1 1 -2 1 6 1 -6 1 1 1 -1 1 3 1 -4 1 1 1 3 1 -2 1 -2 1 5 1 -3 1 1 1 -13 1 17 1 -11 1 8 1 -2 1 4 1 0 1 -7 1 2 1 5 1 -4 1 -1 1 4 1 -4 1 -6 1 9 1 -7 1 -6 1 11 1 -10 1 10 1 -5 1 5 1 3 1 0 1 -4 1 1 1 2 1 2 1 -4 1 4 1 -10 1 8 1 -5 1 2 1 6 1 -1 1 0 1 1 1 -8 1 6 1 -3 1 0 1 -1 1 4 1 -3 1 -2 1 2 1 -9 1 12 1 -3 1 6 1 -1 1 -3 1 1 1 0 1 -2 1 1 1 -5 1 3 1 -4 1 9 1 -8 1 4 1 -2 1 1 1 3 1 -2 1 -6 1 10 1 -9 1 1 1 3 1 0 1 5 1 -1 1 -6 1 2 1 2 1 -1 1 0 1 5 1 -4 1 -2 1 -1 1 7 1 -5 1 -7 1 4 1 -3 1 2 1 7 1 -7 1 1 1 2 1 -9 1 7 1 3 1 -2 1 4 1 -3 1 0 1 5 1 1 1 -4 1 0 1 -5 1 -3 1 10 1 -2 1 -2 1 4 1 -3 1 -1 1 1 1 -2 1 3 1 3 1 -9 1 -3 1 13 1 -7 1 0 1 4 1 0 1 -5 1 5 1 -2 1 0 1 0 1 -8 1 11 1 -11 1 7 1 -1 1 -5 1 8 1 0 1 -1 1 -3 1 3 1 -4 1 5 1 -4 1 3 1 1 1 -1 1 0 1 3 1 -5 1 -4 1 0 1 10 1 -2 1 -12 1 11 1 0 1 3 1 -10 1 10 1 -8 1 6 1 0 1 -5 1 0 1 2 1 1 1 0 1 1 1 -18 1 7 1 8 1 -1 1 -3 1 0 1 8 1 -14 1 12 1 -16 1 15 1 4 1 -5 1 3 1 -1 1 -9 1 10 1 -5 1 -2 1 2 1 1 1 6 1 -3 1 -2 1 0 1 -4 1 7 1 -4 1 7 1 -4 1 -10 1 14 1 -3 1 -5 1 5 1 -3 1 2 1 -7 1 4 1 -7 1 7 1 4 1 -4 1 5 1 -1 1 -2 1 -5 1 3 1 1 1 6 1 -6 1 -7 1 0 1 2 1 6 1 2 1 -3 1 1 1 4 1 -5 1 6 1 -3 1 0 1 0 1 -1 1 -3 1 3 1 -5 1 7 1 -3 1 4 1 -10 1 3 1 -2 1 5 1 5 1 -2 1 -2 1 1 1 -6 1 6 1 -3 1 3 1 0 1 4 1 -13 1 7 1 -6 1 7 1 -3 1 6 1 -1 1 -3 1 2 1 0 1 4 1 -5 1 -2 1 2 1 -5 1 6 1 0 1 -7 1 2 1 8 1 -9 1 9 1 -10 1 8 1 -2 1 -6 1 5" stroke="#bf00bf" class="dn"/><path d="M455.7 444.6L455.7 439.7" stroke="#bf00bf" class="dsn"/>
<path transform="matrix(0.03824 0.01372 0 -0.153 406.76 441.59)" d="M0 17 l1 6 1 -1 1 -8 1 3 1 1 1 3 1 3 1 -5 1 0 1 -9 1 10 1 -8 1 7 1 -2 1 -6 1 7 1 1 1 1 1 -4 1 4 1 -8 1 7 1 -6 1 3 1 -4 1 -3 1 10 1 -3 1 -5 1 10 1 0 1 -9 1 4 1 5 1 -2 1 -4 1 2 1 0 1 3 1 -2 1 -3 1 5 1 -3 1 -11 1 8 1 4 1 -2 1 -3 1 0 1 5 1 -6 1 8 1 -1 1 0 1 -3 1 1 1 1 1 2 1 -3 1 1 1 1 1 -10 1 -2 1 6 1 3 1 3 1 -5 1 4 1 -2 1 2 1 0 1 2 1 -6 1 -5 1 6 1 2 1 -14 1 10 1 7 1 -6 1 0 1 -4 1 10 1 -1 1 -5 1 -1 1 3 1 -8 1 8 1 0 1 -6 1 10 1 1 1 -5 1 2 1 -4 1 -1 1 8 1 -6 1 3 1 -3 1 2 1 2 1 -4 1 -5 1 1 1 2 1 5 1 -2 1 3 1 -5 1 3 1 -10 1 5 1 -1 1 1 1 2 1 -6 1 10 1 -4 1 0 1 4 1 -2 1 -1 1 2 1 -1 1 4 1 -9 1 3 1 6 1 -2 1 -4 1 5 1 -4 1 4 1 -3 1 -1 1 3 1 1 1 -8 1 6 1 -2 1 -2 1 5 1 -4 1 -1 1 0 1 1 1 1 1 1 1 -7 1 7 1 -2 1 6 1 -1 1 -4 1 -12 1 11 1 1 1 -1 1 -4 1 0 1 0 1 4 1 -3 1 2 1 -4 1 1 1 1 1 3 1 -1 1 3 1 -6 1 1 1 6 1 1 1 -8 1 8 1 -17 1 16 1 0 1 -6 1 -5 1 12 1 -1 1 -4 1 2 1 3 1 -3 1 0 1 2 1 1 1 -21 1 21 1 -4 1 4 1 -3 1 -2 1 -7 1 3 1 6 1 -2 1 3 1 2 1 -1 1 -2 1 3 1 -3 1 -6 1 10 1 -1 1 -3 1 1 1 1 1 1 1 0 1 -4 1 2 1 0 1 -6 1 6 1 -4 1 2 1 0 1 -4 1 3 1 -4 1 8 1 1 1 -1 1 -9 1 4 1 1 1 5 1 -3 1 3 1 -1 1 -4 1 -2 1 -2 1 3 1 5 1 -3 1 4 1 -6 1 -1 1 6 1 -6 1 7 1 -4 1 -1 1 -5 1 5 1 2 1 4 1 -2 1 -1 1 -4 1 1 1 -3 1 3 1 1 1 1 1 -1 1 -4 1 -2 1 10 1 -2 1 -4 1 3 1 -4 1 7 1 -10 1 9 1 -5 1 1 1 3 1 -2 1 4 1 0 1 -4 1 1 1 3 1 -6 1 0 1 -1 1 0 1 3 1 5 1 -3 1 0 1 -1 1 -8 1 2 1 4 1 6 1 -7 1 4 1 -7 1 9 1 -4 1 4 1 -4 1 1 1 0 1 -4 1 -2 1 5 1 2 1 1 1 -3 1 -1 1 -8 1 14 1 -3 1 0 1 -4 1 3 1 -5 1 2 1 6 1 -3 1 -2 1 -11 1 14 1 -7 1 0 1 6 1 4 1 1 1 -6 1 -3 1 3 1 1 1 -5 1 5 1 -8 1 9 1 -2 1 -3 1 -1 1 3 1 3 1 -6 1 4 1 -3 1 6 1 -4 1 -1 1 5 1 -9 1 -10 1 8 1 9 1 -9 1 2 1 4 1 5 1 -7 1 0 1 1 1 -2 1 3 1 -9 1 13 1 -6 1 8 1 -17 1 14 1 1 1 -10 1 12 1 0 1 -2 1 -4 1 6 1 -5 1 6 1 -12 1 -1 1 5 1 5 1 1 1 -6 1 4 1 2 1 -3 1 3 1 -5 1 7 1 -7 1 2 1 3 1 -2 1 -2 1 2 1 3 1 -1 1 -1 1 -6 1 3 1 -2 1 5 1 -7 1 5 1 4 1 2 1 -12 1 2 1 6 1 -4 1 -5 1 -4 1 6 1 -8 1 12 1 4 1 0 1 -4 1 2 1 -9 1 7 1 4 1 -1 1 0 1 -1 1 -4 1 5 1 -3 1 -2 1 7 1 -5 1 1 1 -1 1 -10 1 9 1 1 1 1 1 1 1 -7 1 9 1 -2 1 -5 1 10 1 -11 1 -1 1 8 1 -4 1 -2 1 4 1 0 1 -2 1 1 1 4 1 -2 1 3 1 -4 1 -4 1 7 1 -3 1 -2 1 -5 1 4 1 3 1 -3 1 5 1 -5 1 -3 1 5 1 -3 1 2 1 -2 1 -1 1 5 1 4 1 -6 1 2 1 -6 1 1 1 -3 1 9 1 1 1 -2 1 1 1 2 1 -2 1 -2 1 0 1 3 1 -3 1 2 1 1 1 1 1 -8 1 4 1 5 1 -2 1 0 1 -8 1 10 1 -3 1 -2 1 -3 1 0 1 3 1 -2 1 7 1 -8 1 3 1 1 1 -6 1 4 1 -6 1 8 1 -10 1 15 1 -6 1 0 1 -3 1 5 1 -13 1 12 1 4 1 -3 1 -1 1 -5 1 6 1 -2 1 1 1 1 1 -11 1 9 1 -3 1 7 1 -7 1 1 1 6 1 -4 1 -5 1 8 1 2 1 -15 1 15 1 -3 1 1 1 -8 1 11 1 -2 1 -5 1 3 1 1 1 -2 1 -2 1 6 1 -2 1 0 1 -3 1 -2 1 2 1 4 1 0 1 -1 1 -1 1 -2 1 -3 1 2 1 -1 1 5 1 1 1 2 1 -1 1 -4 1 -8 1 3 1 5 1 1 1 1 1 1 1 -4 1 2 1 0 1 1 1 -2 1 -3 1 2 1 -1 1 -8 1 13 1 -5 1 1 1 0 1 3 1 0 1 -2 1 -2 1 -4 1 7 1 -2 1 4 1 -5 1 0 1 4 1 -1 1 2 1 -9 1 4 1 -1 1 4 1 -5 1 4 1 -6 1 1 1 3 1 -2 1 8 1 -7 1 -5 1 13 1 -6 1 2 1 -5 1 2 1 2 1 -4 1 4 1 0 1 1 1 -5 1 2 1 2 1 0 1 -2 1 2 1 -2 1 -8 1 7 1 2 1 0 1 5 1 -13 1 10 1 -10 1 10 1 4 1 -11 1 4 1 6 1 -4 1 -1 1 -5 1 3 1 -1 1 1 1 7 1 1 1 -7 1 -8 1 6 1 -4 1 9 1 0 1 0 1 -1 1 5 1 -2 1 2 1 -4 1 1 1 1 1 -4 1 1 1 2 1 -6 1 7 1 0 1 -9 1 -1 1 4 1 4 1 -4 1 5 1 -5 1 2 1 1 1 -7 1 5 1 -1 1 5 1 2 1 -2 1 2 1 -5 1 3 1 -4 1 7 1 -7 1 5 1 -9 1 6 1 1 1 -1 1 4 1 -4 1 3 1 -3 1 -9 1 9 1 -3 1 4 1 -4 1 2 1 -1 1 3 1 1 1 -7 1 3 1 2 1 -4 1 8 1 -10 1 5 1 -2 1 1 1 -1 1 3 1 2 1 -4 1 0 1 2 1 1 1 -2 1 -5 1 11 1 -10 1 4 1 -8 1 1 1 0 1 10 1 -1 1 1 1 1 1 -3 1 -3 1 7 1 -6 1 -6 1 8 1 -2 1 1 1 3 1 0 1 -6 1 1 1 -3 1 -1 1 10 1 -8 1 4 1 4 1 -3 1 5 1 -2 1 -6 1 6 1 -2 1 -5 1 3 1 -6 1 5 1 -1 1 4 1 -6 1 6 1 1 1 -8 1 8 1 -11 1 8 1 3 1 -3 1 0 1 -3 1 7 1 -4 1 4 1 -4 1 -10 1 -1 1 16 1 -12 1 7 1 1 1 2 1 -1 1 0 1 -20 1 20 1 1 1 -1 1 0 1 3 1 -2 1 -1 1 -3 1 -3 1 2 1 1 1 -1 1 3 1 -1 1 3 1 -1 1 -14 1 9 1 6 1 -1 1 3 1 -14 1 8 1 1 1 -2 1 3 1 -10 1 8 1 2 1 -5 1 10 1 -6 1 -3 1 -4 1 6 1 -5 1 -22 1 32 1 -2 1 -6 1 7 1 -6 1 4 1 -1 1 -2 1 5 1 -1 1 0 1 2 1 -8 1 0 1 6 1 3 1 -9 1 3 1 -3 1 7 1 -6 1 3 1 2 1 -3 1 6 1 -5 1 0 1 2 1 2 1 -5 1 -2 1 -4 1 10 1 -10 1 4 1 2 1 1 1 6 1 -1 1 -8 1 6 1 -5 1 2 1 7 1 -19 1 9 1 -2 1 10 1 -1 1 -9 1 3 1 7 1 -2 1 -5 1 7 1 -3 1 -3 1 -7 1 7 1 -6 1 -6 1 14 1 -2 1 6 1 -7 1 -6 1 0 1 7 1 5 1 -3 1 1 1 -6 1 -3 1 9 1 2 1 -6 1 4 1 1 1 -1 1 2 1 -6 1 1 1 3 1 0 1 -6 1 7 1 -6 1 1 1 4 1 -3 1 5 1 0 1 -6 1 8 1 -4 1 2 1 -2 1 -2 1 -3 1 7 1 -3 1 -4 1 9 1 0 1 -7 1 5 1 0 1 -7 1 4 1 -2 1 3 1 -1 1 -13 1 10 1 -3 1 8 1 0 1 -1 1 -1 1 -1 1 3 1 -1 1 -5 1 7 1 -3 1 0 1 2 1 -7 1 4 1 -17 1 14 1 3 1 5 1 -4 1 -4 1 1 1 5 1 0 1 -4 1 3 1 -5 1 2 1 -6 1 9 1 -8 1 5 1 -2 1 2 1 3 1 -5 1 -1 1 8 1 -9 1 -9 1 6 1 3 1 2 1 8 1 -6 1 1 1 6 1 -12 1 5 1 5 1 -5 1 -2 1 3 1 5 1 -3 1 1 1 -4 1 4 1 -3 1 4 1 -2 1 -14 1 18 1 1 1 -9 1 3 1 -3 1 -3 1 5 1 2 1 1 1 -4 1 -1 1 6 1 -4 1 1 1 -1 1 5 1 -2 1 0 1 0 1 0 1 -10 1 8 1 -2 1 2 1 1 1 2 1 -1 1 -6 1 -1 1 7 1 2 1 -12 1 12 1 0 1 -6 1 3 1 -1 1 2 1 -2 1 3 1 -5 1 0 1 0 1 0 1 5 1 0 1 0 1 -10 1 6 1 2 1 1 1 0 1 -4 1 3 1 -3 1 3 1 -2 1 5 1 -5 1 5 1 -4 1 2 1 0 1 -5 1 1 1 2 1 3 1 1 1 -2 1 -1 1 1 1 -2 1 -3 1 0 1 5 1 -7 1 8 1 -12 1 12 1 -6 1 1 1 -6 1 7 1 -1 1 -3 1 6 1 -6 1 9 1 -3 1 -1 1 3 1 -1 1 -6 1 2 1 1 1 1 1 1 1 -2 1 5 1 -2 1 -3 1 4 1 -3 1 2 1 -5 1 -2 1 1 1 5 1 -9 1 -2 1 8 1 6 1 -6 1 -2 1 7 1 -2 1 -4 1 3 1 2 1 -1 1 -10 1 12 1 -4 1 3 1 -5 1 3 1 -2 1 3 1 -15 1 15 1 0 1 -1 1 0 1 -7 1 8 1 -4 1 8 1 -3 1 -5 1 3 1 -2 1 6 1 -4 1 0 1 2 1 -9 1 -3 1 12 1 -4 1 3 1 -2 1 0 1 2 1 -5 1 7 1 -3 1 0 1 -1 1 7 1 -3 1 -9 1 8 1 -5 1 2 1 7 1 -3 1 -2 1 1 1 -1 1 5 1 -8 1 6 1 -11 1 7 1 2 1 1 1 -1 1 -1 1 2 1 -4 1 -2 1 3 1 -1 1 3 1 3 1 -4 1 1 1 0 1 -3 1 2 1 -1 1 1 1 -4 1 2 1 1 1 -3 1 3 1 -1 1 -12 1 9 1 0 1 4 1 -2 1 1 1 -1 1 6 1 -5 1 4 1 -2 1 -1 1 2 1 4 1 -8 1 -1 1 5 1 -1 1 -7 1 9 1 -6 1 1 1 1 1 -3 1 3 1 0 1 2 1 -2 1 5 1 1 1 -7 1 4 1 -3 1 -2 1 -1 1 -2 1 7 1 0 1 -2 1 3 1 -4 1 6 1 -5 1 -1 1 7 1 -5 1 -1 1 -3 1 4 1 -2 1 0 1 -1 1 4 1 4 1 -10 1 3 1 -2 1 8 1 -4 1 2 1 -3 1 -6 1 5 1 -3 1 5 1 2 1 -5 1 6 1 -3 1 3 1 -10 1 -1 1 9 1 0 1 -1 1 3 1 1 1 -2 1 -2 1 -1 1 3 1 1 1 -8 1 -3 1 9 1 -3 1 4 1 -7 1 -11 1 13 1 0 1 4 1 -3 1 2 1 -6 1 8 1 -16 1 10 1 5 1 -4 1 2 1 -5 1 3 1 2 1 -1 1 4 1 -9 1 9 1 -2 1 -2 1 -2 1 4 1 -8 1 7 1 7 1 -14 1 9 1 -5 1 -3 1 12 1 -11 1 9 1 -3 1 3 1 -3 1 -1 1 2 1 -8 1 0 1 -3 1 11 1 2 1 -4 1 3 1 -2 1 -3 1 5 1 -8 1 3 1 -5 1 5 1 4 1 -9 1 2 1 3 1 3 1 -4 1 7 1 0 1 -6 1 2 1 2 1 -3 1 2 1 -3 1 4 1 -1 1 -2 1 5 1 1 1 -1 1 -2 1 -2 1 4 1 -7 1 1 1 -1 1 4 1 2 1 -9 1 -12 1 3 1 18 1 -2 1 -2 1 5 1 -7 1 8 1 -9 1 9 1 -2 1 1 1 0 1 -6 1 -2 1 7 1 2 1 -5 1 3 1 0 1 -6 1 7 1 -8 1 8 1 -8 1 2 1 0 1 3 1 0 1 6 1 -15 1 9 1 -1 1 2 1 2 1 -2 1 1 1 1 1 -2 1 2 1 -2 1 0 1 -1 1 -6 1 5 1 -3 1 -5 1 10 1 -2 1 4 1 -3 1 -1 1 -2 1 -4 1 10 1 -7 1 3 1 -1 1 -6 1 12 1 -3 1 0 1 -6 1 10 1 -3 1 0 1 -2 1 0 1 3 1 -7 1 5 1 -2 1 0 1 1 1 -7 1 4 1 4 1 1 1 -4 1 5 1 0 1 -6 1 5 1 -1 1 0 1 -2 1 0 1 -2 1 3 1 -9 1 9 1 3 1 -2 1 -3 1 2 1 -1 1 1 1 0 1 -4 1 9 1 -1 1 -6 1 1 1 1 1 -1 1 1 1 2 1 -7 1 4 1 7 1 -7 1 3 1 -2 1 -1 1 2 1 -2 1 4 1 -10 1 3 1 6 1 -7 1 11 1 -5 1 0 1 2 1 -1 1 -5 1 6 1 -3 1 -2 1 5 1 -5 1 2 1 3 1 -1 1 -1 1 1 1 -10 1 6 1 0 1 5 1 0 1 -5 1 3 1 -3 1 5 1 -3 1 -6 1 6 1 -5 1 1 1 5 1 -3 1 3 1 1 1 -1 1 -4 1 9 1 -8 1 -1 1 4 1 -6 1 6 1 2 1 0 1 1 1 -2 1 -3 1 2 1 -2 1 -1 1 1 1 4 1 -6 1 0 1 2 1 1 1 2 1 -5 1 1 1 5 1 -8 1 1 1 -1 1 5 1 -3 1 0 1 7 1 -2 1 -4 1 2 1 2 1 4 1 -15 1 13 1 -19 1 14 1 3 1 -3 1 -6 1 7 1 1 1 -2 1 5 1 -4 1 0 1 -5 1 2 1 -2 1 1 1 8 1 -9 1 9 1 -1 1 -3 1 1 1 -6 1 2 1 0 1 4 1 2 1 -4 1 2 1 2 1 -3 1 4 1 0 1 -5 1 -12 1 16 1 -7 1 5 1 0 1 0 1 -8 1 4 1 -3 1 0 1 3 1 5 1 -2 1 -7 1 5 1 2 1 -2 1 1 1 -3 1 5 1 2 1 -3 1 3 1 -6 1 1 1 0 1 4 1 -10 1 5 1 7 1 3 1 -10 1 6 1 -1 1 2 1 -1 1 -2 1 2 1 -4 1 3 1 0 1 -5 1 6 1 1 1 -6 1 5 1 -1 1 -9 1 4 1 8 1 -10 1 -13 1 21 1 -9 1 6 1 -1 1 0 1 -5 1 7 1 -2 1 3 1 0 1 -1 1 1 1 -1 1 -2 1 2 1 -3 1 3 1 -3 1 3 1 -5 1 6 1 -5 1 4 1 -1 1 3 1 0 1 -8 1 4 1 0 1 -4 1 2 1 4 1 -4 1 6 1 -4 1 5 1 2 1 -11 1 2 1 1 1 4 1 -2 1 -2 1 3 1 0 1 -1 1 -1 1 -3 1 -3 1 10 1 -5 1 5 1 -4 1 -7 1 11 1 -3 1 -4 1 7 1 0 1 -3 1 0 1 -3 1 3 1 2 1 -2 1 -5 1 2 1 1 1 2 1 -12 1 -1 1 17 1 -3 1 -12 1 16 1 -3 1 -3 1 5 1 -1 1 -4 1 6 1 -10 1 4 1 -1 1 0 1 -3 1 -2 1 9 1 -4 1 1 1 -6 1 9 1 -1 1 -7 1 6 1 1 1 -13 1 8 1 4 1 5 1 -3 1 -4 1 2 1 -5 1 9 1 -2 1 -6 1 3 1 -1 1 -4 1 4 1 5 1 -7 1 4 1 2 1 -9 1 1 1 6 1 3 1 1 1 0 1 -4 1 -6 1 7 1 -1 1 -1 1 5 1 1 1 -11 1 4 1 0 1 1 1 -7 1 5 1 0 1 7 1 -2 1 -4 1 -8 1 11 1 -5" stroke="#00bfbf" class="dn"/><path d="M441.2 451.9L441.2 447" stroke="#00bfbf" class="dsn"/>
<path transform="matrix(0.03847 0.01377 0 -0.153 392.04 448.86)" d="M0 16 l1 4 1 1 1 -5 1 0 1 3 1 0 1 -8 1 11 1 -1 1 -5 1 -3 1 6 1 -7 1 9 1 0 1 -2 1 0 1 4 1 -4 1 -4 1 2 1 -1 1 -6 1 8 1 -3 1 4 1 -6 1 -3 1 -5 1 15 1 -1 1 -6 1 4 1 3 1 -4 1 2 1 -7 1 1 1 0 1 4 1 -1 1 -1 1 1 1 1 1 4 1 0 1 1 1 -6 1 3 1 3 1 -7 1 -7 1 -5 1 6 1 9 1 -3 1 1 1 1 1 0 1 -6 1 6 1 -1 1 4 1 -4 1 2 1 -5 1 7 1 -5 1 4 1 -7 1 3 1 4 1 -2 1 -4 1 5 1 -2 1 -3 1 2 1 -2 1 3 1 -1 1 2 1 -1 1 1 1 1 1 -2 1 0 1 0 1 -8 1 5 1 -5 1 13 1 -5 1 -3 1 4 1 0 1 -3 1 -1 1 1 1 3 1 2 1 0 1 -1 1 -1 1 2 1 -9 1 7 1 -3 1 4 1 -7 1 10 1 -5 1 -6 1 9 1 0 1 -2 1 6 1 -1 1 -7 1 -10 1 8 1 6 1 -1 1 -3 1 1 1 -1 1 -1 1 6 1 -9 1 2 1 8 1 -8 1 -5 1 11 1 -8 1 6 1 -2 1 -1 1 5 1 -6 1 -6 1 10 1 -2 1 6 1 -8 1 4 1 -2 1 3 1 3 1 -6 1 3 1 3 1 -2 1 -5 1 4 1 0 1 0 1 -1 1 1 1 -6 1 -7 1 6 1 0 1 6 1 -5 1 7 1 -7 1 4 1 -1 1 3 1 -5 1 3 1 0 1 -5 1 7 1 3 1 -7 1 4 1 -3 1 -2 1 -4 1 6 1 4 1 -1 1 -4 1 0 1 -14 1 17 1 0 1 3 1 -2 1 -19 1 15 1 2 1 0 1 -4 1 1 1 7 1 -4 1 -1 1 1 1 7 1 -7 1 3 1 -2 1 -1 1 -3 1 1 1 -4 1 9 1 3 1 -4 1 -1 1 -2 1 0 1 2 1 -2 1 6 1 -7 1 -3 1 7 1 0 1 -6 1 -5 1 9 1 -2 1 5 1 -2 1 -5 1 4 1 2 1 -3 1 3 1 0 1 -15 1 13 1 3 1 -12 1 6 1 4 1 2 1 -2 1 0 1 2 1 1 1 -8 1 5 1 -6 1 -6 1 12 1 2 1 -6 1 6 1 -3 1 -1 1 -1 1 0 1 2 1 1 1 -1 1 1 1 -6 1 4 1 2 1 -2 1 5 1 -4 1 -14 1 16 1 -6 1 5 1 0 1 -1 1 4 1 -4 1 1 1 -5 1 0 1 7 1 -9 1 5 1 -2 1 -5 1 10 1 -1 1 -5 1 5 1 -2 1 2 1 2 1 -1 1 -1 1 -3 1 -1 1 3 1 -4 1 5 1 -6 1 4 1 1 1 -1 1 2 1 2 1 0 1 -3 1 -11 1 12 1 -4 1 3 1 -6 1 2 1 10 1 -8 1 4 1 -3 1 0 1 6 1 -2 1 -3 1 -4 1 -2 1 3 1 5 1 -10 1 7 1 3 1 -4 1 -1 1 0 1 -7 1 10 1 -9 1 10 1 -5 1 0 1 -4 1 6 1 -2 1 4 1 0 1 2 1 -8 1 -5 1 12 1 -2 1 -1 1 4 1 2 1 -4 1 -1 1 -9 1 9 1 -1 1 0 1 5 1 -12 1 11 1 -11 1 13 1 -3 1 -6 1 5 1 -3 1 6 1 -5 1 -3 1 4 1 -4 1 1 1 2 1 -1 1 4 1 -1 1 2 1 -3 1 1 1 1 1 0 1 -7 1 8 1 -5 1 5 1 1 1 -6 1 4 1 1 1 1 1 -7 1 3 1 1 1 -1 1 5 1 -5 1 2 1 -7 1 4 1 3 1 0 1 3 1 -1 1 1 1 -2 1 -5 1 3 1 -8 1 -4 1 11 1 2 1 -1 1 1 1 -9 1 5 1 -3 1 0 1 4 1 4 1 -3 1 0 1 3 1 -7 1 3 1 3 1 -6 1 5 1 0 1 -2 1 3 1 -2 1 -2 1 -7 1 8 1 4 1 -1 1 -5 1 -2 1 1 1 -6 1 15 1 -7 1 5 1 0 1 -9 1 9 1 -1 1 3 1 -5 1 -6 1 4 1 4 1 -7 1 5 1 -5 1 3 1 7 1 -5 1 -4 1 2 1 -5 1 10 1 1 1 -4 1 0 1 -7 1 4 1 2 1 -2 1 4 1 -1 1 4 1 0 1 -3 1 -6 1 7 1 -4 1 2 1 -26 1 26 1 0 1 2 1 0 1 -3 1 4 1 -7 1 8 1 -5 1 1 1 0 1 0 1 -2 1 8 1 -18 1 1 1 5 1 4 1 7 1 -10 1 1 1 3 1 -4 1 1 1 5 1 -4 1 3 1 0 1 1 1 -3 1 -1 1 6 1 -2 1 -4 1 -1 1 5 1 -5 1 -11 1 11 1 2 1 1 1 -2 1 -3 1 8 1 -6 1 6 1 1 1 0 1 -5 1 4 1 0 1 -1 1 0 1 -3 1 3 1 -2 1 1 1 -8 1 7 1 -9 1 11 1 1 1 -2 1 3 1 -9 1 7 1 1 1 1 1 0 1 -2 1 1 1 0 1 -11 1 10 1 3 1 -7 1 -5 1 7 1 -2 1 4 1 -3 1 4 1 -1 1 -11 1 9 1 1 1 2 1 3 1 -1 1 -2 1 -5 1 7 1 -7 1 3 1 1 1 -2 1 2 1 -2 1 2 1 -6 1 -1 1 4 1 -3 1 5 1 1 1 -4 1 5 1 -7 1 6 1 -7 1 3 1 2 1 2 1 -3 1 4 1 -5 1 -2 1 4 1 6 1 -8 1 4 1 -10 1 8 1 -15 1 13 1 4 1 -2 1 2 1 -1 1 1 1 -2 1 -3 1 5 1 -4 1 2 1 4 1 -5 1 3 1 0 1 -4 1 -4 1 8 1 1 1 -6 1 6 1 -2 1 5 1 -6 1 -2 1 -7 1 7 1 6 1 -4 1 -4 1 7 1 0 1 -2 1 -1 1 3 1 -6 1 8 1 -2 1 0 1 -7 1 6 1 -3 1 -1 1 6 1 -5 1 -2 1 4 1 -6 1 6 1 0 1 -1 1 -9 1 9 1 0 1 2 1 -1 1 2 1 4 1 -3 1 -9 1 4 1 2 1 2 1 -4 1 5 1 -1 1 -4 1 1 1 1 1 5 1 -6 1 2 1 -2 1 4 1 -1 1 -4 1 6 1 -10 1 3 1 1 1 1 1 -5 1 8 1 -2 1 -6 1 5 1 4 1 0 1 0 1 -11 1 10 1 -3 1 -3 1 6 1 -6 1 2 1 -6 1 4 1 0 1 8 1 -6 1 2 1 -1 1 2 1 1 1 -4 1 6 1 -5 1 -1 1 1 1 -5 1 3 1 2 1 -3 1 9 1 -5 1 2 1 -2 1 1 1 4 1 -2 1 -1 1 -3 1 3 1 -7 1 5 1 2 1 0 1 -4 1 4 1 -3 1 -1 1 1 1 4 1 -5 1 2 1 0 1 3 1 2 1 -7 1 5 1 0 1 -2 1 -3 1 2 1 -17 1 17 1 1 1 -3 1 -4 1 4 1 5 1 -3 1 -7 1 12 1 -4 1 -2 1 -1 1 7 1 -13 1 4 1 6 1 -13 1 8 1 6 1 -9 1 6 1 0 1 -4 1 5 1 1 1 5 1 -8 1 -3 1 1 1 0 1 0 1 5 1 -3 1 1 1 1 1 -1 1 -5 1 4 1 -1 1 -3 1 2 1 6 1 -4 1 2 1 -2 1 -1 1 -11 1 13 1 -8 1 11 1 -2 1 -3 1 3 1 -12 1 13 1 -1 1 -12 1 14 1 -3 1 1 1 1 1 -2 1 -2 1 4 1 2 1 -2 1 -10 1 12 1 -5 1 -1 1 -5 1 0 1 7 1 -3 1 3 1 -1 1 -10 1 8 1 6 1 -3 1 -1 1 -2 1 7 1 -4 1 -6 1 8 1 2 1 -1 1 -2 1 0 1 3 1 -16 1 15 1 1 1 -6 1 1 1 3 1 -7 1 7 1 -1 1 -4 1 -4 1 4 1 -9 1 7 1 3 1 -8 1 10 1 2 1 -4 1 -3 1 9 1 -4 1 -2 1 -1 1 6 1 -4 1 6 1 -4 1 -2 1 2 1 -8 1 7 1 -7 1 8 1 -10 1 13 1 -3 1 -1 1 1 1 0 1 -2 1 1 1 -12 1 -10 1 20 1 3 1 -5 1 3 1 -15 1 13 1 0 1 6 1 -2 1 -3 1 -6 1 10 1 -3 1 -3 1 4 1 -3 1 6 1 -5 1 3 1 3 1 -8 1 8 1 -6 1 3 1 2 1 0 1 -8 1 7 1 0 1 -2 1 2 1 -4 1 -6 1 10 1 -5 1 5 1 -13 1 12 1 1 1 -5 1 4 1 1 1 -4 1 4 1 1 1 -3 1 5 1 -7 1 3 1 1 1 -2 1 -5 1 10 1 -5 1 4 1 -6 1 2 1 -2 1 2 1 4 1 -8 1 3 1 -4 1 2 1 -4 1 8 1 -5 1 0 1 6 1 -1 1 -3 1 6 1 1 1 -9 1 -9 1 12 1 -7 1 10 1 -2 1 4 1 -6 1 5 1 1 1 -6 1 5 1 -6 1 2 1 -10 1 14 1 -4 1 4 1 -7 1 2 1 0 1 5 1 -2 1 3 1 -11 1 2 1 3 1 -1 1 4 1 1 1 -3 1 -1 1 4 1 -4 1 -14 1 11 1 4 1 0 1 3 1 -6 1 4 1 1 1 2 1 -2 1 -5 1 7 1 -8 1 7 1 -4 1 -1 1 -5 1 6 1 1 1 1 1 -5 1 6 1 2 1 -2 1 -2 1 3 1 -1 1 1 1 -1 1 2 1 0 1 -3 1 -4 1 9 1 -14 1 8 1 -8 1 13 1 -2 1 -13 1 9 1 -2 1 1 1 4 1 -1 1 2 1 -7 1 3 1 3 1 2 1 -4 1 4 1 2 1 -11 1 5 1 -4 1 2 1 3 1 2 1 -3 1 -1 1 3 1 -6 1 8 1 -6 1 7 1 -6 1 3 1 -2 1 2 1 -1 1 -3 1 1 1 -3 1 -3 1 13 1 -7 1 -6 1 3 1 -1 1 7 1 -5 1 4 1 2 1 -6 1 5 1 -9 1 0 1 7 1 2 1 -6 1 4 1 4 1 -5 1 2 1 -3 1 7 1 -2 1 0 1 0 1 -1 1 -5 1 7 1 -7 1 5 1 0 1 -6 1 4 1 4 1 -2 1 -5 1 2 1 2 1 -3 1 0 1 1 1 0 1 8 1 -14 1 5 1 3 1 0 1 1 1 -7 1 10 1 -7 1 -1 1 4 1 -10 1 3 1 -9 1 13 1 2 1 -3 1 -4 1 8 1 2 1 -1 1 -11 1 10 1 2 1 -9 1 7 1 -20 1 17 1 3 1 -1 1 4 1 2 1 -10 1 -10 1 18 1 -8 1 8 1 -2 1 -8 1 8 1 -1 1 1 1 5 1 -11 1 7 1 -2 1 -1 1 0 1 6 1 -4 1 -5 1 8 1 -6 1 -2 1 1 1 5 1 -7 1 6 1 0 1 -2 1 -8 1 5 1 4 1 -5 1 3 1 4 1 -2 1 -3 1 0 1 -1 1 -4 1 14 1 -9 1 7 1 -2 1 -3 1 3 1 -4 1 4 1 1 1 -2 1 -5 1 4 1 2 1 -4 1 3 1 0 1 -9 1 3 1 8 1 -2 1 -2 1 -2 1 -2 1 6 1 -15 1 13 1 0 1 -3 1 -2 1 8 1 -6 1 -8 1 8 1 7 1 -5 1 3 1 -4 1 3 1 -7 1 8 1 -1 1 -2 1 1 1 4 1 -5 1 2 1 0 1 2 1 -3 1 1 1 3 1 -10 1 2 1 7 1 -2 1 -4 1 5 1 2 1 -6 1 4 1 1 1 -2 1 -2 1 5 1 -7 1 -2 1 6 1 -5 1 5 1 -9 1 8 1 0 1 1 1 -1 1 1 1 -1 1 4 1 -11 1 7 1 0 1 0 1 -8 1 8 1 -3 1 1 1 0 1 -5 1 11 1 1 1 -12 1 11 1 -10 1 10 1 0 1 -8 1 1 1 5 1 1 1 -3 1 3 1 -3 1 0 1 -4 1 5 1 -4 1 6 1 -3 1 1 1 2 1 -4 1 4 1 -4 1 -3 1 7 1 0 1 -14 1 12 1 0 1 -1 1 1 1 -1 1 -1 1 3 1 -5 1 8 1 -8 1 -7 1 12 1 0 1 -6 1 7 1 -7 1 5 1 2 1 0 1 -2 1 3 1 -2 1 2 1 -7 1 7 1 -2 1 0 1 4 1 -7 1 3 1 -2 1 5 1 -9 1 4 1 -1 1 1 1 2 1 -6 1 2 1 3 1 -7 1 2 1 1 1 5 1 1 1 1 1 -5 1 5 1 -1 1 -3 1 -1 1 0 1 -4 1 6 1 -2 1 2 1 -1 1 0 1 0 1 -6 1 2 1 10 1 -4 1 -3 1 3 1 -5 1 -3 1 -11 1 9 1 10 1 2 1 0 1 -6 1 4 1 -3 1 0 1 -3 1 -2 1 8 1 -4 1 6 1 1 1 -4 1 -1 1 4 1 -8 1 1 1 8 1 -1 1 -4 1 5 1 0 1 -5 1 -9 1 5 1 0 1 5 1 3 1 -1 1 -4 1 6 1 -2 1 -1 1 -8 1 13 1 -5 1 -10 1 3 1 6 1 -4 1 5 1 2 1 -10 1 10 1 -3 1 1 1 -4 1 3 1 -8 1 11 1 -3 1 -1 1 2 1 3 1 -9 1 4 1 0 1 -6 1 13 1 -1 1 -3 1 2 1 -6 1 -2 1 6 1 -3 1 -1 1 6 1 0 1 -8 1 1 1 7 1 -6 1 1 1 -1 1 0 1 -3 1 4 1 1 1 1 1 3 1 -11 1 2 1 7 1 2 1 1 1 -6 1 -3 1 -3 1 9 1 -8 1 7 1 2 1 -7 1 8 1 -1 1 -7 1 4 1 -7 1 10 1 -4 1 4 1 -4 1 -7 1 5 1 7 1 -1 1 -1 1 -9 1 8 1 -3 1 3 1 -2 1 4 1 -7 1 7 1 0 1 -5 1 -1 1 5 1 -6 1 2 1 4 1 -3 1 2 1 -6 1 6 1 1 1 -2 1 -1 1 2 1 -6 1 4 1 2 1 -1 1 0 1 -1 1 -2 1 3 1 -3 1 -7 1 6 1 8 1 -10 1 4 1 2 1 3 1 -1 1 -2 1 0 1 2 1 -6 1 1 1 4 1 1 1 -8 1 6 1 5 1 -9 1 9 1 0 1 -9 1 4 1 3 1 -11 1 6 1 -5 1 8 1 2 1 2 1 -5 1 -4 1 -5 1 12 1 -2 1 -1 1 3 1 -10 1 -1 1 4 1 2 1 2 1 -9 1 13 1 -3 1 0 1 0 1 1 1 1 1 -1 1 -6 1 0 1 5 1 1 1 -3 1 -3 1 4 1 -4 1 6 1 -6 1 4 1 -8 1 -11 1 20 1 -7 1 6 1 -2 1 2 1 -1 1 -7 1 9 1 1 1 -4 1 6 1 -10 1 4 1 1 1 5 1 0 1 -6 1 -10 1 7 1 1 1 -4 1 5 1 1 1 2 1 6 1 -4 1 -7 1 -6 1 9 1 1 1 2 1 -3 1 1 1 0 1 -4 1 0 1 4 1 -2 1 9 1 -6 1 -3 1 8 1 -2 1 -11 1 9 1 -7 1 2 1 7 1 -5 1 6 1 0 1 -4 1 3 1 -6 1 -2 1 0 1 9 1 -7 1 0 1 5 1 -6 1 7 1 -8 1 5 1 -1 1 -13 1 8 1 8 1 -7 1 0 1 4 1 2 1 -5 1 4 1 4 1 -4 1 -1 1 3 1 -6 1 3 1 5 1 -4 1 -1 1 3 1 0 1 0 1 1 1 -6 1 -1 1 5 1 -2 1 0 1 0 1 -2 1 -1 1 2 1 1 1 -1 1 5 1 -5 1 2 1 3 1 -3 1 3 1 -12 1 5 1 1 1 0 1 2 1 2 1 0 1 2 1 -1 1 -1 1 0 1 3 1 -13 1 13 1 -6 1 4 1 3 1 -11 1 0 1 13 1 -5 1 -9 1 8 1 -2 1 -5 1 2 1 7 1 -1 1 1 1 0 1 -4 1 -4 1 6 1 0 1 -5 1 6 1 -1 1 3 1 -11 1 10 1 -4 1 -2 1 3 1 2 1 -8 1 -1 1 6 1 -3 1 3 1 -3 1 -1 1 3 1 6 1 -9 1 2 1 -4 1 0 1 8 1 -3 1 -1 1 0 1 -5 1 5 1 0 1 3 1 -2 1 1 1 -11 1 17 1 -8 1 4 1 -1 1 -1 1 3 1 -6 1 6 1 0 1 -7 1 6 1 -6 1 5 1 4 1 -3 1 -23 1 18 1 9 1 -3 1 -2 1 2 1 -9 1 4 1 4 1 -3 1 -4 1 9 1 -4 1 -7 1 6 1 -13 1 18 1 -11 1 11 1 -4 1 2 1 1 1 -8 1 6 1 -2 1 5 1 -2 1 -4 1 7 1 -7 1 6 1 -3 1 1 1 -1 1 -1 1 4 1 -1 1 -2 1 3 1 -14 1 0 1 12 1 3 1 -4 1 -4 1 0 1 5" stroke="#ff0000" class="dn"/><path d="M426.6 459.3L426.6 454.4" stroke="#ff0000" class="dsn"/>
<path transform="matrix(0.03869 0.01382 0 -0.153 377.32 456.13)" d="M0 19 l1 -5 1 6 1 -6 1 4 1 1 1 0 1 -4 1 4 1 0 1 -1 1 -1 1 1 1 2 1 -7 1 -2 1 6 1 5 1 -10 1 9 1 -8 1 7 1 -5 1 -3 1 8 1 -7 1 -1 1 4 1 2 1 2 1 0 1 -7 1 5 1 -5 1 0 1 7 1 -2 1 -7 1 0 1 8 1 -2 1 2 1 0 1 -3 1 -4 1 1 1 8 1 1 1 -16 1 12 1 -5 1 7 1 0 1 -1 1 -5 1 3 1 0 1 0 1 1 1 0 1 -1 1 -14 1 10 1 1 1 -1 1 1 1 3 1 -6 1 11 1 -6 1 0 1 4 1 1 1 -1 1 -10 1 -3 1 8 1 -4 1 -6 1 12 1 -2 1 0 1 -6 1 9 1 -11 1 3 1 3 1 -3 1 4 1 2 1 1 1 3 1 -6 1 5 1 1 1 -3 1 -13 1 13 1 1 1 -2 1 1 1 -4 1 7 1 2 1 -7 1 -4 1 -5 1 14 1 -11 1 9 1 0 1 1 1 -6 1 3 1 1 1 0 1 0 1 -1 1 4 1 -4 1 -2 1 -12 1 9 1 7 1 5 1 -6 1 0 1 -2 1 -1 1 1 1 3 1 1 1 -8 1 5 1 6 1 -1 1 -9 1 8 1 -2 1 5 1 -7 1 -5 1 13 1 -7 1 3 1 3 1 -9 1 6 1 0 1 -4 1 2 1 5 1 -1 1 2 1 -1 1 3 1 -3 1 -10 1 12 1 -4 1 -1 1 -1 1 8 1 -7 1 2 1 4 1 -14 1 10 1 5 1 -5 1 -3 1 2 1 0 1 -4 1 8 1 -2 1 -3 1 -5 1 8 1 -8 1 0 1 1 1 3 1 0 1 -1 1 -2 1 6 1 2 1 -3 1 -3 1 -2 1 2 1 3 1 -8 1 4 1 -3 1 4 1 -6 1 6 1 3 1 -2 1 -4 1 -3 1 3 1 2 1 0 1 -11 1 12 1 4 1 -1 1 -1 1 -11 1 7 1 -17 1 5 1 5 1 3 1 2 1 1 1 -7 1 6 1 -2 1 -5 1 -1 1 4 1 0 1 4 1 2 1 -6 1 8 1 -7 1 10 1 -6 1 -2 1 1 1 -2 1 0 1 4 1 -6 1 6 1 -1 1 2 1 -4 1 5 1 -1 1 1 1 -7 1 3 1 0 1 1 1 -1 1 2 1 -6 1 6 1 -9 1 3 1 5 1 1 1 -3 1 5 1 -8 1 4 1 -1 1 -2 1 4 1 -2 1 4 1 -3 1 3 1 -4 1 7 1 -6 1 2 1 -12 1 11 1 -2 1 7 1 -9 1 2 1 6 1 -6 1 -2 1 5 1 -2 1 0 1 -2 1 5 1 0 1 -1 1 3 1 -13 1 9 1 2 1 0 1 0 1 -1 1 0 1 -3 1 3 1 -3 1 1 1 -7 1 5 1 2 1 0 1 3 1 -3 1 3 1 -13 1 13 1 -2 1 1 1 -4 1 6 1 -8 1 -2 1 9 1 1 1 -2 1 -4 1 3 1 1 1 -2 1 1 1 5 1 -6 1 -3 1 4 1 -3 1 3 1 3 1 -16 1 17 1 -2 1 -1 1 -8 1 7 1 5 1 0 1 -20 1 17 1 -5 1 -2 1 1 1 3 1 -1 1 6 1 -5 1 1 1 -8 1 2 1 5 1 2 1 -1 1 -1 1 2 1 1 1 -6 1 2 1 -1 1 1 1 -4 1 1 1 5 1 -1 1 4 1 0 1 -6 1 -3 1 4 1 -4 1 2 1 3 1 -5 1 9 1 0 1 0 1 -2 1 -2 1 0 1 3 1 -5 1 3 1 2 1 -1 1 -2 1 0 1 3 1 -2 1 -5 1 7 1 -1 1 -3 1 1 1 0 1 -1 1 4 1 -2 1 -13 1 10 1 3 1 1 1 0 1 0 1 0 1 1 1 -1 1 -5 1 5 1 -2 1 -3 1 5 1 -6 1 5 1 -4 1 -5 1 5 1 4 1 -8 1 8 1 2 1 -5 1 3 1 -1 1 2 1 -1 1 3 1 -2 1 0 1 1 1 -1 1 -4 1 3 1 3 1 -3 1 -3 1 0 1 4 1 -8 1 -4 1 8 1 -3 1 6 1 -6 1 -2 1 6 1 3 1 -2 1 0 1 4 1 -4 1 1 1 -3 1 3 1 5 1 -4 1 -4 1 0 1 -3 1 5 1 -1 1 0 1 0 1 -6 1 6 1 -6 1 10 1 -7 1 5 1 1 1 -2 1 -2 1 5 1 1 1 -9 1 8 1 -3 1 1 1 1 1 -2 1 -3 1 0 1 1 1 4 1 -1 1 -9 1 8 1 1 1 -1 1 0 1 -2 1 2 1 1 1 -3 1 2 1 1 1 0 1 -6 1 -1 1 4 1 -4 1 5 1 -3 1 1 1 10 1 -4 1 0 1 -4 1 1 1 3 1 -6 1 1 1 6 1 -4 1 -1 1 4 1 -5 1 3 1 -1 1 3 1 2 1 -3 1 -3 1 -1 1 4 1 1 1 -5 1 4 1 1 1 -11 1 13 1 -3 1 -7 1 6 1 -1 1 -2 1 5 1 1 1 -3 1 -6 1 8 1 -11 1 11 1 1 1 -6 1 -2 1 1 1 1 1 -7 1 4 1 7 1 -3 1 3 1 0 1 0 1 -5 1 -8 1 11 1 -14 1 18 1 -6 1 0 1 0 1 0 1 0 1 2 1 -2 1 5 1 -3 1 -1 1 0 1 2 1 -7 1 12 1 -10 1 0 1 8 1 0 1 -1 1 -2 1 -1 1 -6 1 3 1 -1 1 7 1 -6 1 1 1 -1 1 1 1 5 1 -3 1 0 1 -3 1 6 1 -1 1 -3 1 1 1 -1 1 1 1 -2 1 -2 1 5 1 -2 1 -4 1 1 1 3 1 -3 1 1 1 2 1 2 1 -1 1 1 1 1 1 -5 1 2 1 1 1 1 1 -7 1 5 1 3 1 -4 1 2 1 2 1 -5 1 -8 1 15 1 -7 1 4 1 -2 1 -1 1 0 1 -11 1 7 1 13 1 -9 1 -6 1 2 1 3 1 -4 1 3 1 2 1 2 1 -2 1 2 1 0 1 7 1 -10 1 3 1 0 1 3 1 -7 1 4 1 0 1 2 1 -1 1 3 1 -5 1 3 1 -1 1 6 1 -4 1 -3 1 1 1 -6 1 1 1 0 1 -2 1 6 1 5 1 -8 1 0 1 4 1 -4 1 0 1 -4 1 -1 1 -1 1 12 1 -10 1 9 1 -2 1 2 1 2 1 -2 1 -3 1 5 1 -4 1 -1 1 -1 1 4 1 -12 1 12 1 -3 1 -2 1 3 1 -7 1 6 1 -2 1 3 1 -1 1 0 1 -5 1 6 1 -3 1 5 1 -1 1 0 1 -14 1 13 1 -2 1 3 1 6 1 -9 1 -1 1 5 1 -1 1 1 1 1 1 -14 1 10 1 2 1 0 1 1 1 -6 1 5 1 0 1 -1 1 2 1 -1 1 -3 1 3 1 2 1 1 1 -4 1 2 1 1 1 -12 1 7 1 5 1 -10 1 8 1 -10 1 9 1 -2 1 7 1 -4 1 -8 1 7 1 -3 1 8 1 -8 1 -1 1 -7 1 11 1 2 1 -1 1 -8 1 -2 1 7 1 3 1 -4 1 6 1 -6 1 5 1 -5 1 -3 1 6 1 -9 1 0 1 11 1 -1 1 2 1 -10 1 5 1 4 1 -17 1 12 1 7 1 -11 1 5 1 -1 1 7 1 -3 1 -2 1 2 1 0 1 -3 1 5 1 -4 1 3 1 -7 1 2 1 6 1 -7 1 2 1 4 1 1 1 -1 1 -1 1 -1 1 1 1 -9 1 11 1 -8 1 2 1 6 1 2 1 -7 1 -1 1 4 1 -4 1 5 1 -5 1 -2 1 -1 1 5 1 3 1 0 1 -4 1 -1 1 7 1 -4 1 2 1 -1 1 3 1 -2 1 -1 1 -2 1 3 1 -5 1 6 1 -4 1 -8 1 4 1 2 1 1 1 3 1 -4 1 2 1 2 1 2 1 -6 1 -7 1 10 1 -1 1 0 1 -8 1 9 1 -1 1 -1 1 4 1 -8 1 8 1 1 1 -1 1 0 1 -2 1 -2 1 5 1 0 1 3 1 -5 1 -2 1 -2 1 2 1 0 1 2 1 -5 1 -2 1 1 1 4 1 0 1 3 1 1 1 -1 1 -8 1 -1 1 6 1 -13 1 12 1 -4 1 0 1 9 1 -3 1 0 1 -4 1 4 1 5 1 -15 1 8 1 2 1 4 1 -6 1 -3 1 2 1 3 1 -10 1 13 1 -5 1 -1 1 6 1 -8 1 0 1 7 1 -5 1 4 1 3 1 -10 1 -1 1 10 1 -9 1 3 1 -2 1 6 1 -5 1 5 1 -3 1 4 1 -2 1 0 1 -7 1 4 1 6 1 -1 1 -1 1 3 1 -1 1 -7 1 6 1 4 1 -5 1 0 1 -6 1 3 1 -2 1 6 1 -7 1 6 1 0 1 -3 1 4 1 1 1 -6 1 6 1 -2 1 -3 1 -2 1 3 1 3 1 -2 1 -8 1 12 1 -7 1 2 1 3 1 -6 1 6 1 -3 1 2 1 0 1 -7 1 2 1 6 1 -3 1 -2 1 4 1 -4 1 2 1 4 1 -1 1 -3 1 2 1 0 1 -17 1 16 1 -2 1 2 1 -4 1 6 1 -11 1 3 1 8 1 -3 1 4 1 -2 1 -6 1 1 1 7 1 1 1 -9 1 6 1 0 1 1 1 -4 1 -18 1 20 1 -6 1 8 1 0 1 -2 1 2 1 -19 1 15 1 -2 1 -4 1 3 1 6 1 0 1 -1 1 0 1 -13 1 17 1 -10 1 1 1 8 1 -10 1 -3 1 12 1 -3 1 -2 1 6 1 -2 1 3 1 -3 1 1 1 -7 1 3 1 2 1 5 1 -8 1 0 1 0 1 6 1 -4 1 3 1 2 1 -14 1 4 1 10 1 -4 1 1 1 0 1 1 1 0 1 -3 1 -2 1 3 1 -5 1 2 1 2 1 3 1 0 1 -6 1 5 1 0 1 0 1 -1 1 -2 1 3 1 0 1 2 1 -7 1 5 1 0 1 0 1 5 1 -11 1 0 1 9 1 -2 1 2 1 -12 1 10 1 -2 1 -7 1 5 1 -4 1 -4 1 11 1 -4 1 7 1 -6 1 3 1 -8 1 4 1 3 1 3 1 -1 1 1 1 -5 1 2 1 2 1 0 1 -7 1 8 1 -2 1 1 1 0 1 -2 1 -2 1 3 1 -4 1 0 1 5 1 -3 1 5 1 -5 1 1 1 0 1 -1 1 4 1 -13 1 13 1 -6 1 2 1 1 1 3 1 -1 1 0 1 -6 1 6 1 -9 1 9 1 -3 1 0 1 -3 1 -1 1 5 1 0 1 -1 1 -2 1 2 1 3 1 2 1 -2 1 -2 1 -10 1 10 1 0 1 1 1 -7 1 8 1 -2 1 3 1 -5 1 3 1 1 1 2 1 -4 1 3 1 -10 1 9 1 0 1 -10 1 11 1 0 1 -9 1 4 1 2 1 -4 1 3 1 4 1 -1 1 5 1 -13 1 6 1 -3 1 2 1 -2 1 -2 1 0 1 1 1 2 1 1 1 2 1 0 1 1 1 -2 1 2 1 3 1 -15 1 0 1 9 1 1 1 4 1 -3 1 3 1 -7 1 -1 1 6 1 4 1 -3 1 -3 1 3 1 -17 1 5 1 8 1 -9 1 7 1 2 1 -6 1 5 1 -3 1 9 1 -1 1 -11 1 6 1 3 1 2 1 -3 1 -3 1 5 1 -2 1 0 1 -2 1 -2 1 3 1 0 1 -2 1 3 1 -1 1 -5 1 7 1 1 1 0 1 -6 1 7 1 -4 1 1 1 -1 1 -3 1 4 1 -1 1 -9 1 13 1 -8 1 6 1 -3 1 2 1 2 1 -6 1 10 1 -2 1 -9 1 4 1 -2 1 -1 1 3 1 -2 1 7 1 -9 1 0 1 6 1 3 1 -8 1 1 1 0 1 6 1 -4 1 0 1 3 1 -3 1 1 1 5 1 -8 1 0 1 5 1 2 1 -4 1 0 1 2 1 -15 1 13 1 -5 1 4 1 -6 1 0 1 -2 1 6 1 -1 1 3 1 1 1 -3 1 -2 1 -7 1 10 1 0 1 7 1 -4 1 2 1 1 1 -4 1 1 1 -9 1 10 1 -1 1 -7 1 12 1 -4 1 -1 1 -1 1 -5 1 4 1 -1 1 3 1 -3 1 3 1 2 1 -12 1 7 1 2 1 -1 1 -1 1 3 1 0 1 -7 1 0 1 4 1 -1 1 4 1 3 1 -10 1 5 1 1 1 4 1 -8 1 8 1 -2 1 -7 1 1 1 6 1 -3 1 0 1 2 1 -2 1 0 1 -3 1 7 1 -1 1 -3 1 -3 1 2 1 5 1 -6 1 7 1 -6 1 0 1 -5 1 10 1 -7 1 -2 1 2 1 6 1 -2 1 3 1 -12 1 10 1 2 1 -10 1 9 1 -6 1 8 1 -10 1 8 1 -5 1 -9 1 6 1 3 1 -8 1 12 1 -2 1 3 1 -2 1 -4 1 6 1 -3 1 4 1 -1 1 -5 1 -1 1 4 1 2 1 0 1 1 1 2 1 -2 1 -5 1 0 1 3 1 -1 1 0 1 -9 1 12 1 -3 1 -5 1 -2 1 8 1 -1 1 4 1 -15 1 6 1 6 1 -4 1 3 1 1 1 -6 1 -2 1 4 1 4 1 0 1 -6 1 4 1 1 1 -2 1 -7 1 11 1 -2 1 -5 1 8 1 -1 1 -9 1 5 1 3 1 0 1 -9 1 7 1 3 1 -13 1 5 1 9 1 -4 1 -1 1 1 1 -1 1 0 1 4 1 0 1 2 1 1 1 -5 1 3 1 -4 1 -2 1 -9 1 15 1 -14 1 13 1 1 1 -2 1 -2 1 2 1 0 1 1 1 0 1 1 1 1 1 -3 1 4 1 -10 1 3 1 -4 1 1 1 6 1 2 1 -5 1 6 1 -5 1 -2 1 5 1 -2 1 3 1 0 1 -8 1 -3 1 8 1 -5 1 4 1 -3 1 4 1 -2 1 4 1 1 1 -10 1 -1 1 6 1 -4 1 2 1 5 1 -4 1 7 1 -9 1 4 1 -4 1 -3 1 7 1 1 1 2 1 -2 1 0 1 3 1 -4 1 1 1 3 1 -2 1 -1 1 2 1 -4 1 2 1 -2 1 1 1 -1 1 5 1 -5 1 6 1 -3 1 0 1 1 1 -9 1 1 1 0 1 4 1 -6 1 8 1 -1 1 -5 1 4 1 0 1 1 1 1 1 -8 1 11 1 -2 1 3 1 -9 1 -2 1 6 1 0 1 3 1 2 1 -8 1 4 1 5 1 -5 1 0 1 -1 1 1 1 1 1 1 1 1 1 -6 1 -3 1 3 1 -1 1 -2 1 3 1 1 1 0 1 -1 1 4 1 2 1 -17 1 16 1 -1 1 -3 1 4 1 4 1 -2 1 -3 1 0 1 3 1 -10 1 12 1 -3 1 0 1 -9 1 8 1 -2 1 4 1 -2 1 -2 1 -7 1 10 1 -8 1 7 1 5 1 -13 1 12 1 -5 1 6 1 -5 1 -2 1 3 1 -7 1 9 1 -2 1 -2 1 -5 1 13 1 -3 1 -1 1 -4 1 3 1 1 1 6 1 -3 1 1 1 -8 1 5 1 1 1 3 1 3 1 -3 1 2 1 3 1 -4 1 -1 1 -2 1 2 1 -10 1 7 1 1 1 -3 1 -6 1 5 1 -8 1 12 1 -12 1 7 1 2 1 4 1 -6 1 3 1 -3 1 1 1 -1 1 3 1 3 1 -9 1 2 1 4 1 -5 1 6 1 -7 1 6 1 1 1 -2 1 -7 1 1 1 3 1 -3 1 3 1 1 1 -1 1 -6 1 7 1 -3 1 1 1 -4 1 5 1 -5 1 5 1 -7 1 7 1 -5 1 1 1 4 1 -2 1 0 1 0 1 0 1 3 1 -3 1 -2 1 6 1 -4 1 -1 1 -1 1 -1 1 -2 1 1 1 2 1 6 1 -2 1 2 1 -1 1 -5 1 1 1 3 1 -5 1 9 1 -13 1 4 1 1 1 2 1 2 1 -1 1 -6 1 -3 1 13 1 -7 1 8 1 -4 1 0 1 -1 1 -1 1 -1 1 0 1 -3 1 9 1 -13 1 14 1 -4 1 -4 1 1 1 -1 1 0 1 4 1 -11 1 9 1 -1 1 1 1 5 1 -3 1 -1 1 4 1 -3 1 0 1 -8 1 5 1 5 1 -7 1 7 1 -7 1 4 1 -6 1 1 1 3 1 -3 1 3 1 5 1 -2 1 -5 1 3 1 -1 1 3 1 -4 1 5 1 -2 1 -2 1 -3 1 7 1 0 1 -6 1 1 1 6 1 1 1 -8 1 4 1 -5 1 -4 1 11 1 -1 1 -4 1 2 1 -1 1 2 1 -6 1 7 1 -5 1 3 1 -12 1 14 1 -6 1 4 1 1 1 1 1 -2 1 -8 1 10 1 0 1 -4 1 -3 1 -7 1 9 1 -6 1 4 1 -3 1 12 1 0 1 -6 1 1 1 -5 1 8 1 -6 1 8 1 -9 1 8 1 -2 1 2 1 -3" stroke="#008000" class="dn"/><path d="M412.1 466.6L412.1 461.7" stroke="#008000" class="dsn"/>
<path transform="matrix(0.03891 0.01387 0 -0.153 362.6 463.4)" d="M0 19 l1 1 1 0 1 -2 1 0 1 -4 1 2 1 -4 1 5 1 -7 1 9 1 -7 1 2 1 3 1 2 1 -4 1 4 1 -3 1 0 1 3 1 -2 1 5 1 -3 1 -10 1 6 1 6 1 -3 1 -2 1 5 1 1 1 -10 1 5 1 3 1 -4 1 -5 1 -1 1 7 1 4 1 -7 1 2 1 1 1 0 1 -2 1 -1 1 4 1 -4 1 0 1 -4 1 -1 1 5 1 4 1 2 1 0 1 -3 1 0 1 2 1 -2 1 -2 1 0 1 -1 1 4 1 -1 1 -3 1 0 1 -5 1 5 1 5 1 0 1 -4 1 0 1 -1 1 0 1 3 1 -1 1 3 1 -1 1 -2 1 -12 1 8 1 11 1 -8 1 -2 1 -1 1 7 1 -16 1 14 1 -7 1 6 1 1 1 2 1 -9 1 7 1 2 1 -5 1 2 1 -3 1 0 1 8 1 -8 1 8 1 -5 1 -4 1 -1 1 2 1 1 1 3 1 -14 1 14 1 1 1 -4 1 -1 1 0 1 -3 1 1 1 7 1 -9 1 7 1 1 1 0 1 -3 1 3 1 1 1 -3 1 0 1 -7 1 4 1 -3 1 9 1 -2 1 0 1 3 1 -3 1 -1 1 1 1 4 1 -2 1 -3 1 6 1 -13 1 7 1 -9 1 11 1 0 1 -1 1 1 1 -4 1 -1 1 4 1 1 1 1 1 -2 1 0 1 -1 1 -2 1 4 1 -3 1 0 1 3 1 2 1 -5 1 -12 1 14 1 1 1 2 1 0 1 -5 1 -1 1 2 1 -3 1 1 1 2 1 -7 1 4 1 -1 1 -2 1 10 1 -2 1 -3 1 -4 1 5 1 2 1 0 1 -4 1 3 1 4 1 -2 1 -1 1 -3 1 5 1 -5 1 2 1 -7 1 6 1 -2 1 5 1 -18 1 13 1 2 1 3 1 -11 1 10 1 -10 1 11 1 -4 1 -1 1 3 1 -1 1 -1 1 1 1 3 1 -11 1 8 1 -2 1 -6 1 3 1 0 1 5 1 0 1 -2 1 4 1 -2 1 -1 1 1 1 1 1 -2 1 -1 1 4 1 -2 1 -3 1 -6 1 4 1 -15 1 16 1 0 1 2 1 -4 1 9 1 -6 1 6 1 -6 1 3 1 -1 1 0 1 -2 1 5 1 -1 1 -3 1 4 1 -4 1 -14 1 14 1 -3 1 -1 1 8 1 -3 1 0 1 2 1 -8 1 5 1 7 1 -10 1 1 1 -1 1 6 1 -2 1 -6 1 8 1 -5 1 4 1 2 1 4 1 -14 1 11 1 -10 1 6 1 -1 1 0 1 1 1 2 1 -1 1 -1 1 3 1 -3 1 -3 1 4 1 0 1 -3 1 4 1 0 1 -6 1 6 1 2 1 -1 1 -6 1 -1 1 8 1 -1 1 2 1 -8 1 4 1 -3 1 0 1 1 1 0 1 0 1 2 1 -3 1 4 1 -3 1 3 1 -4 1 -6 1 2 1 8 1 0 1 -1 1 0 1 0 1 -13 1 12 1 2 1 -3 1 6 1 -9 1 3 1 1 1 1 1 -7 1 5 1 3 1 -3 1 -4 1 3 1 -1 1 0 1 6 1 0 1 -4 1 2 1 -2 1 1 1 -2 1 3 1 4 1 -2 1 -5 1 2 1 0 1 0 1 -5 1 8 1 -13 1 13 1 -2 1 -4 1 -2 1 5 1 0 1 3 1 -3 1 -3 1 6 1 -2 1 1 1 0 1 -7 1 4 1 1 1 3 1 -3 1 -3 1 8 1 -2 1 -2 1 2 1 -4 1 5 1 0 1 -3 1 -3 1 4 1 -4 1 -3 1 6 1 -7 1 10 1 -3 1 1 1 0 1 -9 1 0 1 10 1 -15 1 17 1 -1 1 -2 1 -11 1 11 1 -5 1 -4 1 -2 1 13 1 -8 1 5 1 3 1 -2 1 -3 1 1 1 1 1 -2 1 5 1 -4 1 -12 1 13 1 -4 1 1 1 -19 1 20 1 4 1 -3 1 -4 1 2 1 4 1 -3 1 5 1 -12 1 5 1 2 1 -3 1 7 1 -2 1 1 1 2 1 -1 1 -4 1 5 1 2 1 -11 1 9 1 -2 1 -2 1 -3 1 8 1 -7 1 2 1 -10 1 9 1 -1 1 -2 1 -3 1 0 1 11 1 -3 1 2 1 -1 1 -14 1 16 1 -4 1 3 1 -5 1 2 1 2 1 -3 1 4 1 -3 1 4 1 -4 1 -2 1 -2 1 4 1 -2 1 -4 1 6 1 4 1 -3 1 3 1 -2 1 -5 1 -1 1 5 1 -4 1 4 1 0 1 -5 1 6 1 1 1 -1 1 -3 1 -1 1 3 1 1 1 4 1 -3 1 -8 1 6 1 -4 1 3 1 2 1 -2 1 -5 1 6 1 0 1 -6 1 6 1 -2 1 -7 1 8 1 4 1 -7 1 2 1 1 1 -1 1 3 1 1 1 -1 1 4 1 -8 1 4 1 -3 1 -7 1 4 1 0 1 7 1 -6 1 5 1 -8 1 5 1 2 1 -1 1 1 1 3 1 -4 1 2 1 -3 1 4 1 2 1 -22 1 19 1 0 1 -7 1 2 1 4 1 -1 1 -4 1 2 1 4 1 -7 1 9 1 -3 1 -5 1 1 1 3 1 -1 1 -3 1 4 1 -1 1 5 1 -8 1 6 1 1 1 -15 1 15 1 -5 1 5 1 -1 1 -4 1 0 1 2 1 -1 1 2 1 2 1 -5 1 5 1 -1 1 -9 1 1 1 10 1 -7 1 3 1 2 1 -1 1 0 1 0 1 -2 1 1 1 2 1 -8 1 7 1 -6 1 5 1 0 1 2 1 -5 1 -1 1 4 1 4 1 -14 1 4 1 8 1 -3 1 3 1 -12 1 14 1 -2 1 -6 1 0 1 6 1 -3 1 2 1 0 1 -7 1 7 1 -4 1 4 1 -1 1 -1 1 2 1 -3 1 4 1 -9 1 6 1 0 1 2 1 2 1 -10 1 7 1 -2 1 2 1 -2 1 0 1 1 1 1 1 2 1 3 1 -5 1 -7 1 9 1 -5 1 0 1 5 1 -3 1 3 1 0 1 -3 1 -2 1 3 1 -3 1 4 1 0 1 0 1 2 1 -3 1 1 1 -9 1 8 1 1 1 -8 1 11 1 -6 1 4 1 0 1 -3 1 6 1 -3 1 2 1 0 1 -6 1 3 1 -8 1 1 1 5 1 -1 1 3 1 2 1 0 1 -9 1 6 1 -7 1 11 1 -2 1 -2 1 -12 1 -4 1 10 1 -15 1 20 1 -2 1 7 1 -1 1 -4 1 0 1 -9 1 0 1 10 1 -3 1 6 1 0 1 -3 1 -2 1 1 1 -1 1 3 1 -6 1 5 1 -3 1 -2 1 4 1 5 1 -13 1 -2 1 6 1 8 1 -4 1 7 1 -4 1 1 1 -27 1 25 1 2 1 -2 1 -1 1 2 1 -4 1 -9 1 14 1 -3 1 2 1 1 1 -5 1 5 1 2 1 -4 1 -6 1 5 1 -3 1 4 1 -6 1 2 1 5 1 -2 1 3 1 -4 1 5 1 -1 1 -10 1 6 1 0 1 -3 1 3 1 -1 1 5 1 0 1 -4 1 -6 1 5 1 3 1 -4 1 1 1 4 1 -2 1 2 1 0 1 -3 1 0 1 1 1 -6 1 4 1 -3 1 -6 1 10 1 -2 1 0 1 3 1 1 1 -4 1 0 1 4 1 -1 1 1 1 -1 1 -3 1 0 1 5 1 -5 1 4 1 -5 1 4 1 -1 1 5 1 -3 1 2 1 0 1 -5 1 1 1 3 1 -5 1 5 1 1 1 -2 1 -3 1 2 1 4 1 -9 1 -2 1 4 1 5 1 0 1 -8 1 2 1 7 1 -3 1 -4 1 6 1 0 1 -2 1 1 1 -2 1 -2 1 5 1 3 1 -6 1 -1 1 0 1 0 1 8 1 -6 1 1 1 0 1 2 1 -1 1 0 1 -1 1 1 1 -11 1 8 1 -5 1 5 1 -4 1 5 1 -1 1 7 1 -5 1 0 1 1 1 0 1 -19 1 20 1 0 1 1 1 -9 1 11 1 -6 1 5 1 -6 1 3 1 -7 1 -4 1 12 1 -7 1 4 1 -1 1 0 1 1 1 3 1 0 1 -1 1 -2 1 2 1 3 1 -1 1 2 1 1 1 0 1 1 1 -4 1 2 1 -5 1 6 1 -8 1 11 1 0 1 0 1 -4 1 -15 1 14 1 5 1 -3 1 1 1 -1 1 -6 1 9 1 4 1 0 1 2 1 -3 1 -2 1 3 1 -3 1 1 1 8 1 -6 1 -6 1 7 1 1 1 -3 1 1 1 -8 1 3 1 4 1 -8 1 8 1 -7 1 6 1 -1 1 -3 1 -1 1 -3 1 5 1 1 1 -5 1 -4 1 4 1 -1 1 -2 1 0 1 0 1 4 1 1 1 -2 1 -2 1 -2 1 6 1 -6 1 1 1 -1 1 5 1 -2 1 1 1 -6 1 7 1 -6 1 0 1 -2 1 0 1 1 1 0 1 -1 1 5 1 -2 1 -1 1 2 1 1 1 0 1 -2 1 3 1 -10 1 12 1 -6 1 0 1 2 1 -1 1 5 1 -6 1 4 1 -7 1 2 1 -3 1 7 1 -2 1 -1 1 1 1 -4 1 6 1 -2 1 -4 1 6 1 -5 1 -3 1 10 1 -7 1 3 1 1 1 -6 1 -8 1 13 1 1 1 1 1 -5 1 4 1 -7 1 5 1 -1 1 0 1 4 1 -7 1 6 1 -4 1 3 1 0 1 4 1 -11 1 5 1 0 1 5 1 -5 1 5 1 -5 1 2 1 0 1 -1 1 0 1 -3 1 -1 1 4 1 3 1 -5 1 1 1 -2 1 2 1 4 1 -7 1 4 1 -10 1 5 1 3 1 5 1 -1 1 -3 1 6 1 -6 1 2 1 1 1 -4 1 0 1 -1 1 5 1 0 1 -14 1 12 1 5 1 -3 1 -8 1 8 1 0 1 -3 1 -5 1 10 1 -7 1 4 1 -1 1 -3 1 3 1 4 1 0 1 -3 1 0 1 -5 1 4 1 0 1 -2 1 -1 1 5 1 -3 1 0 1 1 1 -3 1 4 1 -2 1 4 1 -6 1 -2 1 8 1 -3 1 -1 1 3 1 -4 1 1 1 1 1 0 1 3 1 -7 1 -6 1 13 1 -2 1 3 1 -8 1 0 1 6 1 2 1 -3 1 0 1 3 1 -3 1 -1 1 2 1 -6 1 -4 1 10 1 -2 1 -4 1 0 1 1 1 4 1 1 1 -4 1 6 1 -1 1 -2 1 -7 1 4 1 -3 1 4 1 -9 1 12 1 1 1 -5 1 -5 1 5 1 -7 1 12 1 1 1 -1 1 -8 1 4 1 -8 1 13 1 -4 1 4 1 -2 1 -2 1 1 1 3 1 -17 1 7 1 6 1 -14 1 8 1 0 1 8 1 -3 1 2 1 -2 1 -1 1 5 1 -10 1 9 1 -5 1 -4 1 6 1 0 1 -10 1 5 1 6 1 -3 1 -1 1 7 1 -1 1 -2 1 -5 1 7 1 -11 1 7 1 1 1 -6 1 9 1 -11 1 11 1 -2 1 -1 1 0 1 -3 1 4 1 -2 1 -1 1 0 1 -3 1 -6 1 15 1 -2 1 -6 1 7 1 -4 1 6 1 -10 1 5 1 0 1 0 1 4 1 0 1 -4 1 3 1 -10 1 1 1 7 1 -1 1 -9 1 5 1 1 1 2 1 -2 1 4 1 -8 1 6 1 -2 1 7 1 -2 1 1 1 0 1 -22 1 22 1 -1 1 -2 1 6 1 -10 1 9 1 -7 1 -5 1 5 1 1 1 3 1 -2 1 5 1 -2 1 -6 1 2 1 4 1 -1 1 1 1 2 1 -2 1 -1 1 -8 1 7 1 0 1 -2 1 4 1 -2 1 0 1 -9 1 11 1 -8 1 7 1 -4 1 5 1 -4 1 3 1 2 1 -5 1 6 1 -5 1 -1 1 -1 1 4 1 -2 1 3 1 1 1 -1 1 0 1 1 1 -8 1 3 1 2 1 1 1 -12 1 11 1 2 1 1 1 -5 1 3 1 0 1 1 1 -4 1 1 1 1 1 -2 1 -1 1 6 1 -3 1 2 1 -1 1 -2 1 5 1 -14 1 11 1 2 1 -4 1 6 1 1 1 -9 1 -8 1 11 1 2 1 -7 1 -7 1 11 1 2 1 -5 1 4 1 -8 1 9 1 -2 1 -3 1 -5 1 6 1 6 1 -4 1 4 1 -4 1 -2 1 1 1 4 1 -1 1 1 1 -4 1 2 1 0 1 2 1 -26 1 27 1 1 1 -6 1 -3 1 0 1 0 1 3 1 0 1 3 1 0 1 -4 1 -5 1 3 1 4 1 2 1 -3 1 -9 1 8 1 3 1 2 1 -1 1 3 1 -9 1 7 1 1 1 -5 1 2 1 -3 1 7 1 -6 1 4 1 1 1 -2 1 1 1 4 1 -5 1 -3 1 -2 1 2 1 4 1 2 1 -6 1 4 1 -4 1 -7 1 11 1 3 1 -3 1 -10 1 12 1 -8 1 2 1 2 1 -8 1 -2 1 12 1 0 1 1 1 -8 1 7 1 -8 1 2 1 -5 1 10 1 3 1 -4 1 5 1 -2 1 -2 1 -9 1 10 1 -7 1 12 1 -5 1 -8 1 7 1 -1 1 -2 1 1 1 -1 1 -3 1 3 1 1 1 -3 1 7 1 -3 1 -5 1 7 1 -11 1 8 1 -1 1 3 1 -4 1 2 1 2 1 -15 1 12 1 2 1 -3 1 4 1 3 1 -18 1 12 1 6 1 -7 1 3 1 1 1 -8 1 11 1 0 1 -3 1 1 1 2 1 -6 1 1 1 -3 1 1 1 -5 1 0 1 9 1 -4 1 6 1 -1 1 -5 1 1 1 1 1 2 1 -9 1 5 1 4 1 -3 1 4 1 1 1 0 1 -3 1 1 1 3 1 -6 1 -4 1 9 1 -10 1 1 1 6 1 -1 1 0 1 -1 1 2 1 0 1 -4 1 1 1 2 1 5 1 -2 1 0 1 -1 1 -5 1 8 1 -7 1 4 1 -11 1 11 1 0 1 -1 1 -3 1 6 1 -14 1 15 1 -6 1 6 1 -2 1 1 1 -9 1 7 1 -5 1 3 1 7 1 -3 1 -4 1 -2 1 3 1 -4 1 2 1 4 1 2 1 -7 1 1 1 2 1 -4 1 5 1 -3 1 2 1 4 1 -4 1 3 1 0 1 -6 1 1 1 1 1 4 1 -5 1 0 1 -7 1 7 1 -6 1 6 1 -8 1 5 1 -1 1 7 1 0 1 -3 1 4 1 1 1 -3 1 3 1 -9 1 2 1 9 1 -8 1 2 1 4 1 -5 1 1 1 -4 1 5 1 0 1 -1 1 1 1 4 1 1 1 -18 1 14 1 -1 1 4 1 -9 1 8 1 -9 1 3 1 -13 1 20 1 -9 1 -6 1 14 1 1 1 0 1 -5 1 -2 1 -2 1 2 1 8 1 -5 1 4 1 -15 1 15 1 -11 1 0 1 9 1 -1 1 -2 1 1 1 -6 1 5 1 5 1 -5 1 -3 1 7 1 -3 1 6 1 -9 1 1 1 2 1 -1 1 1 1 -6 1 4 1 -1 1 4 1 -4 1 5 1 -1 1 -2 1 3 1 -10 1 3 1 7 1 -9 1 8 1 -6 1 3 1 6 1 -8 1 5 1 -4 1 9 1 -3 1 0 1 -13 1 5 1 5 1 -2 1 -1 1 3 1 0 1 3 1 1 1 -15 1 15 1 -4 1 6 1 -10 1 3 1 3 1 -2 1 -2 1 2 1 -11 1 4 1 8 1 -8 1 1 1 6 1 -2 1 0 1 0 1 4 1 -2 1 5 1 -5 1 -4 1 4 1 1 1 -4 1 7 1 -1 1 -9 1 0 1 6 1 4 1 -2 1 -4 1 -1 1 -2 1 8 1 1 1 -3 1 -2 1 -1 1 4 1 -3 1 4 1 -14 1 14 1 -1 1 -5 1 -1 1 -4 1 10 1 0 1 -2 1 4 1 -5 1 0 1 -9 1 12 1 0 1 -2 1 2 1 -4 1 -10 1 14 1 -8 1 -3 1 12 1 -5 1 4 1 -3 1 -10 1 12 1 1 1 0 1 2 1 -1 1 -15 1 16 1 -3 1 -7 1 -1 1 2 1 3 1 2 1 -2 1 0 1 3 1 3 1 -8 1 5 1 -1 1 -4 1 1 1 -9 1 13 1 -2 1 3 1 -6 1 1 1 -7 1 3 1 5 1 2 1 -1 1 -4 1 4 1 -8 1 4 1 6 1 0 1 1 1 -5 1 0 1 -3 1 5 1 3 1 0 1 0 1 -6 1 4 1 -7 1 4 1 3 1 4 1 -9 1 2 1 0 1 6 1 -4 1 1 1 5 1 -4 1 -12 1 8 1 1 1 0 1 3 1 0 1 2 1 -1 1 -6 1 6 1 -2 1 2 1 -6 1 7 1 -1 1 -7 1 6 1 0 1 -5 1 9 1 -10 1 -1 1 1 1 3 1 -7 1 1 1 9 1 -6 1 6 1 3 1 -1 1 1 1 -1 1 -1 1 -8 1 1 1 1 1 2 1 3 1 -4 1 -7 1 15 1 -3 1 1" stroke="#0000ff" class="dn"/><path d="M397.6 471.4L397.6 469" stroke="#0000ff" class="dsn"/>
<g class="tk"><text x="360" y="495.4" text-anchor="end">-200</text><text x="360" y="480.1" text-anchor="end">-100</text><text x="360" y="464.8" text-anchor="end">0</text><text x="360" y="449.5" text-anchor="end">100</text><text transform="translate(366.9 502.5) scale(0.8 1)" text-anchor="end">-0.4</text><text transform="translate(380.9 507.49) scale(0.8 1)" text-anchor="end">-0.2</text><text transform="translate(394.9 512.48) scale(0.8 1)" text-anchor="end">0</text><text transform="translate(408.9 517.46) scale(0.8 1)" text-anchor="end">0.2</text><text transform="translate(422.9 522.46) scale(0.8 1)" text-anchor="end">0.4</text><text class="sl" transform="translate(435.1 524.55) scale(0.78 1)">CML</text><text class="sl" transform="translate(449.42 517.19) scale(0.78 1)">MCML</text><text class="sl" transform="translate(463.74 509.83) scale(0.78 1)">DCML</text><text class="sl" transform="translate(478.06 502.48) scale(0.78 1)">MDCML</text><text class="sl" transform="translate(492.38 495.12) scale(0.78 1)">BCML</text></g>
<text class="al" transform="translate(350 471.1) rotate(-90)" text-anchor="middle">Power (dB)</text>
<text class="al" transform="translate(389.2 519.3) rotate(19.7)" text-anchor="middle">Frequency (Hz)</text>
<text class="cap" y="541.4"><tspan x="384.16" font-weight="bold" font-size="9.2">(l)</tspan><tspan x="397.84" font-style="italic">μ</tspan><tspan x="407.14" class="eq" textLength="6.1" lengthAdjust="spacingAndGlyphs">=</tspan><tspan x="417.14" textLength="18.4" lengthAdjust="spacingAndGlyphs">3.99,</tspan><tspan x="437.14" font-style="italic">e</tspan><tspan x="445.44" class="eq" textLength="6.4" lengthAdjust="spacingAndGlyphs">=</tspan><tspan x="454.04" textLength="11.6" lengthAdjust="spacingAndGlyphs">0.9</tspan></text>
</g>
</svg>
</body></html>
